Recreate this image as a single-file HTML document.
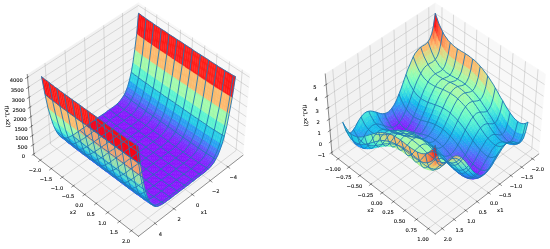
<!DOCTYPE html><html><head><meta charset="utf-8"><title>Six-hump camel function surfaces</title><style>html,body{margin:0;padding:0;background:#fff;width:550px;height:249px;overflow:hidden}svg{display:block}text{stroke:#000;stroke-width:0.32px}</style></head><body><svg width="550" height="249" viewBox="0 0 2200 996" font-family="'DejaVu Sans', 'Liberation Sans', sans-serif" stroke-linejoin="round"><g stroke-width="1.2"><path fill="#ffffff" stroke="#ffffff" d="M0 0l2200 0 0 996-2200 0zM68 4l947 0 0 947-947 0z"/></g><path fill="#f2f2f2" stroke="#f2f2f2" stroke-width="2.15" stroke-linejoin="miter" opacity="0.5" d="M554 334l418 287 27-323-445-287"/><path fill="#e6e6e6" stroke="#e6e6e6" stroke-width="2.15" stroke-linejoin="miter" opacity="0.5" d="M554 334l-418 287-27-323 445-287"/><path fill="#ececec" stroke="#ececec" stroke-width="2.15" stroke-linejoin="miter" opacity="0.5" d="M554 334l-418 287 418 324 418-324"/><path fill="none" stroke="#b0b0b0" stroke-width="1.72" d="M912 668l-418-293-4-323M841 722l-418-298-8-323M769 778l-418-304-13-324M695 835l-418-311-17-323M620 893l-418-317-22-324M581 28l-2 323-418 290M627 58l-4 323-418 294M674 89l-7 323-418 297M722 119l-10 323-418 301M770 150l-13 324-418 304M819 182l-16 323-418 309M868 214l-19 323-418 313M918 246l-22 323-418 317M969 279l-25 323-418 321M136 615l418-288 418 288M133 579l421-288 421 288M130 542l424-288 424 288M126 505l428-288 428 288M123 467l431-288 431 288M120 428l434-287 434 287M117 389l437-287 437 287M113 349l441-287 441 287M110 309l444-287 444 287"/><path fill="none" stroke="#000000" stroke-width="1.72" stroke-linecap="square" d="M972 621l-418 324M908 665l11 8"/><text x="933" y="717" font-size="20.64" text-anchor="middle">−4</text><path fill="none" stroke="#000000" stroke-width="1.72" stroke-linecap="square" d="M838 720l10 8"/><text x="863" y="771" font-size="20.64" text-anchor="middle">−2</text><path fill="none" stroke="#000000" stroke-width="1.72" stroke-linecap="square" d="M766 776l10 7"/><text x="791" y="828" font-size="20.64" text-anchor="middle">0</text><path fill="none" stroke="#000000" stroke-width="1.72" stroke-linecap="square" d="M692 833l11 7"/><text x="717" y="885" font-size="20.64" text-anchor="middle">2</text><path fill="none" stroke="#000000" stroke-width="1.72" stroke-linecap="square" d="M617 891l10 8"/><text x="642" y="943" font-size="20.64" text-anchor="middle">4</text><text x="816" y="854" font-size="20.64" text-anchor="middle">x1</text><path fill="none" stroke="#000000" stroke-width="1.72" stroke-linecap="square" d="M136 621l418 324M165 638l-11 8"/><text x="140" y="689" font-size="20.64" text-anchor="middle">−2.0</text><path fill="none" stroke="#000000" stroke-width="1.72" stroke-linecap="square" d="M208 672l-10 8"/><text x="184" y="723" font-size="20.64" text-anchor="middle">−1.5</text><path fill="none" stroke="#000000" stroke-width="1.72" stroke-linecap="square" d="M253 706l-11 8"/><text x="228" y="758" font-size="20.64" text-anchor="middle">−1.0</text><path fill="none" stroke="#000000" stroke-width="1.72" stroke-linecap="square" d="M297 741l-10 7"/><text x="272" y="792" font-size="20.64" text-anchor="middle">−0.5</text><path fill="none" stroke="#000000" stroke-width="1.72" stroke-linecap="square" d="M342 776l-10 7"/><text x="317" y="828" font-size="20.64" text-anchor="middle">0.0</text><path fill="none" stroke="#000000" stroke-width="1.72" stroke-linecap="square" d="M388 811l-10 8"/><text x="363" y="863" font-size="20.64" text-anchor="middle">0.5</text><path fill="none" stroke="#000000" stroke-width="1.72" stroke-linecap="square" d="M435 847l-11 8"/><text x="409" y="899" font-size="20.64" text-anchor="middle">1.0</text><path fill="none" stroke="#000000" stroke-width="1.72" stroke-linecap="square" d="M482 883l-11 8"/><text x="456" y="936" font-size="20.64" text-anchor="middle">1.5</text><path fill="none" stroke="#000000" stroke-width="1.72" stroke-linecap="square" d="M529 920l-10 8"/><text x="504" y="973" font-size="20.64" text-anchor="middle">2.0</text><text x="292" y="854" font-size="20.64" text-anchor="middle">x2</text><path fill="none" stroke="#000000" stroke-width="1.72" stroke-linecap="square" d="M136 621l-27-323M139 613l-10 7"/><text x="94" y="633" font-size="20.64" text-anchor="middle">0</text><path fill="none" stroke="#000000" stroke-width="1.72" stroke-linecap="square" d="M136 577l-11 7"/><text x="90" y="597" font-size="20.64" text-anchor="middle">500</text><path fill="none" stroke="#000000" stroke-width="1.72" stroke-linecap="square" d="M133 540l-11 7"/><text x="87" y="560" font-size="20.64" text-anchor="middle">1000</text><path fill="none" stroke="#000000" stroke-width="1.72" stroke-linecap="square" d="M130 502l-11 8"/><text x="84" y="523" font-size="20.64" text-anchor="middle">1500</text><path fill="none" stroke="#000000" stroke-width="1.72" stroke-linecap="square" d="M127 464l-11 8"/><text x="80" y="485" font-size="20.64" text-anchor="middle">2000</text><path fill="none" stroke="#000000" stroke-width="1.72" stroke-linecap="square" d="M124 426l-11 7"/><text x="76" y="446" font-size="20.64" text-anchor="middle">2500</text><path fill="none" stroke="#000000" stroke-width="1.72" stroke-linecap="square" d="M120 387l-11 7"/><text x="73" y="407" font-size="20.64" text-anchor="middle">3000</text><path fill="none" stroke="#000000" stroke-width="1.72" stroke-linecap="square" d="M117 347l-11 7"/><text x="69" y="367" font-size="20.64" text-anchor="middle">3500</text><path fill="none" stroke="#000000" stroke-width="1.72" stroke-linecap="square" d="M114 307l-12 7"/><text x="65" y="327" font-size="20.64" text-anchor="middle">4000</text><text x="23" y="467" font-size="20.64" text-anchor="middle" transform="rotate(-274.81 23 467)">f(x1, x2)</text><g stroke-width="1.2" fill-opacity="0.9" stroke-opacity="0.9"><path fill="#6629fe" stroke="#6629fe" d="M497 397l-8 10-7-6 7-10z"/><path fill="#5c38fd" stroke="#5c38fd" d="M504 385l-7 12-8-6 8-12z"/><path fill="#6e1cff" stroke="#6e1cff" d="M489 407l-7 8-7-6 7-8z"/><path fill="#7413ff" stroke="#7413ff" d="M482 415l-7 7-7-6 7-7z"/><path fill="#4a53fb" stroke="#4a53fb" d="M511 369l-7 16-7-6 7-15z"/><path fill="#6826fe" stroke="#6826fe" d="M504 402l-8 10-7-5 8-10z"/><path fill="#5c38fd" stroke="#5c38fd" d="M511 390l-7 12-7-5 7-12z"/><path fill="#7019ff" stroke="#7019ff" d="M496 412l-7 8-7-5 7-8z"/><path fill="#7610ff" stroke="#7610ff" d="M475 422l-7 6-7-6 7-6z"/><path fill="#7413ff" stroke="#7413ff" d="M489 420l-7 7-7-5 7-7z"/><path fill="#4c50fc" stroke="#4c50fc" d="M518 375l-7 15-7-5 7-16z"/><path fill="#6a22fe" stroke="#6a22fe" d="M511 408l-7 10-8-6 8-10z"/><path fill="#5e35fe" stroke="#5e35fe" d="M518 396l-7 12-7-6 7-12z"/><path fill="#7216ff" stroke="#7216ff" d="M504 418l-8 8-7-6 7-8z"/><path fill="#3176f8" stroke="#3176f8" d="M518 350l-7 19-7-5 7-19z"/><path fill="#780dff" stroke="#780dff" d="M468 428l-8 6-7-6 8-6zM482 427l-7 7-7-6 7-6z"/><path fill="#7610ff" stroke="#7610ff" d="M496 426l-7 7-7-6 7-7z"/><path fill="#4c50fc" stroke="#4c50fc" d="M525 381l-7 15-7-6 7-15z"/><path fill="#6a22fe" stroke="#6a22fe" d="M518 413l-7 10-7-5 7-10z"/><path fill="#5e35fe" stroke="#5e35fe" d="M525 401l-7 12-7-5 7-12z"/><path fill="#7216ff" stroke="#7216ff" d="M511 423l-7 8-8-5 8-8z"/><path fill="#3473f8" stroke="#3473f8" d="M525 356l-7 19-7-6 7-19z"/><path fill="#7a09ff" stroke="#7a09ff" d="M475 434l-8 5-7-5 8-6zM460 434l-7 5-7-6 7-5zM489 433l-7 6-7-5 7-7z"/><path fill="#7610ff" stroke="#7610ff" d="M504 431l-8 7-7-5 7-7z"/><path fill="#4e4dfc" stroke="#4e4dfc" d="M532 386l-7 15-7-5 7-15z"/><path fill="#6a22fe" stroke="#6a22fe" d="M525 419l-7 10-7-6 7-10z"/><path fill="#6032fe" stroke="#6032fe" d="M532 407l-7 12-7-6 7-12z"/><path fill="#7216ff" stroke="#7216ff" d="M518 429l-7 8-7-6 7-8z"/><path fill="#3473f8" stroke="#3473f8" d="M532 361l-7 20-7-6 7-19z"/><path fill="#7a09ff" stroke="#7a09ff" d="M482 439l-7 6-8-6 8-5zM467 439l-7 6-7-6 7-5zM496 438l-7 7-7-6 7-6zM453 439l-7 5-7-6 7-5z"/><path fill="#780dff" stroke="#780dff" d="M511 437l-8 7-7-6 8-7z"/><path fill="#11a0f1" stroke="#11a0f1" d="M525 326l-7 24-7-5 7-25z"/><path fill="#4e4dfc" stroke="#4e4dfc" d="M540 391l-8 16-7-6 7-15z"/><path fill="#6c1fff" stroke="#6c1fff" d="M532 424l-7 10-7-5 7-10z"/><path fill="#6032fe" stroke="#6032fe" d="M540 412l-8 12-7-5 7-12z"/><path fill="#7413ff" stroke="#7413ff" d="M525 434l-7 8-7-5 7-8z"/><path fill="#3670f8" stroke="#3670f8" d="M540 367l-8 19-7-5 7-20z"/><path fill="#7c06ff" stroke="#7c06ff" d="M489 445l-7 5-7-5 7-6zM475 445l-8 5-7-5 7-6z"/><path fill="#7a09ff" stroke="#7a09ff" d="M460 445l-7 5-7-6 7-5zM503 444l-7 6-7-5 7-7zM446 444l-8 5-7-6 8-5z"/><path fill="#780dff" stroke="#780dff" d="M518 442l-7 7-8-5 8-7z"/><path fill="#11a0f1" stroke="#11a0f1" d="M532 331l-7 25-7-6 7-24z"/><path fill="#4e4dfc" stroke="#4e4dfc" d="M547 397l-7 15-8-5 8-16z"/><path fill="#6c1fff" stroke="#6c1fff" d="M540 429l-8 10-7-5 7-10z"/><path fill="#6032fe" stroke="#6032fe" d="M547 417l-7 12-8-5 8-12z"/><path fill="#7413ff" stroke="#7413ff" d="M532 439l-7 9-7-6 7-8z"/><path fill="#3670f8" stroke="#3670f8" d="M547 372l-7 19-8-5 8-19z"/><path fill="#7c06ff" stroke="#7c06ff" d="M482 450l-8 6-7-6 8-5zM496 450l-7 6-7-6 7-5zM467 450l-7 5-7-5 7-5zM511 449l-8 6-7-5 7-6z"/><path fill="#7a09ff" stroke="#7a09ff" d="M453 450l-7 5-8-6 8-5zM438 449l-7 5-7-5 7-6z"/><path fill="#149df1" stroke="#149df1" d="M540 337l-8 24-7-5 7-25z"/><path fill="#780dff" stroke="#780dff" d="M525 448l-7 7-7-6 7-7z"/><path fill="#504afc" stroke="#504afc" d="M554 402l-7 15-7-5 7-15z"/><path fill="#6c1fff" stroke="#6c1fff" d="M547 435l-7 10-8-6 8-10z"/><path fill="#6032fe" stroke="#6032fe" d="M554 423l-7 12-7-6 7-12z"/><path fill="#7413ff" stroke="#7413ff" d="M540 445l-8 8-7-5 7-9z"/><path fill="#3670f8" stroke="#3670f8" d="M554 377l-7 20-7-6 7-19z"/><path fill="#7e03ff" stroke="#7e03ff" d="M489 456l-7 5-8-5 8-6z"/><path fill="#7c06ff" stroke="#7c06ff" d="M503 455l-7 6-7-5 7-6zM474 456l-7 5-7-6 7-5zM460 455l-7 5-7-5 7-5zM518 455l-7 6-8-6 8-6zM446 455l-8 5-7-6 7-5z"/><path fill="#7a09ff" stroke="#7a09ff" d="M431 454l-7 5-7-5 7-5z"/><path fill="#149df1" stroke="#149df1" d="M547 342l-7 25-8-6 8-24z"/><path fill="#7a09ff" stroke="#7a09ff" d="M532 453l-7 7-7-5 7-7z"/><path fill="#504afc" stroke="#504afc" d="M561 407l-7 16-7-6 7-15z"/><path fill="#6c1fff" stroke="#6c1fff" d="M554 440l-7 10-7-5 7-10z"/><path fill="#622ffe" stroke="#622ffe" d="M561 428l-7 12-7-5 7-12z"/><path fill="#7413ff" stroke="#7413ff" d="M547 450l-7 8-8-5 8-8z"/><path fill="#386df9" stroke="#386df9" d="M561 383l-7 19-7-5 7-20z"/><path fill="#7e03ff" stroke="#7e03ff" d="M496 461l-7 5-7-5 7-5zM482 461l-8 5-7-5 7-5zM511 461l-8 5-7-5 7-6z"/><path fill="#1dd1e2" stroke="#1dd1e2" d="M532 294l-7 32-7-6 7-31z"/><path fill="#7c06ff" stroke="#7c06ff" d="M467 461l-7 5-7-6 7-5zM525 460l-7 6-7-5 7-6zM453 460l-8 6-7-6 8-5zM438 460l-7 5-7-6 7-5z"/><path fill="#149df1" stroke="#149df1" d="M554 347l-7 25-7-5 7-25z"/><path fill="#7a09ff" stroke="#7a09ff" d="M424 459l-8 6-7-6 8-5zM540 458l-8 7-7-5 7-7z"/><path fill="#504afc" stroke="#504afc" d="M568 413l-7 15-7-5 7-16z"/><path fill="#6e1cff" stroke="#6e1cff" d="M561 445l-7 10-7-5 7-10z"/><path fill="#622ffe" stroke="#622ffe" d="M568 433l-7 12-7-5 7-12z"/><path fill="#7413ff" stroke="#7413ff" d="M554 455l-7 8-7-5 7-8z"/><path fill="#386df9" stroke="#386df9" d="M569 388l-8 19-7-5 7-19z"/><path fill="#1acfe3" stroke="#1acfe3" d="M539 300l-7 31-7-5 7-32z"/><path fill="#7e03ff" stroke="#7e03ff" d="M503 466l-7 6-7-6 7-5zM489 466l-8 6-7-6 8-5zM518 466l-8 6-7-6 8-5zM474 466l-7 5-7-5 7-5z"/><path fill="#7c06ff" stroke="#7c06ff" d="M460 466l-8 5-7-5 8-6zM532 465l-7 6-7-5 7-6zM445 466l-7 5-7-6 7-5z"/><path fill="#169bf2" stroke="#169bf2" d="M561 353l-7 24-7-5 7-25z"/><path fill="#7c06ff" stroke="#7c06ff" d="M431 465l-8 5-7-5 8-6z"/><path fill="#7a09ff" stroke="#7a09ff" d="M416 465l-7 5-7-6 7-5zM547 463l-8 7-7-5 8-7z"/><path fill="#504afc" stroke="#504afc" d="M576 418l-8 15-7-5 7-15z"/><path fill="#6e1cff" stroke="#6e1cff" d="M569 450l-8 10-7-5 7-10z"/><path fill="#622ffe" stroke="#622ffe" d="M576 438l-7 12-8-5 7-12z"/><path fill="#1acfe3" stroke="#1acfe3" d="M547 305l-7 32-8-6 7-31z"/><path fill="#7610ff" stroke="#7610ff" d="M561 460l-7 9-7-6 7-8z"/><path fill="#386df9" stroke="#386df9" d="M576 393l-8 20-7-6 8-19z"/><path fill="#7e03ff" stroke="#7e03ff" d="M510 472l-7 5-7-5 7-6zM496 472l-7 5-8-5 8-6zM525 471l-7 6-8-5 8-6zM481 472l-7 5-7-6 7-5zM467 471l-7 6-8-6 8-5z"/><path fill="#7c06ff" stroke="#7c06ff" d="M452 471l-7 5-7-5 7-5zM539 470l-7 7-7-6 7-6zM438 471l-7 5-8-6 8-5z"/><path fill="#169bf2" stroke="#169bf2" d="M569 358l-8 25-7-6 7-24z"/><path fill="#7c06ff" stroke="#7c06ff" d="M423 470l-7 5-7-5 7-5z"/><path fill="#7a09ff" stroke="#7a09ff" d="M409 470l-7 5-8-6 8-5zM554 469l-7 7-8-6 8-7z"/><path fill="#504afc" stroke="#504afc" d="M583 423l-7 15-8-5 8-15z"/><path fill="#6e1cff" stroke="#6e1cff" d="M576 456l-7 10-8-6 8-10z"/><path fill="#18cde4" stroke="#18cde4" d="M554 311l-7 31-7-5 7-32z"/><path fill="#622ffe" stroke="#622ffe" d="M583 443l-7 13-7-6 7-12z"/><path fill="#7610ff" stroke="#7610ff" d="M569 466l-8 8-7-5 7-9z"/><path fill="#386df9" stroke="#386df9" d="M583 398l-7 20-8-5 8-20z"/><path fill="#8000ff" stroke="#8000ff" d="M518 477l-8 5-7-5 7-5zM503 477l-7 5-7-5 7-5z"/><path fill="#7e03ff" stroke="#7e03ff" d="M489 477l-8 5-7-5 7-5zM532 477l-7 5-7-5 7-6zM474 477l-7 5-7-5 7-6zM460 477l-8 5-7-6 7-5zM547 476l-8 6-7-5 7-7zM445 476l-7 5-7-5 7-5z"/><path fill="#169bf2" stroke="#169bf2" d="M576 363l-7 25-8-5 8-25z"/><path fill="#7c06ff" stroke="#7c06ff" d="M431 476l-8 5-7-6 7-5zM416 475l-7 6-7-6 7-5z"/><path fill="#7a09ff" stroke="#7a09ff" d="M402 475l-8 5-7-6 7-5zM561 474l-7 7-7-5 7-7z"/><path fill="#504afc" stroke="#504afc" d="M590 428l-7 15-7-5 7-15z"/><path fill="#6e1cff" stroke="#6e1cff" d="M583 461l-7 10-7-5 7-10z"/><path fill="#18cde4" stroke="#18cde4" d="M561 316l-7 31-7-5 7-31z"/><path fill="#622ffe" stroke="#622ffe" d="M590 449l-7 12-7-5 7-13z"/><path fill="#386df9" stroke="#386df9" d="M590 404l-7 19-7-5 7-20z"/><path fill="#7610ff" stroke="#7610ff" d="M576 471l-7 8-8-5 8-8z"/><path fill="#8000ff" stroke="#8000ff" d="M510 482l-7 6-7-6 7-5zM525 482l-7 6-8-6 8-5zM496 482l-7 6-8-6 8-5z"/><path fill="#7e03ff" stroke="#7e03ff" d="M539 482l-7 6-7-6 7-5zM481 482l-7 5-7-5 7-5zM467 482l-8 5-7-5 8-5zM452 482l-7 5-7-6 7-5zM554 481l-7 6-8-5 8-6zM438 481l-8 6-7-6 8-5z"/><path fill="#1898f2" stroke="#1898f2" d="M583 369l-7 24-7-5 7-25z"/><path fill="#7c06ff" stroke="#7c06ff" d="M423 481l-7 5-7-5 7-6zM409 481l-8 5-7-6 8-5z"/><path fill="#7a09ff" stroke="#7a09ff" d="M394 480l-7 5-7-5 7-6zM569 479l-8 7-7-5 7-7z"/><path fill="#504afc" stroke="#504afc" d="M598 433l-8 16-7-6 7-15z"/><path fill="#6e1cff" stroke="#6e1cff" d="M590 466l-7 10-7-5 7-10z"/><path fill="#17cbe4" stroke="#17cbe4" d="M569 322l-8 31-7-6 7-31z"/><path fill="#622ffe" stroke="#622ffe" d="M598 454l-8 12-7-5 7-12z"/><path fill="#386df9" stroke="#386df9" d="M598 409l-8 19-7-5 7-19z"/><path fill="#7610ff" stroke="#7610ff" d="M583 476l-7 8-7-5 7-8z"/><path fill="#8000ff" stroke="#8000ff" d="M518 488l-8 5-7-5 7-6zM532 488l-7 5-7-5 7-6z"/><path fill="#56f7ca" stroke="#56f7ca" d="M539 255l-7 39-7-5 7-40z"/><path fill="#8000ff" stroke="#8000ff" d="M503 488l-7 5-7-5 7-6zM489 488l-8 5-7-6 7-5z"/><path fill="#7e03ff" stroke="#7e03ff" d="M547 487l-8 6-7-5 7-6zM474 487l-7 6-8-6 8-5zM459 487l-7 5-7-5 7-5zM445 487l-7 5-8-5 8-6zM561 486l-7 6-7-5 7-6zM430 487l-7 5-7-6 7-5z"/><path fill="#1898f2" stroke="#1898f2" d="M590 374l-7 24-7-5 7-24z"/><path fill="#7c06ff" stroke="#7c06ff" d="M416 486l-8 6-7-6 8-5zM401 486l-7 5-7-6 7-5z"/><path fill="#7a09ff" stroke="#7a09ff" d="M387 485l-8 6-7-6 8-5zM576 484l-7 7-8-5 8-7z"/><path fill="#5247fc" stroke="#5247fc" d="M605 438l-7 16-8-5 8-16z"/><path fill="#17cbe4" stroke="#17cbe4" d="M576 327l-7 31-8-5 8-31z"/><path fill="#6e1cff" stroke="#6e1cff" d="M598 471l-8 10-7-5 7-10z"/><path fill="#54f6cb" stroke="#54f6cb" d="M547 260l-8 40-7-6 7-39z"/><path fill="#622ffe" stroke="#622ffe" d="M605 459l-7 12-8-5 8-12z"/><path fill="#386df9" stroke="#386df9" d="M605 414l-7 19-8-5 8-19z"/><path fill="#8000ff" stroke="#8000ff" d="M525 493l-7 5-8-5 8-5z"/><path fill="#7610ff" stroke="#7610ff" d="M590 481l-7 8-7-5 7-8z"/><path fill="#8000ff" stroke="#8000ff" d="M510 493l-7 5-7-5 7-5zM539 493l-7 5-7-5 7-5zM496 493l-8 5-7-5 8-5zM481 493l-7 5-7-5 7-6zM554 492l-7 6-8-5 8-6z"/><path fill="#7e03ff" stroke="#7e03ff" d="M467 493l-8 5-7-6 7-5zM452 492l-7 6-7-6 7-5zM438 492l-8 5-7-5 7-5zM569 491l-8 7-7-6 7-6zM423 492l-7 5-8-5 8-6z"/><path fill="#1898f2" stroke="#1898f2" d="M598 379l-8 25-7-6 7-24z"/><path fill="#7c06ff" stroke="#7c06ff" d="M408 492l-7 5-7-6 7-5zM394 491l-8 5-7-5 8-6z"/><path fill="#7a09ff" stroke="#7a09ff" d="M583 489l-7 7-7-5 7-7zM379 491l-7 5-7-6 7-5z"/><path fill="#5247fc" stroke="#5247fc" d="M612 444l-7 15-7-5 7-16z"/><path fill="#17cbe4" stroke="#17cbe4" d="M583 332l-7 31-7-5 7-31z"/><path fill="#6e1cff" stroke="#6e1cff" d="M605 476l-7 10-8-5 8-10z"/><path fill="#54f6cb" stroke="#54f6cb" d="M554 266l-7 39-8-5 8-40z"/><path fill="#622ffe" stroke="#622ffe" d="M612 464l-7 12-7-5 7-12z"/><path fill="#396bf9" stroke="#396bf9" d="M612 419l-7 19-7-5 7-19z"/><path fill="#8000ff" stroke="#8000ff" d="M532 498l-7 6-7-6 7-5zM518 498l-8 5-7-5 7-5zM547 498l-8 6-7-6 7-5z"/><path fill="#7610ff" stroke="#7610ff" d="M598 486l-8 9-7-6 7-8z"/><path fill="#8000ff" stroke="#8000ff" d="M503 498l-7 5-8-5 8-5zM488 498l-7 5-7-5 7-5zM474 498l-8 5-7-5 8-5zM561 498l-7 5-7-5 7-6z"/><path fill="#7e03ff" stroke="#7e03ff" d="M459 498l-7 5-7-5 7-6zM445 498l-8 5-7-6 8-5zM430 497l-7 6-7-6 7-5zM576 496l-7 7-8-5 8-7zM416 497l-8 5-7-5 7-5z"/><path fill="#1898f2" stroke="#1898f2" d="M605 384l-7 25-8-5 8-25z"/><path fill="#7c06ff" stroke="#7c06ff" d="M401 497l-8 5-7-6 8-5zM386 496l-7 6-7-6 7-5z"/><path fill="#7a09ff" stroke="#7a09ff" d="M590 495l-7 7-7-6 7-7zM372 496l-8 5-7-6 8-5z"/><path fill="#5247fc" stroke="#5247fc" d="M620 449l-8 15-7-5 7-15z"/><path fill="#17cbe4" stroke="#17cbe4" d="M591 337l-8 32-7-6 7-31z"/><path fill="#52f5cb" stroke="#52f5cb" d="M561 271l-7 40-7-6 7-39z"/><path fill="#6e1cff" stroke="#6e1cff" d="M612 482l-7 10-7-6 7-10z"/><path fill="#622ffe" stroke="#622ffe" d="M620 469l-8 13-7-6 7-12z"/><path fill="#396bf9" stroke="#396bf9" d="M620 424l-8 20-7-6 7-19z"/><path fill="#8000ff" stroke="#8000ff" d="M539 504l-7 5-7-5 7-6zM525 504l-8 5-7-6 8-5zM510 503l-7 6-7-6 7-5zM554 503l-7 6-8-5 8-6z"/><path fill="#7610ff" stroke="#7610ff" d="M605 492l-7 8-8-5 8-9z"/><path fill="#8000ff" stroke="#8000ff" d="M496 503l-8 6-7-6 7-5zM481 503l-7 6-8-6 8-5zM466 503l-7 5-7-5 7-5zM569 503l-8 6-7-6 7-5zM452 503l-8 5-7-5 8-5z"/><path fill="#7e03ff" stroke="#7e03ff" d="M437 503l-7 5-7-5 7-6zM423 503l-8 5-7-6 8-5zM583 502l-7 6-7-5 7-7z"/><path fill="#1898f2" stroke="#1898f2" d="M612 389l-7 25-7-5 7-25z"/><path fill="#7e03ff" stroke="#7e03ff" d="M408 502l-7 6-8-6 8-5z"/><path fill="#7c06ff" stroke="#7c06ff" d="M393 502l-7 5-7-5 7-6zM379 502l-8 5-7-6 8-5z"/><path fill="#7a09ff" stroke="#7a09ff" d="M598 500l-7 7-8-5 7-7zM364 501l-7 5-7-6 7-5z"/><path fill="#5247fc" stroke="#5247fc" d="M627 454l-7 15-8-5 8-15z"/><path fill="#52f5cb" stroke="#52f5cb" d="M569 276l-8 40-7-5 7-40z"/><path fill="#17cbe4" stroke="#17cbe4" d="M598 342l-8 32-7-5 8-32z"/><path fill="#6e1cff" stroke="#6e1cff" d="M620 487l-8 10-7-5 7-10z"/><path fill="#622ffe" stroke="#622ffe" d="M627 474l-7 13-8-5 8-13z"/><path fill="#8000ff" stroke="#8000ff" d="M532 509l-7 5-8-5 8-5zM547 509l-8 5-7-5 7-5z"/><path fill="#396bf9" stroke="#396bf9" d="M627 429l-7 20-8-5 8-20z"/><path fill="#8000ff" stroke="#8000ff" d="M517 509l-7 5-7-5 7-6zM503 509l-7 5-8-5 8-6zM561 509l-7 5-7-5 7-6z"/><path fill="#7610ff" stroke="#7610ff" d="M612 497l-7 8-7-5 7-8z"/><path fill="#8000ff" stroke="#8000ff" d="M488 509l-7 5-7-5 7-6zM474 509l-8 5-7-6 7-5zM459 508l-7 6-8-6 8-5zM576 508l-7 6-8-5 8-6zM444 508l-7 6-7-6 7-5z"/><path fill="#7e03ff" stroke="#7e03ff" d="M430 508l-8 5-7-5 8-5zM415 508l-7 5-7-5 7-6z"/><path fill="#1898f2" stroke="#1898f2" d="M620 394l-8 25-7-5 7-25z"/><path fill="#7e03ff" stroke="#7e03ff" d="M591 507l-8 6-7-5 7-6zM401 508l-8 5-7-6 7-5z"/><path fill="#7c06ff" stroke="#7c06ff" d="M386 507l-7 5-8-5 8-5zM371 507l-7 5-7-6 7-5z"/><path fill="#7a09ff" stroke="#7a09ff" d="M605 505l-7 7-7-5 7-7zM357 506l-8 5-7-5 8-6z"/><path fill="#52f5cb" stroke="#52f5cb" d="M576 282l-7 40-8-6 8-40z"/><path fill="#5247fc" stroke="#5247fc" d="M634 459l-7 15-7-5 7-15z"/><path fill="#14cae5" stroke="#14cae5" d="M605 348l-7 31-8-5 8-32z"/><path fill="#6e1cff" stroke="#6e1cff" d="M627 492l-7 10-8-5 8-10z"/><path fill="#622ffe" stroke="#622ffe" d="M634 480l-7 12-7-5 7-13z"/><path fill="#8000ff" stroke="#8000ff" d="M539 514l-7 5-7-5 7-5zM554 514l-7 5-8-5 8-5z"/><path fill="#396bf9" stroke="#396bf9" d="M635 435l-8 19-7-5 7-20z"/><path fill="#8000ff" stroke="#8000ff" d="M525 514l-8 5-7-5 7-5zM510 514l-7 5-7-5 7-5zM496 514l-8 5-7-5 7-5zM569 514l-8 5-7-5 7-5zM481 514l-7 5-8-5 8-5z"/><path fill="#7610ff" stroke="#7610ff" d="M620 502l-7 8-8-5 7-8z"/><path fill="#8000ff" stroke="#8000ff" d="M466 514l-7 5-7-5 7-6zM452 514l-8 5-7-5 7-6zM437 514l-7 5-8-6 8-5zM583 513l-7 6-7-5 7-6z"/><path fill="#7e03ff" stroke="#7e03ff" d="M422 513l-7 6-7-6 7-5zM408 513l-8 5-7-5 8-5z"/><path fill="#1898f2" stroke="#1898f2" d="M627 400l-7 24-8-5 8-25z"/><path fill="#7e03ff" stroke="#7e03ff" d="M598 512l-7 6-8-5 8-6zM393 513l-7 5-7-6 7-5z"/><path fill="#7c06ff" stroke="#7c06ff" d="M379 512l-8 6-7-6 7-5zM364 512l-8 5-7-6 8-5z"/><path fill="#7a09ff" stroke="#7a09ff" d="M613 510l-8 7-7-5 7-7zM349 511l-7 6-7-6 7-5z"/><path fill="#50f4cc" stroke="#50f4cc" d="M583 287l-7 40-7-5 7-40z"/><path fill="#5247fc" stroke="#5247fc" d="M642 464l-8 16-7-6 7-15z"/><path fill="#14cae5" stroke="#14cae5" d="M613 353l-8 31-7-5 7-31z"/><path fill="#6e1cff" stroke="#6e1cff" d="M634 497l-7 10-7-5 7-10z"/><path fill="#622ffe" stroke="#622ffe" d="M642 485l-8 12-7-5 7-12z"/><path fill="#8000ff" stroke="#8000ff" d="M547 519l-8 6-7-6 7-5zM532 519l-7 6-8-6 8-5zM561 519l-7 6-7-6 7-5z"/><path fill="#396bf9" stroke="#396bf9" d="M642 440l-8 19-7-5 8-19z"/><path fill="#8000ff" stroke="#8000ff" d="M517 519l-7 5-7-5 7-5zM503 519l-8 5-7-5 8-5zM488 519l-7 5-7-5 7-5zM474 519l-8 5-7-5 7-5zM576 519l-7 5-8-5 8-5zM459 519l-8 5-7-5 8-5z"/><path fill="#7610ff" stroke="#7610ff" d="M627 507l-7 8-7-5 7-8z"/><path fill="#8000ff" stroke="#8000ff" d="M444 519l-7 5-7-5 7-5zM430 519l-8 5-7-5 7-6zM591 518l-8 6-7-5 7-6z"/><path fill="#7e03ff" stroke="#7e03ff" d="M415 519l-7 5-8-6 8-5zM400 518l-7 6-7-6 7-5z"/><path fill="#1898f2" stroke="#1898f2" d="M635 405l-8 24-7-5 7-24z"/><path fill="#7e03ff" stroke="#7e03ff" d="M605 517l-7 7-7-6 7-6zM386 518l-8 5-7-5 8-6z"/><path fill="#7c06ff" stroke="#7c06ff" d="M371 518l-7 5-8-6 8-5zM356 517l-7 5-7-5 7-6z"/><path fill="#50f4cc" stroke="#50f4cc" d="M591 292l-8 40-7-5 7-40z"/><path fill="#7a09ff" stroke="#7a09ff" d="M620 515l-7 8-8-6 8-7zM342 517l-8 5-7-6 8-5z"/><path fill="#a2f9a0" stroke="#a2f9a0" d="M547 204l-8 51-7-6 7-51z"/><path fill="#5247fc" stroke="#5247fc" d="M649 469l-7 16-8-5 8-16z"/><path fill="#14cae5" stroke="#14cae5" d="M620 358l-8 31-7-5 8-31z"/><path fill="#6e1cff" stroke="#6e1cff" d="M642 502l-7 10-8-5 7-10z"/><path fill="#622ffe" stroke="#622ffe" d="M649 490l-7 12-8-5 8-12z"/><path fill="#8000ff" stroke="#8000ff" d="M554 525l-7 5-8-5 8-6zM539 525l-7 5-7-5 7-6zM569 524l-8 6-7-5 7-6zM525 525l-8 5-7-6 7-5z"/><path fill="#396bf9" stroke="#396bf9" d="M649 445l-7 19-8-5 8-19z"/><path fill="#8000ff" stroke="#8000ff" d="M510 524l-7 6-8-6 8-5zM495 524l-7 6-7-6 7-5zM481 524l-8 6-7-6 8-5zM466 524l-7 6-8-6 8-5zM583 524l-7 6-7-6 7-5zM451 524l-7 6-7-6 7-5z"/><path fill="#7610ff" stroke="#7610ff" d="M635 512l-8 9-7-6 7-8z"/><path fill="#8000ff" stroke="#8000ff" d="M437 524l-8 6-7-6 8-5zM422 524l-7 5-7-5 7-5zM598 524l-7 5-8-5 8-6z"/><path fill="#7e03ff" stroke="#7e03ff" d="M408 524l-8 5-7-5 7-6zM393 524l-8 5-7-6 8-5z"/><path fill="#1898f2" stroke="#1898f2" d="M642 410l-7 25-8-6 8-24z"/><path fill="#7e03ff" stroke="#7e03ff" d="M613 523l-8 6-7-5 7-7zM378 523l-7 5-7-5 7-5z"/><path fill="#7c06ff" stroke="#7c06ff" d="M364 523l-8 5-7-6 7-5z"/><path fill="#a0faa1" stroke="#a0faa1" d="M554 209l-7 51-8-5 8-51z"/><path fill="#7c06ff" stroke="#7c06ff" d="M349 522l-8 6-7-6 8-5z"/><path fill="#50f4cc" stroke="#50f4cc" d="M598 297l-7 40-8-5 8-40z"/><path fill="#7a09ff" stroke="#7a09ff" d="M627 521l-7 7-7-5 7-8zM334 522l-7 5-7-6 7-5z"/><path fill="#14cae5" stroke="#14cae5" d="M627 363l-7 31-8-5 8-31z"/><path fill="#5247fc" stroke="#5247fc" d="M657 475l-8 15-7-5 7-16z"/><path fill="#6e1cff" stroke="#6e1cff" d="M649 508l-7 10-7-6 7-10z"/><path fill="#622ffe" stroke="#622ffe" d="M657 495l-8 13-7-6 7-12z"/><path fill="#8000ff" stroke="#8000ff" d="M561 530l-7 5-7-5 7-5zM547 530l-8 5-7-5 7-5zM488 530l-7 5-8-5 8-6zM503 530l-8 5-7-5 7-6zM532 530l-7 5-8-5 8-5zM517 530l-7 5-7-5 7-6zM473 530l-7 5-7-5 7-6zM576 530l-7 5-8-5 8-6z"/><path fill="#396bf9" stroke="#396bf9" d="M657 450l-8 19-7-5 7-19z"/><path fill="#8000ff" stroke="#8000ff" d="M459 530l-8 5-7-5 7-6zM444 530l-7 5-8-5 8-6zM591 529l-8 6-7-5 7-6z"/><path fill="#7610ff" stroke="#7610ff" d="M642 518l-7 8-8-5 8-9z"/><path fill="#8000ff" stroke="#8000ff" d="M429 530l-7 5-7-6 7-5zM415 529l-8 6-7-6 8-5zM605 529l-7 6-7-6 7-5z"/><path fill="#7e03ff" stroke="#7e03ff" d="M400 529l-7 5-8-5 8-5zM385 529l-7 5-7-6 7-5z"/><path fill="#1898f2" stroke="#1898f2" d="M649 415l-7 25-7-5 7-25z"/><path fill="#7e03ff" stroke="#7e03ff" d="M620 528l-7 6-8-5 8-6zM371 528l-8 6-7-6 8-5z"/><path fill="#a0faa1" stroke="#a0faa1" d="M561 215l-7 51-7-6 7-51z"/><path fill="#7c06ff" stroke="#7c06ff" d="M356 528l-8 5-7-5 8-6zM341 528l-7 5-7-6 7-5z"/><path fill="#50f4cc" stroke="#50f4cc" d="M606 303l-8 39-7-5 7-40z"/><path fill="#7a09ff" stroke="#7a09ff" d="M635 526l-8 7-7-5 7-7zM327 527l-8 5-7-5 8-6z"/><path fill="#14cae5" stroke="#14cae5" d="M635 368l-8 32-7-6 7-31z"/><path fill="#5247fc" stroke="#5247fc" d="M664 480l-7 15-8-5 8-15z"/><path fill="#6e1cff" stroke="#6e1cff" d="M657 513l-8 10-7-5 7-10z"/><path fill="#622ffe" stroke="#622ffe" d="M664 501l-7 12-8-5 8-13z"/><path fill="#8000ff" stroke="#8000ff" d="M481 535l-8 5-7-5 7-5zM495 535l-7 5-7-5 7-5zM510 535l-7 5-8-5 8-5zM466 535l-7 5-8-5 8-5zM569 535l-8 5-7-5 7-5zM525 535l-8 5-7-5 7-5zM554 535l-7 5-8-5 8-5zM539 535l-7 5-7-5 7-5zM583 535l-7 5-7-5 7-5z"/><path fill="#396bf9" stroke="#396bf9" d="M664 455l-7 20-8-6 8-19z"/><path fill="#8000ff" stroke="#8000ff" d="M451 535l-7 5-7-5 7-5zM437 535l-8 5-7-5 7-5zM598 535l-7 5-8-5 8-6z"/><path fill="#7610ff" stroke="#7610ff" d="M649 523l-7 8-7-5 7-8z"/><path fill="#8000ff" stroke="#8000ff" d="M422 535l-8 5-7-5 8-6zM407 535l-7 5-7-6 7-5zM613 534l-8 6-7-5 7-6z"/><path fill="#7e03ff" stroke="#7e03ff" d="M393 534l-8 6-7-6 7-5zM378 534l-8 5-7-5 8-6z"/><path fill="#1898f2" stroke="#1898f2" d="M657 420l-8 25-7-5 7-25z"/><path fill="#7e03ff" stroke="#7e03ff" d="M627 533l-7 6-7-5 7-6z"/><path fill="#9efaa2" stroke="#9efaa2" d="M569 220l-8 51-7-5 7-51z"/><path fill="#7e03ff" stroke="#7e03ff" d="M363 534l-7 5-8-6 8-5z"/><path fill="#7c06ff" stroke="#7c06ff" d="M348 533l-7 6-7-6 7-5z"/><path fill="#50f4cc" stroke="#50f4cc" d="M613 308l-8 40-7-6 8-39z"/><path fill="#7c06ff" stroke="#7c06ff" d="M334 533l-8 5-7-6 8-5z"/><path fill="#7a09ff" stroke="#7a09ff" d="M642 531l-7 7-8-5 8-7zM319 532l-8 6-7-6 8-5z"/><path fill="#14cae5" stroke="#14cae5" d="M642 373l-7 32-8-5 8-32z"/><path fill="#5247fc" stroke="#5247fc" d="M672 485l-8 16-7-6 7-15z"/><path fill="#6e1cff" stroke="#6e1cff" d="M664 518l-7 10-8-5 8-10z"/><path fill="#622ffe" stroke="#622ffe" d="M672 506l-8 12-7-5 7-12z"/><path fill="#8000ff" stroke="#8000ff" d="M488 540l-8 6-7-6 8-5zM473 540l-7 6-7-6 7-5zM503 540l-8 6-7-6 7-5zM517 540l-7 6-7-6 7-5zM459 540l-8 6-7-6 7-5zM532 540l-7 6-8-6 8-5zM561 540l-7 6-7-6 7-5zM576 540l-7 6-8-6 8-5zM547 540l-8 6-7-6 7-5z"/><path fill="#396bf9" stroke="#396bf9" d="M672 460l-8 20-7-5 7-20z"/><path fill="#8000ff" stroke="#8000ff" d="M591 540l-8 6-7-6 7-5zM444 540l-8 6-7-6 8-5zM429 540l-7 5-8-5 8-5zM605 540l-7 6-7-6 7-5z"/><path fill="#7610ff" stroke="#7610ff" d="M657 528l-7 8-8-5 7-8z"/><path fill="#8000ff" stroke="#8000ff" d="M414 540l-7 5-7-5 7-5zM620 539l-7 6-8-5 8-6zM400 540l-8 5-7-5 8-6z"/><path fill="#7e03ff" stroke="#7e03ff" d="M385 540l-7 5-8-6 8-5z"/><path fill="#9efaa2" stroke="#9efaa2" d="M576 226l-7 50-8-5 8-51z"/><path fill="#7e03ff" stroke="#7e03ff" d="M370 539l-7 6-7-6 7-5z"/><path fill="#1898f2" stroke="#1898f2" d="M664 425l-7 25-8-5 8-25z"/><path fill="#7e03ff" stroke="#7e03ff" d="M635 538l-7 7-8-6 7-6zM356 539l-8 5-7-5 7-6z"/><path fill="#7c06ff" stroke="#7c06ff" d="M341 539l-8 5-7-6 8-5z"/><path fill="#50f4cc" stroke="#50f4cc" d="M620 313l-7 40-8-5 8-40z"/><path fill="#7c06ff" stroke="#7c06ff" d="M326 538l-7 5-8-5 8-6z"/><path fill="#7a09ff" stroke="#7a09ff" d="M650 536l-8 8-7-6 7-7zM311 538l-7 5-7-6 7-5z"/><path fill="#14cae5" stroke="#14cae5" d="M650 378l-8 32-7-5 7-32z"/><path fill="#5247fc" stroke="#5247fc" d="M679 490l-7 16-8-5 8-16z"/><path fill="#6e1cff" stroke="#6e1cff" d="M672 523l-8 10-7-5 7-10z"/><path fill="#622ffe" stroke="#622ffe" d="M679 511l-7 12-8-5 8-12z"/><path fill="#8000ff" stroke="#8000ff" d="M480 546l-7 5-7-5 7-6zM495 546l-7 5-8-5 8-6zM466 546l-8 5-7-5 8-6zM510 546l-8 5-7-5 8-6zM525 546l-8 5-7-5 7-6zM451 546l-7 5-8-5 8-6zM539 546l-7 5-7-5 7-6zM554 546l-7 5-8-5 8-6zM569 546l-8 5-7-5 7-6zM583 546l-7 5-7-5 7-6z"/><path fill="#396bf9" stroke="#396bf9" d="M679 466l-7 19-8-5 8-20z"/><path fill="#8000ff" stroke="#8000ff" d="M598 546l-7 5-8-5 8-6zM436 546l-7 5-7-6 7-5zM613 545l-7 6-8-5 7-6zM422 545l-8 6-7-6 7-5z"/><path fill="#7610ff" stroke="#7610ff" d="M664 533l-7 9-7-6 7-8z"/><path fill="#8000ff" stroke="#8000ff" d="M407 545l-8 6-7-6 8-5zM628 545l-8 6-7-6 7-6zM392 545l-7 5-7-5 7-5z"/><path fill="#9efaa2" stroke="#9efaa2" d="M584 231l-8 51-7-6 7-50z"/><path fill="#7e03ff" stroke="#7e03ff" d="M378 545l-8 5-7-5 7-6zM363 545l-8 5-7-6 8-5z"/><path fill="#1898f2" stroke="#1898f2" d="M672 431l-8 24-7-5 7-25z"/><path fill="#7e03ff" stroke="#7e03ff" d="M642 544l-7 6-7-5 7-7zM348 544l-7 6-8-6 8-5z"/><path fill="#7c06ff" stroke="#7c06ff" d="M333 544l-7 5-7-6 7-5z"/><path fill="#50f4cc" stroke="#50f4cc" d="M628 318l-8 40-7-5 7-40z"/><path fill="#7c06ff" stroke="#7c06ff" d="M319 543l-8 6-7-6 7-5z"/><path fill="#7a09ff" stroke="#7a09ff" d="M657 542l-7 7-8-5 8-8z"/><path fill="#14cae5" stroke="#14cae5" d="M657 384l-8 31-7-5 8-32z"/><path fill="#5247fc" stroke="#5247fc" d="M687 496l-8 15-7-5 7-16z"/><path fill="#7a09ff" stroke="#7a09ff" d="M304 543l-8 4-7-5 8-5z"/><path fill="#6e1cff" stroke="#6e1cff" d="M679 529l-7 10-8-6 8-10z"/><path fill="#622ffe" stroke="#622ffe" d="M687 516l-8 13-7-6 7-12z"/><path fill="#8000ff" stroke="#8000ff" d="M488 551l-8 5-7-5 7-5zM473 551l-7 5-8-5 8-5zM502 551l-7 5-7-5 7-5zM458 551l-7 5-7-5 7-5zM517 551l-7 5-8-5 8-5zM532 551l-7 5-8-5 8-5zM444 551l-8 5-7-5 7-5zM547 551l-8 5-7-5 7-5zM561 551l-7 5-7-5 7-5z"/><path fill="#396bf9" stroke="#396bf9" d="M687 471l-8 19-7-5 7-19z"/><path fill="#8000ff" stroke="#8000ff" d="M591 551l-8 5-7-5 7-5zM576 551l-7 5-8-5 8-5zM606 551l-8 5-7-5 7-5zM429 551l-8 5-7-5 8-6zM620 551l-7 5-7-5 7-6z"/><path fill="#7610ff" stroke="#7610ff" d="M672 539l-8 8-7-5 7-9z"/><path fill="#8000ff" stroke="#8000ff" d="M414 551l-7 5-8-5 8-6zM399 551l-7 5-7-6 7-5z"/><path fill="#9cfba4" stroke="#9cfba4" d="M591 236l-8 51-7-5 8-51z"/><path fill="#8000ff" stroke="#8000ff" d="M635 550l-7 6-8-5 8-6zM385 550l-8 6-7-6 8-5z"/><path fill="#7e03ff" stroke="#7e03ff" d="M370 550l-8 6-7-6 8-5zM355 550l-7 5-7-5 7-6z"/><path fill="#1898f2" stroke="#1898f2" d="M679 436l-7 24-8-5 8-24z"/><path fill="#7e03ff" stroke="#7e03ff" d="M650 549l-8 6-7-5 7-6zM341 550l-8 5-7-6 7-5z"/><path fill="#7c06ff" stroke="#7c06ff" d="M326 549l-8 5-7-5 8-6z"/><path fill="#4ef3cd" stroke="#4ef3cd" d="M635 323l-8 40-7-5 8-40z"/><path fill="#7a09ff" stroke="#7a09ff" d="M311 549l-8 4-7-6 8-4zM664 547l-7 7-7-5 7-7z"/><path fill="#14cae5" stroke="#14cae5" d="M665 389l-8 31-8-5 8-31z"/><path fill="#5247fc" stroke="#5247fc" d="M694 501l-7 15-8-5 8-15z"/><path fill="#6e1cff" stroke="#6e1cff" d="M687 534l-8 10-7-5 7-10z"/><path fill="#780dff" stroke="#780dff" d="M296 547l-7 5-8-6 8-4z"/><path fill="#622ffe" stroke="#622ffe" d="M694 522l-7 12-8-5 8-13z"/><path fill="#8000ff" stroke="#8000ff" d="M480 556l-7 6-7-6 7-5zM495 556l-7 6-8-6 8-5zM466 556l-8 6-7-6 7-5zM510 556l-8 6-7-6 7-5zM525 556l-8 6-7-6 7-5zM451 556l-8 6-7-6 8-5zM539 556l-7 6-7-6 7-5z"/><path fill="#396bf9" stroke="#396bf9" d="M694 476l-7 20-8-6 8-19z"/><path fill="#8000ff" stroke="#8000ff" d="M554 556l-7 6-8-6 8-5zM436 556l-7 6-8-6 8-5zM598 556l-7 5-8-5 8-5zM569 556l-8 5-7-5 7-5zM583 556l-7 5-7-5 7-5zM613 556l-7 5-8-5 8-5zM421 556l-7 5-7-5 7-5z"/><path fill="#9cfba4" stroke="#9cfba4" d="M598 241l-7 51-8-5 8-51z"/><path fill="#8000ff" stroke="#8000ff" d="M628 556l-8 5-7-5 7-5z"/><path fill="#7610ff" stroke="#7610ff" d="M679 544l-7 8-8-5 8-8z"/><path fill="#8000ff" stroke="#8000ff" d="M407 556l-8 5-7-5 7-5zM392 556l-8 5-7-5 8-6zM642 555l-7 6-7-5 7-6zM377 556l-7 5-8-5 8-6z"/><path fill="#7e03ff" stroke="#7e03ff" d="M362 556l-7 5-7-6 7-5zM348 555l-8 6-7-6 8-5z"/><path fill="#1898f2" stroke="#1898f2" d="M687 441l-8 25-7-6 7-24z"/><path fill="#7e03ff" stroke="#7e03ff" d="M657 554l-7 7-8-6 8-6zM333 555l-8 5-7-6 8-5z"/><path fill="#4ef3cd" stroke="#4ef3cd" d="M643 328l-8 40-8-5 8-40z"/><path fill="#7c06ff" stroke="#7c06ff" d="M318 554l-7 5-8-6 8-4z"/><path fill="#7a09ff" stroke="#7a09ff" d="M672 552l-7 8-8-6 7-7z"/><path fill="#14cae5" stroke="#14cae5" d="M672 394l-8 31-7-5 8-31z"/><path fill="#5247fc" stroke="#5247fc" d="M702 506l-8 16-7-6 7-15z"/><path fill="#7a09ff" stroke="#7a09ff" d="M303 553l-7 5-7-6 7-5z"/><path fill="#6e1cff" stroke="#6e1cff" d="M694 539l-7 10-8-5 8-10z"/><path fill="#622ffe" stroke="#622ffe" d="M702 527l-8 12-7-5 7-12z"/><path fill="#8000ff" stroke="#8000ff" d="M488 562l-8 5-7-5 7-6zM502 562l-7 5-7-5 7-6zM473 562l-8 5-7-5 8-6zM517 562l-7 5-8-5 8-6zM458 562l-7 5-8-5 8-6zM532 562l-8 5-7-5 8-6zM443 562l-7 5-7-5 7-6zM547 562l-8 5-7-5 7-6z"/><path fill="#396bf9" stroke="#396bf9" d="M702 481l-8 20-7-5 7-20z"/><path fill="#8000ff" stroke="#8000ff" d="M561 561l-7 6-7-5 7-6z"/><path fill="#9cfba4" stroke="#9cfba4" d="M606 247l-8 50-7-5 7-51z"/><path fill="#8000ff" stroke="#8000ff" d="M606 561l-8 6-7-6 7-5zM591 561l-7 6-8-6 7-5zM576 561l-7 6-8-6 8-5zM429 562l-8 5-7-6 7-5zM620 561l-7 6-7-6 7-5zM414 561l-8 6-7-6 8-5z"/><path fill="#7610ff" stroke="#7610ff" d="M687 549l-8 9-7-6 7-8z"/><path fill="#8000ff" stroke="#8000ff" d="M635 561l-7 6-8-6 8-5zM399 561l-7 6-8-6 8-5zM384 561l-7 6-7-6 7-5z"/><path fill="#7610ff" stroke="#7610ff" d="M289 552l-8 3-7-6 7-3z"/><path fill="#8000ff" stroke="#8000ff" d="M370 561l-8 5-7-5 7-5zM650 561l-7 6-8-6 7-6z"/><path fill="#7e03ff" stroke="#7e03ff" d="M355 561l-8 5-7-5 8-6zM340 561l-8 5-7-6 8-5z"/><path fill="#1898f2" stroke="#1898f2" d="M694 446l-7 25-8-5 8-25z"/><path fill="#7e03ff" stroke="#7e03ff" d="M665 560l-8 6-7-5 7-7z"/><path fill="#7c06ff" stroke="#7c06ff" d="M325 560l-7 5-7-6 7-5z"/><path fill="#4ef3cd" stroke="#4ef3cd" d="M650 333l-8 40-7-5 8-40z"/><path fill="#7a09ff" stroke="#7a09ff" d="M679 558l-7 7-7-5 7-8z"/><path fill="#14cae5" stroke="#14cae5" d="M680 399l-8 32-8-6 8-31z"/><path fill="#7a09ff" stroke="#7a09ff" d="M311 559l-8 4-7-5 7-5z"/><path fill="#5247fc" stroke="#5247fc" d="M709 511l-7 16-8-5 8-16z"/><path fill="#6e1cff" stroke="#6e1cff" d="M702 545l-8 10-7-6 7-10z"/><path fill="#622ffe" stroke="#622ffe" d="M709 532l-7 13-8-6 8-12z"/><path fill="#8000ff" stroke="#8000ff" d="M495 567l-8 5-7-5 8-5zM480 567l-7 5-8-5 8-5zM510 567l-8 5-7-5 7-5zM465 567l-7 5-7-5 7-5z"/><path fill="#9cfba4" stroke="#9cfba4" d="M613 252l-7 51-8-6 8-50z"/><path fill="#8000ff" stroke="#8000ff" d="M524 567l-7 5-7-5 7-5zM451 567l-8 5-7-5 7-5zM539 567l-7 5-8-5 8-5z"/><path fill="#396bf9" stroke="#396bf9" d="M709 487l-7 19-8-5 8-20z"/><path fill="#8000ff" stroke="#8000ff" d="M436 567l-8 5-7-5 8-5zM554 567l-7 5-8-5 8-5z"/><path fill="#7610ff" stroke="#7610ff" d="M296 558l-8 3-7-6 8-3z"/><path fill="#8000ff" stroke="#8000ff" d="M569 567l-8 5-7-5 7-6zM613 567l-7 5-8-5 8-6zM598 567l-7 5-7-5 7-6zM584 567l-8 5-7-5 7-6zM628 567l-7 5-8-5 7-6zM421 567l-7 5-8-5 8-6zM406 567l-7 5-7-5 7-6z"/><path fill="#7610ff" stroke="#7610ff" d="M694 555l-7 8-8-5 8-9z"/><path fill="#8000ff" stroke="#8000ff" d="M643 567l-8 5-7-5 7-6zM392 567l-8 5-7-5 7-6zM377 567l-8 5-7-6 8-5zM657 566l-7 6-7-5 7-6zM362 566l-8 6-7-6 8-5z"/><path fill="#7e03ff" stroke="#7e03ff" d="M347 566l-7 5-8-5 8-5z"/><path fill="#ffae5e" stroke="#ffae5e" d="M554 140l-7 64-8-6 8-64z"/><path fill="#1898f2" stroke="#1898f2" d="M702 451l-8 25-7-5 7-25z"/><path fill="#7e03ff" stroke="#7e03ff" d="M672 565l-7 6-8-5 8-6zM332 566l-7 4-7-5 7-5z"/><path fill="#4ef3cd" stroke="#4ef3cd" d="M658 339l-8 39-8-5 8-40z"/><path fill="#7c06ff" stroke="#7c06ff" d="M318 565l-8 4-7-6 8-4zM687 563l-7 7-8-5 7-7z"/><path fill="#7019ff" stroke="#7019ff" d="M281 555l-8 2-7-5 8-3z"/><path fill="#14cae5" stroke="#14cae5" d="M687 404l-8 32-7-5 8-32z"/><path fill="#5247fc" stroke="#5247fc" d="M717 517l-8 15-7-5 7-16z"/><path fill="#6e1cff" stroke="#6e1cff" d="M709 550l-7 10-8-5 8-10z"/><path fill="#780dff" stroke="#780dff" d="M303 563l-8 4-7-6 8-3z"/><path fill="#622ffe" stroke="#622ffe" d="M717 538l-8 12-7-5 7-13z"/><path fill="#9cfba4" stroke="#9cfba4" d="M621 257l-8 51-7-5 7-51z"/><path fill="#8000ff" stroke="#8000ff" d="M487 572l-7 6-7-6 7-5zM502 572l-7 6-8-6 8-5zM473 572l-8 6-7-6 7-5zM517 572l-7 6-8-6 8-5zM458 572l-8 6-7-6 8-5zM532 572l-8 6-7-6 7-5z"/><path fill="#396bf9" stroke="#396bf9" d="M717 492l-8 19-7-5 7-19z"/><path fill="#8000ff" stroke="#8000ff" d="M443 572l-7 6-8-6 8-5zM547 572l-8 6-7-6 7-5zM561 572l-7 6-7-6 7-5zM428 572l-7 6-7-6 7-5zM621 572l-8 5-7-5 7-5zM576 572l-7 5-8-5 8-5zM606 572l-8 5-7-5 7-5zM635 572l-7 5-7-5 7-5zM591 572l-7 5-8-5 8-5zM414 572l-8 5-7-5 7-5zM399 572l-8 5-7-5 8-5z"/><path fill="#7610ff" stroke="#7610ff" d="M702 560l-7 8-8-5 7-8z"/><path fill="#8000ff" stroke="#8000ff" d="M650 572l-7 5-8-5 8-5zM384 572l-8 5-7-5 8-5zM369 572l-7 5-8-5 8-6z"/><path fill="#ffb05f" stroke="#ffb05f" d="M561 145l-7 64-7-5 7-64z"/><path fill="#8000ff" stroke="#8000ff" d="M665 571l-7 6-8-5 7-6zM354 572l-7 5-7-6 7-5z"/><path fill="#1898f2" stroke="#1898f2" d="M710 457l-8 24-8-5 8-25z"/><path fill="#7e03ff" stroke="#7e03ff" d="M680 570l-8 7-7-6 7-6zM340 571l-8 5-7-6 7-4z"/><path fill="#4ef3cd" stroke="#4ef3cd" d="M665 344l-8 40-7-6 8-39z"/><path fill="#7c06ff" stroke="#7c06ff" d="M325 570l-8 5-7-6 8-4z"/><path fill="#7216ff" stroke="#7216ff" d="M288 561l-8 2-7-6 8-2z"/><path fill="#7c06ff" stroke="#7c06ff" d="M695 568l-8 8-7-6 7-7z"/><path fill="#14cae5" stroke="#14cae5" d="M695 409l-8 32-8-5 8-32z"/><path fill="#5247fc" stroke="#5247fc" d="M724 522l-7 16-8-6 8-15z"/><path fill="#6e1cff" stroke="#6e1cff" d="M717 555l-8 10-7-5 7-10z"/><path fill="#780dff" stroke="#780dff" d="M310 569l-8 4-7-6 8-4z"/><path fill="#9cfba4" stroke="#9cfba4" d="M628 262l-8 51-7-5 8-51z"/><path fill="#622ffe" stroke="#622ffe" d="M724 543l-7 12-8-5 8-12z"/><path fill="#8000ff" stroke="#8000ff" d="M495 578l-8 5-7-5 7-6zM510 578l-8 5-7-5 7-6zM480 578l-7 5-8-5 8-6zM524 578l-7 5-7-5 7-6zM465 578l-7 5-8-5 8-6z"/><path fill="#ffb05f" stroke="#ffb05f" d="M569 151l-8 64-7-6 7-64z"/><path fill="#8000ff" stroke="#8000ff" d="M539 578l-7 5-8-5 8-6z"/><path fill="#396bf9" stroke="#396bf9" d="M724 497l-7 20-8-6 8-19z"/><path fill="#8000ff" stroke="#8000ff" d="M450 578l-7 5-7-5 7-6zM554 578l-7 5-8-5 8-6zM436 578l-8 5-7-5 7-6zM421 578l-8 5-7-6 8-5zM569 577l-8 6-7-5 7-6zM628 577l-7 6-8-6 8-5zM643 577l-8 6-7-6 7-5zM613 577l-7 6-8-6 8-5zM406 577l-8 6-7-6 8-5zM584 577l-8 6-7-6 7-5zM598 577l-7 6-7-6 7-5zM391 577l-7 6-8-6 8-5z"/><path fill="#7610ff" stroke="#7610ff" d="M709 565l-7 9-7-6 7-8z"/><path fill="#8000ff" stroke="#8000ff" d="M658 577l-8 6-7-6 7-5zM376 577l-7 6-7-6 7-5zM672 577l-7 6-7-6 7-6zM362 577l-8 5-7-5 7-5z"/><path fill="#7e03ff" stroke="#7e03ff" d="M347 577l-8 5-7-6 8-5z"/><path fill="#1898f2" stroke="#1898f2" d="M717 462l-8 25-7-6 8-24z"/><path fill="#7e03ff" stroke="#7e03ff" d="M687 576l-7 6-8-5 8-7z"/><path fill="#6826fe" stroke="#6826fe" d="M273 557l-8 1-7-6 8 0z"/><path fill="#4ef3cd" stroke="#4ef3cd" d="M673 349l-8 40-8-5 8-40z"/><path fill="#7216ff" stroke="#7216ff" d="M295 567l-8 2-7-6 8-2z"/><path fill="#7c06ff" stroke="#7c06ff" d="M332 576l-8 4-7-5 8-5zM702 574l-7 7-8-5 8-8z"/><path fill="#14cae5" stroke="#14cae5" d="M702 415l-8 31-7-5 8-32z"/><path fill="#5247fc" stroke="#5247fc" d="M732 527l-8 16-7-5 7-16z"/><path fill="#780dff" stroke="#780dff" d="M317 575l-8 3-7-5 8-4z"/><path fill="#6e1cff" stroke="#6e1cff" d="M724 561l-7 10-8-6 8-10z"/><path fill="#ffb360" stroke="#ffb360" d="M576 156l-7 64-8-5 8-64z"/><path fill="#9cfba4" stroke="#9cfba4" d="M636 267l-8 51-8-5 8-51z"/><path fill="#622ffe" stroke="#622ffe" d="M732 548l-8 13-7-6 7-12z"/><path fill="#8000ff" stroke="#8000ff" d="M502 583l-7 5-8-5 8-5zM517 583l-7 5-8-5 8-5zM487 583l-7 5-7-5 7-5zM532 583l-8 5-7-5 7-5zM473 583l-8 5-7-5 7-5z"/><path fill="#396bf9" stroke="#396bf9" d="M732 503l-8 19-7-5 7-20z"/><path fill="#8000ff" stroke="#8000ff" d="M458 583l-8 5-7-5 7-5zM547 583l-8 5-7-5 7-5zM443 583l-8 5-7-5 8-5zM428 583l-7 5-8-5 8-5zM561 583l-7 5-7-5 7-5zM413 583l-7 5-8-5 8-6zM635 583l-7 5-7-5 7-6zM576 583l-7 5-8-5 8-6zM398 583l-7 5-7-5 7-6zM650 583l-7 5-8-5 8-6zM621 583l-8 5-7-5 7-6zM591 583l-7 5-8-5 8-6zM606 583l-8 5-7-5 7-6z"/><path fill="#7610ff" stroke="#7610ff" d="M717 571l-7 8-8-5 7-9z"/><path fill="#8000ff" stroke="#8000ff" d="M384 583l-8 5-7-5 7-6zM665 583l-7 5-8-5 8-6zM369 583l-8 5-7-6 8-5zM680 582l-7 6-8-5 7-6z"/><path fill="#7e03ff" stroke="#7e03ff" d="M354 582l-8 5-7-5 8-5z"/><path fill="#1898f2" stroke="#1898f2" d="M725 467l-8 25-8-5 8-25z"/><path fill="#6a22fe" stroke="#6a22fe" d="M280 563l-8 1-7-6 8-1z"/><path fill="#7e03ff" stroke="#7e03ff" d="M695 581l-8 6-7-5 7-6z"/><path fill="#7413ff" stroke="#7413ff" d="M302 573l-8 2-7-6 8-2z"/><path fill="#7c06ff" stroke="#7c06ff" d="M339 582l-7 4-8-6 8-4z"/><path fill="#4ef3cd" stroke="#4ef3cd" d="M680 354l-8 40-7-5 8-40z"/><path fill="#7c06ff" stroke="#7c06ff" d="M710 579l-8 7-7-5 7-7z"/><path fill="#5247fc" stroke="#5247fc" d="M739 533l-7 15-8-5 8-16z"/><path fill="#14cae5" stroke="#14cae5" d="M710 420l-8 31-8-5 8-31z"/><path fill="#7a09ff" stroke="#7a09ff" d="M324 580l-7 4-8-6 8-3z"/><path fill="#6e1cff" stroke="#6e1cff" d="M732 566l-7 10-8-5 7-10z"/><path fill="#ffb360" stroke="#ffb360" d="M584 161l-8 65-7-6 7-64z"/><path fill="#9cfba4" stroke="#9cfba4" d="M643 272l-8 51-7-5 8-51z"/><path fill="#622ffe" stroke="#622ffe" d="M739 554l-7 12-8-5 8-13z"/><path fill="#8000ff" stroke="#8000ff" d="M510 588l-8 6-7-6 7-5z"/><path fill="#396bf9" stroke="#396bf9" d="M740 508l-8 19-8-5 8-19z"/><path fill="#8000ff" stroke="#8000ff" d="M524 588l-7 6-7-6 7-5zM495 588l-8 6-7-6 7-5zM480 588l-8 6-7-6 8-5zM539 588l-7 6-8-6 8-5zM465 588l-7 6-8-6 8-5zM554 588l-7 6-8-6 8-5zM450 588l-7 6-8-6 8-5zM435 588l-7 6-7-6 7-5zM421 588l-8 6-7-6 7-5zM406 588l-8 6-7-6 7-5zM569 588l-8 6-7-6 7-5zM643 588l-7 6-8-6 7-5zM658 588l-8 6-7-6 7-5zM584 588l-8 6-7-6 7-5zM628 588l-7 6-8-6 8-5zM391 588l-8 6-7-6 8-5zM598 588l-7 6-7-6 7-5zM613 588l-7 6-8-6 8-5z"/><path fill="#7610ff" stroke="#7610ff" d="M725 576l-8 9-7-6 7-8z"/><path fill="#8000ff" stroke="#8000ff" d="M673 588l-8 6-7-6 7-5zM376 588l-8 5-7-5 8-5zM687 587l-7 6-7-5 7-6zM361 588l-7 5-8-6 8-5z"/><path fill="#6a22fe" stroke="#6a22fe" d="M287 569l-8 1-7-6 8-1z"/><path fill="#1898f2" stroke="#1898f2" d="M732 472l-8 25-7-5 8-25z"/><path fill="#7413ff" stroke="#7413ff" d="M309 578l-7 2-8-5 8-2z"/><path fill="#7e03ff" stroke="#7e03ff" d="M702 586l-7 7-8-6 8-6zM346 587l-7 4-7-5 7-4z"/><path fill="#4ef3cd" stroke="#4ef3cd" d="M688 359l-8 40-8-5 8-40z"/><path fill="#5e35fe" stroke="#5e35fe" d="M265 558l-8-2-7-6 8 2z"/><path fill="#7c06ff" stroke="#7c06ff" d="M717 585l-7 7-8-6 8-7z"/><path fill="#5247fc" stroke="#5247fc" d="M747 538l-8 16-7-6 7-15z"/><path fill="#14cae5" stroke="#14cae5" d="M718 425l-8 32-8-6 8-31z"/><path fill="#7a09ff" stroke="#7a09ff" d="M332 586l-8 3-7-5 7-4z"/><path fill="#ffb360" stroke="#ffb360" d="M591 167l-7 64-8-5 8-65z"/><path fill="#6e1cff" stroke="#6e1cff" d="M740 571l-8 11-7-6 7-10z"/><path fill="#9bfba5" stroke="#9bfba5" d="M651 278l-8 50-8-5 8-51z"/><path fill="#622ffe" stroke="#622ffe" d="M747 559l-7 12-8-5 7-12z"/><path fill="#396bf9" stroke="#396bf9" d="M747 513l-8 20-7-6 8-19z"/><path fill="#8000ff" stroke="#8000ff" d="M517 594l-8 5-7-5 8-6zM532 594l-8 5-7-5 7-6zM502 594l-7 5-8-5 8-6zM487 594l-7 5-8-5 8-6zM547 594l-8 5-7-5 7-6zM472 594l-7 5-7-5 7-6zM428 594l-8 5-7-5 8-6zM413 594l-8 5-7-5 8-6zM443 594l-8 5-7-5 7-6zM458 594l-8 5-7-5 7-6zM561 594l-7 5-7-5 7-6zM650 594l-7 5-7-5 7-6zM576 594l-7 5-8-5 8-6zM398 594l-7 5-8-5 8-6zM665 594l-7 5-8-5 8-6zM636 594l-8 5-7-5 7-6zM591 594l-7 5-8-5 8-6zM621 594l-8 5-7-5 7-6zM606 594l-7 5-8-5 7-6z"/><path fill="#7610ff" stroke="#7610ff" d="M732 582l-7 8-8-5 8-9z"/><path fill="#8000ff" stroke="#8000ff" d="M680 593l-7 6-8-5 8-6zM383 594l-7 5-8-6 8-5z"/><path fill="#6c1fff" stroke="#6c1fff" d="M294 575l-8 0-7-5 8-1z"/><path fill="#8000ff" stroke="#8000ff" d="M695 593l-7 6-8-6 7-6zM368 593l-7 5-7-5 7-5z"/><path fill="#7413ff" stroke="#7413ff" d="M317 584l-8 2-7-6 7-2z"/><path fill="#1898f2" stroke="#1898f2" d="M740 478l-8 25-8-6 8-25z"/><path fill="#7e03ff" stroke="#7e03ff" d="M710 592l-7 6-8-5 7-7zM354 593l-8 4-7-6 7-4z"/><path fill="#4ef3cd" stroke="#4ef3cd" d="M696 364l-9 40-7-5 8-40z"/><path fill="#5e35fe" stroke="#5e35fe" d="M272 564l-8-2-7-6 8 2z"/><path fill="#7c06ff" stroke="#7c06ff" d="M725 590l-8 7-7-5 7-7z"/><path fill="#14cae5" stroke="#14cae5" d="M725 430l-8 32-7-5 8-32z"/><path fill="#5247fc" stroke="#5247fc" d="M755 543l-8 16-8-5 8-16z"/><path fill="#7a09ff" stroke="#7a09ff" d="M339 591l-8 4-7-6 8-3z"/><path fill="#feb562" stroke="#feb562" d="M599 172l-8 64-7-5 7-64z"/><path fill="#6e1cff" stroke="#6e1cff" d="M747 577l-7 10-8-5 8-11z"/><path fill="#9bfba5" stroke="#9bfba5" d="M658 283l-8 50-7-5 8-50z"/><path fill="#622ffe" stroke="#622ffe" d="M755 564l-8 13-7-6 7-12z"/><path fill="#396bf9" stroke="#396bf9" d="M755 519l-8 19-8-5 8-20z"/><path fill="#8000ff" stroke="#8000ff" d="M524 599l-7 5-8-5 8-5zM539 599l-7 6-8-6 8-5zM509 599l-7 5-7-5 7-5zM420 599l-7 6-8-6 8-5zM554 599l-7 5-8-5 8-5zM495 599l-8 5-7-5 7-5zM435 599l-7 5-8-5 8-5zM480 599l-8 5-7-5 7-5zM450 599l-8 5-7-5 8-5zM465 599l-8 5-7-5 8-5zM569 599l-8 5-7-5 7-5zM405 599l-7 5-7-5 7-5zM658 599l-7 5-8-5 7-5zM673 599l-7 5-8-5 7-5zM584 599l-8 5-7-5 7-5zM643 599l-7 5-8-5 8-5zM599 599l-8 5-7-5 7-5z"/><path fill="#6c1fff" stroke="#6c1fff" d="M302 580l-8 1-8-6 8 0z"/><path fill="#8000ff" stroke="#8000ff" d="M628 599l-7 5-8-5 8-5zM613 599l-7 5-7-5 7-5z"/><path fill="#7610ff" stroke="#7610ff" d="M740 587l-8 8-7-5 7-8z"/><path fill="#8000ff" stroke="#8000ff" d="M688 599l-8 5-7-5 7-6zM391 599l-8 5-7-5 7-5zM703 598l-8 6-7-5 7-6zM376 599l-8 5-7-6 7-5z"/><path fill="#7610ff" stroke="#7610ff" d="M324 589l-8 3-7-6 8-2z"/><path fill="#1898f2" stroke="#1898f2" d="M748 483l-8 25-8-5 8-25z"/><path fill="#7e03ff" stroke="#7e03ff" d="M717 597l-7 7-7-6 7-6zM361 598l-8 4-7-5 8-4z"/><path fill="#6032fe" stroke="#6032fe" d="M279 570l-8-2-7-6 8 2z"/><path fill="#4ef3cd" stroke="#4ef3cd" d="M703 369l-8 40-8-5 9-40z"/><path fill="#7c06ff" stroke="#7c06ff" d="M732 595l-7 8-8-6 8-7z"/><path fill="#14cae5" stroke="#14cae5" d="M733 436l-8 31-8-5 8-32z"/><path fill="#7a09ff" stroke="#7a09ff" d="M346 597l-8 3-7-5 8-4z"/><path fill="#5247fc" stroke="#5247fc" d="M762 549l-7 15-8-5 8-16z"/><path fill="#feb562" stroke="#feb562" d="M606 177l-8 64-7-5 8-64z"/><path fill="#6e1cff" stroke="#6e1cff" d="M755 582l-8 10-7-5 7-10z"/><path fill="#9bfba5" stroke="#9bfba5" d="M666 288l-8 51-8-6 8-50z"/><path fill="#622ffe" stroke="#622ffe" d="M762 570l-7 12-8-5 8-13z"/><path fill="#6c1fff" stroke="#6c1fff" d="M309 586l-8 1-7-6 8-1z"/><path fill="#396bf9" stroke="#396bf9" d="M762 524l-7 19-8-5 8-19z"/><path fill="#8000ff" stroke="#8000ff" d="M428 604l-8 6-7-5 7-6zM532 605l-8 5-7-6 7-5zM547 604l-8 6-7-5 7-6zM517 604l-8 6-7-6 7-5zM561 604l-7 6-7-6 7-5zM442 604l-7 6-7-6 7-5zM413 605l-8 5-7-6 7-5zM502 604l-8 6-7-6 8-5zM666 604l-8 6-7-6 7-5zM457 604l-7 6-8-6 8-5zM576 604l-7 6-8-6 8-5zM680 604l-7 6-7-6 7-5zM487 604l-7 6-8-6 8-5zM472 604l-7 6-8-6 8-5zM651 604l-8 6-7-6 7-5zM591 604l-7 6-8-6 8-5zM606 604l-7 6-8-6 8-5zM636 604l-8 6-7-6 7-5zM621 604l-7 6-8-6 7-5z"/><path fill="#7610ff" stroke="#7610ff" d="M747 592l-7 9-8-6 8-8z"/><path fill="#8000ff" stroke="#8000ff" d="M695 604l-7 6-8-6 8-5zM398 604l-8 6-7-6 8-5zM710 604l-7 6-8-6 8-6zM383 604l-8 5-7-5 8-5z"/><path fill="#7610ff" stroke="#7610ff" d="M331 595l-8 2-7-5 8-3z"/><path fill="#4c50fc" stroke="#4c50fc" d="M257 556l-9-4-7-6 9 4z"/><path fill="#1898f2" stroke="#1898f2" d="M755 488l-8 25-7-5 8-25z"/><path fill="#6032fe" stroke="#6032fe" d="M286 575l-8-1-7-6 8 2z"/><path fill="#7e03ff" stroke="#7e03ff" d="M725 603l-7 6-8-5 7-7zM368 604l-8 4-7-6 8-4z"/><path fill="#4ef3cd" stroke="#4ef3cd" d="M711 375l-9 40-7-6 8-40z"/><path fill="#7c06ff" stroke="#7c06ff" d="M740 601l-7 7-8-5 7-8z"/><path fill="#7a09ff" stroke="#7a09ff" d="M353 602l-8 4-7-6 8-3z"/><path fill="#14cae5" stroke="#14cae5" d="M740 441l-8 31-7-5 8-31z"/><path fill="#5247fc" stroke="#5247fc" d="M770 554l-8 16-7-6 7-15z"/><path fill="#feb562" stroke="#feb562" d="M614 182l-8 65-8-6 8-64z"/><path fill="#6e1cff" stroke="#6e1cff" d="M762 587l-7 11-8-6 8-10z"/><path fill="#9bfba5" stroke="#9bfba5" d="M674 293l-9 51-7-5 8-51z"/><path fill="#6e1cff" stroke="#6e1cff" d="M316 592l-8 0-7-5 8-1z"/><path fill="#622ffe" stroke="#622ffe" d="M770 575l-8 12-7-5 7-12z"/><path fill="#396bf9" stroke="#396bf9" d="M770 529l-8 20-7-6 7-19z"/><path fill="#8000ff" stroke="#8000ff" d="M435 610l-8 5-7-5 8-6zM554 610l-7 5-8-5 8-6zM539 610l-7 5-8-5 8-5zM569 610l-8 5-7-5 7-6zM420 610l-8 5-7-5 8-5zM524 610l-7 5-8-5 8-6zM673 610l-7 5-8-5 8-6zM450 610l-8 5-7-5 7-6zM688 610l-7 5-8-5 7-6zM584 610l-8 5-7-5 7-6zM509 610l-7 5-8-5 8-6zM465 610l-8 5-7-5 7-6zM658 610l-7 5-8-5 8-6zM494 610l-7 5-7-5 7-6zM480 610l-8 5-7-5 7-6zM599 610l-8 5-7-5 7-6zM643 610l-7 5-8-5 8-6zM614 610l-8 5-7-5 7-6zM628 610l-7 5-7-5 7-6zM703 610l-7 5-8-5 7-6zM405 610l-7 5-8-5 8-6z"/><path fill="#7610ff" stroke="#7610ff" d="M755 598l-7 8-8-5 7-9z"/><path fill="#4e4dfc" stroke="#4e4dfc" d="M264 562l-8-5-8-5 9 4z"/><path fill="#7610ff" stroke="#7610ff" d="M338 600l-8 3-7-6 8-2z"/><path fill="#8000ff" stroke="#8000ff" d="M718 609l-8 6-7-5 7-6zM390 610l-7 4-8-5 8-5z"/><path fill="#6032fe" stroke="#6032fe" d="M294 581l-8-2-8-5 8 1z"/><path fill="#1898f2" stroke="#1898f2" d="M763 494l-8 25-8-6 8-25z"/><path fill="#7e03ff" stroke="#7e03ff" d="M733 608l-8 6-7-5 7-6zM375 609l-7 4-8-5 8-4z"/><path fill="#4ef3cd" stroke="#4ef3cd" d="M718 380l-8 40-8-5 9-40z"/><path fill="#7c06ff" stroke="#7c06ff" d="M748 606l-8 7-7-5 7-7zM360 608l-7 3-8-5 8-4z"/><path fill="#feb562" stroke="#feb562" d="M621 188l-8 64-7-5 8-65z"/><path fill="#14cae5" stroke="#14cae5" d="M748 446l-8 32-8-6 8-31z"/><path fill="#5247fc" stroke="#5247fc" d="M778 560l-8 15-8-5 8-16z"/><path fill="#6e1cff" stroke="#6e1cff" d="M770 593l-7 10-8-5 7-11zM323 597l-8 1-7-6 8 0z"/><path fill="#9bfba5" stroke="#9bfba5" d="M681 298l-8 51-8-5 9-51z"/><path fill="#622ffe" stroke="#622ffe" d="M778 580l-8 13-8-6 8-12z"/><path fill="#396bf9" stroke="#396bf9" d="M778 535l-8 19-8-5 8-20z"/><path fill="#4e4dfc" stroke="#4e4dfc" d="M271 568l-8-5-7-6 8 5z"/><path fill="#8000ff" stroke="#8000ff" d="M561 615l-7 6-7-6 7-5zM681 615l-8 6-7-6 7-5zM442 615l-7 6-8-6 8-5zM576 615l-7 6-8-6 8-5zM547 615l-8 6-7-6 7-5zM696 615l-8 6-7-6 7-5zM427 615l-7 6-8-6 8-5zM591 615l-7 6-8-6 8-5zM532 615l-8 6-7-6 7-5zM457 615l-7 6-8-6 8-5zM666 615l-8 6-7-6 7-5zM606 615l-7 6-8-6 8-5zM517 615l-8 6-7-6 7-5zM651 615l-7 6-8-6 7-5zM472 615l-8 6-7-6 8-5zM621 615l-7 6-8-6 8-5zM502 615l-8 6-7-6 7-5zM636 615l-7 6-8-6 7-5zM487 615l-8 6-7-6 8-5zM710 615l-7 6-7-6 7-5zM412 615l-7 5-7-5 7-5z"/><path fill="#7610ff" stroke="#7610ff" d="M763 603l-8 8-7-5 7-8zM345 606l-7 2-8-5 8-3z"/><path fill="#8000ff" stroke="#8000ff" d="M725 614l-7 6-8-5 8-6zM398 615l-8 5-7-6 7-4z"/><path fill="#622ffe" stroke="#622ffe" d="M301 587l-8-2-7-6 8 2z"/><path fill="#1898f2" stroke="#1898f2" d="M771 499l-9 25-7-5 8-25z"/><path fill="#7e03ff" stroke="#7e03ff" d="M740 613l-7 7-8-6 8-6zM383 614l-8 5-7-6 7-4z"/><path fill="#4ef3cd" stroke="#4ef3cd" d="M726 385l-8 40-8-5 8-40z"/><path fill="#7c06ff" stroke="#7c06ff" d="M755 611l-7 8-8-6 8-7zM368 613l-8 4-7-6 7-3z"/><path fill="#feb562" stroke="#feb562" d="M629 193l-8 64-8-5 8-64z"/><path fill="#14cae5" stroke="#14cae5" d="M756 452l-8 31-8-5 8-32z"/><path fill="#5247fc" stroke="#5247fc" d="M785 565l-7 15-8-5 8-15z"/><path fill="#6e1cff" stroke="#6e1cff" d="M778 598l-8 10-7-5 7-10zM330 603l-8 1-7-6 8-1z"/><path fill="#9bfba5" stroke="#9bfba5" d="M689 303l-9 51-7-5 8-51z"/><path fill="#4e4dfc" stroke="#4e4dfc" d="M278 574l-8-5-7-6 8 5z"/><path fill="#622ffe" stroke="#622ffe" d="M785 586l-7 12-8-5 8-13z"/><path fill="#396bf9" stroke="#396bf9" d="M786 540l-8 20-8-6 8-19z"/><path fill="#8000ff" stroke="#8000ff" d="M688 621l-7 5-8-5 8-6zM569 621l-8 5-7-5 7-6zM584 621l-8 5-7-5 7-6zM554 621l-7 5-8-5 8-6zM703 621l-7 5-8-5 8-6zM599 621l-8 5-7-5 7-6zM450 621l-8 5-7-5 7-6zM673 621l-7 5-8-5 8-6zM435 621l-8 5-7-5 7-6zM539 621l-7 5-8-5 8-6zM614 621l-8 5-7-5 7-6zM658 621l-7 5-7-5 7-6zM464 621l-7 5-7-5 7-6zM629 621l-8 5-7-5 7-6zM644 621l-8 5-7-5 7-6zM524 621l-7 5-8-5 8-6zM479 621l-7 5-8-5 8-6zM509 621l-7 5-8-5 8-6zM494 621l-7 5-8-5 8-6zM420 621l-8 5-7-6 7-5zM718 620l-7 6-8-5 7-6z"/><path fill="#7610ff" stroke="#7610ff" d="M770 608l-7 9-8-6 8-8zM353 611l-8 3-7-6 7-2z"/><path fill="#622ffe" stroke="#622ffe" d="M308 592l-8-1-7-6 8 2z"/><path fill="#8000ff" stroke="#8000ff" d="M405 620l-8 5-7-5 8-5zM733 620l-7 6-8-6 7-6z"/><path fill="#1996f3" stroke="#1996f3" d="M778 504l-8 25-8-5 9-25z"/><path fill="#7e03ff" stroke="#7e03ff" d="M390 620l-8 4-7-5 8-5zM748 619l-7 6-8-5 7-7z"/><path fill="#4ef3cd" stroke="#4ef3cd" d="M734 390l-9 40-7-5 8-40z"/><path fill="#3473f8" stroke="#3473f8" d="M241 546l-8-9 7 6 8 9z"/><path fill="#fcb763" stroke="#fcb763" d="M637 198l-9 64-7-5 8-64z"/><path fill="#7c06ff" stroke="#7c06ff" d="M375 619l-8 3-7-5 8-4zM763 617l-7 7-8-5 7-8z"/><path fill="#14cae5" stroke="#14cae5" d="M763 457l-8 31-7-5 8-31z"/><path fill="#5247fc" stroke="#5247fc" d="M793 570l-8 16-7-6 7-15z"/><path fill="#6e1cff" stroke="#6e1cff" d="M786 604l-8 10-8-6 8-10zM338 608l-8 1-8-5 8-1z"/><path fill="#504afc" stroke="#504afc" d="M286 579l-9-4-7-6 8 5z"/><path fill="#9bfba5" stroke="#9bfba5" d="M696 308l-8 51-8-5 9-51z"/><path fill="#396bf9" stroke="#396bf9" d="M793 545l-8 20-7-5 8-20z"/><path fill="#622ffe" stroke="#622ffe" d="M793 591l-7 13-8-6 7-12z"/><path fill="#8000ff" stroke="#8000ff" d="M696 626l-7 6-8-6 7-5zM591 626l-7 6-8-6 8-5zM576 626l-7 6-8-6 8-5zM606 626l-7 6-8-6 8-5zM561 626l-7 6-7-6 7-5zM681 626l-7 6-8-6 7-5zM711 626l-8 6-7-6 7-5zM621 626l-7 6-8-6 8-5zM457 626l-8 6-7-6 8-5zM666 626l-7 6-8-6 7-5zM547 626l-8 6-7-6 7-5zM442 626l-8 6-7-6 8-5zM636 626l-7 6-8-6 8-5zM651 626l-7 6-8-6 8-5zM472 626l-8 6-7-6 7-5zM532 626l-8 6-7-6 7-5zM517 626l-8 6-7-6 7-5zM487 626l-8 6-7-6 7-5zM502 626l-8 5-7-5 7-5zM427 626l-8 5-7-5 8-5z"/><path fill="#622ffe" stroke="#622ffe" d="M315 598l-8-2-7-5 8 1z"/><path fill="#8000ff" stroke="#8000ff" d="M726 626l-8 6-7-6 7-6z"/><path fill="#7610ff" stroke="#7610ff" d="M360 617l-8 2-7-5 8-3zM778 614l-7 8-8-5 7-9z"/><path fill="#8000ff" stroke="#8000ff" d="M412 626l-8 5-7-6 8-5zM741 625l-8 6-7-5 7-6z"/><path fill="#1996f3" stroke="#1996f3" d="M786 510l-8 25-8-6 8-25z"/><path fill="#7e03ff" stroke="#7e03ff" d="M397 625l-7 5-8-6 8-4zM756 624l-8 7-7-6 7-6z"/><path fill="#ff0000" stroke="#ff0000" d="M562 58l-8 82-7-6 7-81z"/><path fill="#4ef3cd" stroke="#4ef3cd" d="M741 396l-8 40-8-6 9-40z"/><path fill="#3670f8" stroke="#3670f8" d="M248 552l-8-9 7 6 9 8z"/><path fill="#fcb763" stroke="#fcb763" d="M644 203l-8 64-8-5 9-64z"/><path fill="#7c06ff" stroke="#7c06ff" d="M382 624l-8 4-7-6 8-3z"/><path fill="#14cae5" stroke="#14cae5" d="M771 462l-8 32-8-6 8-31z"/><path fill="#7a09ff" stroke="#7a09ff" d="M771 622l-8 8-7-6 7-7z"/><path fill="#5247fc" stroke="#5247fc" d="M801 575l-8 16-8-5 8-16z"/><path fill="#504afc" stroke="#504afc" d="M293 585l-9-5-7-5 9 4z"/><path fill="#6e1cff" stroke="#6e1cff" d="M345 614l-8 1-7-6 8-1zM793 609l-7 10-8-5 8-10z"/><path fill="#9bfba5" stroke="#9bfba5" d="M704 313l-8 51-8-5 8-51z"/><path fill="#396bf9" stroke="#396bf9" d="M801 551l-8 19-8-5 8-20z"/><path fill="#8000ff" stroke="#8000ff" d="M599 632l-8 5-7-5 7-6zM584 632l-8 5-7-5 7-6zM614 632l-8 5-7-5 7-6zM703 632l-7 5-7-5 7-6zM569 632l-8 5-7-5 7-6zM629 632l-8 5-7-5 7-6zM689 632l-8 5-7-5 7-6z"/><path fill="#622ffe" stroke="#622ffe" d="M801 596l-8 13-7-5 7-13zM322 604l-8-2-7-6 8 2z"/><path fill="#8000ff" stroke="#8000ff" d="M644 632l-8 5-7-5 7-6zM674 632l-8 5-7-5 7-6zM659 632l-8 5-7-5 7-6zM554 632l-7 5-8-5 8-6zM718 632l-7 5-8-5 8-6zM464 632l-7 5-8-5 8-6zM449 632l-7 5-8-5 8-6zM539 632l-7 5-8-5 8-6zM479 632l-7 5-8-5 8-6zM524 632l-7 5-8-5 8-6zM494 631l-7 6-8-5 8-6zM509 632l-7 5-8-6 8-5z"/><path fill="#7610ff" stroke="#7610ff" d="M367 622l-8 3-7-6 8-2z"/><path fill="#8000ff" stroke="#8000ff" d="M434 632l-7 5-8-6 8-5zM733 631l-7 6-8-5 8-6z"/><path fill="#7610ff" stroke="#7610ff" d="M786 619l-8 9-7-6 7-8z"/><path fill="#8000ff" stroke="#8000ff" d="M419 631l-7 5-8-5 8-5zM748 631l-7 6-8-6 8-6z"/><path fill="#1996f3" stroke="#1996f3" d="M794 515l-8 25-8-5 8-25z"/><path fill="#ff0000" stroke="#ff0000" d="M569 64l-8 81-7-5 8-82z"/><path fill="#7e03ff" stroke="#7e03ff" d="M404 631l-7 4-7-5 7-5zM763 630l-7 6-8-5 8-7z"/><path fill="#3670f8" stroke="#3670f8" d="M256 557l-9-8 7 5 9 9z"/><path fill="#4ef3cd" stroke="#4ef3cd" d="M749 401l-9 40-7-5 8-40z"/><path fill="#fcb763" stroke="#fcb763" d="M652 208l-9 64-7-5 8-64z"/><path fill="#7c06ff" stroke="#7c06ff" d="M390 630l-8 3-8-5 8-4z"/><path fill="#14cae5" stroke="#14cae5" d="M779 468l-8 31-8-5 8-32z"/><path fill="#7a09ff" stroke="#7a09ff" d="M778 628l-7 7-8-5 8-8z"/><path fill="#5247fc" stroke="#5247fc" d="M809 581l-8 15-8-5 8-16z"/><path fill="#504afc" stroke="#504afc" d="M300 591l-8-5-8-6 9 5z"/><path fill="#6e1cff" stroke="#6e1cff" d="M352 619l-8 1-7-5 8-1zM801 614l-7 10-8-5 7-10z"/><path fill="#9bfba5" stroke="#9bfba5" d="M712 319l-9 50-7-5 8-51z"/><path fill="#622ffe" stroke="#622ffe" d="M330 609l-8-2-8-5 8 2z"/><path fill="#8000ff" stroke="#8000ff" d="M606 637l-7 6-8-6 8-5zM591 637l-7 6-8-6 8-5zM621 637l-7 6-8-6 8-5zM636 637l-7 6-8-6 8-5zM576 637l-7 6-8-6 8-5zM651 637l-7 6-8-6 8-5zM696 637l-7 6-8-6 8-5zM711 637l-7 6-8-6 7-5zM681 637l-7 6-8-6 8-5zM666 637l-7 6-8-6 8-5z"/><path fill="#396bf9" stroke="#396bf9" d="M809 556l-8 19-8-5 8-19z"/><path fill="#8000ff" stroke="#8000ff" d="M561 637l-7 6-7-6 7-5zM472 637l-8 5-7-5 7-5zM547 637l-8 5-7-5 7-5zM726 637l-7 5-8-5 7-5zM457 637l-8 5-7-5 7-5zM487 637l-8 5-7-5 7-5zM532 637l-8 5-7-5 7-5zM502 637l-8 5-7-5 7-6zM517 637l-8 5-7-5 7-5z"/><path fill="#622ffe" stroke="#622ffe" d="M809 602l-8 12-8-5 8-13z"/><path fill="#7610ff" stroke="#7610ff" d="M374 628l-7 2-8-5 8-3z"/><path fill="#8000ff" stroke="#8000ff" d="M442 637l-8 5-7-5 7-5zM741 637l-7 5-8-5 7-6zM427 637l-8 5-7-6 7-5z"/><path fill="#7610ff" stroke="#7610ff" d="M794 624l-8 9-8-5 8-9z"/><path fill="#8000ff" stroke="#8000ff" d="M756 636l-7 6-8-5 7-6z"/><path fill="#ff0302" stroke="#ff0302" d="M577 69l-8 82-8-6 8-81z"/><path fill="#1898f2" stroke="#1898f2" d="M801 520l-8 25-7-5 8-25z"/><path fill="#386df9" stroke="#386df9" d="M263 563l-9-9 7 6 9 9z"/><path fill="#7e03ff" stroke="#7e03ff" d="M412 636l-8 5-7-6 7-4zM771 635l-7 6-8-5 7-6z"/><path fill="#4ef3cd" stroke="#4ef3cd" d="M757 406l-9 40-8-5 9-40z"/><path fill="#fcb763" stroke="#fcb763" d="M659 213l-8 65-8-6 9-64z"/><path fill="#7c06ff" stroke="#7c06ff" d="M397 635l-8 4-7-6 8-3z"/><path fill="#14cae5" stroke="#14cae5" d="M787 473l-9 31-7-5 8-31z"/><path fill="#7a09ff" stroke="#7a09ff" d="M786 633l-7 7-8-5 7-7z"/><path fill="#5247fc" stroke="#5247fc" d="M816 586l-7 16-8-6 8-15zM307 596l-8-4-7-6 8 5z"/><path fill="#6e1cff" stroke="#6e1cff" d="M359 625l-7 1-8-6 8-1z"/><path fill="#9bfba5" stroke="#9bfba5" d="M719 324l-8 51-8-6 9-50z"/><path fill="#6e1cff" stroke="#6e1cff" d="M809 619l-8 11-7-6 7-10z"/><path fill="#622ffe" stroke="#622ffe" d="M337 615l-8-2-7-6 8 2z"/><path fill="#8000ff" stroke="#8000ff" d="M614 643l-8 5-7-5 7-6zM599 643l-8 5-7-5 7-6zM629 643l-8 5-7-5 7-6zM644 643l-8 5-7-5 7-6zM584 643l-8 5-7-5 7-6zM659 643l-8 5-7-5 7-6zM569 643l-8 5-7-5 7-6zM674 643l-8 5-7-5 7-6zM689 643l-8 5-7-5 7-6zM704 643l-8 5-7-5 7-6zM719 642l-8 6-7-5 7-6zM554 643l-7 5-8-6 8-5zM479 642l-7 6-8-6 8-5zM464 642l-7 6-8-6 8-5zM539 642l-7 6-8-6 8-5zM494 642l-7 6-8-6 8-5z"/><path fill="#396bf9" stroke="#396bf9" d="M817 561l-8 20-8-6 8-19z"/><path fill="#8000ff" stroke="#8000ff" d="M734 642l-8 6-7-6 7-5zM524 642l-7 6-8-6 8-5zM509 642l-7 6-8-6 8-5z"/><path fill="#7610ff" stroke="#7610ff" d="M382 633l-8 3-7-6 7-2z"/><path fill="#8000ff" stroke="#8000ff" d="M449 642l-7 6-8-6 8-5z"/><path fill="#ff0302" stroke="#ff0302" d="M584 75l-8 81-7-5 8-82z"/><path fill="#622ffe" stroke="#622ffe" d="M816 607l-7 12-8-5 8-12z"/><path fill="#8000ff" stroke="#8000ff" d="M749 642l-8 6-7-6 7-5zM434 642l-7 5-8-5 8-5z"/><path fill="#7610ff" stroke="#7610ff" d="M801 630l-7 8-8-5 8-9z"/><path fill="#8000ff" stroke="#8000ff" d="M764 641l-8 6-7-5 7-6z"/><path fill="#386df9" stroke="#386df9" d="M270 569l-9-9 8 6 8 9z"/><path fill="#1898f2" stroke="#1898f2" d="M809 526l-8 25-8-6 8-25z"/><path fill="#7e03ff" stroke="#7e03ff" d="M419 642l-7 4-8-5 8-5z"/><path fill="#4ef3cd" stroke="#4ef3cd" d="M764 411l-8 41-8-6 9-40z"/><path fill="#7e03ff" stroke="#7e03ff" d="M779 640l-8 7-7-6 7-6z"/><path fill="#fcb763" stroke="#fcb763" d="M667 218l-9 65-7-5 8-65z"/><path fill="#7c06ff" stroke="#7c06ff" d="M404 641l-8 3-7-5 8-4z"/><path fill="#14cae5" stroke="#14cae5" d="M794 478l-8 32-8-6 9-31z"/><path fill="#5247fc" stroke="#5247fc" d="M314 602l-8-5-7-5 8 4z"/><path fill="#7a09ff" stroke="#7a09ff" d="M794 638l-7 7-8-5 7-7z"/><path fill="#504afc" stroke="#504afc" d="M824 591l-8 16-7-5 7-16z"/><path fill="#149df1" stroke="#149df1" d="M233 537l-9-14 7 6 9 14z"/><path fill="#6e1cff" stroke="#6e1cff" d="M367 630l-8 1-7-5 7-1z"/><path fill="#9bfba5" stroke="#9bfba5" d="M727 329l-9 51-7-5 8-51z"/><path fill="#622ffe" stroke="#622ffe" d="M344 620l-8-2-7-5 8 2z"/><path fill="#6c1fff" stroke="#6c1fff" d="M817 625l-8 10-8-5 8-11z"/><path fill="#ff0302" stroke="#ff0302" d="M592 80l-8 81-8-5 8-81z"/><path fill="#8000ff" stroke="#8000ff" d="M621 648l-7 6-8-6 8-5zM606 648l-7 6-8-6 8-5zM636 648l-7 6-8-6 8-5zM591 648l-7 6-8-6 8-5zM651 648l-7 6-8-6 8-5zM666 648l-7 6-8-6 8-5zM576 648l-7 6-8-6 8-5zM681 648l-7 6-8-6 8-5zM696 648l-7 5-8-5 8-5zM561 648l-7 5-7-5 7-5zM711 648l-7 5-8-5 8-5zM487 648l-8 5-7-5 7-6zM547 648l-8 5-7-5 7-6zM726 648l-7 5-8-5 8-6zM472 648l-8 5-7-5 7-6zM502 648l-8 5-7-5 7-6zM532 648l-8 5-7-5 7-6zM517 648l-8 5-7-5 7-6z"/><path fill="#7610ff" stroke="#7610ff" d="M389 639l-8 2-7-5 8-3z"/><path fill="#8000ff" stroke="#8000ff" d="M741 648l-7 5-8-5 8-6zM457 648l-8 5-7-5 7-6z"/><path fill="#396bf9" stroke="#396bf9" d="M824 566l-8 20-7-5 8-20z"/><path fill="#8000ff" stroke="#8000ff" d="M756 647l-7 6-8-5 8-6z"/><path fill="#622ffe" stroke="#622ffe" d="M824 612l-7 13-8-6 7-12z"/><path fill="#8000ff" stroke="#8000ff" d="M442 648l-8 5-7-6 7-5z"/><path fill="#386df9" stroke="#386df9" d="M277 575l-8-9 7 6 8 8z"/><path fill="#7e03ff" stroke="#7e03ff" d="M771 647l-7 6-8-6 8-6z"/><path fill="#7413ff" stroke="#7413ff" d="M809 635l-7 8-8-5 7-8z"/><path fill="#1898f2" stroke="#1898f2" d="M817 531l-8 25-8-5 8-25z"/><path fill="#7e03ff" stroke="#7e03ff" d="M427 647l-8 5-7-6 7-4z"/><path fill="#4ef3cd" stroke="#4ef3cd" d="M772 417l-9 40-7-5 8-41z"/><path fill="#7c06ff" stroke="#7c06ff" d="M787 645l-8 7-8-5 8-7z"/><path fill="#fcb763" stroke="#fcb763" d="M675 223l-9 65-8-5 9-65z"/><path fill="#7c06ff" stroke="#7c06ff" d="M412 646l-8 4-8-6 8-3z"/><path fill="#14cae5" stroke="#14cae5" d="M802 483l-8 32-8-5 8-32z"/><path fill="#5247fc" stroke="#5247fc" d="M322 607l-9-4-7-6 8 5z"/><path fill="#149df1" stroke="#149df1" d="M240 543l-9-14 7 5 9 15z"/><path fill="#7a09ff" stroke="#7a09ff" d="M802 643l-8 8-7-6 7-7z"/><path fill="#504afc" stroke="#504afc" d="M832 596l-8 16-8-5 8-16z"/><path fill="#6e1cff" stroke="#6e1cff" d="M374 636l-8 0-7-5 8-1z"/><path fill="#9bfba5" stroke="#9bfba5" d="M735 334l-9 51-8-5 9-51z"/><path fill="#ff0603" stroke="#ff0603" d="M599 85l-8 82-7-6 8-81z"/><path fill="#622ffe" stroke="#622ffe" d="M352 626l-8-2-8-6 8 2z"/><path fill="#8000ff" stroke="#8000ff" d="M629 654l-7 5-8-5 7-6zM614 654l-7 5-8-5 7-6zM644 654l-7 5-8-5 7-6zM599 654l-7 5-8-5 7-6zM659 654l-7 5-8-5 7-6zM584 654l-7 5-8-5 7-6zM674 654l-7 5-8-5 7-6zM569 654l-7 5-8-6 7-5zM689 653l-7 6-8-5 7-6zM704 653l-7 6-8-6 7-5z"/><path fill="#6c1fff" stroke="#6c1fff" d="M824 630l-7 10-8-5 8-10z"/><path fill="#8000ff" stroke="#8000ff" d="M554 653l-8 6-7-6 8-5zM494 653l-8 6-7-6 8-5zM479 653l-8 6-7-6 8-5zM509 653l-8 6-7-6 8-5zM719 653l-7 6-8-6 7-5zM539 653l-8 6-7-6 8-5zM524 653l-8 6-7-6 8-5z"/><path fill="#7610ff" stroke="#7610ff" d="M396 644l-7 3-8-6 8-2z"/><path fill="#8000ff" stroke="#8000ff" d="M734 653l-7 6-8-6 7-5zM464 653l-8 6-7-6 8-5zM749 653l-7 6-8-6 7-5z"/><path fill="#386df9" stroke="#386df9" d="M832 572l-8 19-8-5 8-20zM284 580l-8-8 7 5 9 9z"/><path fill="#8000ff" stroke="#8000ff" d="M449 653l-8 5-7-5 8-5zM764 653l-7 5-8-5 7-6z"/><path fill="#6032fe" stroke="#6032fe" d="M832 617l-8 13-7-5 7-13z"/><path fill="#7e03ff" stroke="#7e03ff" d="M779 652l-7 6-8-5 7-6z"/><path fill="#7413ff" stroke="#7413ff" d="M817 640l-8 8-7-5 7-8z"/><path fill="#1898f2" stroke="#1898f2" d="M825 536l-8 25-8-5 8-25z"/><path fill="#7e03ff" stroke="#7e03ff" d="M434 653l-8 4-7-5 8-5z"/><path fill="#4ef3cd" stroke="#4ef3cd" d="M780 422l-9 40-8-5 9-40z"/><path fill="#7c06ff" stroke="#7c06ff" d="M794 651l-7 6-8-5 8-7z"/><path fill="#fcb763" stroke="#fcb763" d="M682 228l-8 65-8-5 9-65z"/><path fill="#7c06ff" stroke="#7c06ff" d="M419 652l-8 3-7-5 8-4z"/><path fill="#14cae5" stroke="#14cae5" d="M810 489l-9 31-7-5 8-32z"/><path fill="#169bf2" stroke="#169bf2" d="M247 549l-9-15 7 6 9 14z"/><path fill="#5247fc" stroke="#5247fc" d="M329 613l-8-5-8-5 9 4z"/><path fill="#780dff" stroke="#780dff" d="M809 648l-7 8-8-5 8-8z"/><path fill="#6e1cff" stroke="#6e1cff" d="M381 641l-8 1-7-6 8 0z"/><path fill="#504afc" stroke="#504afc" d="M840 602l-8 15-8-5 8-16z"/><path fill="#ff0603" stroke="#ff0603" d="M607 90l-8 82-8-5 8-82z"/><path fill="#9bfba5" stroke="#9bfba5" d="M743 339l-9 51-8-5 9-51z"/><path fill="#622ffe" stroke="#622ffe" d="M359 631l-8-2-7-5 8 2z"/><path fill="#8000ff" stroke="#8000ff" d="M637 659l-8 6-7-6 7-5zM622 659l-8 6-7-6 7-5zM652 659l-8 6-7-6 7-5zM607 659l-8 6-7-6 7-5zM667 659l-8 6-7-6 7-5zM592 659l-8 6-7-6 7-5zM682 659l-8 6-7-6 7-5zM577 659l-8 6-7-6 7-5zM562 659l-8 5-8-5 8-6zM697 659l-8 5-7-5 7-6zM501 659l-7 5-8-5 8-6zM546 659l-7 5-8-5 8-6zM516 659l-7 5-8-5 8-6zM486 659l-7 5-8-5 8-6zM531 659l-7 5-8-5 8-6zM712 659l-8 5-7-5 7-6z"/><path fill="#7610ff" stroke="#7610ff" d="M404 650l-8 2-7-5 7-3z"/><path fill="#8000ff" stroke="#8000ff" d="M727 659l-8 5-7-5 7-6zM471 659l-7 5-8-5 8-6z"/><path fill="#396bf9" stroke="#396bf9" d="M292 586l-9-9 7 6 9 9z"/><path fill="#8000ff" stroke="#8000ff" d="M742 659l-7 5-8-5 7-6z"/><path fill="#6c1fff" stroke="#6c1fff" d="M832 635l-7 10-8-5 7-10z"/><path fill="#8000ff" stroke="#8000ff" d="M757 658l-7 6-8-5 7-6zM456 659l-7 5-8-6 8-5z"/><path fill="#386df9" stroke="#386df9" d="M840 577l-8 19-8-5 8-19z"/><path fill="#8000ff" stroke="#8000ff" d="M772 658l-7 6-8-6 7-5z"/><path fill="#6032fe" stroke="#6032fe" d="M840 622l-8 13-8-5 8-13z"/><path fill="#7e03ff" stroke="#7e03ff" d="M441 658l-7 5-8-6 8-4zM787 657l-7 6-8-5 7-6z"/><path fill="#1898f2" stroke="#1898f2" d="M833 541l-9 25-7-5 8-25z"/><path fill="#7413ff" stroke="#7413ff" d="M825 645l-8 9-8-6 8-8z"/><path fill="#4ef3cd" stroke="#4ef3cd" d="M788 427l-9 41-8-6 9-40z"/><path fill="#fcb763" stroke="#fcb763" d="M690 234l-9 64-7-5 8-65z"/><path fill="#7c06ff" stroke="#7c06ff" d="M802 656l-7 6-8-5 7-6z"/><path fill="#169bf2" stroke="#169bf2" d="M254 554l-9-14 7 6 9 14z"/><path fill="#7c06ff" stroke="#7c06ff" d="M426 657l-7 4-8-6 8-3z"/><path fill="#14cae5" stroke="#14cae5" d="M818 494l-9 32-8-6 9-31z"/><path fill="#5247fc" stroke="#5247fc" d="M336 618l-8-4-7-6 8 5z"/><path fill="#6e1cff" stroke="#6e1cff" d="M389 647l-8 0-8-5 8-1z"/><path fill="#ff0603" stroke="#ff0603" d="M615 96l-9 81-7-5 8-82z"/><path fill="#780dff" stroke="#780dff" d="M817 654l-7 7-8-5 7-8z"/><path fill="#9bfba5" stroke="#9bfba5" d="M750 345l-9 51-7-6 9-51z"/><path fill="#4e4dfc" stroke="#4e4dfc" d="M848 607l-8 15-8-5 8-15z"/><path fill="#622ffe" stroke="#622ffe" d="M366 636l-8-1-7-6 8 2z"/><path fill="#8000ff" stroke="#8000ff" d="M629 665l-7 5-8-5 8-6zM644 665l-7 5-8-5 8-6zM614 665l-7 5-8-5 8-6zM659 665l-7 5-8-5 8-6zM599 665l-7 5-8-5 8-6zM674 665l-7 5-8-5 8-6zM584 665l-7 5-8-5 8-6zM689 664l-7 6-8-5 8-6zM569 665l-7 5-8-6 8-5zM554 664l-8 6-7-6 7-5zM509 664l-8 6-7-6 7-5z"/><path fill="#396bf9" stroke="#396bf9" d="M299 592l-9-9 8 5 8 9z"/><path fill="#8000ff" stroke="#8000ff" d="M524 664l-8 6-7-6 7-5zM539 664l-8 6-7-6 7-5zM494 664l-8 6-7-6 7-5zM704 664l-7 6-8-6 8-5z"/><path fill="#7610ff" stroke="#7610ff" d="M411 655l-8 3-7-6 8-2z"/><path fill="#8000ff" stroke="#8000ff" d="M719 664l-7 6-8-6 8-5zM479 664l-8 6-7-6 7-5zM735 664l-8 6-8-6 8-5zM750 664l-8 6-7-6 7-5zM464 664l-8 5-7-5 7-5zM765 664l-8 5-7-5 7-6z"/><path fill="#6a22fe" stroke="#6a22fe" d="M840 640l-8 10-7-5 7-10z"/><path fill="#386df9" stroke="#386df9" d="M848 582l-8 20-8-6 8-19z"/><path fill="#7e03ff" stroke="#7e03ff" d="M780 663l-8 6-7-5 7-6zM449 664l-8 4-7-5 7-5z"/><path fill="#6032fe" stroke="#6032fe" d="M848 627l-8 13-8-5 8-13z"/><path fill="#4ef3cd" stroke="#4ef3cd" d="M796 433l-9 40-8-5 9-41z"/><path fill="#1898f2" stroke="#1898f2" d="M840 547l-8 25-8-6 9-25z"/><path fill="#7e03ff" stroke="#7e03ff" d="M795 662l-8 6-7-5 7-6z"/><path fill="#7216ff" stroke="#7216ff" d="M832 650l-7 9-8-5 8-9z"/><path fill="#169bf2" stroke="#169bf2" d="M261 560l-9-14 8 6 9 14z"/><path fill="#fcb763" stroke="#fcb763" d="M698 239l-9 64-8-5 9-64z"/><path fill="#7c06ff" stroke="#7c06ff" d="M810 661l-7 7-8-6 7-6zM434 663l-8 3-7-5 7-4z"/><path fill="#14cae5" stroke="#14cae5" d="M826 499l-9 32-8-5 9-32z"/><path fill="#5247fc" stroke="#5247fc" d="M344 624l-9-5-7-5 8 4z"/><path fill="#ff0905" stroke="#ff0905" d="M622 101l-8 81-8-5 9-81z"/><path fill="#6e1cff" stroke="#6e1cff" d="M396 652l-8 1-7-6 8 0z"/><path fill="#9bfba5" stroke="#9bfba5" d="M758 350l-9 51-8-5 9-51z"/><path fill="#780dff" stroke="#780dff" d="M825 659l-7 7-8-5 7-7z"/><path fill="#622ffe" stroke="#622ffe" d="M373 642l-8-2-7-5 8 1z"/><path fill="#4e4dfc" stroke="#4e4dfc" d="M855 612l-7 15-8-5 8-15z"/><path fill="#8000ff" stroke="#8000ff" d="M637 670l-8 6-7-6 7-5zM622 670l-8 6-7-6 7-5zM652 670l-8 6-7-6 7-5zM607 670l-8 6-7-6 7-5zM667 670l-7 6-8-6 7-5zM592 670l-8 6-7-6 7-5z"/><path fill="#396bf9" stroke="#396bf9" d="M306 597l-8-9 7 6 8 9z"/><path fill="#8000ff" stroke="#8000ff" d="M682 670l-7 6-8-6 7-5zM577 670l-8 6-7-6 7-5zM562 670l-8 6-8-6 8-6zM516 670l-7 5-8-5 8-6zM531 670l-7 5-8-5 8-6zM546 670l-7 5-8-5 8-6zM697 670l-7 5-8-5 7-6zM501 670l-7 5-8-5 8-6z"/><path fill="#7610ff" stroke="#7610ff" d="M419 661l-8 2-8-5 8-3z"/><path fill="#8000ff" stroke="#8000ff" d="M712 670l-7 5-8-5 7-6zM486 670l-7 5-8-5 8-6zM727 670l-7 5-8-5 7-6zM742 670l-7 5-8-5 8-6zM757 669l-7 6-8-5 8-6zM471 670l-7 5-8-6 8-5z"/><path fill="#7e03ff" stroke="#7e03ff" d="M772 669l-7 6-8-6 8-5z"/><path fill="#386df9" stroke="#386df9" d="M856 587l-8 20-8-5 8-20z"/><path fill="#6a22fe" stroke="#6a22fe" d="M848 645l-8 10-8-5 8-10z"/><path fill="#7e03ff" stroke="#7e03ff" d="M787 668l-7 6-8-5 8-6zM456 669l-8 5-7-6 8-4z"/><path fill="#4ef3cd" stroke="#4ef3cd" d="M803 438l-9 40-7-5 9-40z"/><path fill="#1898f2" stroke="#1898f2" d="M848 552l-8 25-8-5 8-25zM269 566l-9-14 7 5 9 15z"/><path fill="#7c06ff" stroke="#7c06ff" d="M803 668l-8 6-8-6 8-6z"/><path fill="#5e35fe" stroke="#5e35fe" d="M855 632l-7 13-8-5 8-13z"/><path fill="#fcb763" stroke="#fcb763" d="M705 244l-9 64-7-5 9-64z"/><path fill="#7216ff" stroke="#7216ff" d="M840 655l-7 9-8-5 7-9z"/><path fill="#7a09ff" stroke="#7a09ff" d="M441 668l-8 4-7-6 8-3z"/><path fill="#5247fc" stroke="#5247fc" d="M351 629l-8-4-8-6 9 5z"/><path fill="#14cae5" stroke="#14cae5" d="M833 505l-8 31-8-5 9-32z"/><path fill="#7a09ff" stroke="#7a09ff" d="M818 666l-8 7-7-5 7-7z"/><path fill="#ff0905" stroke="#ff0905" d="M630 106l-9 82-7-6 8-81z"/><path fill="#6e1cff" stroke="#6e1cff" d="M403 658l-7 0-8-5 8-1z"/><path fill="#9bfba5" stroke="#9bfba5" d="M766 355l-9 51-8-5 9-51z"/><path fill="#622ffe" stroke="#622ffe" d="M381 647l-8-1-8-6 8 2z"/><path fill="#8000ff" stroke="#8000ff" d="M644 676l-7 5-8-5 8-6zM629 676l-7 5-8-5 8-6z"/><path fill="#396bf9" stroke="#396bf9" d="M313 603l-8-9 7 5 9 9z"/><path fill="#8000ff" stroke="#8000ff" d="M660 676l-8 5-8-5 8-6zM614 676l-7 5-8-5 8-6zM599 676l-7 5-8-5 8-6zM675 676l-8 5-7-5 7-6zM584 676l-7 5-8-5 8-6z"/><path fill="#7610ff" stroke="#7610ff" d="M833 664l-7 7-8-5 7-7z"/><path fill="#8000ff" stroke="#8000ff" d="M569 676l-7 5-8-5 8-6zM690 675l-8 6-7-5 7-6zM524 675l-8 6-7-6 7-5zM554 676l-8 5-7-6 7-5zM539 675l-8 6-7-6 7-5zM509 675l-8 6-7-6 7-5zM705 675l-8 6-7-6 7-5z"/><path fill="#7610ff" stroke="#7610ff" d="M426 666l-8 3-7-6 8-2z"/><path fill="#8000ff" stroke="#8000ff" d="M494 675l-8 6-7-6 7-5zM720 675l-8 6-7-6 7-5z"/><path fill="#4e4dfc" stroke="#4e4dfc" d="M863 617l-8 15-7-5 7-15z"/><path fill="#8000ff" stroke="#8000ff" d="M735 675l-7 6-8-6 7-5z"/><path fill="#1acfe3" stroke="#1acfe3" d="M224 523l-10-21 7 6 10 21z"/><path fill="#8000ff" stroke="#8000ff" d="M479 675l-8 5-7-5 7-5zM750 675l-7 5-8-5 7-5z"/><path fill="#7e03ff" stroke="#7e03ff" d="M765 675l-7 5-8-5 7-6zM780 674l-7 6-8-5 7-6zM464 675l-8 4-8-5 8-5z"/><path fill="#4ef3cd" stroke="#4ef3cd" d="M811 443l-9 40-8-5 9-40z"/><path fill="#1898f2" stroke="#1898f2" d="M276 572l-9-15 7 6 9 14z"/><path fill="#7e03ff" stroke="#7e03ff" d="M795 674l-7 5-8-5 7-6z"/><path fill="#3670f8" stroke="#3670f8" d="M864 592l-9 20-7-5 8-20z"/><path fill="#6826fe" stroke="#6826fe" d="M856 650l-8 10-8-5 8-10z"/><path fill="#169bf2" stroke="#169bf2" d="M856 557l-8 25-8-5 8-25z"/><path fill="#fcb763" stroke="#fcb763" d="M713 249l-9 64-8-5 9-64z"/><path fill="#7c06ff" stroke="#7c06ff" d="M810 673l-7 6-8-5 8-6z"/><path fill="#5e35fe" stroke="#5e35fe" d="M863 637l-7 13-8-5 7-13z"/><path fill="#7a09ff" stroke="#7a09ff" d="M448 674l-7 3-8-5 8-4z"/><path fill="#7019ff" stroke="#7019ff" d="M848 660l-7 9-8-5 7-9z"/><path fill="#5247fc" stroke="#5247fc" d="M358 635l-8-5-7-5 8 4z"/><path fill="#14cae5" stroke="#14cae5" d="M841 510l-8 31-8-5 8-31z"/><path fill="#ff0905" stroke="#ff0905" d="M638 111l-9 82-8-5 9-82z"/><path fill="#7a09ff" stroke="#7a09ff" d="M826 671l-8 7-8-5 8-7z"/><path fill="#6e1cff" stroke="#6e1cff" d="M411 663l-8 1-7-6 7 0z"/><path fill="#9bfba5" stroke="#9bfba5" d="M774 361l-10 50-7-5 9-51z"/><path fill="#622ffe" stroke="#622ffe" d="M388 653l-8-2-7-5 8 1z"/><path fill="#396bf9" stroke="#396bf9" d="M321 608l-9-9 8 6 8 9z"/><path fill="#8000ff" stroke="#8000ff" d="M637 681l-7 6-8-6 7-5zM652 681l-7 6-8-6 7-5zM622 681l-8 6-7-6 7-5zM667 681l-7 6-8-6 8-5zM607 681l-8 6-7-6 7-5zM592 681l-8 6-7-6 7-5zM682 681l-7 6-8-6 8-5zM577 681l-8 6-7-6 7-5z"/><path fill="#18cde4" stroke="#18cde4" d="M231 529l-10-21 7 6 10 20z"/><path fill="#8000ff" stroke="#8000ff" d="M562 681l-8 6-8-6 8-5zM531 681l-7 6-8-6 8-6zM546 681l-7 6-8-6 8-6zM516 681l-7 6-8-6 8-6zM697 681l-7 5-8-5 8-6z"/><path fill="#7610ff" stroke="#7610ff" d="M433 672l-7 2-8-5 8-3z"/><path fill="#8000ff" stroke="#8000ff" d="M501 681l-7 5-8-5 8-6zM712 681l-7 5-8-5 8-6zM728 681l-8 5-8-5 8-6z"/><path fill="#7610ff" stroke="#7610ff" d="M841 669l-8 7-7-5 7-7z"/><path fill="#8000ff" stroke="#8000ff" d="M486 681l-8 5-7-6 8-5zM743 680l-8 6-7-5 7-6z"/><path fill="#4c50fc" stroke="#4c50fc" d="M871 622l-8 15-8-5 8-15z"/><path fill="#7e03ff" stroke="#7e03ff" d="M758 680l-8 6-7-6 7-5zM773 680l-7 5-8-5 7-5z"/><path fill="#1898f2" stroke="#1898f2" d="M283 577l-9-14 8 6 8 14z"/><path fill="#7e03ff" stroke="#7e03ff" d="M471 680l-8 5-7-6 8-4zM788 679l-7 6-8-5 7-6z"/><path fill="#4ef3cd" stroke="#4ef3cd" d="M819 449l-9 40-8-6 9-40z"/><path fill="#7c06ff" stroke="#7c06ff" d="M803 679l-7 6-8-6 7-5z"/><path fill="#3670f8" stroke="#3670f8" d="M871 597l-8 20-8-5 9-20z"/><path fill="#fcb763" stroke="#fcb763" d="M721 254l-9 65-8-6 9-64z"/><path fill="#169bf2" stroke="#169bf2" d="M864 562l-8 25-8-5 8-25z"/><path fill="#7a09ff" stroke="#7a09ff" d="M818 678l-7 6-8-5 7-6zM456 679l-8 4-7-6 7-3z"/><path fill="#5247fc" stroke="#5247fc" d="M365 640l-8-4-7-6 8 5z"/><path fill="#14cae5" stroke="#14cae5" d="M849 515l-9 32-7-6 8-31z"/><path fill="#ff0905" stroke="#ff0905" d="M645 116l-8 82-8-5 9-82z"/><path fill="#6e1cff" stroke="#6e1cff" d="M418 669l-8 0-7-5 8-1z"/><path fill="#9bfba5" stroke="#9bfba5" d="M782 366l-10 51-8-6 10-50z"/><path fill="#780dff" stroke="#780dff" d="M833 676l-7 7-8-5 8-7z"/><path fill="#17cbe4" stroke="#17cbe4" d="M238 534l-10-20 8 5 9 21z"/><path fill="#622ffe" stroke="#622ffe" d="M396 658l-8-1-8-6 8 2z"/><path fill="#396bf9" stroke="#396bf9" d="M328 614l-8-9 7 6 8 8z"/><path fill="#8000ff" stroke="#8000ff" d="M645 687l-8 5-7-5 7-6zM630 687l-8 5-8-5 8-6zM660 687l-8 5-7-5 7-6zM614 687l-7 5-8-5 8-6zM599 687l-7 5-8-5 8-6zM675 687l-8 5-7-5 7-6zM584 687l-7 5-8-5 8-6zM569 687l-7 5-8-5 8-6zM554 687l-8 5-7-5 7-6zM539 687l-8 5-7-5 7-6zM524 687l-8 5-7-5 7-6zM690 686l-7 6-8-5 7-6zM509 687l-8 5-7-6 7-5z"/><path fill="#7610ff" stroke="#7610ff" d="M441 677l-8 3-7-6 7-2z"/><path fill="#8000ff" stroke="#8000ff" d="M705 686l-7 6-8-6 7-5zM720 686l-7 6-8-6 7-5zM494 686l-8 5-8-5 8-5zM735 686l-7 5-8-5 8-5z"/><path fill="#7e03ff" stroke="#7e03ff" d="M750 686l-7 5-8-5 8-6zM766 685l-8 6-8-5 8-6z"/><path fill="#1898f2" stroke="#1898f2" d="M290 583l-8-14 7 5 9 14z"/><path fill="#7e03ff" stroke="#7e03ff" d="M478 686l-7 4-8-5 8-5zM781 685l-8 6-7-6 7-5z"/><path fill="#4ef3cd" stroke="#4ef3cd" d="M827 454l-9 40-8-5 9-40z"/><path fill="#7c06ff" stroke="#7c06ff" d="M796 685l-8 5-7-5 7-6z"/><path fill="#fcb763" stroke="#fcb763" d="M729 259l-10 65-7-5 9-65z"/><path fill="#7c06ff" stroke="#7c06ff" d="M811 684l-7 6-8-5 7-6z"/><path fill="#3473f8" stroke="#3473f8" d="M879 602l-8 20-8-5 8-20z"/><path fill="#169bf2" stroke="#169bf2" d="M872 567l-8 25-8-5 8-25z"/><path fill="#7a09ff" stroke="#7a09ff" d="M463 685l-7 3-8-5 8-4z"/><path fill="#5247fc" stroke="#5247fc" d="M373 646l-8-5-8-5 8 4z"/><path fill="#ff0905" stroke="#ff0905" d="M653 121l-9 82-7-5 8-82z"/><path fill="#7a09ff" stroke="#7a09ff" d="M826 683l-7 6-8-5 7-6z"/><path fill="#14cae5" stroke="#14cae5" d="M857 520l-9 32-8-5 9-32z"/><path fill="#9bfba5" stroke="#9bfba5" d="M789 371l-9 51-8-5 10-51z"/><path fill="#6e1cff" stroke="#6e1cff" d="M426 674l-8 1-8-6 8 0z"/><path fill="#17cbe4" stroke="#17cbe4" d="M245 540l-9-21 7 6 9 21z"/><path fill="#622ffe" stroke="#622ffe" d="M403 664l-8-2-7-5 8 1z"/><path fill="#396bf9" stroke="#396bf9" d="M335 619l-8-8 7 5 9 9z"/><path fill="#8000ff" stroke="#8000ff" d="M637 692l-7 6-8-6 8-5zM652 692l-7 6-8-6 8-5zM622 692l-7 6-8-6 7-5zM607 692l-8 6-7-6 7-5zM667 692l-7 6-8-6 8-5zM592 692l-8 6-7-6 7-5zM562 692l-8 6-8-6 8-5zM546 692l-7 6-8-6 8-5zM577 692l-8 6-7-6 7-5zM531 692l-7 6-8-6 8-5zM683 692l-8 6-8-6 8-5zM698 692l-8 6-7-6 7-6zM516 692l-7 5-8-5 8-5z"/><path fill="#7610ff" stroke="#7610ff" d="M448 683l-8 2-7-5 8-3z"/><path fill="#8000ff" stroke="#8000ff" d="M713 692l-8 5-7-5 7-6zM501 692l-8 5-7-6 8-5zM728 691l-7 6-8-5 7-6z"/><path fill="#7e03ff" stroke="#7e03ff" d="M743 691l-7 6-8-6 7-5z"/><path fill="#1898f2" stroke="#1898f2" d="M298 588l-9-14 7 6 9 14z"/><path fill="#7e03ff" stroke="#7e03ff" d="M758 691l-7 5-8-5 7-5zM486 691l-8 5-7-6 7-4zM773 691l-7 5-8-5 8-6z"/><path fill="#4ef3cd" stroke="#4ef3cd" d="M835 459l-9 40-8-5 9-40z"/><path fill="#7c06ff" stroke="#7c06ff" d="M788 690l-7 6-8-5 8-6z"/><path fill="#fcb763" stroke="#fcb763" d="M737 264l-10 65-8-5 10-65z"/><path fill="#7c06ff" stroke="#7c06ff" d="M804 690l-8 5-8-5 8-5z"/><path fill="#7a09ff" stroke="#7a09ff" d="M471 690l-8 4-7-6 7-3zM819 689l-8 6-7-5 7-6z"/><path fill="#5247fc" stroke="#5247fc" d="M380 651l-8-4-7-6 8 5z"/><path fill="#149df1" stroke="#149df1" d="M880 572l-9 25-7-5 8-25z"/><path fill="#ff0905" stroke="#ff0905" d="M661 126l-9 82-8-5 9-82z"/><path fill="#17cbe4" stroke="#17cbe4" d="M865 525l-9 32-8-5 9-32zM252 546l-9-21 7 6 10 21z"/><path fill="#9bfba5" stroke="#9bfba5" d="M797 376l-9 51-8-5 9-51z"/><path fill="#6e1cff" stroke="#6e1cff" d="M433 680l-8 1-7-6 8-1z"/><path fill="#396bf9" stroke="#396bf9" d="M343 625l-9-9 8 6 8 8z"/><path fill="#622ffe" stroke="#622ffe" d="M410 669l-8-1-7-6 8 2z"/><path fill="#8000ff" stroke="#8000ff" d="M645 698l-8 5-7-5 7-6zM630 698l-8 5-7-5 7-6zM615 698l-8 5-8-5 8-6zM660 698l-8 5-7-5 7-6zM554 698l-8 5-7-5 7-6zM599 698l-7 5-8-5 8-6zM569 698l-7 5-8-5 8-6zM584 698l-7 5-8-5 8-6zM539 698l-8 5-7-5 7-6zM675 698l-7 5-8-5 7-6zM690 698l-7 5-8-5 8-6zM524 698l-8 5-7-6 7-5z"/><path fill="#7610ff" stroke="#7610ff" d="M456 688l-8 3-8-6 8-2z"/><path fill="#8000ff" stroke="#8000ff" d="M705 697l-7 6-8-5 8-6zM721 697l-8 6-8-6 8-5zM509 697l-8 6-8-6 8-5z"/><path fill="#7e03ff" stroke="#7e03ff" d="M736 697l-8 5-7-5 7-6z"/><path fill="#1898f2" stroke="#1898f2" d="M305 594l-9-14 7 5 9 14z"/><path fill="#7e03ff" stroke="#7e03ff" d="M751 696l-8 6-7-5 7-6zM493 697l-7 4-8-5 8-5zM766 696l-7 6-8-6 7-5z"/><path fill="#4ef3cd" stroke="#4ef3cd" d="M843 464l-10 41-7-6 9-40z"/><path fill="#7c06ff" stroke="#7c06ff" d="M781 696l-7 5-8-5 7-5z"/><path fill="#fcb763" stroke="#fcb763" d="M744 270l-9 64-8-5 10-65z"/><path fill="#7c06ff" stroke="#7c06ff" d="M796 695l-7 6-8-5 7-6z"/><path fill="#7a09ff" stroke="#7a09ff" d="M478 696l-7 4-8-6 8-4zM811 695l-7 5-8-5 8-5z"/><path fill="#5247fc" stroke="#5247fc" d="M388 657l-9-5-7-5 8 4z"/><path fill="#ff0905" stroke="#ff0905" d="M668 131l-9 82-7-5 9-82z"/><path fill="#14cae5" stroke="#14cae5" d="M260 552l-10-21 8 6 9 20z"/><path fill="#149df1" stroke="#149df1" d="M888 577l-9 25-8-5 9-25z"/><path fill="#9bfba5" stroke="#9bfba5" d="M805 382l-9 51-8-6 9-51z"/><path fill="#6e1cff" stroke="#6e1cff" d="M440 685l-7 1-8-5 8-1z"/><path fill="#17cbe4" stroke="#17cbe4" d="M873 530l-9 32-8-5 9-32z"/><path fill="#396bf9" stroke="#396bf9" d="M350 630l-8-8 7 5 8 9z"/><path fill="#622ffe" stroke="#622ffe" d="M418 675l-8-1-8-6 8 1z"/><path fill="#8000ff" stroke="#8000ff" d="M562 703l-8 6-8-6 8-5zM577 703l-8 6-7-6 7-5zM637 703l-7 6-8-6 8-5zM622 703l-7 6-8-6 8-5zM592 703l-8 6-7-6 7-5zM607 703l-7 6-8-6 7-5zM652 703l-7 6-8-6 8-5zM546 703l-7 6-8-6 8-5zM668 703l-8 6-8-6 8-5zM683 703l-8 6-7-6 7-5zM531 703l-7 6-8-6 8-5z"/><path fill="#7610ff" stroke="#7610ff" d="M463 694l-8 2-7-5 8-3z"/><path fill="#8000ff" stroke="#8000ff" d="M698 703l-7 6-8-6 7-5zM713 703l-7 5-8-5 7-6zM516 703l-8 5-7-5 8-6z"/><path fill="#7e03ff" stroke="#7e03ff" d="M728 702l-7 6-8-5 8-6z"/><path fill="#1898f2" stroke="#1898f2" d="M312 599l-9-14 8 6 9 14z"/><path fill="#7e03ff" stroke="#7e03ff" d="M743 702l-7 6-8-6 8-5zM501 703l-8 4-7-6 7-4zM759 702l-8 5-8-5 8-6z"/><path fill="#4ef3cd" stroke="#4ef3cd" d="M851 470l-10 40-8-5 10-41z"/><path fill="#7c06ff" stroke="#7c06ff" d="M774 701l-8 6-7-5 7-6z"/><path fill="#fcb763" stroke="#fcb763" d="M752 275l-9 64-8-5 9-64z"/><path fill="#7c06ff" stroke="#7c06ff" d="M789 701l-7 5-8-5 7-5z"/><path fill="#7a09ff" stroke="#7a09ff" d="M486 701l-8 4-7-5 7-4zM804 700l-7 6-8-5 7-6z"/><path fill="#5247fc" stroke="#5247fc" d="M395 662l-8-4-8-6 9 5z"/><path fill="#ff0905" stroke="#ff0905" d="M676 137l-9 81-8-5 9-82z"/><path fill="#14cae5" stroke="#14cae5" d="M267 557l-9-20 7 5 9 21z"/><path fill="#9bfba5" stroke="#9bfba5" d="M813 387l-10 51-7-5 9-51z"/><path fill="#6e1cff" stroke="#6e1cff" d="M448 691l-8 1-7-6 7-1z"/><path fill="#17cbe4" stroke="#17cbe4" d="M881 535l-9 32-8-5 9-32z"/><path fill="#396bf9" stroke="#396bf9" d="M357 636l-8-9 7 6 9 8z"/><path fill="#622ffe" stroke="#622ffe" d="M425 681l-8-2-7-5 8 1z"/><path fill="#8000ff" stroke="#8000ff" d="M569 709l-7 6-8-6 8-6zM584 709l-7 6-8-6 8-6zM554 709l-8 6-7-6 7-6zM600 709l-8 6-8-6 8-6zM615 709l-8 6-7-6 7-6zM630 709l-8 5-7-5 7-6zM645 709l-7 5-8-5 7-6zM660 709l-7 5-8-5 7-6zM539 709l-8 5-7-5 7-6zM675 709l-7 5-8-5 8-6z"/><path fill="#7610ff" stroke="#7610ff" d="M471 700l-8 2-8-6 8-2z"/><path fill="#8000ff" stroke="#8000ff" d="M691 709l-8 5-8-5 8-6zM706 708l-8 6-7-5 7-6zM524 709l-8 5-8-6 8-5z"/><path fill="#7e03ff" stroke="#7e03ff" d="M721 708l-8 6-7-6 7-5z"/><path fill="#1996f3" stroke="#1996f3" d="M320 605l-9-14 7 6 9 14z"/><path fill="#7e03ff" stroke="#7e03ff" d="M736 708l-7 5-8-5 7-6zM508 708l-7 5-8-6 8-4zM751 707l-7 6-8-5 7-6z"/><path fill="#7c06ff" stroke="#7c06ff" d="M766 707l-7 5-8-5 8-5z"/><path fill="#4ef3cd" stroke="#4ef3cd" d="M859 475l-10 40-8-5 10-40z"/><path fill="#fcb763" stroke="#fcb763" d="M760 280l-10 65-7-6 9-64z"/><path fill="#7c06ff" stroke="#7c06ff" d="M782 706l-8 6-8-5 8-6z"/><path fill="#7a09ff" stroke="#7a09ff" d="M493 707l-7 4-8-6 8-4zM797 706l-8 5-7-5 7-5z"/><path fill="#5247fc" stroke="#5247fc" d="M402 668l-8-5-7-5 8 4z"/><path fill="#ff0905" stroke="#ff0905" d="M684 142l-9 81-8-5 9-81z"/><path fill="#14cae5" stroke="#14cae5" d="M274 563l-9-21 7 6 10 21z"/><path fill="#9bfba5" stroke="#9bfba5" d="M821 392l-10 51-8-5 10-51z"/><path fill="#6e1cff" stroke="#6e1cff" d="M455 696l-7 1-8-5 8-1z"/><path fill="#54f6cb" stroke="#54f6cb" d="M214 502l-10-30 7 6 10 30z"/><path fill="#396bf9" stroke="#396bf9" d="M365 641l-9-8 8 5 8 9z"/><path fill="#622ffe" stroke="#622ffe" d="M433 686l-8-1-8-6 8 2z"/><path fill="#18cde4" stroke="#18cde4" d="M889 540l-9 32-8-5 9-32z"/><path fill="#8000ff" stroke="#8000ff" d="M577 715l-8 5-7-5 7-6zM592 715l-8 5-7-5 7-6zM562 715l-8 5-8-5 8-6zM607 715l-7 5-8-5 8-6zM622 714l-7 6-8-5 8-6zM638 714l-8 6-8-6 8-5zM653 714l-8 6-7-6 7-5zM546 715l-7 5-8-6 8-5zM668 714l-8 6-7-6 7-5z"/><path fill="#7610ff" stroke="#7610ff" d="M478 705l-8 3-7-6 8-2z"/><path fill="#8000ff" stroke="#8000ff" d="M683 714l-7 6-8-6 7-5zM698 714l-7 6-8-6 8-5zM531 714l-7 5-8-5 8-5z"/><path fill="#7e03ff" stroke="#7e03ff" d="M713 714l-7 5-8-5 8-6z"/><path fill="#1996f3" stroke="#1996f3" d="M327 611l-9-14 8 5 8 14z"/><path fill="#7e03ff" stroke="#7e03ff" d="M729 713l-8 6-8-5 8-6zM516 714l-8 4-7-5 7-5zM744 713l-8 6-7-6 7-5z"/><path fill="#7c06ff" stroke="#7c06ff" d="M759 712l-7 6-8-5 7-6z"/><path fill="#fcb763" stroke="#fcb763" d="M768 285l-10 65-8-5 10-65z"/><path fill="#50f4cc" stroke="#50f4cc" d="M866 480l-9 40-8-5 10-40z"/><path fill="#7c06ff" stroke="#7c06ff" d="M774 712l-7 6-8-6 7-5z"/><path fill="#7a09ff" stroke="#7a09ff" d="M501 713l-8 3-7-5 7-4zM789 711l-7 6-8-5 8-6z"/><path fill="#14cae5" stroke="#14cae5" d="M282 569l-10-21 8 6 9 20z"/><path fill="#ff0905" stroke="#ff0905" d="M692 147l-10 81-7-5 9-81z"/><path fill="#5247fc" stroke="#5247fc" d="M410 674l-8-5-8-6 8 5z"/><path fill="#52f5cb" stroke="#52f5cb" d="M221 508l-10-30 7 6 10 30z"/><path fill="#9bfba5" stroke="#9bfba5" d="M829 398l-10 51-8-6 10-51z"/><path fill="#6e1cff" stroke="#6e1cff" d="M463 702l-8 1-7-6 7-1z"/><path fill="#396bf9" stroke="#396bf9" d="M372 647l-8-9 7 6 8 8z"/><path fill="#622ffe" stroke="#622ffe" d="M440 692l-8-2-7-5 8 1z"/><path fill="#8000ff" stroke="#8000ff" d="M584 720l-7 6-8-6 8-5zM569 720l-7 6-8-6 8-5zM600 720l-8 6-8-6 8-5zM615 720l-8 6-7-6 7-5zM630 720l-8 6-7-6 7-6zM554 720l-8 6-7-6 7-5zM645 720l-7 6-8-6 8-6z"/><path fill="#7610ff" stroke="#7610ff" d="M486 711l-8 2-8-5 8-3z"/><path fill="#8000ff" stroke="#8000ff" d="M660 720l-7 5-8-5 8-6zM676 720l-8 5-8-5 8-6z"/><path fill="#1acfe3" stroke="#1acfe3" d="M897 545l-9 32-8-5 9-32z"/><path fill="#8000ff" stroke="#8000ff" d="M691 720l-8 5-7-5 7-6zM539 720l-8 5-7-6 7-5z"/><path fill="#7e03ff" stroke="#7e03ff" d="M706 719l-7 6-8-5 7-6z"/><path fill="#1996f3" stroke="#1996f3" d="M334 616l-8-14 7 6 9 14z"/><path fill="#7e03ff" stroke="#7e03ff" d="M721 719l-7 6-8-6 7-5zM524 719l-8 5-8-6 8-4zM736 719l-7 5-8-5 8-6z"/><path fill="#7c06ff" stroke="#7c06ff" d="M752 718l-8 6-8-5 8-6z"/><path fill="#fcb763" stroke="#fcb763" d="M776 291l-10 64-8-5 10-65z"/><path fill="#7c06ff" stroke="#7c06ff" d="M767 718l-7 5-8-5 7-6z"/><path fill="#50f4cc" stroke="#50f4cc" d="M874 485l-9 40-8-5 9-40z"/><path fill="#7a09ff" stroke="#7a09ff" d="M508 718l-7 4-8-6 8-3z"/><path fill="#14cae5" stroke="#14cae5" d="M289 574l-9-20 7 5 9 21z"/><path fill="#7a09ff" stroke="#7a09ff" d="M782 717l-7 6-8-5 7-6z"/><path fill="#ff0905" stroke="#ff0905" d="M700 152l-10 82-8-6 10-81z"/><path fill="#5247fc" stroke="#5247fc" d="M417 679l-8-4-7-6 8 5z"/><path fill="#52f5cb" stroke="#52f5cb" d="M228 514l-10-30 8 6 10 29z"/><path fill="#9bfba5" stroke="#9bfba5" d="M837 403l-10 51-8-5 10-51z"/><path fill="#6e1cff" stroke="#6e1cff" d="M470 708l-7 1-8-6 8-1z"/><path fill="#622ffe" stroke="#622ffe" d="M448 697l-8-1-8-6 8 2z"/><path fill="#396bf9" stroke="#396bf9" d="M379 652l-8-8 8 5 8 9z"/><path fill="#8000ff" stroke="#8000ff" d="M592 726l-8 5-7-5 7-6zM577 726l-8 5-7-5 7-6zM607 726l-7 5-8-5 8-6zM622 726l-7 5-8-5 8-6zM562 726l-8 5-8-5 8-6z"/><path fill="#7610ff" stroke="#7610ff" d="M493 716l-8 3-7-6 8-2z"/><path fill="#8000ff" stroke="#8000ff" d="M638 726l-8 5-8-5 8-6zM653 725l-8 6-7-5 7-6zM668 725l-7 6-8-6 7-5zM546 726l-7 5-8-6 8-5zM683 725l-7 6-8-6 8-5z"/><path fill="#7e03ff" stroke="#7e03ff" d="M699 725l-8 6-8-6 8-5z"/><path fill="#1898f2" stroke="#1898f2" d="M342 622l-9-14 7 5 9 14z"/><path fill="#7e03ff" stroke="#7e03ff" d="M714 725l-8 5-7-5 7-6zM531 725l-7 5-8-6 8-5zM729 724l-7 6-8-5 7-6z"/><path fill="#7c06ff" stroke="#7c06ff" d="M744 724l-7 5-8-5 7-5z"/><path fill="#fcb763" stroke="#fcb763" d="M784 296l-10 65-8-6 10-64z"/><path fill="#7c06ff" stroke="#7c06ff" d="M760 723l-8 6-8-5 8-6z"/><path fill="#14cae5" stroke="#14cae5" d="M296 580l-9-21 7 6 9 20z"/><path fill="#7a09ff" stroke="#7a09ff" d="M516 724l-8 4-7-6 7-4z"/><path fill="#50f4cc" stroke="#50f4cc" d="M882 490l-9 40-8-5 9-40zM236 519l-10-29 7 6 10 29z"/><path fill="#7a09ff" stroke="#7a09ff" d="M775 723l-8 5-7-5 7-5z"/><path fill="#ff0905" stroke="#ff0905" d="M707 157l-9 82-8-5 10-82z"/><path fill="#5247fc" stroke="#5247fc" d="M425 685l-8-5-8-5 8 4z"/><path fill="#9bfba5" stroke="#9bfba5" d="M845 408l-10 51-8-5 10-51z"/><path fill="#6e1cff" stroke="#6e1cff" d="M478 713l-8 1-7-5 7-1z"/><path fill="#622ffe" stroke="#622ffe" d="M455 703l-8-2-7-5 8 1z"/><path fill="#396bf9" stroke="#396bf9" d="M387 658l-8-9 7 6 8 8z"/><path fill="#8000ff" stroke="#8000ff" d="M584 731l-7 6-8-6 8-5zM600 731l-8 6-8-6 8-5zM615 731l-8 6-7-6 7-5zM569 731l-7 6-8-6 8-5z"/><path fill="#7610ff" stroke="#7610ff" d="M501 722l-8 3-8-6 8-3z"/><path fill="#8000ff" stroke="#8000ff" d="M630 731l-7 6-8-6 7-5zM645 731l-7 6-8-6 8-5zM661 731l-8 6-8-6 8-6zM554 731l-8 5-7-5 7-5zM676 731l-8 5-7-5 7-6z"/><path fill="#7e03ff" stroke="#7e03ff" d="M691 731l-7 5-8-5 7-6z"/><path fill="#1898f2" stroke="#1898f2" d="M349 627l-9-14 8 6 8 14z"/><path fill="#7e03ff" stroke="#7e03ff" d="M706 730l-7 6-8-5 8-6zM539 731l-8 4-7-5 7-5zM722 730l-8 6-8-6 8-5z"/><path fill="#7c06ff" stroke="#7c06ff" d="M737 729l-8 6-7-5 7-6z"/><path fill="#fcb763" stroke="#fcb763" d="M792 301l-10 65-8-5 10-65z"/><path fill="#7c06ff" stroke="#7c06ff" d="M752 729l-7 6-8-6 7-5z"/><path fill="#50f4cc" stroke="#50f4cc" d="M243 525l-10-29 7 6 10 29z"/><path fill="#14cae5" stroke="#14cae5" d="M303 585l-9-20 8 5 9 21z"/><path fill="#7a09ff" stroke="#7a09ff" d="M524 730l-8 3-8-5 8-4zM767 728l-7 6-8-5 8-6z"/><path fill="#ff0905" stroke="#ff0905" d="M715 162l-10 82-7-5 9-82z"/><path fill="#5247fc" stroke="#5247fc" d="M432 690l-8-4-7-6 8 5z"/><path fill="#52f5cb" stroke="#52f5cb" d="M890 495l-9 40-8-5 9-40z"/><path fill="#6e1cff" stroke="#6e1cff" d="M485 719l-7 1-8-6 8-1z"/><path fill="#9bfba5" stroke="#9bfba5" d="M853 413l-10 51-8-5 10-51z"/><path fill="#622ffe" stroke="#622ffe" d="M463 709l-8-2-8-6 8 2z"/><path fill="#396bf9" stroke="#396bf9" d="M394 663l-8-8 8 5 8 9z"/><path fill="#8000ff" stroke="#8000ff" d="M592 737l-7 6-8-6 7-6zM607 737l-7 6-8-6 8-6z"/><path fill="#7610ff" stroke="#7610ff" d="M508 728l-7 2-8-5 8-3z"/><path fill="#8000ff" stroke="#8000ff" d="M577 737l-8 5-7-5 7-6zM623 737l-8 6-8-6 8-6zM638 737l-8 5-7-5 7-6zM653 737l-7 5-8-5 7-6zM562 737l-8 5-8-6 8-5z"/><path fill="#7e03ff" stroke="#7e03ff" d="M668 736l-7 6-8-5 8-6zM684 736l-8 6-8-6 8-5z"/><path fill="#1898f2" stroke="#1898f2" d="M356 633l-8-14 7 5 9 14z"/><path fill="#7e03ff" stroke="#7e03ff" d="M699 736l-8 6-7-6 7-5zM546 736l-7 5-8-6 8-4zM714 736l-7 5-8-5 7-6z"/><path fill="#7c06ff" stroke="#7c06ff" d="M729 735l-7 6-8-5 8-6z"/><path fill="#fcb763" stroke="#fcb763" d="M799 306l-10 65-7-5 10-65z"/><path fill="#50f4cc" stroke="#50f4cc" d="M250 531l-10-29 8 5 10 30z"/><path fill="#7c06ff" stroke="#7c06ff" d="M745 735l-8 5-8-5 8-6z"/><path fill="#14cae5" stroke="#14cae5" d="M311 591l-9-21 7 6 9 21z"/><path fill="#7a09ff" stroke="#7a09ff" d="M531 735l-8 4-7-6 8-3zM760 734l-7 6-8-5 7-6z"/><path fill="#ff0905" stroke="#ff0905" d="M723 167l-10 82-8-5 10-82z"/><path fill="#5247fc" stroke="#5247fc" d="M440 696l-8-5-8-5 8 4z"/><path fill="#52f5cb" stroke="#52f5cb" d="M899 500l-10 40-8-5 9-40z"/><path fill="#6e1cff" stroke="#6e1cff" d="M493 725l-8 1-7-6 7-1z"/><path fill="#9bfba5" stroke="#9bfba5" d="M861 419l-10 51-8-6 10-51z"/><path fill="#622ffe" stroke="#622ffe" d="M470 714l-8-1-7-6 8 2z"/><path fill="#396bf9" stroke="#396bf9" d="M402 669l-8-9 7 6 8 9z"/><path fill="#8000ff" stroke="#8000ff" d="M600 743l-8 5-7-5 7-6z"/><path fill="#7610ff" stroke="#7610ff" d="M516 733l-8 3-7-6 7-2z"/><path fill="#8000ff" stroke="#8000ff" d="M615 743l-8 5-7-5 7-6zM585 743l-8 5-8-6 8-5zM630 742l-7 6-8-5 8-6zM646 742l-8 6-8-6 8-5zM569 742l-7 6-8-6 8-5z"/><path fill="#7e03ff" stroke="#7e03ff" d="M661 742l-8 6-7-6 7-5zM676 742l-7 5-8-5 7-6z"/><path fill="#1898f2" stroke="#1898f2" d="M364 638l-9-14 8 6 8 14z"/><path fill="#7e03ff" stroke="#7e03ff" d="M691 742l-7 5-8-5 8-6zM554 742l-8 5-7-6 7-5zM707 741l-8 6-8-5 8-6z"/><path fill="#fcb763" stroke="#fcb763" d="M807 312l-10 64-8-5 10-65z"/><path fill="#7c06ff" stroke="#7c06ff" d="M722 741l-7 5-8-5 7-5z"/><path fill="#4ef3cd" stroke="#4ef3cd" d="M258 537l-10-30 7 6 10 29z"/><path fill="#7c06ff" stroke="#7c06ff" d="M737 740l-7 6-8-5 7-6z"/><path fill="#14cae5" stroke="#14cae5" d="M318 597l-9-21 7 5 10 21z"/><path fill="#7a09ff" stroke="#7a09ff" d="M539 741l-8 4-8-6 8-4zM753 740l-8 5-8-5 8-5z"/><path fill="#ff0905" stroke="#ff0905" d="M731 172l-10 82-8-5 10-82z"/><path fill="#5247fc" stroke="#5247fc" d="M447 701l-8-4-7-6 8 5z"/><path fill="#6e1cff" stroke="#6e1cff" d="M501 730l-8 1-8-5 8-1z"/><path fill="#54f6cb" stroke="#54f6cb" d="M907 505l-10 40-8-5 10-40z"/><path fill="#9cfba4" stroke="#9cfba4" d="M869 424l-10 51-8-5 10-51z"/><path fill="#622ffe" stroke="#622ffe" d="M478 720l-8-2-8-5 8 1z"/><path fill="#396bf9" stroke="#396bf9" d="M409 675l-8-9 7 6 9 8z"/><path fill="#7610ff" stroke="#7610ff" d="M523 739l-7 3-8-6 8-3z"/><path fill="#8000ff" stroke="#8000ff" d="M607 748l-7 6-8-6 8-5zM592 748l-7 6-8-6 8-5zM623 748l-8 6-8-6 8-5zM638 748l-8 6-7-6 7-6z"/><path fill="#7e03ff" stroke="#7e03ff" d="M577 748l-8 5-7-5 7-6zM653 748l-7 5-8-5 8-6z"/><path fill="#1898f2" stroke="#1898f2" d="M371 644l-8-14 7 5 9 14z"/><path fill="#7e03ff" stroke="#7e03ff" d="M669 747l-8 6-8-5 8-6zM684 747l-8 6-7-6 7-5zM562 748l-8 4-8-5 8-5zM699 747l-7 5-8-5 7-5z"/><path fill="#fcb763" stroke="#fcb763" d="M815 317l-10 65-8-6 10-64z"/><path fill="#4ef3cd" stroke="#4ef3cd" d="M265 542l-10-29 7 6 10 29z"/><path fill="#7c06ff" stroke="#7c06ff" d="M715 746l-8 6-8-5 8-6zM730 746l-8 6-7-6 7-5z"/><path fill="#14cae5" stroke="#14cae5" d="M326 602l-10-21 8 6 9 21z"/><path fill="#7a09ff" stroke="#7a09ff" d="M745 745l-7 6-8-5 7-6zM546 747l-7 3-8-5 8-4z"/><path fill="#ff0905" stroke="#ff0905" d="M739 178l-10 81-8-5 10-82z"/><path fill="#5247fc" stroke="#5247fc" d="M455 707l-8-4-8-6 8 4z"/><path fill="#6e1cff" stroke="#6e1cff" d="M508 736l-8 1-7-6 8-1z"/><path fill="#9cfba4" stroke="#9cfba4" d="M877 429l-11 51-7-5 10-51z"/><path fill="#622ffe" stroke="#622ffe" d="M485 726l-8-2-7-6 8 2z"/><path fill="#396bf9" stroke="#396bf9" d="M417 680l-9-8 8 5 8 9z"/><path fill="#7610ff" stroke="#7610ff" d="M531 745l-8 2-7-5 7-3z"/><path fill="#8000ff" stroke="#8000ff" d="M615 754l-7 5-8-5 7-6zM600 754l-8 5-7-5 7-6zM630 754l-7 5-8-5 8-6z"/><path fill="#7e03ff" stroke="#7e03ff" d="M585 754l-8 5-8-6 8-5zM646 753l-8 6-8-5 8-6z"/><path fill="#1898f2" stroke="#1898f2" d="M379 649l-9-14 8 6 8 14z"/><path fill="#7e03ff" stroke="#7e03ff" d="M661 753l-7 6-8-6 7-5zM676 753l-7 5-8-5 8-6zM569 753l-7 5-8-6 8-4zM692 752l-8 6-8-5 8-6z"/><path fill="#4ef3cd" stroke="#4ef3cd" d="M272 548l-10-29 8 5 10 30z"/><path fill="#fcb763" stroke="#fcb763" d="M823 322l-10 65-8-5 10-65z"/><path fill="#7c06ff" stroke="#7c06ff" d="M707 752l-7 6-8-6 7-5zM722 752l-7 5-8-5 8-6z"/><path fill="#14cae5" stroke="#14cae5" d="M333 608l-9-21 7 5 9 21z"/><path fill="#ff0905" stroke="#ff0905" d="M747 183l-10 81-8-5 10-81z"/><path fill="#7a09ff" stroke="#7a09ff" d="M738 751l-8 6-8-5 8-6zM554 752l-8 4-7-6 7-3z"/><path fill="#5247fc" stroke="#5247fc" d="M462 713l-8-5-7-5 8 4z"/><path fill="#6e1cff" stroke="#6e1cff" d="M516 742l-8 1-8-6 8-1z"/><path fill="#622ffe" stroke="#622ffe" d="M493 731l-8-1-8-6 8 2z"/><path fill="#9cfba4" stroke="#9cfba4" d="M885 434l-11 51-8-5 11-51z"/><path fill="#396bf9" stroke="#396bf9" d="M424 686l-8-9 8 6 8 8z"/><path fill="#7610ff" stroke="#7610ff" d="M539 750l-8 3-8-6 8-2z"/><path fill="#8000ff" stroke="#8000ff" d="M608 759l-8 6-8-6 8-5zM623 759l-8 6-7-6 7-5z"/><path fill="#7e03ff" stroke="#7e03ff" d="M638 759l-7 6-8-6 7-5zM592 759l-7 5-8-5 8-5zM654 759l-8 5-8-5 8-6z"/><path fill="#1898f2" stroke="#1898f2" d="M386 655l-8-14 7 5 9 14z"/><path fill="#7e03ff" stroke="#7e03ff" d="M669 758l-8 6-7-5 7-6zM577 759l-8 4-7-5 7-5z"/><path fill="#4ef3cd" stroke="#4ef3cd" d="M280 554l-10-30 7 6 10 29z"/><path fill="#7e03ff" stroke="#7e03ff" d="M684 758l-7 6-8-6 7-5z"/><path fill="#a0faa1" stroke="#a0faa1" d="M204 472l-12-40 8 6 11 40z"/><path fill="#fcb763" stroke="#fcb763" d="M831 328l-10 64-8-5 10-65z"/><path fill="#7c06ff" stroke="#7c06ff" d="M700 758l-8 5-8-5 8-6zM715 757l-8 6-7-5 7-6z"/><path fill="#14cae5" stroke="#14cae5" d="M340 613l-9-21 8 6 9 21z"/><path fill="#ff0905" stroke="#ff0905" d="M755 188l-11 82-7-6 10-81z"/><path fill="#7a09ff" stroke="#7a09ff" d="M730 757l-7 5-8-5 7-5zM562 758l-8 4-8-6 8-4z"/><path fill="#5247fc" stroke="#5247fc" d="M470 718l-8-4-8-6 8 5z"/><path fill="#6e1cff" stroke="#6e1cff" d="M523 747l-7 1-8-5 8-1z"/><path fill="#622ffe" stroke="#622ffe" d="M500 737l-7-1-8-6 8 1z"/><path fill="#396bf9" stroke="#396bf9" d="M432 691l-8-8 7 5 8 9z"/><path fill="#9cfba4" stroke="#9cfba4" d="M893 439l-11 51-8-5 11-51z"/><path fill="#7610ff" stroke="#7610ff" d="M546 756l-7 3-8-6 8-3z"/><path fill="#7e03ff" stroke="#7e03ff" d="M615 765l-7 5-8-5 8-6zM631 765l-8 5-8-5 8-6zM600 765l-8 5-7-6 7-5zM646 764l-8 6-7-5 7-6z"/><path fill="#1898f2" stroke="#1898f2" d="M394 660l-9-14 8 6 8 14z"/><path fill="#9efaa2" stroke="#9efaa2" d="M211 478l-11-40 7 6 11 40z"/><path fill="#7e03ff" stroke="#7e03ff" d="M661 764l-7 6-8-6 8-5z"/><path fill="#4ef3cd" stroke="#4ef3cd" d="M287 559l-10-29 7 5 10 30z"/><path fill="#7c06ff" stroke="#7c06ff" d="M677 764l-8 5-8-5 8-6zM585 764l-8 5-8-6 8-4z"/><path fill="#fcb763" stroke="#fcb763" d="M839 333l-10 65-8-6 10-64z"/><path fill="#7c06ff" stroke="#7c06ff" d="M692 763l-8 6-7-5 7-6zM707 763l-7 6-8-6 8-5z"/><path fill="#14cae5" stroke="#14cae5" d="M348 619l-9-21 7 6 9 20z"/><path fill="#ff0905" stroke="#ff0905" d="M763 193l-11 82-8-5 11-82z"/><path fill="#7a09ff" stroke="#7a09ff" d="M723 762l-8 6-8-5 8-6zM569 763l-7 4-8-5 8-4z"/><path fill="#5247fc" stroke="#5247fc" d="M477 724l-8-4-7-6 8 4z"/><path fill="#6e1cff" stroke="#6e1cff" d="M531 753l-8 1-7-6 7-1z"/><path fill="#622ffe" stroke="#622ffe" d="M508 743l-8-2-7-5 7 1z"/><path fill="#396bf9" stroke="#396bf9" d="M439 697l-8-9 8 6 8 9z"/><path fill="#7610ff" stroke="#7610ff" d="M554 762l-8 2-7-5 7-3z"/><path fill="#9efaa2" stroke="#9efaa2" d="M901 444l-11 51-8-5 11-51zM218 484l-11-40 8 6 11 40z"/><path fill="#7e03ff" stroke="#7e03ff" d="M623 770l-8 6-7-6 7-5z"/><path fill="#1898f2" stroke="#1898f2" d="M401 666l-8-14 7 6 8 14z"/><path fill="#7e03ff" stroke="#7e03ff" d="M638 770l-7 6-8-6 8-5zM608 770l-8 6-8-6 8-5zM654 770l-8 6-8-6 8-6z"/><path fill="#4ef3cd" stroke="#4ef3cd" d="M294 565l-10-30 8 6 10 29z"/><path fill="#7c06ff" stroke="#7c06ff" d="M669 769l-7 6-8-5 7-6zM592 770l-7 5-8-6 8-5z"/><path fill="#fcb763" stroke="#fcb763" d="M847 338l-10 65-8-5 10-65z"/><path fill="#7c06ff" stroke="#7c06ff" d="M684 769l-7 6-8-6 8-5zM700 769l-8 5-8-5 8-6z"/><path fill="#14cae5" stroke="#14cae5" d="M355 624l-9-20 8 5 9 21z"/><path fill="#ff0905" stroke="#ff0905" d="M770 198l-10 82-8-5 11-82z"/><path fill="#7a09ff" stroke="#7a09ff" d="M715 768l-7 6-8-5 7-6zM577 769l-8 4-7-6 7-4z"/><path fill="#5247fc" stroke="#5247fc" d="M485 730l-8-5-8-5 8 4z"/><path fill="#6e1cff" stroke="#6e1cff" d="M539 759l-8 1-8-6 8-1z"/><path fill="#622ffe" stroke="#622ffe" d="M516 748l-8-1-8-6 8 2z"/><path fill="#396bf9" stroke="#396bf9" d="M447 703l-8-9 7 6 8 8z"/><path fill="#9cfba4" stroke="#9cfba4" d="M226 490l-11-40 7 6 11 40z"/><path fill="#7610ff" stroke="#7610ff" d="M562 767l-8 3-8-6 8-2z"/><path fill="#9efaa2" stroke="#9efaa2" d="M909 449l-10 51-9-5 11-51z"/><path fill="#1898f2" stroke="#1898f2" d="M408 672l-8-14 8 5 8 14z"/><path fill="#7e03ff" stroke="#7e03ff" d="M631 776l-8 5-8-5 8-6zM646 776l-7 5-8-5 7-6zM615 776l-7 5-8-5 8-6z"/><path fill="#4ef3cd" stroke="#4ef3cd" d="M302 570l-10-29 7 6 10 29z"/><path fill="#7c06ff" stroke="#7c06ff" d="M662 775l-8 6-8-5 8-6z"/><path fill="#fcb763" stroke="#fcb763" d="M855 343l-10 65-8-5 10-65z"/><path fill="#7c06ff" stroke="#7c06ff" d="M600 776l-8 4-7-5 7-5zM677 775l-8 6-7-6 7-6zM692 774l-7 6-8-5 7-6z"/><path fill="#ff0905" stroke="#ff0905" d="M778 204l-10 81-8-5 10-82z"/><path fill="#14cae5" stroke="#14cae5" d="M363 630l-9-21 7 6 9 20z"/><path fill="#7a09ff" stroke="#7a09ff" d="M708 774l-8 5-8-5 8-5z"/><path fill="#5247fc" stroke="#5247fc" d="M493 736l-8-5-8-6 8 5z"/><path fill="#7a09ff" stroke="#7a09ff" d="M585 775l-8 4-8-6 8-4z"/><path fill="#6e1cff" stroke="#6e1cff" d="M546 764l-7 1-8-5 8-1z"/><path fill="#622ffe" stroke="#622ffe" d="M523 754l-8-1-7-6 8 1z"/><path fill="#9cfba4" stroke="#9cfba4" d="M233 496l-11-40 7 5 11 41z"/><path fill="#396bf9" stroke="#396bf9" d="M454 708l-8-8 8 5 8 9z"/><path fill="#7413ff" stroke="#7413ff" d="M569 773l-7 3-8-6 8-3z"/><path fill="#1898f2" stroke="#1898f2" d="M416 677l-8-14 7 6 9 14z"/><path fill="#4ef3cd" stroke="#4ef3cd" d="M309 576l-10-29 8 5 9 29z"/><path fill="#7e03ff" stroke="#7e03ff" d="M639 781l-8 6-8-6 8-5z"/><path fill="#a0faa1" stroke="#a0faa1" d="M917 454l-10 51-8-5 10-51z"/><path fill="#7c06ff" stroke="#7c06ff" d="M623 781l-7 6-8-6 7-5zM654 781l-8 6-7-6 7-5z"/><path fill="#fcb763" stroke="#fcb763" d="M863 349l-10 64-8-5 10-65z"/><path fill="#7c06ff" stroke="#7c06ff" d="M669 781l-7 5-8-5 8-6zM608 781l-8 5-8-6 8-4zM685 780l-8 6-8-5 8-6z"/><path fill="#ff0d06" stroke="#ff0d06" d="M786 209l-10 82-8-6 10-81z"/><path fill="#14cae5" stroke="#14cae5" d="M370 635l-9-20 8 5 9 21z"/><path fill="#7a09ff" stroke="#7a09ff" d="M700 779l-7 6-8-5 7-6z"/><path fill="#5247fc" stroke="#5247fc" d="M500 741l-8-4-7-6 8 5z"/><path fill="#7a09ff" stroke="#7a09ff" d="M592 780l-7 4-8-5 8-4z"/><path fill="#6e1cff" stroke="#6e1cff" d="M554 770l-8 1-7-6 7-1z"/><path fill="#9cfba4" stroke="#9cfba4" d="M240 502l-11-41 8 6 11 40z"/><path fill="#622ffe" stroke="#622ffe" d="M531 760l-8-2-8-5 8 1z"/><path fill="#396bf9" stroke="#396bf9" d="M462 714l-8-9 7 6 8 9z"/><path fill="#7413ff" stroke="#7413ff" d="M577 779l-8 2-7-5 7-3z"/><path fill="#1898f2" stroke="#1898f2" d="M424 683l-9-14 8 6 8 13z"/><path fill="#4ef3cd" stroke="#4ef3cd" d="M316 581l-9-29 7 6 10 29z"/><path fill="#7c06ff" stroke="#7c06ff" d="M646 787l-7 5-8-5 8-6zM631 787l-8 5-7-5 7-6z"/><path fill="#fcb763" stroke="#fcb763" d="M872 354l-11 65-8-6 10-64z"/><path fill="#7c06ff" stroke="#7c06ff" d="M662 786l-8 6-8-5 8-6zM616 787l-8 4-8-5 8-5z"/><path fill="#ff0d06" stroke="#ff0d06" d="M794 214l-10 82-8-5 10-82z"/><path fill="#7a09ff" stroke="#7a09ff" d="M677 786l-7 6-8-6 7-5z"/><path fill="#14cae5" stroke="#14cae5" d="M378 641l-9-21 7 6 9 20z"/><path fill="#7a09ff" stroke="#7a09ff" d="M693 785l-8 6-8-5 8-6z"/><path fill="#5247fc" stroke="#5247fc" d="M508 747l-8-4-8-6 8 4z"/><path fill="#780dff" stroke="#780dff" d="M600 786l-7 4-8-6 7-4z"/><path fill="#9cfba4" stroke="#9cfba4" d="M248 507l-11-40 7 6 11 40z"/><path fill="#6e1cff" stroke="#6e1cff" d="M562 776l-8 1-8-6 8-1z"/><path fill="#396bf9" stroke="#396bf9" d="M469 720l-8-9 8 6 8 8z"/><path fill="#622ffe" stroke="#622ffe" d="M539 765l-8-1-8-6 8 2z"/><path fill="#7413ff" stroke="#7413ff" d="M585 784l-8 3-8-6 8-2z"/><path fill="#1898f2" stroke="#1898f2" d="M431 688l-8-13 7 5 9 14z"/><path fill="#4ef3cd" stroke="#4ef3cd" d="M324 587l-10-29 8 5 9 29z"/><path fill="#fcb763" stroke="#fcb763" d="M880 359l-11 65-8-5 11-65z"/><path fill="#7c06ff" stroke="#7c06ff" d="M639 792l-8 5-8-5 8-5zM654 792l-7 6-8-6 7-5z"/><path fill="#ff0d06" stroke="#ff0d06" d="M802 219l-10 82-8-5 10-82z"/><path fill="#7a09ff" stroke="#7a09ff" d="M670 792l-8 5-8-5 8-6zM623 792l-7 5-8-6 8-4z"/><path fill="#14cae5" stroke="#14cae5" d="M385 646l-9-20 8 5 9 21z"/><path fill="#7a09ff" stroke="#7a09ff" d="M685 791l-7 6-8-5 7-6z"/><path fill="#5247fc" stroke="#5247fc" d="M515 753l-7-5-8-5 8 4z"/><path fill="#780dff" stroke="#780dff" d="M608 791l-8 4-7-5 7-4z"/><path fill="#9bfba5" stroke="#9bfba5" d="M255 513l-11-40 8 5 10 41z"/><path fill="#6c1fff" stroke="#6c1fff" d="M569 781l-7 1-8-5 8-1z"/><path fill="#396bf9" stroke="#396bf9" d="M477 725l-8-8 8 6 8 8z"/><path fill="#622ffe" stroke="#622ffe" d="M546 771l-7-1-8-6 8 1z"/><path fill="#7413ff" stroke="#7413ff" d="M593 790l-8 2-8-5 8-3z"/><path fill="#1898f2" stroke="#1898f2" d="M439 694l-9-14 8 6 8 14z"/><path fill="#4ef3cd" stroke="#4ef3cd" d="M331 592l-9-29 7 6 10 29z"/><path fill="#ff0d06" stroke="#ff0d06" d="M811 225l-12 81-7-5 10-82z"/><path fill="#fcb763" stroke="#fcb763" d="M888 364l-11 65-8-5 11-65z"/><path fill="#7a09ff" stroke="#7a09ff" d="M647 798l-8 5-8-6 8-5zM662 797l-8 6-7-5 7-6z"/><path fill="#14cae5" stroke="#14cae5" d="M393 652l-9-21 7 6 9 21z"/><path fill="#7a09ff" stroke="#7a09ff" d="M631 797l-7 5-8-5 7-5zM678 797l-8 5-8-5 8-5z"/><path fill="#504afc" stroke="#504afc" d="M523 758l-8-4-7-6 7 5z"/><path fill="#9bfba5" stroke="#9bfba5" d="M262 519l-10-41 7 6 11 40z"/><path fill="#780dff" stroke="#780dff" d="M616 797l-8 4-8-6 8-4z"/><path fill="#6c1fff" stroke="#6c1fff" d="M577 787l-8 1-7-6 7-1z"/><path fill="#396bf9" stroke="#396bf9" d="M485 731l-8-8 7 5 8 9z"/><path fill="#622ffe" stroke="#622ffe" d="M554 777l-8-2-7-5 7 1z"/><path fill="#1898f2" stroke="#1898f2" d="M446 700l-8-14 8 6 8 13z"/><path fill="#7413ff" stroke="#7413ff" d="M600 795l-7 3-8-6 8-2z"/><path fill="#4ef3cd" stroke="#4ef3cd" d="M339 598l-10-29 8 5 9 30z"/><path fill="#ff0d06" stroke="#ff0d06" d="M819 230l-12 82-8-6 12-81z"/><path fill="#feb562" stroke="#feb562" d="M896 369l-11 65-8-5 11-65z"/><path fill="#14cae5" stroke="#14cae5" d="M400 658l-9-21 8 6 9 20z"/><path fill="#7a09ff" stroke="#7a09ff" d="M654 803l-7 5-8-5 8-5z"/><path fill="#504afc" stroke="#504afc" d="M531 764l-8-4-8-6 8 4z"/><path fill="#7a09ff" stroke="#7a09ff" d="M670 802l-8 6-8-5 8-6zM639 803l-8 5-7-6 7-5z"/><path fill="#9bfba5" stroke="#9bfba5" d="M270 524l-11-40 7 6 11 40z"/><path fill="#7610ff" stroke="#7610ff" d="M624 802l-8 4-8-5 8-4z"/><path fill="#6c1fff" stroke="#6c1fff" d="M585 792l-8 1-8-5 8-1z"/><path fill="#396bf9" stroke="#396bf9" d="M492 737l-8-9 8 6 8 9z"/><path fill="#622ffe" stroke="#622ffe" d="M562 782l-8-1-8-6 8 2z"/><path fill="#1898f2" stroke="#1898f2" d="M454 705l-8-13 7 5 8 14z"/><path fill="#4ef3cd" stroke="#4ef3cd" d="M346 604l-9-30 7 6 10 29z"/><path fill="#7216ff" stroke="#7216ff" d="M608 801l-8 2-7-5 7-3z"/><path fill="#ff0d06" stroke="#ff0d06" d="M827 235l-12 82-8-5 12-82z"/><path fill="#14cae5" stroke="#14cae5" d="M408 663l-9-20 7 5 9 21z"/><path fill="#feb562" stroke="#feb562" d="M904 374l-11 65-8-5 11-65z"/><path fill="#504afc" stroke="#504afc" d="M539 770l-8-5-8-5 8 4z"/><path fill="#780dff" stroke="#780dff" d="M662 808l-7 5-8-5 7-5z"/><path fill="#9bfba5" stroke="#9bfba5" d="M277 530l-11-40 8 5 10 40z"/><path fill="#780dff" stroke="#780dff" d="M647 808l-8 5-8-5 8-5z"/><path fill="#7610ff" stroke="#7610ff" d="M631 808l-7 3-8-5 8-4z"/><path fill="#396bf9" stroke="#396bf9" d="M500 743l-8-9 8 6 8 8z"/><path fill="#6c1fff" stroke="#6c1fff" d="M593 798l-8 1-8-6 8-1z"/><path fill="#6032fe" stroke="#6032fe" d="M569 788l-7-1-8-6 8 1z"/><path fill="#1898f2" stroke="#1898f2" d="M461 711l-8-14 8 6 8 14z"/><path fill="#4ef3cd" stroke="#4ef3cd" d="M354 609l-10-29 8 5 9 30z"/><path fill="#7216ff" stroke="#7216ff" d="M616 806l-8 3-8-6 8-2z"/><path fill="#ff0d06" stroke="#ff0d06" d="M835 240l-12 82-8-5 12-82z"/><path fill="#14cae5" stroke="#14cae5" d="M415 669l-9-21 8 6 9 21z"/><path fill="#feb562" stroke="#feb562" d="M912 379l-11 65-8-5 11-65z"/><path fill="#504afc" stroke="#504afc" d="M546 775l-8-4-7-6 8 5z"/><path fill="#9bfba5" stroke="#9bfba5" d="M284 535l-10-40 7 6 11 40z"/><path fill="#ffb360" stroke="#ffb360" d="M192 432l-12-54 8 6 12 54z"/><path fill="#7610ff" stroke="#7610ff" d="M655 813l-8 5-8-5 8-5z"/><path fill="#386df9" stroke="#386df9" d="M508 748l-8-8 7 5 8 9z"/><path fill="#6a22fe" stroke="#6a22fe" d="M600 803l-7 1-8-5 8-1z"/><path fill="#7413ff" stroke="#7413ff" d="M639 813l-7 4-8-6 7-3z"/><path fill="#6032fe" stroke="#6032fe" d="M577 793l-7-1-8-5 7 1z"/><path fill="#1898f2" stroke="#1898f2" d="M469 717l-8-14 8 6 8 14z"/><path fill="#4ef3cd" stroke="#4ef3cd" d="M361 615l-9-30 7 6 10 29z"/><path fill="#ff0d06" stroke="#ff0d06" d="M843 246l-12 82-8-6 12-82z"/><path fill="#7216ff" stroke="#7216ff" d="M624 811l-8 3-8-5 8-3z"/><path fill="#14cae5" stroke="#14cae5" d="M423 675l-9-21 8 6 8 20z"/><path fill="#504afc" stroke="#504afc" d="M554 781l-8-4-8-6 8 4z"/><path fill="#9bfba5" stroke="#9bfba5" d="M292 541l-11-40 8 5 10 41z"/><path fill="#ffb360" stroke="#ffb360" d="M920 384l-11 65-8-5 11-65zM200 438l-12-54 7 6 12 54z"/><path fill="#386df9" stroke="#386df9" d="M515 754l-8-9 8 6 8 9z"/><path fill="#6a22fe" stroke="#6a22fe" d="M608 809l-7 1-8-6 7-1z"/><path fill="#6032fe" stroke="#6032fe" d="M585 799l-8-1-7-6 7 1z"/><path fill="#7413ff" stroke="#7413ff" d="M647 818l-8 4-7-5 7-4z"/><path fill="#1898f2" stroke="#1898f2" d="M477 723l-8-14 7 6 8 13z"/><path fill="#4ef3cd" stroke="#4ef3cd" d="M369 620l-10-29 8 6 9 29z"/><path fill="#ff0d06" stroke="#ff0d06" d="M851 251l-12 82-8-5 12-82z"/><path fill="#14cae5" stroke="#14cae5" d="M430 680l-8-20 7 5 9 21z"/><path fill="#7019ff" stroke="#7019ff" d="M632 817l-8 3-8-6 8-3z"/><path fill="#feb562" stroke="#feb562" d="M207 444l-12-54 7 6 13 54z"/><path fill="#9bfba5" stroke="#9bfba5" d="M299 547l-10-41 7 6 11 40z"/><path fill="#504afc" stroke="#504afc" d="M562 787l-8-5-8-5 8 4z"/><path fill="#ffb360" stroke="#ffb360" d="M929 389l-12 65-8-5 11-65z"/><path fill="#386df9" stroke="#386df9" d="M523 760l-8-9 8 6 8 8z"/><path fill="#1898f2" stroke="#1898f2" d="M484 728l-8-13 8 5 8 14z"/><path fill="#6032fe" stroke="#6032fe" d="M593 804l-8-1-8-5 8 1z"/><path fill="#6a22fe" stroke="#6a22fe" d="M616 814l-8 1-7-5 7-1z"/><path fill="#4ef3cd" stroke="#4ef3cd" d="M376 626l-9-29 8 5 9 29z"/><path fill="#ff0d06" stroke="#ff0d06" d="M859 256l-12 82-8-5 12-82z"/><path fill="#14cae5" stroke="#14cae5" d="M438 686l-9-21 8 6 9 21z"/><path fill="#feb562" stroke="#feb562" d="M215 450l-13-54 8 6 12 54z"/><path fill="#6e1cff" stroke="#6e1cff" d="M639 822l-7 3-8-5 8-3z"/><path fill="#9bfba5" stroke="#9bfba5" d="M307 552l-11-40 8 6 10 40z"/><path fill="#504afc" stroke="#504afc" d="M570 792l-8-4-8-6 8 5z"/><path fill="#386df9" stroke="#386df9" d="M531 765l-8-8 8 6 7 8z"/><path fill="#1898f2" stroke="#1898f2" d="M492 734l-8-14 8 6 8 14z"/><path fill="#4ef3cd" stroke="#4ef3cd" d="M384 631l-9-29 7 6 9 29z"/><path fill="#5e35fe" stroke="#5e35fe" d="M601 810l-8-1-8-6 8 1z"/><path fill="#6826fe" stroke="#6826fe" d="M624 820l-8 1-8-6 8-1z"/><path fill="#ff0d06" stroke="#ff0d06" d="M867 261l-12 82-8-5 12-82z"/><path fill="#feb562" stroke="#feb562" d="M222 456l-12-54 7 5 12 54z"/><path fill="#14cae5" stroke="#14cae5" d="M446 692l-9-21 8 6 8 20z"/><path fill="#9bfba5" stroke="#9bfba5" d="M314 558l-10-40 8 5 10 40z"/><path fill="#4e4dfc" stroke="#4e4dfc" d="M577 798l-7-5-8-5 8 4z"/><path fill="#386df9" stroke="#386df9" d="M538 771l-7-8 7 5 8 9z"/><path fill="#1898f2" stroke="#1898f2" d="M500 740l-8-14 7 6 8 13z"/><path fill="#4ef3cd" stroke="#4ef3cd" d="M391 637l-9-29 8 6 9 29z"/><path fill="#5e35fe" stroke="#5e35fe" d="M608 815l-7-1-8-5 8 1z"/><path fill="#6629fe" stroke="#6629fe" d="M632 825l-8 1-8-5 8-1z"/><path fill="#fcb763" stroke="#fcb763" d="M229 461l-12-54 8 6 12 54z"/><path fill="#ff0905" stroke="#ff0905" d="M875 267l-12 82-8-6 12-82z"/><path fill="#14cae5" stroke="#14cae5" d="M453 697l-8-20 7 6 9 20z"/><path fill="#9bfba5" stroke="#9bfba5" d="M322 563l-10-40 7 6 10 40z"/><path fill="#4e4dfc" stroke="#4e4dfc" d="M585 803l-8-4-7-6 7 5z"/><path fill="#386df9" stroke="#386df9" d="M546 777l-8-9 8 6 8 8z"/><path fill="#1898f2" stroke="#1898f2" d="M507 745l-8-13 8 6 8 13z"/><path fill="#4ef3cd" stroke="#4ef3cd" d="M399 643l-9-29 7 5 9 29z"/><path fill="#fcb763" stroke="#fcb763" d="M237 467l-12-54 7 6 12 54z"/><path fill="#5c38fd" stroke="#5c38fd" d="M616 821l-7-2-8-5 7 1z"/><path fill="#ff0905" stroke="#ff0905" d="M884 272l-12 82-9-5 12-82z"/><path fill="#14cae5" stroke="#14cae5" d="M461 703l-9-20 8 5 9 21z"/><path fill="#9bfba5" stroke="#9bfba5" d="M329 569l-10-40 8 5 10 40z"/><path fill="#4e4dfc" stroke="#4e4dfc" d="M593 809l-8-5-8-5 8 4z"/><path fill="#386df9" stroke="#386df9" d="M554 782l-8-8 8 5 8 9z"/><path fill="#1898f2" stroke="#1898f2" d="M515 751l-8-13 8 5 8 14z"/><path fill="#4ef3cd" stroke="#4ef3cd" d="M406 648l-9-29 8 6 9 29z"/><path fill="#fcb763" stroke="#fcb763" d="M244 473l-12-54 8 6 12 53z"/><path fill="#ff0905" stroke="#ff0905" d="M892 277l-12 82-8-5 12-82z"/><path fill="#14cae5" stroke="#14cae5" d="M469 709l-9-21 8 6 8 21z"/><path fill="#5c38fd" stroke="#5c38fd" d="M624 826l-7-1-8-6 7 2z"/><path fill="#9bfba5" stroke="#9bfba5" d="M337 574l-10-40 7 6 10 40z"/><path fill="#4c50fc" stroke="#4c50fc" d="M601 814l-8-4-8-6 8 5z"/><path fill="#3670f8" stroke="#3670f8" d="M562 788l-8-9 8 6 8 8z"/><path fill="#1898f2" stroke="#1898f2" d="M523 757l-8-14 8 6 8 14z"/><path fill="#4ef3cd" stroke="#4ef3cd" d="M414 654l-9-29 8 6 9 29z"/><path fill="#fcb763" stroke="#fcb763" d="M252 478l-12-53 7 5 12 54z"/><path fill="#14cae5" stroke="#14cae5" d="M476 715l-8-21 8 6 8 20z"/><path fill="#ff0905" stroke="#ff0905" d="M900 282l-12 82-8-5 12-82z"/><path fill="#9bfba5" stroke="#9bfba5" d="M344 580l-10-40 8 5 10 40z"/><path fill="#4c50fc" stroke="#4c50fc" d="M609 819l-8-4-8-5 8 4z"/><path fill="#3670f8" stroke="#3670f8" d="M570 793l-8-8 8 6 7 8z"/><path fill="#4ef3cd" stroke="#4ef3cd" d="M422 660l-9-29 8 5 8 29z"/><path fill="#1898f2" stroke="#1898f2" d="M531 763l-8-14 7 6 8 13z"/><path fill="#fcb763" stroke="#fcb763" d="M259 484l-12-54 8 6 11 54z"/><path fill="#14cae5" stroke="#14cae5" d="M484 720l-8-20 7 6 9 20z"/><path fill="#ff0905" stroke="#ff0905" d="M908 287l-12 82-8-5 12-82z"/><path fill="#9bfba5" stroke="#9bfba5" d="M352 585l-10-40 8 6 9 40z"/><path fill="#4a53fb" stroke="#4a53fb" d="M617 825l-8-5-8-5 8 4z"/><path fill="#4ef3cd" stroke="#4ef3cd" d="M429 665l-8-29 7 6 9 29z"/><path fill="#fcb763" stroke="#fcb763" d="M266 490l-11-54 7 5 12 54z"/><path fill="#3670f8" stroke="#3670f8" d="M577 799l-7-8 8 5 7 8z"/><path fill="#169bf2" stroke="#169bf2" d="M538 768l-8-13 8 5 8 14z"/><path fill="#14cae5" stroke="#14cae5" d="M492 726l-9-20 8 5 8 21z"/><path fill="#ff0603" stroke="#ff0603" d="M917 292l-13 82-8-5 12-82z"/><path fill="#9bfba5" stroke="#9bfba5" d="M359 591l-9-40 7 6 10 40z"/><path fill="#4ef3cd" stroke="#4ef3cd" d="M437 671l-9-29 8 6 9 29z"/><path fill="#fcb763" stroke="#fcb763" d="M274 495l-12-54 8 6 11 54z"/><path fill="#169bf2" stroke="#169bf2" d="M546 774l-8-14 8 6 8 13z"/><path fill="#3473f8" stroke="#3473f8" d="M585 804l-7-8 7 5 8 9z"/><path fill="#14cae5" stroke="#14cae5" d="M499 732l-8-21 8 6 8 21z"/><path fill="#9bfba5" stroke="#9bfba5" d="M367 597l-10-40 8 5 10 40z"/><path fill="#ff0603" stroke="#ff0603" d="M925 297l-13 82-8-5 13-82z"/><path fill="#4ef3cd" stroke="#4ef3cd" d="M445 677l-9-29 8 6 8 29z"/><path fill="#fcb763" stroke="#fcb763" d="M281 501l-11-54 8 6 11 53z"/><path fill="#169bf2" stroke="#169bf2" d="M554 779l-8-13 8 5 8 14z"/><path fill="#3473f8" stroke="#3473f8" d="M593 810l-8-9 8 6 8 8z"/><path fill="#14cae5" stroke="#14cae5" d="M507 738l-8-21 8 6 8 20z"/><path fill="#9bfba5" stroke="#9bfba5" d="M375 602l-10-40 8 6 9 40z"/><path fill="#ff0302" stroke="#ff0302" d="M933 302l-13 82-8-5 13-82z"/><path fill="#fcb763" stroke="#fcb763" d="M289 506l-11-53 7 5 11 54z"/><path fill="#4ef3cd" stroke="#4ef3cd" d="M452 683l-8-29 7 5 9 29z"/><path fill="#149df1" stroke="#149df1" d="M562 785l-8-14 8 6 8 14z"/><path fill="#3176f8" stroke="#3176f8" d="M601 815l-8-8 8 5 8 8z"/><path fill="#17cbe4" stroke="#17cbe4" d="M515 743l-8-20 8 6 8 20z"/><path fill="#9bfba5" stroke="#9bfba5" d="M382 608l-9-40 7 6 10 40z"/><path fill="#ff0302" stroke="#ff0302" d="M942 306l-13 83-9-5 13-82zM180 378l-14-72 8 7 14 71z"/><path fill="#fcb763" stroke="#fcb763" d="M296 512l-11-54 8 6 11 54z"/><path fill="#4ef3cd" stroke="#4ef3cd" d="M460 688l-9-29 8 6 9 29z"/><path fill="#149df1" stroke="#149df1" d="M570 791l-8-14 8 5 8 14z"/><path fill="#17cbe4" stroke="#17cbe4" d="M523 749l-8-20 7 5 8 21z"/><path fill="#9bfba5" stroke="#9bfba5" d="M390 614l-10-40 8 5 9 40z"/><path fill="#ff0302" stroke="#ff0302" d="M188 384l-14-71 7 6 14 71z"/><path fill="#fcb763" stroke="#fcb763" d="M304 518l-11-54 8 5 11 54z"/><path fill="#4ef3cd" stroke="#4ef3cd" d="M468 694l-9-29 8 6 9 29z"/><path fill="#149df1" stroke="#149df1" d="M578 796l-8-14 8 6 7 13z"/><path fill="#17cbe4" stroke="#17cbe4" d="M530 755l-8-21 8 6 8 20z"/><path fill="#9bfba5" stroke="#9bfba5" d="M397 619l-9-40 8 6 9 40z"/><path fill="#ff0603" stroke="#ff0603" d="M195 390l-14-71 8 5 13 72z"/><path fill="#fcb763" stroke="#fcb763" d="M312 523l-11-54 7 6 11 54z"/><path fill="#4ef3cd" stroke="#4ef3cd" d="M476 700l-9-29 8 6 8 29z"/><path fill="#ff0603" stroke="#ff0603" d="M202 396l-13-72 7 6 14 72z"/><path fill="#17cbe4" stroke="#17cbe4" d="M538 760l-8-20 8 6 8 20z"/><path fill="#11a0f1" stroke="#11a0f1" d="M585 801l-7-13 8 5 7 14z"/><path fill="#9bfba5" stroke="#9bfba5" d="M405 625l-9-40 7 6 10 40z"/><path fill="#fcb763" stroke="#fcb763" d="M319 529l-11-54 8 6 11 53z"/><path fill="#50f4cc" stroke="#50f4cc" d="M483 706l-8-29 8 5 8 29z"/><path fill="#ff0905" stroke="#ff0905" d="M210 402l-14-72 8 6 13 71z"/><path fill="#9bfba5" stroke="#9bfba5" d="M413 631l-10-40 8 5 10 40z"/><path fill="#17cbe4" stroke="#17cbe4" d="M546 766l-8-20 8 5 8 20z"/><path fill="#11a0f1" stroke="#11a0f1" d="M593 807l-7-14 8 6 7 13z"/><path fill="#fcb763" stroke="#fcb763" d="M327 534l-11-53 8 5 10 54z"/><path fill="#50f4cc" stroke="#50f4cc" d="M491 711l-8-29 8 6 8 29z"/><path fill="#ff0905" stroke="#ff0905" d="M217 407l-13-71 8 6 13 71z"/><path fill="#9bfba5" stroke="#9bfba5" d="M421 636l-10-40 8 6 9 40z"/><path fill="#18cde4" stroke="#18cde4" d="M554 771l-8-20 8 6 8 20z"/><path fill="#fcb763" stroke="#fcb763" d="M334 540l-10-54 7 6 11 53z"/><path fill="#50f4cc" stroke="#50f4cc" d="M499 717l-8-29 7 6 9 29z"/><path fill="#ff0905" stroke="#ff0905" d="M225 413l-13-71 7 6 13 71z"/><path fill="#9bfba5" stroke="#9bfba5" d="M428 642l-9-40 8 6 9 40z"/><path fill="#18cde4" stroke="#18cde4" d="M562 777l-8-20 8 5 8 20z"/><path fill="#fcb763" stroke="#fcb763" d="M342 545l-11-53 8 5 11 54z"/><path fill="#50f4cc" stroke="#50f4cc" d="M507 723l-9-29 8 6 9 29z"/><path fill="#ff0905" stroke="#ff0905" d="M232 419l-13-71 8 5 13 72z"/><path fill="#9bfba5" stroke="#9bfba5" d="M436 648l-9-40 8 6 9 40z"/><path fill="#1acfe3" stroke="#1acfe3" d="M570 782l-8-20 8 6 8 20z"/><path fill="#fcb763" stroke="#fcb763" d="M350 551l-11-54 8 6 10 54z"/><path fill="#50f4cc" stroke="#50f4cc" d="M515 729l-9-29 8 5 8 29z"/><path fill="#ff0905" stroke="#ff0905" d="M240 425l-13-72 8 6 12 71z"/><path fill="#9bfba5" stroke="#9bfba5" d="M444 654l-9-40 7 6 9 39z"/><path fill="#1acfe3" stroke="#1acfe3" d="M578 788l-8-20 8 5 8 20z"/><path fill="#fcb763" stroke="#fcb763" d="M357 557l-10-54 7 6 11 53z"/><path fill="#50f4cc" stroke="#50f4cc" d="M522 734l-8-29 8 6 8 29z"/><path fill="#ff0d06" stroke="#ff0d06" d="M247 430l-12-71 7 6 13 71z"/><path fill="#9bfba5" stroke="#9bfba5" d="M451 659l-9-39 8 5 9 40z"/><path fill="#1dd1e2" stroke="#1dd1e2" d="M586 793l-8-20 8 5 8 21z"/><path fill="#fcb763" stroke="#fcb763" d="M365 562l-11-53 8 5 11 54z"/><path fill="#ff0d06" stroke="#ff0d06" d="M255 436l-13-71 8 5 12 71z"/><path fill="#50f4cc" stroke="#50f4cc" d="M530 740l-8-29 8 6 8 29z"/><path fill="#9bfba5" stroke="#9bfba5" d="M459 665l-9-40 8 6 9 40z"/><path fill="#fcb763" stroke="#fcb763" d="M373 568l-11-54 8 6 10 54z"/><path fill="#ff0d06" stroke="#ff0d06" d="M262 441l-12-71 7 6 13 71z"/><path fill="#52f5cb" stroke="#52f5cb" d="M538 746l-8-29 8 5 8 29z"/><path fill="#9cfba4" stroke="#9cfba4" d="M467 671l-9-40 8 6 9 40z"/><path fill="#fcb763" stroke="#fcb763" d="M380 574l-10-54 8 6 10 53z"/><path fill="#ff0d06" stroke="#ff0d06" d="M270 447l-13-71 8 5 13 72z"/><path fill="#52f5cb" stroke="#52f5cb" d="M546 751l-8-29 8 6 8 29z"/><path fill="#9cfba4" stroke="#9cfba4" d="M475 677l-9-40 8 6 9 39z"/><path fill="#fcb763" stroke="#fcb763" d="M388 579l-10-53 8 5 10 54z"/><path fill="#ff0d06" stroke="#ff0d06" d="M278 453l-13-72 8 6 12 71z"/><path fill="#52f5cb" stroke="#52f5cb" d="M554 757l-8-29 8 5 8 29z"/><path fill="#9cfba4" stroke="#9cfba4" d="M483 682l-9-39 8 5 9 40z"/><path fill="#fcb763" stroke="#fcb763" d="M396 585l-10-54 7 6 10 54z"/><path fill="#ff0d06" stroke="#ff0d06" d="M285 458l-12-71 8 6 12 71z"/><path fill="#54f6cb" stroke="#54f6cb" d="M562 762l-8-29 8 6 8 29z"/><path fill="#9cfba4" stroke="#9cfba4" d="M491 688l-9-40 8 6 8 40z"/><path fill="#fcb763" stroke="#fcb763" d="M403 591l-10-54 8 6 10 53z"/><path fill="#ff0d06" stroke="#ff0d06" d="M293 464l-12-71 7 5 13 71z"/><path fill="#9cfba4" stroke="#9cfba4" d="M498 694l-8-40 8 6 8 40z"/><path fill="#54f6cb" stroke="#54f6cb" d="M570 768l-8-29 8 5 8 29z"/><path fill="#fcb763" stroke="#fcb763" d="M411 596l-10-53 8 6 10 53z"/><path fill="#ff0d06" stroke="#ff0d06" d="M301 469l-13-71 8 6 12 71z"/><path fill="#9cfba4" stroke="#9cfba4" d="M506 700l-8-40 8 6 8 39z"/><path fill="#56f7ca" stroke="#56f7ca" d="M578 773l-8-29 8 6 8 28z"/><path fill="#fcb763" stroke="#fcb763" d="M419 602l-10-53 8 5 10 54z"/><path fill="#ff0d06" stroke="#ff0d06" d="M308 475l-12-71 8 5 12 72z"/><path fill="#9cfba4" stroke="#9cfba4" d="M514 705l-8-39 8 5 8 40z"/><path fill="#fcb763" stroke="#fcb763" d="M427 608l-10-54 8 6 10 54z"/><path fill="#ff0d06" stroke="#ff0d06" d="M316 481l-12-72 8 6 12 71z"/><path fill="#9cfba4" stroke="#9cfba4" d="M522 711l-8-40 8 6 8 40z"/><path fill="#fcb763" stroke="#fcb763" d="M435 614l-10-54 8 6 9 54z"/><path fill="#ff0d06" stroke="#ff0d06" d="M324 486l-12-71 8 6 11 71z"/><path fill="#9efaa2" stroke="#9efaa2" d="M530 717l-8-40 8 6 8 39z"/><path fill="#fcb763" stroke="#fcb763" d="M442 620l-9-54 8 6 9 53z"/><path fill="#ff0905" stroke="#ff0905" d="M331 492l-11-71 7 5 12 71z"/><path fill="#9efaa2" stroke="#9efaa2" d="M538 722l-8-39 8 5 8 40z"/><path fill="#fcb763" stroke="#fcb763" d="M450 625l-9-53 8 6 9 53z"/><path fill="#ff0905" stroke="#ff0905" d="M339 497l-12-71 8 6 12 71z"/><path fill="#9efaa2" stroke="#9efaa2" d="M546 728l-8-40 8 6 8 39z"/><path fill="#fcb763" stroke="#fcb763" d="M458 631l-9-53 8 5 9 54z"/><path fill="#ff0905" stroke="#ff0905" d="M347 503l-12-71 8 6 11 71z"/><path fill="#a0faa1" stroke="#a0faa1" d="M554 733l-8-39 8 5 8 40z"/><path fill="#fcb763" stroke="#fcb763" d="M466 637l-9-54 8 6 9 54z"/><path fill="#ff0905" stroke="#ff0905" d="M354 509l-11-71 8 5 11 71z"/><path fill="#a0faa1" stroke="#a0faa1" d="M562 739l-8-40 8 5 8 40z"/><path fill="#fcb763" stroke="#fcb763" d="M474 643l-9-54 8 6 9 53z"/><path fill="#ff0905" stroke="#ff0905" d="M362 514l-11-71 8 6 11 71z"/><path fill="#feb562" stroke="#feb562" d="M482 648l-9-53 8 6 9 53z"/><path fill="#a2f9a0" stroke="#a2f9a0" d="M570 744l-8-40 8 6 8 40z"/><path fill="#ff0905" stroke="#ff0905" d="M370 520l-11-71 8 6 11 71z"/><path fill="#feb562" stroke="#feb562" d="M490 654l-9-53 8 5 9 54z"/><path fill="#ff0905" stroke="#ff0905" d="M378 526l-11-71 8 5 11 71z"/><path fill="#feb562" stroke="#feb562" d="M498 660l-9-54 8 6 9 54z"/><path fill="#ff0905" stroke="#ff0905" d="M386 531l-11-71 8 6 10 71zM393 537l-10-71 8 6 10 71z"/><path fill="#feb562" stroke="#feb562" d="M506 666l-9-54 8 6 9 53z"/><path fill="#ff0905" stroke="#ff0905" d="M401 543l-10-71 8 6 10 71z"/><path fill="#feb562" stroke="#feb562" d="M514 671l-9-53 8 5 9 54z"/><path fill="#ff0905" stroke="#ff0905" d="M409 549l-10-71 8 5 10 71z"/><path fill="#ffb360" stroke="#ffb360" d="M522 677l-9-54 8 6 9 54z"/><path fill="#ff0905" stroke="#ff0905" d="M417 554l-10-71 8 6 10 71z"/><path fill="#ffb360" stroke="#ffb360" d="M530 683l-9-54 8 6 9 53z"/><path fill="#ff0905" stroke="#ff0905" d="M425 560l-10-71 8 6 10 71z"/><path fill="#ffb360" stroke="#ffb360" d="M538 688l-9-53 9 5 8 54z"/><path fill="#ff0905" stroke="#ff0905" d="M433 566l-10-71 8 6 10 71z"/><path fill="#ffb05f" stroke="#ffb05f" d="M546 694l-8-54 8 6 8 53z"/><path fill="#ff0905" stroke="#ff0905" d="M441 572l-10-71 8 6 10 71z"/><path fill="#ffb05f" stroke="#ffb05f" d="M554 699l-8-53 8 5 8 53z"/><path fill="#ff0905" stroke="#ff0905" d="M449 578l-10-71 8 5 10 71z"/><path fill="#ffae5e" stroke="#ffae5e" d="M562 704l-8-53 8 5 8 54z"/><path fill="#ff0905" stroke="#ff0905" d="M457 583l-10-71 8 6 10 71zM465 589l-10-71 8 6 10 71zM473 595l-10-71 8 6 10 71zM481 601l-10-71 9 6 9 70zM489 606l-9-70 8 5 9 71z"/><path fill="#ff0603" stroke="#ff0603" d="M497 612l-9-71 8 6 9 71zM505 618l-9-71 8 6 9 70zM513 623l-9-70 8 5 9 71z"/><path fill="#ff0302" stroke="#ff0302" d="M521 629l-9-71 9 6 8 71zM529 635l-8-71 8 5 9 71zM538 640l-9-71 8 6 9 71z"/><path fill="#ff0000" stroke="#ff0000" d="M546 646l-9-71 9 5 8 71zM554 651l-8-71 8 6 8 70z"/></g><path fill="none" stroke="#1f77b4" stroke-width="3.55" d="M554 53l-7 81-8 64-7 51-7 40-7 31-7 25-7 19-7 15-8 12-7 10-7 8-7 7-7 6-8 6-7 5-7 5-8 5-7 6-7 5-8 5-7 5-8 5-7 5-7 6-8 5-7 5-8 5-7 5-8 6-7 5-8 5-7 5-8 6-8 5-7 5-8 5-8 4-7 3-8 3-8 0-8-2-9-4-8-9-9-14-10-21-10-30-12-40-12-54-14-72M584 75l-8 81-7 64-8 51-7 40-7 31-7 25-8 19-7 15-7 12-7 10-7 8-8 7-7 7-7 5-8 6-7 5-7 5-8 5-7 5-7 5-8 6-7 5-7 5-8 5-7 6-8 5-7 5-8 5-7 5-8 6-7 5-8 5-7 6-8 5-8 5-7 5-8 4-8 4-8 2-8 0-8-1-8-5-9-9-9-14-9-21-10-29-11-40-12-54-14-72M615 96l-9 81-8 64-7 51-8 40-7 31-7 25-8 19-7 16-7 12-7 10-8 8-7 7-7 6-8 6-7 5-7 5-7 6-8 5-7 5-8 5-7 5-7 6-8 5-7 5-8 6-7 5-8 5-7 5-8 6-7 5-8 5-7 6-8 5-7 5-8 5-8 5-7 4-8 4-8 2-8 1-8-2-8-4-9-9-8-14-10-21-10-29-10-41-12-53-13-72M645 116l-8 82-9 64-8 51-7 40-8 31-7 25-8 19-7 15-7 13-7 10-8 8-7 7-7 6-8 6-7 5-7 6-8 5-7 5-7 5-8 5-7 6-7 5-8 5-7 6-8 5-7 5-8 6-7 5-8 5-7 6-8 5-7 5-8 6-7 5-8 5-8 5-7 4-8 4-8 2-8 1-8-2-8-4-8-9-9-14-9-21-10-29-11-40-11-54-13-71M676 137l-9 81-9 65-8 50-8 40-7 32-8 24-7 20-8 15-7 12-7 10-8 9-7 7-7 6-7 6-8 5-7 6-7 5-8 5-7 5-7 6-8 5-7 5-8 6-7 5-8 5-7 6-7 5-8 5-7 6-8 5-8 5-7 6-8 5-7 6-8 5-8 5-7 4-8 4-8 2-8 1-8-2-8-4-8-9-9-14-9-21-9-29-10-40-11-54-13-71M707 157l-9 82-9 64-9 51-8 40-8 31-7 25-8 19-7 16-8 12-7 10-7 8-7 8-8 6-7 6-7 5-8 6-7 5-7 5-8 5-7 6-7 5-8 6-7 5-8 5-7 6-8 5-7 5-8 6-7 5-8 6-7 5-8 6-7 5-8 5-7 6-8 5-8 4-7 4-8 2-8 1-8-2-8-4-8-9-9-14-9-20-9-30-10-40-11-53-11-71M739 178l-10 81-10 65-8 51-9 40-8 31-7 25-8 19-7 16-8 12-7 10-7 8-8 8-7 6-7 6-8 5-7 6-7 5-8 5-7 6-7 5-8 6-7 5-8 5-7 6-7 5-8 6-7 5-8 6-7 5-8 5-7 6-8 5-8 6-7 5-8 6-7 5-8 4-8 4-8 2-7 1-8-1-8-5-9-8-8-14-9-21-9-29-9-40-11-54-11-71M770 198l-10 82-10 65-9 51-8 40-8 31-8 25-8 19-7 16-8 12-7 10-8 9-7 7-7 6-7 6-8 6-7 5-7 6-8 5-7 5-7 6-8 5-7 6-8 5-7 6-8 5-7 6-8 5-7 5-8 6-7 5-8 6-7 5-8 6-7 6-8 5-8 5-7 4-8 4-8 3-7 1-8-2-8-4-8-9-9-14-8-20-9-29-10-40-10-54-10-71M802 219l-10 82-10 65-10 51-9 40-8 31-8 25-8 20-7 15-8 13-7 10-7 8-8 7-7 7-7 6-8 5-7 6-7 5-8 6-7 5-7 6-8 5-7 6-8 5-7 6-7 5-8 6-7 5-8 6-7 5-8 6-7 5-8 6-8 5-7 6-8 5-7 5-8 5-8 4-7 2-8 1-8-1-8-5-8-8-8-14-9-20-8-29-9-40-10-54-10-71M835 240l-12 82-10 65-10 51-9 40-8 32-8 25-8 19-8 16-7 12-8 10-7 9-7 7-8 6-7 6-7 6-8 6-7 5-7 6-8 5-7 6-7 5-8 6-7 5-8 6-7 5-7 6-8 5-7 6-8 5-7 6-8 6-8 5-7 6-8 5-7 6-8 5-8 5-7 3-8 3-8 1-8-1-7-5-8-8-8-14-9-20-8-29-9-40-9-54-10-71M867 261l-12 82-10 65-10 51-9 40-9 32-8 25-8 19-8 16-7 13-8 10-7 8-8 8-7 6-7 6-8 6-7 5-7 6-8 5-7 6-7 5-8 6-7 5-7 6-8 6-7 5-8 6-7 5-8 6-7 6-8 5-7 6-8 6-8 5-7 6-8 5-7 5-8 5-8 4-7 3-8 1-8-2-8-4-7-8-8-14-8-20-9-29-8-40-9-54-9-70M900 282l-12 82-11 65-11 51-9 40-9 32-8 25-8 19-8 16-7 13-8 10-7 8-8 8-7 6-7 6-8 6-7 6-7 5-8 6-7 5-7 6-8 5-7 6-8 6-7 5-7 6-8 6-7 5-8 6-7 5-8 6-7 6-8 5-8 6-7 6-8 5-7 6-8 4-8 4-7 3-8 1-8-1-7-5-8-8-8-14-8-20-8-29-8-39-9-54-9-71M933 302l-13 82-11 65-10 51-10 40-9 32-9 25-8 20-8 15-7 13-8 10-7 9-7 7-8 7-7 6-7 6-8 5-7 6-7 5-8 6-7 6-7 5-8 6-7 6-8 5-7 6-8 6-7 5-8 6-7 6-8 5-7 6-8 6-7 6-8 5-8 6-7 5-8 5-7 4-8 3-8 1-7-2-8-4-8-8-7-14-8-20-8-29-8-40-8-53-8-71M942 306l-13 83-12 65-10 51-10 40-9 32-9 25-8 20-8 15-7 13-8 10-7 9-8 7-7 7-7 6-8 6-7 5-7 6-8 5-7 6-7 6-8 5-7 6-7 6-8 5-7 6-8 6-7 5-8 6-7 6-8 5-7 6-8 6-7 6-8 5-8 6-7 5-8 5-8 4-7 3-8 1-7-1-8-5-8-8-7-13-8-21-8-28-8-40-8-54-8-70M554 53l8 5 7 6 8 5 7 6 8 5 7 5 8 5 8 6 7 5 8 5 8 5 7 5 8 5 8 5 7 5 8 6 8 5 8 5 8 5 7 5 8 5 8 5 8 5 8 6 8 5 8 5 8 5 7 5 8 6 8 5 8 5 8 5 9 6 8 5 8 5 8 5 8 6 8 5 8 5 8 5 8 6 9 5 8 5 8 5 8 5 9 5 8 5 8 5 9 4M525 289l7 5 7 6 8 5 7 6 7 5 8 6 7 5 7 5 8 5 7 5 7 6 8 5 7 5 7 5 8 5 7 5 8 5 7 6 8 5 7 5 8 5 7 5 8 5 7 6 8 5 8 5 7 5 8 6 7 5 8 5 8 6 7 5 8 5 8 6 8 5 7 5 8 5 8 6 8 5 8 5 7 6 8 5 8 5 8 5 8 5 8 5 8 5 8 5 8 5M497 379l7 6 7 5 7 6 7 5 7 6 8 5 7 5 7 6 7 5 7 5 8 5 7 5 7 6 8 5 7 5 7 5 8 5 7 5 7 6 8 5 7 5 8 5 7 6 8 5 7 5 8 5 7 6 8 5 7 5 8 6 7 5 8 5 7 6 8 5 8 5 7 6 8 5 8 5 7 6 8 5 8 5 8 6 7 5 8 5 8 5 8 5 8 5 7 5 8 5M468 416l7 6 7 5 7 6 7 5 7 6 8 5 7 6 7 5 7 5 7 5 8 6 7 5 7 5 8 5 7 5 7 6 8 5 7 5 7 5 8 6 7 5 7 5 8 5 7 6 8 5 7 5 8 6 7 5 8 5 7 6 8 5 7 5 8 6 7 5 8 6 8 5 7 5 8 6 8 5 7 6 8 5 8 5 8 5 7 6 8 5 8 5 8 5 8 5 7 5M439 438l7 6 7 6 7 5 7 6 7 5 7 6 8 5 7 5 7 6 7 5 8 5 7 6 7 5 7 5 8 5 7 6 7 5 8 5 7 5 7 6 8 5 7 5 8 5 7 6 8 5 7 5 7 6 8 5 7 6 8 5 8 5 7 6 8 5 7 6 8 5 7 6 8 5 8 5 7 6 8 5 8 6 8 5 7 5 8 6 8 5 8 5 7 5 8 5 8 5M409 459l7 6 7 5 8 6 7 5 7 6 7 5 7 6 7 5 8 6 7 5 7 5 7 5 8 6 7 5 7 5 8 6 7 5 7 5 8 6 7 5 7 5 8 5 7 6 8 5 7 6 8 5 7 5 8 6 7 5 8 6 7 5 8 6 7 5 8 6 7 5 8 6 8 5 7 5 8 6 8 5 7 6 8 5 8 5 8 6 7 5 8 5 8 5 8 6 8 5M380 480l7 5 7 6 7 6 7 5 7 6 7 5 8 6 7 5 7 6 7 5 8 5 7 6 7 5 7 5 8 6 7 5 7 5 8 6 7 5 7 5 8 6 7 5 8 5 7 6 7 5 8 6 7 5 8 6 7 5 8 6 7 5 8 6 8 5 7 6 8 5 7 6 8 5 8 6 7 5 8 6 8 5 8 6 7 5 8 5 8 6 8 5 7 5 8 5 8 5M350 500l7 6 7 6 7 6 7 5 7 6 8 5 7 6 7 5 7 6 7 5 8 6 7 5 7 5 7 6 8 5 7 5 7 6 8 5 7 5 7 6 8 5 7 6 8 5 7 6 8 5 7 5 8 6 7 5 8 6 7 6 8 5 7 6 8 5 7 6 8 5 8 6 7 5 8 6 8 5 7 6 8 5 8 6 7 5 8 6 8 5 8 5 8 6 7 5 8 5M320 521l7 6 7 6 7 6 7 5 7 6 7 6 8 5 7 6 7 5 7 5 7 6 8 5 7 6 7 5 8 5 7 6 7 5 8 6 7 5 7 6 8 5 7 5 8 6 7 5 7 6 8 5 7 6 8 5 7 6 8 6 7 5 8 6 8 5 7 6 8 6 7 5 8 6 8 5 7 6 8 6 8 5 7 6 8 5 8 5 8 6 8 5 7 6 8 5 8 5M289 542l7 5 7 6 8 6 7 6 7 5 7 6 7 6 7 5 8 6 7 5 7 6 7 5 8 5 7 6 7 5 7 6 8 5 7 6 8 5 7 6 7 5 8 6 7 5 8 6 7 5 7 6 8 5 7 6 8 6 7 5 8 6 8 5 7 6 8 6 7 5 8 6 8 6 7 5 8 6 8 5 7 6 8 6 8 5 8 6 7 5 8 5 8 6 8 5 8 5M258 552l7 6 7 6 7 6 7 5 8 6 7 6 7 5 7 6 7 6 8 5 7 6 7 5 8 6 7 5 7 5 7 6 8 5 7 6 8 5 7 6 7 5 8 6 7 6 8 5 7 6 8 5 7 6 8 6 7 5 8 6 7 6 8 5 7 6 8 6 8 5 7 6 8 6 8 5 7 6 8 6 8 5 7 6 8 5 8 6 8 5 8 6 7 5 8 6 8 5M224 523l7 6 7 5 7 6 7 6 8 6 7 5 7 6 8 6 7 5 7 6 7 5 8 6 7 6 8 5 7 6 7 5 8 6 7 5 8 6 7 5 8 6 7 5 8 6 7 6 8 5 7 6 8 6 7 5 8 6 8 6 7 5 8 6 8 6 7 6 8 5 8 6 7 6 8 6 8 5 8 6 7 6 8 5 8 6 8 5 8 6 8 5 8 6 8 5 8 6M180 378l8 6 7 6 7 6 8 6 7 5 8 6 7 6 8 6 7 5 8 6 7 5 8 6 8 6 7 5 8 6 8 5 7 6 8 6 8 5 7 6 8 5 8 6 7 6 8 5 8 6 8 6 8 5 7 6 8 6 8 6 8 5 8 6 8 6 8 6 8 6 8 5 8 6 8 6 8 6 8 5 8 6 8 6 8 5 8 6 8 6 9 5 8 6 8 5 8 5M166 306l8 7 7 6 8 5 7 6 8 6 8 6 7 6 8 5 8 6 7 6 8 5 7 6 8 5 8 6 8 6 7 5 8 6 8 5 8 6 8 6 7 5 8 6 8 6 8 5 8 6 8 6 8 5 8 6 8 6 8 6 8 5 8 6 8 6 8 6 8 6 8 5 8 6 8 6 8 6 9 6 8 5 8 6 8 6 8 5 9 6 8 5 8 6 9 5 8 6"/><g stroke-width="1.2"><path fill="#ffffff" stroke="#ffffff" d="M1260 5l937 0 0 937-937 0z"/></g><path fill="#f2f2f2" stroke="#f2f2f2" stroke-width="2.15" stroke-linejoin="miter" opacity="0.5" d="M1741 331l414 285 27-320-441-284"/><path fill="#e6e6e6" stroke="#e6e6e6" stroke-width="2.15" stroke-linejoin="miter" opacity="0.5" d="M1741 331l-413 285-27-320 440-284"/><path fill="#ececec" stroke="#ececec" stroke-width="2.15" stroke-linejoin="miter" opacity="0.5" d="M1741 331l-413 285 413 320 414-320"/><path fill="none" stroke="#b0b0b0" stroke-width="1.72" d="M2130 635l-413-286-2-320M2087 669l-414-291-4-319M2043 702l-413-294-7-319M1999 737l-414-298-9-320M1954 771l-413-301-13-320M1909 806l-414-305-15-320M1863 842l-414-309-18-320M1816 878l-413-313-22-320M1769 914l-413-317-25-320M1768 29l-2 320-413 286M1814 59l-4 319-414 291M1860 89l-7 319-413 294M1907 119l-9 320-414 298M1955 150l-13 320-413 301M2003 181l-15 320-414 305M2052 213l-18 320-414 309M2102 245l-22 320-414 313M2152 277l-25 320-413 317M1327 609l414-285 414 285M1324 566l417-285 418 285M1320 522l421-285 422 285M1316 477l425-285 426 285M1313 432l428-285 429 285M1309 385l432-284 433 284M1305 338l436-284 437 284"/><path fill="none" stroke="#000000" stroke-width="1.72" stroke-linecap="square" d="M2155 616l-414 320M2126 633l11 7"/><text x="2151" y="684" font-size="20.64" text-anchor="middle">−2.0</text><path fill="none" stroke="#000000" stroke-width="1.72" stroke-linecap="square" d="M2083 666l11 8"/><text x="2108" y="717" font-size="20.64" text-anchor="middle">−1.5</text><path fill="none" stroke="#000000" stroke-width="1.72" stroke-linecap="square" d="M2040 700l10 7"/><text x="2064" y="751" font-size="20.64" text-anchor="middle">−1.0</text><path fill="none" stroke="#000000" stroke-width="1.72" stroke-linecap="square" d="M1996 734l10 8"/><text x="2020" y="786" font-size="20.64" text-anchor="middle">−0.5</text><path fill="none" stroke="#000000" stroke-width="1.72" stroke-linecap="square" d="M1951 769l10 7"/><text x="1976" y="821" font-size="20.64" text-anchor="middle">0.0</text><path fill="none" stroke="#000000" stroke-width="1.72" stroke-linecap="square" d="M1905 804l11 8"/><text x="1931" y="856" font-size="20.64" text-anchor="middle">0.5</text><path fill="none" stroke="#000000" stroke-width="1.72" stroke-linecap="square" d="M1859 839l11 8"/><text x="1885" y="892" font-size="20.64" text-anchor="middle">1.0</text><path fill="none" stroke="#000000" stroke-width="1.72" stroke-linecap="square" d="M1813 875l10 8"/><text x="1838" y="928" font-size="20.64" text-anchor="middle">1.5</text><path fill="none" stroke="#000000" stroke-width="1.72" stroke-linecap="square" d="M1766 912l10 8"/><text x="1791" y="964" font-size="20.64" text-anchor="middle">2.0</text><text x="2001" y="847" font-size="20.64" text-anchor="middle">x1</text><path fill="none" stroke="#000000" stroke-width="1.72" stroke-linecap="square" d="M1328 616l413 320M1356 633l-10 7"/><text x="1332" y="684" font-size="20.64" text-anchor="middle">−1.00</text><path fill="none" stroke="#000000" stroke-width="1.72" stroke-linecap="square" d="M1400 666l-11 8"/><text x="1375" y="717" font-size="20.64" text-anchor="middle">−0.75</text><path fill="none" stroke="#000000" stroke-width="1.72" stroke-linecap="square" d="M1443 700l-10 7"/><text x="1418" y="751" font-size="20.64" text-anchor="middle">−0.50</text><path fill="none" stroke="#000000" stroke-width="1.72" stroke-linecap="square" d="M1487 734l-10 8"/><text x="1462" y="786" font-size="20.64" text-anchor="middle">−0.25</text><path fill="none" stroke="#000000" stroke-width="1.72" stroke-linecap="square" d="M1532 769l-10 7"/><text x="1507" y="821" font-size="20.64" text-anchor="middle">0.00</text><path fill="none" stroke="#000000" stroke-width="1.72" stroke-linecap="square" d="M1577 804l-10 8"/><text x="1552" y="856" font-size="20.64" text-anchor="middle">0.25</text><path fill="none" stroke="#000000" stroke-width="1.72" stroke-linecap="square" d="M1623 839l-10 8"/><text x="1598" y="892" font-size="20.64" text-anchor="middle">0.50</text><path fill="none" stroke="#000000" stroke-width="1.72" stroke-linecap="square" d="M1670 875l-11 8"/><text x="1645" y="928" font-size="20.64" text-anchor="middle">0.75</text><path fill="none" stroke="#000000" stroke-width="1.72" stroke-linecap="square" d="M1717 912l-10 8"/><text x="1692" y="964" font-size="20.64" text-anchor="middle">1.00</text><text x="1482" y="847" font-size="20.64" text-anchor="middle">x2</text><path fill="none" stroke="#000000" stroke-width="1.72" stroke-linecap="square" d="M1328 616l-27-320M1331 607l-11 7"/><text x="1286" y="627" font-size="20.64" text-anchor="middle">−1</text><path fill="none" stroke="#000000" stroke-width="1.72" stroke-linecap="square" d="M1327 563l-10 8"/><text x="1282" y="584" font-size="20.64" text-anchor="middle">0</text><path fill="none" stroke="#000000" stroke-width="1.72" stroke-linecap="square" d="M1324 519l-11 8"/><text x="1277" y="540" font-size="20.64" text-anchor="middle">1</text><path fill="none" stroke="#000000" stroke-width="1.72" stroke-linecap="square" d="M1320 475l-11 7"/><text x="1273" y="495" font-size="20.64" text-anchor="middle">2</text><path fill="none" stroke="#000000" stroke-width="1.72" stroke-linecap="square" d="M1316 429l-11 7"/><text x="1269" y="450" font-size="20.64" text-anchor="middle">3</text><path fill="none" stroke="#000000" stroke-width="1.72" stroke-linecap="square" d="M1312 383l-11 7"/><text x="1265" y="403" font-size="20.64" text-anchor="middle">4</text><path fill="none" stroke="#000000" stroke-width="1.72" stroke-linecap="square" d="M1308 336l-11 7"/><text x="1260" y="356" font-size="20.64" text-anchor="middle">5</text><text x="1215" y="463" font-size="20.64" text-anchor="middle" transform="rotate(-274.81 1215 463)">f(x1, x2)</text><g stroke-width="1.2" fill-opacity="0.9" stroke-opacity="0.9"><path fill="#642cfe" stroke="#642cfe" d="M1604 480l-7 10-7-11 7-10z"/><path fill="#6e1cff" stroke="#6e1cff" d="M1611 489l-7 10-7-9 7-10z"/><path fill="#6c1fff" stroke="#6c1fff" d="M1597 490l-7 8-8-11 8-8z"/><path fill="#7610ff" stroke="#7610ff" d="M1604 499l-7 8-7-9 7-8z"/><path fill="#583efd" stroke="#583efd" d="M1611 467l-7 13-7-11 7-13z"/><path fill="#622ffe" stroke="#622ffe" d="M1618 476l-7 13-7-9 7-13z"/><path fill="#5641fd" stroke="#5641fd" d="M1597 469l-7 10-8-13 8-10z"/><path fill="#7413ff" stroke="#7413ff" d="M1618 496l-7 11-7-8 7-10z"/><path fill="#5e35fe" stroke="#5e35fe" d="M1590 479l-8 8-7-12 7-9z"/><path fill="#6826fe" stroke="#6826fe" d="M1626 484l-8 12-7-7 7-13z"/><path fill="#4a53fb" stroke="#4a53fb" d="M1604 456l-7 13-7-13 7-13z"/><path fill="#7c06ff" stroke="#7c06ff" d="M1611 507l-7 7-7-7 7-8z"/><path fill="#7019ff" stroke="#7019ff" d="M1590 498l-8 6-7-11 7-6z"/><path fill="#504afc" stroke="#504afc" d="M1626 462l-8 14-7-9 7-14z"/><path fill="#780dff" stroke="#780dff" d="M1597 507l-8 6-7-9 8-6z"/><path fill="#4659fb" stroke="#4659fb" d="M1618 453l-7 14-7-11 7-15z"/><path fill="#7610ff" stroke="#7610ff" d="M1626 503l-8 10-7-6 7-11z"/><path fill="#622ffe" stroke="#622ffe" d="M1582 487l-7 6-7-12 7-6z"/><path fill="#445cfb" stroke="#445cfb" d="M1590 456l-8 10-7-15 7-11z"/><path fill="#583efd" stroke="#583efd" d="M1633 470l-7 14-8-8 8-14z"/><path fill="#4e4dfc" stroke="#4e4dfc" d="M1582 466l-7 9-7-16 7-8z"/><path fill="#6c1fff" stroke="#6c1fff" d="M1633 491l-7 12-8-7 8-12z"/><path fill="#386df9" stroke="#386df9" d="M1611 441l-7 15-7-13 7-15z"/><path fill="#7e03ff" stroke="#7e03ff" d="M1604 514l-7 6-8-7 8-6zM1618 513l-7 7-7-6 7-7z"/><path fill="#386df9" stroke="#386df9" d="M1597 443l-7 13-8-16 7-13z"/><path fill="#5247fc" stroke="#5247fc" d="M1575 475l-7 6-8-15 8-7z"/><path fill="#5c38fd" stroke="#5c38fd" d="M1640 476l-7 15-7-7 7-14z"/><path fill="#6e1cff" stroke="#6e1cff" d="M1582 504l-7 4-8-11 8-4z"/><path fill="#3e65fa" stroke="#3e65fa" d="M1633 446l-7 16-8-9 7-17z"/><path fill="#3176f8" stroke="#3176f8" d="M1625 436l-7 17-7-12 7-16z"/><path fill="#780dff" stroke="#780dff" d="M1589 513l-7 3-7-8 7-4zM1633 508l-8 9-7-4 8-10z"/><path fill="#8000ff" stroke="#8000ff" d="M1611 520l-7 6-7-6 7-6z"/><path fill="#622ffe" stroke="#622ffe" d="M1575 493l-8 4-7-12 8-4z"/><path fill="#2686f5" stroke="#2686f5" d="M1604 428l-7 15-8-16 7-15z"/><path fill="#6c1fff" stroke="#6c1fff" d="M1640 496l-7 12-7-5 7-12z"/><path fill="#445cfb" stroke="#445cfb" d="M1640 454l-7 16-7-8 7-16z"/><path fill="#7e03ff" stroke="#7e03ff" d="M1625 517l-7 8-7-5 7-7z"/><path fill="#2489f5" stroke="#2489f5" d="M1618 425l-7 16-7-13 7-17z"/><path fill="#2e7bf7" stroke="#2e7bf7" d="M1582 440l-7 11-8-18 8-11z"/><path fill="#7c06ff" stroke="#7c06ff" d="M1597 520l-8 3-7-7 7-3z"/><path fill="#386df9" stroke="#386df9" d="M1575 451l-7 8-8-17 7-9z"/><path fill="#5c38fd" stroke="#5c38fd" d="M1647 482l-7 14-7-5 7-15z"/><path fill="#218cf4" stroke="#218cf4" d="M1589 427l-7 13-7-18 7-13z"/><path fill="#4856fb" stroke="#4856fb" d="M1647 461l-7 15-7-6 7-16z"/><path fill="#5247fc" stroke="#5247fc" d="M1568 481l-8 4-7-15 7-4z"/><path fill="#3c68f9" stroke="#3c68f9" d="M1568 459l-8 7-7-18 7-6z"/><path fill="#8000ff" stroke="#8000ff" d="M1618 525l-7 5-7-4 7-6z"/><path fill="#7610ff" stroke="#7610ff" d="M1640 512l-7 9-8-4 8-9z"/><path fill="#2686f5" stroke="#2686f5" d="M1640 428l-7 18-8-10 8-17z"/><path fill="#8000ff" stroke="#8000ff" d="M1604 526l-8 3-7-6 8-3z"/><path fill="#11a0f1" stroke="#11a0f1" d="M1611 411l-7 17-8-16 7-17z"/><path fill="#6c1fff" stroke="#6c1fff" d="M1647 500l-7 12-7-4 7-12z"/><path fill="#1c93f3" stroke="#1c93f3" d="M1633 419l-8 17-7-11 7-18z"/><path fill="#6a22fe" stroke="#6a22fe" d="M1575 508l-8 1-7-10 7-2z"/><path fill="#2e7bf7" stroke="#2e7bf7" d="M1647 436l-7 18-7-8 7-18z"/><path fill="#10a2f0" stroke="#10a2f0" d="M1596 412l-7 15-7-18 7-15z"/><path fill="#7c06ff" stroke="#7c06ff" d="M1633 521l-8 8-7-4 7-8z"/><path fill="#7216ff" stroke="#7216ff" d="M1582 516l-8 2-7-9 8-1z"/><path fill="#5e35fe" stroke="#5e35fe" d="M1567 497l-7 2-7-13 7-1z"/><path fill="#4a53fb" stroke="#4a53fb" d="M1654 466l-7 16-7-6 7-15z"/><path fill="#0ea5ef" stroke="#0ea5ef" d="M1625 407l-7 18-7-14 7-18z"/><path fill="#5c38fd" stroke="#5c38fd" d="M1654 486l-7 14-7-4 7-14z"/><path fill="#780dff" stroke="#780dff" d="M1589 523l-7 2-8-7 8-2z"/><path fill="#3c68f9" stroke="#3c68f9" d="M1560 466l-7 4-8-18 8-4z"/><path fill="#3176f8" stroke="#3176f8" d="M1654 443l-7 18-7-7 7-18z"/><path fill="#8000ff" stroke="#8000ff" d="M1611 530l-8 3-7-4 8-3zM1625 529l-7 5-7-4 7-5z"/><path fill="#4e4dfc" stroke="#4e4dfc" d="M1560 485l-7 1-8-14 8-2z"/><path fill="#7413ff" stroke="#7413ff" d="M1647 515l-7 10-7-4 7-9z"/><path fill="#6826fe" stroke="#6826fe" d="M1654 503l-7 12-7-3 7-12z"/><path fill="#07bbea" stroke="#07bbea" d="M1603 395l-7 17-7-18 7-18zM1618 393l-7 18-8-16 8-18z"/><path fill="#4a53fb" stroke="#4a53fb" d="M1661 470l-7 16-7-4 7-16z"/><path fill="#0ea5ef" stroke="#0ea5ef" d="M1647 410l-7 18-7-9 7-19z"/><path fill="#7a09ff" stroke="#7a09ff" d="M1596 529l-7 1-7-5 7-2zM1640 525l-8 7-7-3 8-8z"/><path fill="#01b3ec" stroke="#01b3ec" d="M1640 400l-7 19-8-12 7-19z"/><path fill="#3473f8" stroke="#3473f8" d="M1661 449l-7 17-7-5 7-18z"/><path fill="#149df1" stroke="#149df1" d="M1654 418l-7 18-7-8 7-18z"/><path fill="#5a3bfd" stroke="#5a3bfd" d="M1661 490l-7 13-7-3 7-14z"/><path fill="#622ffe" stroke="#622ffe" d="M1567 509l-7 0-8-10 8 0z"/><path fill="#0dc2e8" stroke="#0dc2e8" d="M1632 388l-7 19-7-14 7-19z"/><path fill="#6a22fe" stroke="#6a22fe" d="M1574 518l-7 0-7-9 7 0z"/><path fill="#386df9" stroke="#386df9" d="M1553 470l-8 2-7-18 7-2z"/><path fill="#5641fd" stroke="#5641fd" d="M1560 499l-8 0-7-12 8-1z"/><path fill="#7c06ff" stroke="#7c06ff" d="M1618 534l-8 3-7-4 8-3z"/><path fill="#1996f3" stroke="#1996f3" d="M1661 425l-7 18-7-7 7-18z"/><path fill="#7c06ff" stroke="#7c06ff" d="M1632 532l-7 5-7-3 7-5z"/><path fill="#7a09ff" stroke="#7a09ff" d="M1603 533l-7 2-7-5 7-1z"/><path fill="#3473f8" stroke="#3473f8" d="M1669 453l-8 17-7-4 7-17z"/><path fill="#4856fb" stroke="#4856fb" d="M1669 474l-8 16-7-4 7-16z"/><path fill="#6e1cff" stroke="#6e1cff" d="M1582 525l-8-1-7-6 7 0zM1654 518l-7 9-7-2 7-10z"/><path fill="#642cfe" stroke="#642cfe" d="M1661 506l-7 12-7-3 7-12z"/><path fill="#1fd3e1" stroke="#1fd3e1" d="M1611 377l-8 18-7-19 7-18z"/><path fill="#4659fb" stroke="#4659fb" d="M1553 486l-8 1-8-15 8 0z"/><path fill="#20d5e1" stroke="#20d5e1" d="M1625 374l-7 19-7-16 7-19z"/><path fill="#1c93f3" stroke="#1c93f3" d="M1669 431l-8 18-7-6 7-18z"/><path fill="#7413ff" stroke="#7413ff" d="M1647 527l-8 7-7-2 8-7z"/><path fill="#0fc4e7" stroke="#0fc4e7" d="M1654 391l-7 19-7-10 7-20z"/><path fill="#5641fd" stroke="#5641fd" d="M1669 492l-8 14-7-3 7-13z"/><path fill="#18cde4" stroke="#18cde4" d="M1647 380l-7 20-8-12 7-20z"/><path fill="#07bbea" stroke="#07bbea" d="M1661 399l-7 19-7-8 7-19z"/><path fill="#7019ff" stroke="#7019ff" d="M1589 530l-8 0-7-6 8 1z"/><path fill="#7a09ff" stroke="#7a09ff" d="M1625 537l-7 3-8-3 8-3z"/><path fill="#28dbde" stroke="#28dbde" d="M1639 368l-7 20-7-14 7-20z"/><path fill="#3176f8" stroke="#3176f8" d="M1676 457l-7 17-8-4 8-17z"/><path fill="#7610ff" stroke="#7610ff" d="M1610 537l-7 1-7-3 7-2z"/><path fill="#00b5eb" stroke="#00b5eb" d="M1669 406l-8 19-7-7 7-19z"/><path fill="#7610ff" stroke="#7610ff" d="M1639 534l-7 5-7-2 7-5z"/><path fill="#3079f7" stroke="#3079f7" d="M1545 472l-8 0-7-17 8-1z"/><path fill="#445cfb" stroke="#445cfb" d="M1676 477l-7 15-8-2 8-16z"/><path fill="#1c93f3" stroke="#1c93f3" d="M1676 435l-7 18-8-4 8-18z"/><path fill="#5641fd" stroke="#5641fd" d="M1560 509l-8-1-7-10 7 1z"/><path fill="#6826fe" stroke="#6826fe" d="M1661 520l-7 9-7-2 7-9z"/><path fill="#5e35fe" stroke="#5e35fe" d="M1669 508l-8 12-7-2 7-12z"/><path fill="#4a53fb" stroke="#4a53fb" d="M1552 499l-7-1-8-12 8 1z"/><path fill="#5e35fe" stroke="#5e35fe" d="M1567 518l-8-2-7-8 8 1z"/><path fill="#38e7d7" stroke="#38e7d7" d="M1618 358l-7 19-8-19 7-20z"/><path fill="#7019ff" stroke="#7019ff" d="M1596 535l-8-1-7-4 8 0z"/><path fill="#01b3ec" stroke="#01b3ec" d="M1676 412l-7 19-8-6 8-19z"/><path fill="#6e1cff" stroke="#6e1cff" d="M1654 529l-7 7-8-2 8-7z"/><path fill="#504afc" stroke="#504afc" d="M1676 495l-7 13-8-2 8-14z"/><path fill="#3ae8d6" stroke="#3ae8d6" d="M1632 354l-7 20-7-16 7-20z"/><path fill="#622ffe" stroke="#622ffe" d="M1574 524l-8-1-7-7 8 2z"/><path fill="#28dbde" stroke="#28dbde" d="M1661 371l-7 20-7-11 7-19z"/><path fill="#396bf9" stroke="#396bf9" d="M1545 487l-8-1-7-15 7 1z"/><path fill="#34e4d9" stroke="#34e4d9" d="M1654 361l-7 19-8-12 8-19z"/><path fill="#20d5e1" stroke="#20d5e1" d="M1668 380l-7 19-7-8 7-20z"/><path fill="#7413ff" stroke="#7413ff" d="M1632 539l-7 3-7-2 7-3z"/><path fill="#2e7bf7" stroke="#2e7bf7" d="M1683 460l-7 17-7-3 7-17z"/><path fill="#1996f3" stroke="#1996f3" d="M1683 439l-7 18-7-4 7-18z"/><path fill="#7216ff" stroke="#7216ff" d="M1618 540l-8 1-7-3 7-1z"/><path fill="#a4f89f" stroke="#a4f89f" d="M1763 249l-7 12-7-11 7-11z"/><path fill="#9bfba5" stroke="#9bfba5" d="M1771 258l-8 12-7-9 7-12z"/><path fill="#b0f397" stroke="#b0f397" d="M1756 239l-7 11-8-12 8-12z"/><path fill="#3e65fa" stroke="#3e65fa" d="M1683 480l-7 15-7-3 7-15z"/><path fill="#7019ff" stroke="#7019ff" d="M1647 536l-8 5-7-2 7-5z"/><path fill="#9cfba4" stroke="#9cfba4" d="M1756 261l-7 6-8-10 8-7z"/><path fill="#1acfe3" stroke="#1acfe3" d="M1676 387l-7 19-8-7 7-19z"/><path fill="#42edd3" stroke="#42edd3" d="M1647 349l-8 19-7-14 7-19z"/><path fill="#01b3ec" stroke="#01b3ec" d="M1683 417l-7 18-7-4 7-19z"/><path fill="#94fda8" stroke="#94fda8" d="M1763 270l-7 6-7-9 7-6z"/><path fill="#a8f79c" stroke="#a8f79c" d="M1749 250l-8 7-7-12 7-7z"/><path fill="#642cfe" stroke="#642cfe" d="M1581 530l-8-2-7-5 8 1z"/><path fill="#94fda8" stroke="#94fda8" d="M1778 266l-7 11-8-7 8-12z"/><path fill="#6e1cff" stroke="#6e1cff" d="M1603 538l-8-1-7-3 8 1z"/><path fill="#583efd" stroke="#583efd" d="M1676 510l-8 12-7-2 8-12z"/><path fill="#622ffe" stroke="#622ffe" d="M1668 522l-7 9-7-2 7-9z"/><path fill="#2686f5" stroke="#2686f5" d="M1537 472l-7-1-8-17 8 1z"/><path fill="#beec8e" stroke="#beec8e" d="M1749 226l-8 12-7-14 7-12z"/><path fill="#8efeac" stroke="#8efeac" d="M1771 277l-8 7-7-8 7-6z"/><path fill="#b6f193" stroke="#b6f193" d="M1741 238l-7 7-7-14 7-7z"/><path fill="#52f5cb" stroke="#52f5cb" d="M1625 338l-7 20-8-20 7-20z"/><path fill="#18cde4" stroke="#18cde4" d="M1683 393l-7 19-7-6 7-19z"/><path fill="#b9ef92" stroke="#b9ef92" d="M1771 230l-8 19-7-10 7-20z"/><path fill="#4a53fb" stroke="#4a53fb" d="M1683 497l-7 13-7-2 7-13z"/><path fill="#6826fe" stroke="#6826fe" d="M1661 531l-7 7-7-2 7-7z"/><path fill="#90feab" stroke="#90feab" d="M1785 273l-7 11-7-7 7-11z"/><path fill="#aef498" stroke="#aef498" d="M1778 239l-7 19-8-9 8-19z"/><path fill="#9bfba5" stroke="#9bfba5" d="M1749 267l-8 5-7-10 7-5z"/><path fill="#4856fb" stroke="#4856fb" d="M1552 508l-8-3-7-10 8 3z"/><path fill="#c4e88a" stroke="#c4e88a" d="M1763 219l-7 20-7-13 7-19z"/><path fill="#169bf2" stroke="#169bf2" d="M1690 443l-7 17-7-3 7-18z"/><path fill="#42edd3" stroke="#42edd3" d="M1668 353l-7 18-7-10 7-19z"/><path fill="#a6f89d" stroke="#a6f89d" d="M1741 257l-7 5-7-12 7-5z"/><path fill="#56f7ca" stroke="#56f7ca" d="M1639 335l-7 19-7-16 7-20z"/><path fill="#92fda9" stroke="#92fda9" d="M1756 276l-7 4-8-8 8-5z"/><path fill="#2981f6" stroke="#2981f6" d="M1690 463l-7 17-7-3 7-17z"/><path fill="#3e65fa" stroke="#3e65fa" d="M1545 498l-8-3-8-12 8 3z"/><path fill="#8bfeae" stroke="#8bfeae" d="M1778 284l-7 6-8-6 8-7z"/><path fill="#3ae8d6" stroke="#3ae8d6" d="M1676 361l-8 19-7-9 7-18z"/><path fill="#a8f79c" stroke="#a8f79c" d="M1785 247l-7 19-7-8 7-19z"/><path fill="#4ef3cd" stroke="#4ef3cd" d="M1661 342l-7 19-7-12 7-19z"/><path fill="#504afc" stroke="#504afc" d="M1559 516l-8-2-7-9 8 3z"/><path fill="#00b5eb" stroke="#00b5eb" d="M1690 421l-7 18-7-4 7-18z"/><path fill="#642cfe" stroke="#642cfe" d="M1588 534l-8-2-7-4 8 2z"/><path fill="#6e1cff" stroke="#6e1cff" d="M1639 541l-7 2-7-1 7-3z"/><path fill="#6c1fff" stroke="#6c1fff" d="M1625 542l-8 1-7-2 8-1z"/><path fill="#d2de81" stroke="#d2de81" d="M1741 212l-7 12-7-16 7-12z"/><path fill="#8cfead" stroke="#8cfead" d="M1763 284l-7 4-7-8 7-4z"/><path fill="#b4f295" stroke="#b4f295" d="M1734 245l-7 5-7-14 7-5z"/><path fill="#c8e688" stroke="#c8e688" d="M1734 224l-7 7-7-16 7-7z"/><path fill="#d2de81" stroke="#d2de81" d="M1756 207l-7 19-8-14 8-20z"/><path fill="#396bf9" stroke="#396bf9" d="M1690 482l-7 15-7-2 7-15z"/><path fill="#8efeac" stroke="#8efeac" d="M1793 279l-8 11-7-6 7-11z"/><path fill="#34e4d9" stroke="#34e4d9" d="M1683 369l-7 18-8-7 8-19z"/><path fill="#18cde4" stroke="#18cde4" d="M1690 398l-7 19-7-5 7-19z"/><path fill="#6a22fe" stroke="#6a22fe" d="M1654 538l-8 4-7-1 8-5z"/><path fill="#2e7bf7" stroke="#2e7bf7" d="M1537 486l-8-3-7-14 8 2z"/><path fill="#a2f9a0" stroke="#a2f9a0" d="M1793 254l-8 19-7-7 7-19z"/><path fill="#6826fe" stroke="#6826fe" d="M1610 541l-8-1-7-3 8 1z"/><path fill="#5efac6" stroke="#5efac6" d="M1654 330l-7 19-8-14 7-20z"/><path fill="#5444fd" stroke="#5444fd" d="M1566 523l-8-3-7-6 8 2z"/><path fill="#88ffaf" stroke="#88ffaf" d="M1785 290l-7 6-7-6 7-6z"/><path fill="#5247fc" stroke="#5247fc" d="M1683 512l-7 11-8-1 8-12z"/><path fill="#5c38fd" stroke="#5c38fd" d="M1676 523l-8 9-7-1 7-9z"/><path fill="#9cfba4" stroke="#9cfba4" d="M1741 272l-7 3-7-10 7-3z"/><path fill="#88ffaf" stroke="#88ffaf" d="M1771 290l-8 4-7-6 7-4z"/><path fill="#a8f79c" stroke="#a8f79c" d="M1734 262l-7 3-7-12 7-3z"/><path fill="#94fda8" stroke="#94fda8" d="M1749 280l-8 4-7-9 7-3z"/><path fill="#32e3da" stroke="#32e3da" d="M1690 375l-7 18-7-6 7-18z"/><path fill="#c6e789" stroke="#c6e789" d="M1727 231l-7 5-8-16 8-5z"/><path fill="#445cfb" stroke="#445cfb" d="M1690 499l-7 13-7-2 7-13z"/><path fill="#11a0f1" stroke="#11a0f1" d="M1698 445l-8 18-7-3 7-17z"/><path fill="#a0faa1" stroke="#a0faa1" d="M1800 260l-7 19-8-6 8-19z"/><path fill="#e6cd73" stroke="#e6cd73" d="M1749 192l-8 20-7-16 7-20z"/><path fill="#6efebe" stroke="#6efebe" d="M1632 318l-7 20-8-20 7-20z"/><path fill="#8cfead" stroke="#8cfead" d="M1800 284l-7 11-8-5 8-11z"/><path fill="#02b7eb" stroke="#02b7eb" d="M1698 424l-8 19-7-4 7-18z"/><path fill="#5df9c7" stroke="#5df9c7" d="M1676 335l-8 18-7-11 7-18z"/><path fill="#6032fe" stroke="#6032fe" d="M1668 532l-7 7-7-1 7-7zM1595 537l-7-2-8-3 8 2z"/><path fill="#2489f5" stroke="#2489f5" d="M1698 465l-8 17-7-2 7-17z"/><path fill="#b6f193" stroke="#b6f193" d="M1727 250l-7 3-8-13 8-4z"/><path fill="#5641fd" stroke="#5641fd" d="M1573 528l-7-3-8-5 8 3z"/><path fill="#52f5cb" stroke="#52f5cb" d="M1683 344l-7 17-8-8 8-18z"/><path fill="#90feab" stroke="#90feab" d="M1756 288l-7 3-8-7 8-4z"/><path fill="#68fcc1" stroke="#68fcc1" d="M1668 324l-7 18-7-12 7-18z"/><path fill="#1996f3" stroke="#1996f3" d="M1530 471l-8-2-8-17 8 2z"/><path fill="#e8cb72" stroke="#e8cb72" d="M1734 196l-7 12-7-19 7-12z"/><path fill="#72febb" stroke="#72febb" d="M1646 315l-7 20-7-17 7-20z"/><path fill="#18cde4" stroke="#18cde4" d="M1698 402l-8 19-7-4 7-19z"/><path fill="#86ffb0" stroke="#86ffb0" d="M1793 295l-8 6-7-5 7-6z"/><path fill="#e0d377" stroke="#e0d377" d="M1727 208l-7 7-8-18 8-8z"/><path fill="#88ffaf" stroke="#88ffaf" d="M1778 296l-7 4-8-6 8-4z"/><path fill="#6629fe" stroke="#6629fe" d="M1632 543l-8 1-7-1 8-1zM1646 542l-7 3-7-2 7-2z"/><path fill="#4ef3cd" stroke="#4ef3cd" d="M1690 351l-7 18-7-8 7-17z"/><path fill="#3473f8" stroke="#3473f8" d="M1697 484l-7 15-7-2 7-15z"/><path fill="#30e1da" stroke="#30e1da" d="M1697 380l-7 18-7-5 7-18z"/><path fill="#9efaa2" stroke="#9efaa2" d="M1807 266l-7 18-7-5 7-19zM1734 275l-7 4-8-10 8-4z"/><path fill="#78ffb8" stroke="#78ffb8" d="M1661 312l-7 18-8-15 8-18z"/><path fill="#622ffe" stroke="#622ffe" d="M1617 543l-8-1-7-2 8 1z"/><path fill="#8cfead" stroke="#8cfead" d="M1763 294l-7 3-7-6 7-3z"/><path fill="#abf69b" stroke="#abf69b" d="M1727 265l-8 4-7-11 8-5z"/><path fill="#622ffe" stroke="#622ffe" d="M1661 539l-8 5-7-2 8-4z"/><path fill="#c8e688" stroke="#c8e688" d="M1720 236l-8 4-7-16 7-4z"/><path fill="#396bf9" stroke="#396bf9" d="M1544 505l-8-2-7-10 8 2z"/><path fill="#8cfead" stroke="#8cfead" d="M1807 289l-7 11-7-5 7-11z"/><path fill="#dcd67a" stroke="#dcd67a" d="M1778 199l-7 31-8-11 8-31z"/><path fill="#99fca6" stroke="#99fca6" d="M1741 284l-7 3-7-8 7-4z"/><path fill="#d2de81" stroke="#d2de81" d="M1785 208l-7 31-7-9 7-31z"/><path fill="#2e7bf7" stroke="#2e7bf7" d="M1537 495l-8-2-8-12 8 2z"/><path fill="#ded579" stroke="#ded579" d="M1720 215l-8 5-7-18 7-5z"/><path fill="#4c50fc" stroke="#4c50fc" d="M1690 514l-7 11-7-2 7-11z"/><path fill="#4af2cf" stroke="#4af2cf" d="M1697 358l-7 17-7-6 7-18z"/><path fill="#e8cb72" stroke="#e8cb72" d="M1771 188l-8 31-7-12 7-31z"/><path fill="#425ffa" stroke="#425ffa" d="M1551 514l-8-3-7-8 8 2z"/><path fill="#5444fd" stroke="#5444fd" d="M1580 532l-7-3-7-4 7 3zM1683 525l-8 9-7-2 8-9z"/><path fill="#72febb" stroke="#72febb" d="M1683 319l-7 16-8-11 8-16z"/><path fill="#b9ef92" stroke="#b9ef92" d="M1720 253l-8 5-7-14 7-4z"/><path fill="#feb562" stroke="#feb562" d="M1741 176l-7 20-7-19 7-21z"/><path fill="#86ffb0" stroke="#86ffb0" d="M1800 300l-7 6-8-5 8-6z"/><path fill="#cce385" stroke="#cce385" d="M1793 217l-8 30-7-8 7-31z"/><path fill="#86ffb0" stroke="#86ffb0" d="M1785 301l-7 4-7-5 7-4z"/><path fill="#6afdc0" stroke="#6afdc0" d="M1690 328l-7 16-7-9 7-16z"/><path fill="#07bbea" stroke="#07bbea" d="M1705 427l-7 18-8-2 8-19z"/><path fill="#0ea5ef" stroke="#0ea5ef" d="M1705 448l-7 17-8-2 8-18z"/><path fill="#92fda9" stroke="#92fda9" d="M1749 291l-8 4-7-8 7-3z"/><path fill="#7effb5" stroke="#7effb5" d="M1676 308l-8 16-7-12 7-17z"/><path fill="#1dd1e2" stroke="#1dd1e2" d="M1705 406l-7 18-8-3 8-19z"/><path fill="#3e65fa" stroke="#3e65fa" d="M1697 501l-7 13-7-2 7-13z"/><path fill="#5c38fd" stroke="#5c38fd" d="M1602 540l-7-2-7-3 7 2z"/><path fill="#208ef4" stroke="#208ef4" d="M1529 483l-8-2-7-15 8 3z"/><path fill="#1e91f3" stroke="#1e91f3" d="M1705 467l-8 17-7-2 8-17z"/><path fill="#8bfeae" stroke="#8bfeae" d="M1771 300l-8 3-7-6 7-3zM1639 298l-7 20-8-20 7-20z"/><path fill="#5a3bfd" stroke="#5a3bfd" d="M1675 534l-7 6-7-1 7-7z"/><path fill="#64fbc3" stroke="#64fbc3" d="M1697 335l-7 16-7-7 7-16z"/><path fill="#9efaa2" stroke="#9efaa2" d="M1815 271l-8 18-7-5 7-18z"/><path fill="#32e3da" stroke="#32e3da" d="M1705 384l-7 18-8-4 7-18z"/><path fill="#f9bb66" stroke="#f9bb66" d="M1763 176l-7 31-7-15 7-31z"/><path fill="#445cfb" stroke="#445cfb" d="M1558 520l-7-3-8-6 8 3z"/><path fill="#8cfead" stroke="#8cfead" d="M1654 297l-8 18-7-17 7-18z"/><path fill="#c8e688" stroke="#c8e688" d="M1800 224l-7 30-8-7 8-30z"/><path fill="#a0faa1" stroke="#a0faa1" d="M1727 279l-8 5-7-9 7-6z"/><path fill="#abf69b" stroke="#abf69b" d="M1719 269l-7 6-7-12 7-5z"/><path fill="#8efeac" stroke="#8efeac" d="M1815 293l-8 11-7-4 7-11z"/><path fill="#ffae5e" stroke="#ffae5e" d="M1727 177l-7 12-8-22 7-12z"/><path fill="#cbe486" stroke="#cbe486" d="M1712 240l-7 4-8-16 8-4z"/><path fill="#48f1d0" stroke="#48f1d0" d="M1705 363l-8 17-7-5 7-17z"/><path fill="#99fca6" stroke="#99fca6" d="M1734 287l-7 6-8-9 8-5z"/><path fill="#fcb763" stroke="#fcb763" d="M1720 189l-8 8-7-22 7-8z"/><path fill="#8efeac" stroke="#8efeac" d="M1668 295l-7 17-7-15 7-17zM1756 297l-7 4-8-6 8-4z"/><path fill="#ded579" stroke="#ded579" d="M1712 220l-7 4-8-18 8-4z"/><path fill="#86ffb0" stroke="#86ffb0" d="M1690 304l-7 15-7-11 7-15z"/><path fill="#5e35fe" stroke="#5e35fe" d="M1639 545l-8 0-7-1 8-1z"/><path fill="#2c7ef7" stroke="#2c7ef7" d="M1705 486l-8 15-7-2 7-15z"/><path fill="#5e35fe" stroke="#5e35fe" d="M1653 544l-7 2-7-1 7-3z"/><path fill="#b9ef92" stroke="#b9ef92" d="M1712 258l-7 5-8-13 8-6z"/><path fill="#7dffb6" stroke="#7dffb6" d="M1697 313l-7 15-7-9 7-15z"/><path fill="#88ffaf" stroke="#88ffaf" d="M1793 306l-7 3-8-4 7-4z"/><path fill="#60fac5" stroke="#60fac5" d="M1705 342l-8 16-7-7 7-16z"/><path fill="#88ffaf" stroke="#88ffaf" d="M1807 304l-7 6-7-4 7-6z"/><path fill="#92fda9" stroke="#92fda9" d="M1683 293l-7 15-8-13 7-15z"/><path fill="#5c38fd" stroke="#5c38fd" d="M1617 543l-8-1 8 1 7 1z"/><path fill="#c4e88a" stroke="#c4e88a" d="M1808 230l-8 30-7-6 7-30z"/><path fill="#5247fc" stroke="#5247fc" d="M1580 532l-7-3 7 3 8 3z"/><path fill="#9cfba4" stroke="#9cfba4" d="M1719 284l-7 8-7-10 7-7z"/><path fill="#a6f89d" stroke="#a6f89d" d="M1712 275l-7 7-8-11 8-8z"/><path fill="#94fda8" stroke="#94fda8" d="M1741 295l-7 5-7-7 7-6z"/><path fill="#76ffb9" stroke="#76ffb9" d="M1705 321l-8 14-7-7 7-15z"/><path fill="#0ca7ef" stroke="#0ca7ef" d="M1522 469l-8-3-8-17 8 3z"/><path fill="#8bfeae" stroke="#8bfeae" d="M1778 305l-7 2-8-4 8-3z"/><path fill="#5a3bfd" stroke="#5a3bfd" d="M1668 540l-7 5-8-1 8-5z"/><path fill="#4659fb" stroke="#4659fb" d="M1566 525l-8-3-7-5 7 3z"/><path fill="#ffa558" stroke="#ffa558" d="M1756 161l-7 31-8-16 8-32z"/><path fill="#94fda8" stroke="#94fda8" d="M1697 292l-7 12-7-11 7-12z"/><path fill="#8cfead" stroke="#8cfead" d="M1705 301l-8 12-7-9 7-12z"/><path fill="#a0faa1" stroke="#a0faa1" d="M1822 275l-7 18-8-4 8-18z"/><path fill="#0ac0e8" stroke="#0ac0e8" d="M1712 430l-7 18-7-3 7-18z"/><path fill="#96fca7" stroke="#96fca7" d="M1727 293l-8 7-7-8 7-8z"/><path fill="#f9bb66" stroke="#f9bb66" d="M1712 197l-7 5-8-22 8-5z"/><path fill="#445cfb" stroke="#445cfb" d="M1697 516l-7 11-7-2 7-11z"/><path fill="#1fd3e1" stroke="#1fd3e1" d="M1712 409l-7 18-7-3 7-18z"/><path fill="#a0faa1" stroke="#a0faa1" d="M1705 282l-8 10-7-11 7-10z"/><path fill="#96fca7" stroke="#96fca7" d="M1712 292l-7 9-8-9 8-10z"/><path fill="#08acee" stroke="#08acee" d="M1712 450l-7 17-7-2 7-17z"/><path fill="#b4f295" stroke="#b4f295" d="M1705 263l-8 8-7-13 7-8z"/><path fill="#4e4dfc" stroke="#4e4dfc" d="M1690 527l-7 8-8-1 8-9z"/><path fill="#34e4d9" stroke="#34e4d9" d="M1712 388l-7 18-7-4 7-18z"/><path fill="#8efeac" stroke="#8efeac" d="M1763 303l-7 3-7-5 7-4z"/><path fill="#cbe486" stroke="#cbe486" d="M1705 244l-8 6-7-16 7-6z"/><path fill="#a2f9a0" stroke="#a2f9a0" d="M1690 281l-7 12-8-13 8-12zM1675 280l-7 15-7-15 7-15z"/><path fill="#84ffb2" stroke="#84ffb2" d="M1712 309l-7 12-8-8 8-12z"/><path fill="#4af2cf" stroke="#4af2cf" d="M1712 367l-7 17-8-4 8-17z"/><path fill="#ff934d" stroke="#ff934d" d="M1734 156l-7 21-8-22 8-21z"/><path fill="#5641fd" stroke="#5641fd" d="M1602 540l-7-2 7 1 7 3z"/><path fill="#8efeac" stroke="#8efeac" d="M1822 298l-7 10-8-4 8-11z"/><path fill="#a2f9a0" stroke="#a2f9a0" d="M1661 280l-7 17-8-17 7-17z"/><path fill="#386df9" stroke="#386df9" d="M1705 503l-8 13-7-2 7-13z"/><path fill="#90feab" stroke="#90feab" d="M1719 300l-7 9-7-8 7-9z"/><path fill="#aef498" stroke="#aef498" d="M1697 271l-7 10-7-13 7-10z"/><path fill="#5efac6" stroke="#5efac6" d="M1712 347l-7 16-8-5 8-16z"/><path fill="#72febb" stroke="#72febb" d="M1712 328l-7 14-8-7 8-14z"/><path fill="#1898f2" stroke="#1898f2" d="M1712 470l-7 16-8-2 8-17z"/><path fill="#e0d377" stroke="#e0d377" d="M1705 224l-8 4-7-18 7-4z"/><path fill="#90feab" stroke="#90feab" d="M1749 301l-8 5-7-6 7-5z"/><path fill="#a4f89f" stroke="#a4f89f" d="M1646 280l-7 18-8-20 8-18z"/><path fill="#c2ea8c" stroke="#c2ea8c" d="M1815 236l-8 30-7-6 8-30z"/><path fill="#92fda9" stroke="#92fda9" d="M1734 300l-7 7-8-7 8-7z"/><path fill="#5247fc" stroke="#5247fc" d="M1683 535l-8 7-7-2 7-6z"/><path fill="#2981f6" stroke="#2981f6" d="M1536 503l-8-3-7-10 8 3z"/><path fill="#88ffaf" stroke="#88ffaf" d="M1800 310l-7 3-7-4 7-3z"/><path fill="#8bfeae" stroke="#8bfeae" d="M1815 308l-7 6-8-4 7-6z"/><path fill="#208ef4" stroke="#208ef4" d="M1529 493l-8-3-7-12 7 3z"/><path fill="#c6e789" stroke="#c6e789" d="M1697 250l-7 8-7-16 7-8z"/><path fill="#80ffb4" stroke="#80ffb4" d="M1719 316l-7 12-7-7 7-12z"/><path fill="#b2f396" stroke="#b2f396" d="M1683 268l-8 12-7-15 7-12z"/><path fill="#8bfeae" stroke="#8bfeae" d="M1786 309l-8 3-7-5 7-2zM1727 307l-8 9-7-7 7-9z"/><path fill="#3176f8" stroke="#3176f8" d="M1543 511l-7-3-8-8 8 3z"/><path fill="#445cfb" stroke="#445cfb" d="M1573 529l-8-3-7-4 8 3z"/><path fill="#2686f5" stroke="#2686f5" d="M1712 488l-7 15-8-2 8-15z"/><path fill="#a0faa1" stroke="#a0faa1" d="M1830 280l-8 18-7-5 7-18z"/><path fill="#fbb965" stroke="#fbb965" d="M1705 202l-8 4-7-22 7-4z"/><path fill="#beec8e" stroke="#beec8e" d="M1690 258l-7 10-8-15 8-11z"/><path fill="#5641fd" stroke="#5641fd" d="M1646 546l-8 0-7-1 8 0z"/><path fill="#8efeac" stroke="#8efeac" d="M1771 307l-7 3-8-4 7-3z"/><path fill="#5641fd" stroke="#5641fd" d="M1661 545l-8 2-7-1 7-2z"/><path fill="#70febc" stroke="#70febc" d="M1719 333l-7 14-7-5 7-14z"/><path fill="#4c50fc" stroke="#4c50fc" d="M1588 535l-8-3 7 2 8 4z"/><path fill="#10a2f0" stroke="#10a2f0" d="M1521 481l-7-3-8-14 8 2z"/><path fill="#8efeac" stroke="#8efeac" d="M1741 306l-7 6-7-5 7-7z"/><path fill="#ff8646" stroke="#ff8646" d="M1749 144l-8 32-7-20 7-32z"/><path fill="#90feab" stroke="#90feab" d="M1756 306l-7 5-8-5 8-5z"/><path fill="#b9ef92" stroke="#b9ef92" d="M1668 265l-7 15-8-17 8-15z"/><path fill="#ded579" stroke="#ded579" d="M1697 228l-7 6-7-18 7-6z"/><path fill="#5efac6" stroke="#5efac6" d="M1719 352l-7 15-7-4 7-16z"/><path fill="#5444fd" stroke="#5444fd" d="M1624 544l-7-1 7 1 7 1z"/><path fill="#90feab" stroke="#90feab" d="M1830 302l-8 10-7-4 7-10z"/><path fill="#c2ea8c" stroke="#c2ea8c" d="M1822 241l-7 30-8-5 8-30z"/><path fill="#24d8df" stroke="#24d8df" d="M1719 412l-7 18-7-3 7-18z"/><path fill="#38e7d7" stroke="#38e7d7" d="M1719 391l-7 18-7-3 7-18z"/><path fill="#4df3ce" stroke="#4df3ce" d="M1719 371l-7 17-7-4 7-17z"/><path fill="#10c6e6" stroke="#10c6e6" d="M1719 432l-7 18-7-2 7-18z"/><path fill="#3473f8" stroke="#3473f8" d="M1551 517l-8-3-7-6 7 3z"/><path fill="#5247fc" stroke="#5247fc" d="M1675 542l-7 4-7-1 7-5z"/><path fill="#01b3ec" stroke="#01b3ec" d="M1719 452l-7 18-7-3 7-17z"/><path fill="#7effb5" stroke="#7effb5" d="M1727 322l-8 11-7-5 7-12z"/><path fill="#3e65fa" stroke="#3e65fa" d="M1705 518l-8 10-7-1 7-11z"/><path fill="#88ffaf" stroke="#88ffaf" d="M1734 312l-7 10-8-6 8-9z"/><path fill="#4659fb" stroke="#4659fb" d="M1697 528l-7 9-7-2 7-8z"/><path fill="#8bfeae" stroke="#8bfeae" d="M1808 314l-8 3-7-4 7-3z"/><path fill="#bced8f" stroke="#bced8f" d="M1653 263l-7 17-7-20 7-17z"/><path fill="#8bfeae" stroke="#8bfeae" d="M1822 312l-7 6-7-4 7-6z"/><path fill="#3079f7" stroke="#3079f7" d="M1712 505l-7 13-8-2 8-13z"/><path fill="#dcd67a" stroke="#dcd67a" d="M1690 234l-7 8-8-18 8-8z"/><path fill="#c8e688" stroke="#c8e688" d="M1675 253l-7 12-7-17 7-13z"/><path fill="#11a0f1" stroke="#11a0f1" d="M1719 472l-7 16-7-2 7-16z"/><path fill="#4e4dfc" stroke="#4e4dfc" d="M1609 542l-7-3 7 1 8 3z"/><path fill="#8cfead" stroke="#8cfead" d="M1793 313l-7 2-8-3 8-3z"/><path fill="#fbb965" stroke="#fbb965" d="M1697 206l-7 4-7-21 7-5z"/><path fill="#a2f9a0" stroke="#a2f9a0" d="M1837 284l-7 18-8-4 8-18z"/><path fill="#8efeac" stroke="#8efeac" d="M1749 311l-8 6-7-5 7-6z"/><path fill="#d4dd80" stroke="#d4dd80" d="M1683 242l-8 11-7-18 7-11z"/><path fill="#70febc" stroke="#70febc" d="M1727 338l-8 14-7-5 7-14z"/><path fill="#04b9ea" stroke="#04b9ea" d="M1514 466l-8-2-8-17 8 2z"/><path fill="#8efeac" stroke="#8efeac" d="M1778 312l-7 3-7-5 7-3z"/><path fill="#4a53fb" stroke="#4a53fb" d="M1690 537l-7 6-8-1 8-7z"/><path fill="#4062fa" stroke="#4062fa" d="M1580 532l-8-3-7-3 8 3z"/><path fill="#90feab" stroke="#90feab" d="M1764 310l-8 5-7-4 7-5z"/><path fill="#c2ea8c" stroke="#c2ea8c" d="M1830 245l-8 30-7-4 7-30z"/><path fill="#3670f8" stroke="#3670f8" d="M1558 522l-8-3-7-5 8 3z"/><path fill="#60fac5" stroke="#60fac5" d="M1727 356l-8 15-7-4 7-15z"/><path fill="#92fda9" stroke="#92fda9" d="M1837 306l-7 10-8-4 8-10z"/><path fill="#88ffaf" stroke="#88ffaf" d="M1741 317l-7 10-7-5 7-10z"/><path fill="#208ef4" stroke="#208ef4" d="M1719 490l-7 15-7-2 7-15z"/><path fill="#7effb5" stroke="#7effb5" d="M1734 327l-7 11-8-5 8-11z"/><path fill="#4ef3cd" stroke="#4ef3cd" d="M1727 374l-8 17-7-3 7-17z"/><path fill="#4659fb" stroke="#4659fb" d="M1595 538l-8-4 7 2 8 3z"/><path fill="#3dead5" stroke="#3dead5" d="M1727 394l-8 18-7-3 7-18z"/><path fill="#d0e082" stroke="#d0e082" d="M1661 248l-8 15-7-20 7-16z"/><path fill="#28dbde" stroke="#28dbde" d="M1727 414l-8 18-7-2 7-18z"/><path fill="#4e4dfc" stroke="#4e4dfc" d="M1653 547l-7 0-8-1 8 0zM1668 546l-8 2-7-1 8-2z"/><path fill="#17cbe4" stroke="#17cbe4" d="M1727 434l-8 18-7-2 7-18z"/><path fill="#8cfead" stroke="#8cfead" d="M1815 318l-7 3-8-4 8-3z"/><path fill="#fbb965" stroke="#fbb965" d="M1690 210l-7 6-8-21 8-6z"/><path fill="#8cfead" stroke="#8cfead" d="M1830 316l-7 6-8-4 7-6z"/><path fill="#1c93f3" stroke="#1c93f3" d="M1528 500l-8-3-7-9 8 2z"/><path fill="#ff5f30" stroke="#ff5f30" d="M1741 124l-7 32-7-22 7-32z"/><path fill="#10a2f0" stroke="#10a2f0" d="M1521 490l-8-2-7-12 8 2z"/><path fill="#04b9ea" stroke="#04b9ea" d="M1727 455l-8 17-7-2 7-18z"/><path fill="#8efeac" stroke="#8efeac" d="M1756 315l-7 7-8-5 8-6zM1800 317l-7 2-7-4 7-2z"/><path fill="#4c50fc" stroke="#4c50fc" d="M1631 545l-7-1 7 1 7 1z"/><path fill="#a2f9a0" stroke="#a2f9a0" d="M1845 288l-8 18-7-4 7-18z"/><path fill="#386df9" stroke="#386df9" d="M1712 520l-7 11-8-3 8-10z"/><path fill="#ff934d" stroke="#ff934d" d="M1786 152l-8 47-7-11 7-47z"/><path fill="#4a53fb" stroke="#4a53fb" d="M1683 543l-8 5-7-2 7-4z"/><path fill="#ffa055" stroke="#ffa055" d="M1793 162l-8 46-7-9 8-47z"/><path fill="#72febb" stroke="#72febb" d="M1734 342l-7 14-8-4 8-14z"/><path fill="#4062fa" stroke="#4062fa" d="M1705 531l-8 8-7-2 7-9z"/><path fill="#218cf4" stroke="#218cf4" d="M1536 508l-8-3-8-8 8 3z"/><path fill="#90feab" stroke="#90feab" d="M1786 315l-8 3-7-3 7-3zM1771 315l-7 4-8-4 8-5z"/><path fill="#c2ea8c" stroke="#c2ea8c" d="M1837 250l-7 30-8-5 8-30z"/><path fill="#2981f6" stroke="#2981f6" d="M1719 507l-7 13-7-2 7-13z"/><path fill="#ff8444" stroke="#ff8444" d="M1778 141l-7 47-8-12 8-48z"/><path fill="#0ca7ef" stroke="#0ca7ef" d="M1727 474l-8 16-7-2 7-16z"/><path fill="#e2d176" stroke="#e2d176" d="M1668 235l-7 13-8-21 7-13z"/><path fill="#ffa95b" stroke="#ffa95b" d="M1801 170l-8 47-8-9 8-46z"/><path fill="#f6be68" stroke="#f6be68" d="M1683 216l-8 8-7-20 7-9z"/><path fill="#3473f8" stroke="#3473f8" d="M1565 526l-8-4-7-3 8 3z"/><path fill="#01b3ec" stroke="#01b3ec" d="M1514 478l-8-2-8-14 8 2z"/><path fill="#8bfeae" stroke="#8bfeae" d="M1749 322l-8 9-7-4 7-10z"/><path fill="#94fda8" stroke="#94fda8" d="M1845 311l-8 10-7-5 7-10z"/><path fill="#80ffb4" stroke="#80ffb4" d="M1741 331l-7 11-7-4 7-11z"/><path fill="#eec66d" stroke="#eec66d" d="M1675 224l-7 11-8-21 8-10z"/><path fill="#4659fb" stroke="#4659fb" d="M1617 543l-8-3 7 1 8 3z"/><path fill="#62fbc4" stroke="#62fbc4" d="M1734 359l-7 15-8-3 8-15z"/><path fill="#3c68f9" stroke="#3c68f9" d="M1580 532l-8-3 7 2 8 3z"/><path fill="#445cfb" stroke="#445cfb" d="M1697 539l-7 6-7-2 7-6z"/><path fill="#ffae5e" stroke="#ffae5e" d="M1808 177l-8 47-7-7 8-47z"/><path fill="#2686f5" stroke="#2686f5" d="M1543 514l-8-3-7-6 8 3z"/><path fill="#52f5cb" stroke="#52f5cb" d="M1734 377l-7 17-8-3 8-17z"/><path fill="#ff6d38" stroke="#ff6d38" d="M1771 128l-8 48-7-15 8-48z"/><path fill="#1996f3" stroke="#1996f3" d="M1727 493l-8 14-7-2 7-15z"/><path fill="#8efeac" stroke="#8efeac" d="M1837 321l-7 5-7-4 7-6zM1823 322l-8 3-7-4 7-3z"/><path fill="#40ecd4" stroke="#40ecd4" d="M1734 397l-7 17-8-2 8-18z"/><path fill="#a4f89f" stroke="#a4f89f" d="M1852 293l-7 18-8-5 8-18z"/><path fill="#90feab" stroke="#90feab" d="M1764 319l-8 7-7-4 7-7z"/><path fill="#2fe0db" stroke="#2fe0db" d="M1734 417l-7 17-8-2 8-18z"/><path fill="#90feab" stroke="#90feab" d="M1808 321l-7 2-8-4 7-2z"/><path fill="#1acfe3" stroke="#1acfe3" d="M1734 437l-7 18-8-3 8-18z"/><path fill="#74feba" stroke="#74feba" d="M1741 346l-7 13-7-3 7-14z"/><path fill="#3e65fa" stroke="#3e65fa" d="M1602 539l-8-3 7 1 8 3z"/><path fill="#c4e88a" stroke="#c4e88a" d="M1845 255l-8 29-7-4 7-30z"/><path fill="#12c8e6" stroke="#12c8e6" d="M1506 464l-8-2-8-17 8 2z"/><path fill="#94fda8" stroke="#94fda8" d="M1793 319l-7 3-8-4 8-3zM1778 318l-7 5-7-4 7-4z"/><path fill="#ffb360" stroke="#ffb360" d="M1815 184l-7 46-8-6 8-47z"/><path fill="#4659fb" stroke="#4659fb" d="M1675 548l-7 1-8-1 8-2z"/><path fill="#08bee9" stroke="#08bee9" d="M1734 457l-7 17-8-2 8-17z"/><path fill="#4659fb" stroke="#4659fb" d="M1660 548l-7 0-7-1 7 0z"/><path fill="#94fda8" stroke="#94fda8" d="M1852 316l-7 9-8-4 8-10z"/><path fill="#3176f8" stroke="#3176f8" d="M1719 522l-7 11-7-2 7-11z"/><path fill="#8cfead" stroke="#8cfead" d="M1756 326l-7 8-8-3 8-9z"/><path fill="#82ffb3" stroke="#82ffb3" d="M1749 334l-8 12-7-4 7-11z"/><path fill="#396bf9" stroke="#396bf9" d="M1712 533l-7 8-8-2 8-8z"/><path fill="#445cfb" stroke="#445cfb" d="M1690 545l-8 4-7-1 8-5z"/><path fill="#3079f7" stroke="#3079f7" d="M1565 526l-8-4 7 3 8 4z"/><path fill="#2686f5" stroke="#2686f5" d="M1550 519l-8-3-7-5 8 3zM1727 510l-8 12-7-2 7-13z"/><path fill="#445cfb" stroke="#445cfb" d="M1638 546l-7-1 7 1 8 1z"/><path fill="#08acee" stroke="#08acee" d="M1734 477l-7 16-8-3 8-16z"/><path fill="#ff5029" stroke="#ff5029" d="M1764 113l-8 48-7-17 7-48z"/><path fill="#66fcc2" stroke="#66fcc2" d="M1741 362l-7 15-7-3 7-15z"/><path fill="#90feab" stroke="#90feab" d="M1845 325l-8 6-7-5 7-5zM1830 326l-7 3-8-4 8-3z"/><path fill="#a4f89f" stroke="#a4f89f" d="M1860 298l-8 18-7-5 7-18z"/><path fill="#0ea5ef" stroke="#0ea5ef" d="M1520 497l-8-1-7-9 8 1z"/><path fill="#04b0ed" stroke="#04b0ed" d="M1513 488l-8-1-7-12 8 1z"/><path fill="#feb562" stroke="#feb562" d="M1823 190l-8 46-7-6 7-46z"/><path fill="#3473f8" stroke="#3473f8" d="M1587 534l-8-3 7 1 8 4z"/><path fill="#56f7ca" stroke="#56f7ca" d="M1741 380l-7 17-7-3 7-17z"/><path fill="#3e65fa" stroke="#3e65fa" d="M1705 541l-8 7-7-3 7-6z"/><path fill="#92fda9" stroke="#92fda9" d="M1771 323l-7 6-8-3 8-7z"/><path fill="#3e65fa" stroke="#3e65fa" d="M1624 544l-8-3 7 1 8 3z"/><path fill="#169bf2" stroke="#169bf2" d="M1734 495l-7 15-8-3 8-14z"/><path fill="#c4e88a" stroke="#c4e88a" d="M1852 259l-7 29-8-4 8-29z"/><path fill="#94fda8" stroke="#94fda8" d="M1815 325l-7 2-7-4 7-2z"/><path fill="#149df1" stroke="#149df1" d="M1528 505l-8-1-8-8 8 1z"/><path fill="#46efd1" stroke="#46efd1" d="M1741 399l-7 18-7-3 7-17z"/><path fill="#94fda8" stroke="#94fda8" d="M1860 321l-8 9-7-5 7-9z"/><path fill="#78ffb8" stroke="#78ffb8" d="M1749 349l-8 13-7-3 7-13z"/><path fill="#96fca7" stroke="#96fca7" d="M1801 323l-8 3-7-4 7-3z"/><path fill="#32e3da" stroke="#32e3da" d="M1741 419l-7 18-7-3 7-17z"/><path fill="#96fca7" stroke="#96fca7" d="M1786 322l-8 4-7-3 7-5z"/><path fill="#0dc2e8" stroke="#0dc2e8" d="M1506 476l-8-1-8-14 8 1z"/><path fill="#20d5e1" stroke="#20d5e1" d="M1741 439l-7 18-7-2 7-18z"/><path fill="#8efeac" stroke="#8efeac" d="M1764 329l-8 9-7-4 7-8z"/><path fill="#84ffb2" stroke="#84ffb2" d="M1756 338l-7 11-8-3 8-12z"/><path fill="#2489f5" stroke="#2489f5" d="M1557 522l-8-2-7-4 8 3z"/><path fill="#0fc4e7" stroke="#0fc4e7" d="M1741 460l-7 17-7-3 7-17z"/><path fill="#2c7ef7" stroke="#2c7ef7" d="M1727 525l-8 11-7-3 7-11z"/><path fill="#90feab" stroke="#90feab" d="M1852 330l-7 5-8-4 8-6z"/><path fill="#a4f89f" stroke="#a4f89f" d="M1867 303l-7 18-8-5 8-18z"/><path fill="#3670f8" stroke="#3670f8" d="M1609 540l-8-3 7 1 8 3z"/><path fill="#feb562" stroke="#feb562" d="M1830 195l-8 46-7-5 8-46z"/><path fill="#4062fa" stroke="#4062fa" d="M1682 549l-7 2-7-2 7-1z"/><path fill="#1898f2" stroke="#1898f2" d="M1535 511l-8-1-7-6 8 1z"/><path fill="#3473f8" stroke="#3473f8" d="M1719 536l-7 8-7-3 7-8z"/><path fill="#208ef4" stroke="#208ef4" d="M1734 513l-7 12-8-3 8-12z"/><path fill="#92fda9" stroke="#92fda9" d="M1837 331l-7 2-7-4 7-3z"/><path fill="#ff2c16" stroke="#ff2c16" d="M1756 96l-7 48-8-20 8-48z"/><path fill="#3e65fa" stroke="#3e65fa" d="M1668 549l-8 0-7-1 7 0z"/><path fill="#01b3ec" stroke="#01b3ec" d="M1741 480l-7 15-7-2 7-16z"/><path fill="#2981f6" stroke="#2981f6" d="M1572 529l-8-4 7 2 8 4z"/><path fill="#6afdc0" stroke="#6afdc0" d="M1749 365l-8 15-7-3 7-15z"/><path fill="#3e65fa" stroke="#3e65fa" d="M1697 548l-7 3-8-2 8-4z"/><path fill="#c6e789" stroke="#c6e789" d="M1860 264l-8 29-7-5 7-29z"/><path fill="#94fda8" stroke="#94fda8" d="M1867 326l-7 10-8-6 8-9z"/><path fill="#96fca7" stroke="#96fca7" d="M1823 329l-8 2-7-4 7-2zM1778 326l-7 6-7-3 7-6z"/><path fill="#1fd3e1" stroke="#1fd3e1" d="M1498 462l-8-1-8-17 8 1z"/><path fill="#396bf9" stroke="#396bf9" d="M1653 548l-8-1-7-1 8 1z"/><path fill="#5df9c7" stroke="#5df9c7" d="M1749 383l-8 16-7-2 7-17z"/><path fill="#11a0f1" stroke="#11a0f1" d="M1741 499l-7 14-7-3 7-15z"/><path fill="#386df9" stroke="#386df9" d="M1712 544l-8 6-7-2 8-7z"/><path fill="#99fca6" stroke="#99fca6" d="M1808 327l-7 2-8-3 8-3zM1793 326l-7 4-8-4 8-4z"/><path fill="#7dffb6" stroke="#7dffb6" d="M1756 352l-7 13-8-3 8-13z"/><path fill="#4af2cf" stroke="#4af2cf" d="M1749 402l-8 17-7-2 7-18z"/><path fill="#2c7ef7" stroke="#2c7ef7" d="M1594 536l-8-4 7 1 8 4z"/><path fill="#a4f89f" stroke="#a4f89f" d="M1875 309l-8 17-7-5 7-18z"/><path fill="#90feab" stroke="#90feab" d="M1860 336l-8 5-7-6 7-5z"/><path fill="#feb562" stroke="#feb562" d="M1838 200l-8 45-8-4 8-46z"/><path fill="#38e7d7" stroke="#38e7d7" d="M1749 422l-8 17-7-2 7-18z"/><path fill="#92fda9" stroke="#92fda9" d="M1771 332l-7 9-8-3 8-9z"/><path fill="#1898f2" stroke="#1898f2" d="M1542 516l-8-2-7-4 8 1z"/><path fill="#3473f8" stroke="#3473f8" d="M1631 545l-8-3 7 1 8 3z"/><path fill="#24d8df" stroke="#24d8df" d="M1749 442l-8 18-7-3 7-18z"/><path fill="#01b3ec" stroke="#01b3ec" d="M1512 496l-7 0-8-9 8 0z"/><path fill="#08bee9" stroke="#08bee9" d="M1505 487l-8 0-7-12 8 0z"/><path fill="#88ffaf" stroke="#88ffaf" d="M1764 341l-8 11-7-3 7-11z"/><path fill="#92fda9" stroke="#92fda9" d="M1845 335l-7 3-8-5 7-2zM1875 332l-8 10-7-6 7-10z"/><path fill="#208ef4" stroke="#208ef4" d="M1564 525l-8-3-7-2 8 2z"/><path fill="#12c8e6" stroke="#12c8e6" d="M1749 463l-8 17-7-3 7-17z"/><path fill="#2884f6" stroke="#2884f6" d="M1734 529l-7 10-8-3 8-11z"/><path fill="#c6e789" stroke="#c6e789" d="M1867 269l-7 29-8-5 8-29z"/><path fill="#1e91f3" stroke="#1e91f3" d="M1741 517l-7 12-7-4 7-12z"/><path fill="#08acee" stroke="#08acee" d="M1520 504l-8 0-7-8 7 0z"/><path fill="#3079f7" stroke="#3079f7" d="M1727 539l-8 8-7-3 7-8z"/><path fill="#02b7eb" stroke="#02b7eb" d="M1749 483l-8 16-7-4 7-15z"/><path fill="#17cbe4" stroke="#17cbe4" d="M1498 475l-8 0-8-14 8 0z"/><path fill="#6efebe" stroke="#6efebe" d="M1756 368l-7 15-8-3 8-15z"/><path fill="#99fca6" stroke="#99fca6" d="M1830 333l-7 2-8-4 8-2z"/><path fill="#386df9" stroke="#386df9" d="M1690 551l-8 2-7-2 7-2z"/><path fill="#a2f9a0" stroke="#a2f9a0" d="M1882 315l-7 17-8-6 8-17z"/><path fill="#99fca6" stroke="#99fca6" d="M1786 330l-8 6-7-4 7-6z"/><path fill="#386df9" stroke="#386df9" d="M1704 550l-7 4-7-3 7-3z"/><path fill="#90feab" stroke="#90feab" d="M1867 342l-7 4-8-5 8-5z"/><path fill="#2489f5" stroke="#2489f5" d="M1579 531l-8-4 7 1 8 4z"/><path fill="#2e7bf7" stroke="#2e7bf7" d="M1616 541l-8-3 7 0 8 4z"/><path fill="#3670f8" stroke="#3670f8" d="M1675 551l-8 0-7-2 8 0z"/><path fill="#218cf4" stroke="#218cf4" d="M2015 531l-7 7-7-11 7-7z"/><path fill="#1898f2" stroke="#1898f2" d="M2023 517l-8 14-7-11 7-14z"/><path fill="#90feab" stroke="#90feab" d="M1882 339l-7 9-8-6 8-10z"/><path fill="#218cf4" stroke="#218cf4" d="M2030 527l-7 14-8-10 8-14z"/><path fill="#9bfba5" stroke="#9bfba5" d="M1815 331l-7 2-7-4 7-2z"/><path fill="#2c7ef7" stroke="#2c7ef7" d="M2023 541l-8 6-7-9 7-7z"/><path fill="#0ea5ef" stroke="#0ea5ef" d="M1749 502l-8 15-7-4 7-14z"/><path fill="#1898f2" stroke="#1898f2" d="M2008 520l-7 7-8-11 7-7z"/><path fill="#ff0000" stroke="#ff0000" d="M1749 76l-8 48-7-22 7-49z"/><path fill="#feb562" stroke="#feb562" d="M1845 205l-8 45-7-5 8-45z"/><path fill="#60fac5" stroke="#60fac5" d="M1756 386l-7 16-8-3 8-16z"/><path fill="#0ea5ef" stroke="#0ea5ef" d="M2015 506l-7 14-8-11 8-14z"/><path fill="#9cfba4" stroke="#9cfba4" d="M1801 329l-8 4-7-3 7-4z"/><path fill="#3473f8" stroke="#3473f8" d="M1719 547l-7 6-8-3 8-6z"/><path fill="#92fda9" stroke="#92fda9" d="M1852 341l-7 2-7-5 7-3z"/><path fill="#0ca7ef" stroke="#0ca7ef" d="M2000 509l-7 7-7-12 7-7z"/><path fill="#2981f6" stroke="#2981f6" d="M2038 536l-8 13-7-8 7-14z"/><path fill="#0ca7ef" stroke="#0ca7ef" d="M1527 510l-8 0-7-6 8 0z"/><path fill="#80ffb4" stroke="#80ffb4" d="M1764 355l-8 13-7-3 7-13z"/><path fill="#3473f8" stroke="#3473f8" d="M2030 549l-7 7-8-9 8-6z"/><path fill="#169bf2" stroke="#169bf2" d="M1549 520l-8-2-7-4 8 2z"/><path fill="#01b3ec" stroke="#01b3ec" d="M2008 495l-8 14-7-12 8-14z"/><path fill="#4ef3cd" stroke="#4ef3cd" d="M1756 405l-7 17-8-3 8-17z"/><path fill="#3176f8" stroke="#3176f8" d="M1660 549l-8-1-7-1 8 1z"/><path fill="#c6e789" stroke="#c6e789" d="M1875 274l-8 29-7-5 7-29z"/><path fill="#94fda8" stroke="#94fda8" d="M1778 336l-7 8-7-3 7-9z"/><path fill="#3dead5" stroke="#3dead5" d="M1756 425l-7 17-8-3 8-17z"/><path fill="#00b5eb" stroke="#00b5eb" d="M1993 497l-7 7-8-12 8-7z"/><path fill="#28dbde" stroke="#28dbde" d="M1490 461l-8 0-7-16 7-1z"/><path fill="#a0faa1" stroke="#a0faa1" d="M1890 322l-8 17-7-7 7-17z"/><path fill="#8cfead" stroke="#8cfead" d="M1771 344l-7 11-8-3 8-11z"/><path fill="#2adddd" stroke="#2adddd" d="M1756 446l-7 17-8-3 8-18z"/><path fill="#0dc2e8" stroke="#0dc2e8" d="M2001 483l-8 14-7-12 7-15z"/><path fill="#2686f5" stroke="#2686f5" d="M1741 533l-7 10-7-4 7-10z"/><path fill="#3079f7" stroke="#3079f7" d="M2045 543l-7 14-8-8 8-13z"/><path fill="#17cbe4" stroke="#17cbe4" d="M1756 466l-7 17-8-3 8-17z"/><path fill="#8efeac" stroke="#8efeac" d="M1875 348l-8 5-7-7 7-4zM1890 346l-8 9-7-7 7-9z"/><path fill="#386df9" stroke="#386df9" d="M2038 557l-8 6-7-7 7-7z"/><path fill="#2489f5" stroke="#2489f5" d="M1601 537l-8-4 7 1 8 4z"/><path fill="#99fca6" stroke="#99fca6" d="M1838 338l-8 1-7-4 7-2z"/><path fill="#1996f3" stroke="#1996f3" d="M1749 521l-8 12-7-4 7-12z"/><path fill="#0fc4e7" stroke="#0fc4e7" d="M1986 485l-8 7-7-12 7-7z"/><path fill="#1996f3" stroke="#1996f3" d="M1564 525l-8-3 7 2 8 3z"/><path fill="#2c7ef7" stroke="#2c7ef7" d="M1734 543l-7 8-8-4 8-8z"/><path fill="#04b9ea" stroke="#04b9ea" d="M1756 487l-7 15-8-3 8-16z"/><path fill="#0fc4e7" stroke="#0fc4e7" d="M1497 487l-8 2-7-11 8-3z"/><path fill="#18cde4" stroke="#18cde4" d="M1993 470l-7 15-8-12 8-15z"/><path fill="#07bbea" stroke="#07bbea" d="M1505 496l-8 2-8-9 8-2z"/><path fill="#2c7ef7" stroke="#2c7ef7" d="M1638 546l-8-3 8 0 7 4z"/><path fill="#74feba" stroke="#74feba" d="M1764 371l-8 15-7-3 7-15z"/><path fill="#feb562" stroke="#feb562" d="M1853 209l-8 46-8-5 8-45z"/><path fill="#208ef4" stroke="#208ef4" d="M2008 538l-7 2-7-11 7-2z"/><path fill="#9cfba4" stroke="#9cfba4" d="M1793 333l-7 6-8-3 8-6z"/><path fill="#1acfe3" stroke="#1acfe3" d="M1978 473l-7 7-7-12 7-7z"/><path fill="#92fda9" stroke="#92fda9" d="M1860 346l-7 3-8-6 7-2z"/><path fill="#169bf2" stroke="#169bf2" d="M2001 527l-7 2-8-11 7-2z"/><path fill="#9cfba4" stroke="#9cfba4" d="M1897 329l-7 17-8-7 8-17z"/><path fill="#2981f6" stroke="#2981f6" d="M2015 547l-7 2-7-9 7-2z"/><path fill="#9cfba4" stroke="#9cfba4" d="M1823 335l-7 2-8-4 7-2z"/><path fill="#0ca7ef" stroke="#0ca7ef" d="M1534 514l-8 0-7-4 8 0z"/><path fill="#c4e88a" stroke="#c4e88a" d="M1883 280l-8 29-8-6 8-29z"/><path fill="#8bfeae" stroke="#8bfeae" d="M1897 354l-7 9-8-8 8-9z"/><path fill="#27dade" stroke="#27dade" d="M1986 458l-8 15-7-12 8-16z"/><path fill="#0ca7ef" stroke="#0ca7ef" d="M1756 507l-7 14-8-4 8-15z"/><path fill="#3176f8" stroke="#3176f8" d="M1712 553l-8 4-7-3 7-4z"/><path fill="#1dd1e2" stroke="#1dd1e2" d="M1490 475l-8 3-8-14 8-3z"/><path fill="#09a9ee" stroke="#09a9ee" d="M1993 516l-7 2-7-11 7-3z"/><path fill="#3176f8" stroke="#3176f8" d="M1697 554l-7 1-8-2 8-2zM2053 550l-8 13-7-6 7-14z"/><path fill="#00b5eb" stroke="#00b5eb" d="M1512 504l-8 2-7-8 8-2z"/><path fill="#8bfeae" stroke="#8bfeae" d="M1882 355l-7 5-8-7 8-5z"/><path fill="#9efaa2" stroke="#9efaa2" d="M1808 333l-7 4-8-4 8-4z"/><path fill="#3c68f9" stroke="#3c68f9" d="M2045 563l-7 6-8-6 8-6z"/><path fill="#28dbde" stroke="#28dbde" d="M1971 461l-7 7-8-12 8-8z"/><path fill="#3079f7" stroke="#3079f7" d="M2023 556l-7 2-8-9 7-2z"/><path fill="#64fbc3" stroke="#64fbc3" d="M1764 389l-8 16-7-3 7-16z"/><path fill="#02b7eb" stroke="#02b7eb" d="M1986 504l-7 3-8-12 7-3z"/><path fill="#3079f7" stroke="#3079f7" d="M1727 551l-8 6-7-4 7-6zM1682 553l-7 0-8-2 8 0z"/><path fill="#34e4d9" stroke="#34e4d9" d="M1979 445l-8 16-7-13 7-15z"/><path fill="#84ffb2" stroke="#84ffb2" d="M1771 358l-7 13-8-3 8-13z"/><path fill="#1c93f3" stroke="#1c93f3" d="M1586 532l-8-4 7 1 8 4z"/><path fill="#10a2f0" stroke="#10a2f0" d="M1556 522l-8-2-7-2 8 2z"/><path fill="#99fca6" stroke="#99fca6" d="M1905 337l-8 17-7-8 7-17z"/><path fill="#84ffb2" stroke="#84ffb2" d="M1905 362l-8 9-7-8 7-9z"/><path fill="#99fca6" stroke="#99fca6" d="M1786 339l-7 8-8-3 7-8z"/><path fill="#04b9ea" stroke="#04b9ea" d="M2031 492l-8 25-8-11 9-25z"/><path fill="#06aeed" stroke="#06aeed" d="M2038 502l-8 25-7-10 8-25z"/><path fill="#52f5cb" stroke="#52f5cb" d="M1764 408l-8 17-7-3 7-17z"/><path fill="#37e6d8" stroke="#37e6d8" d="M1964 448l-8 8-7-12 7-8z"/><path fill="#2489f5" stroke="#2489f5" d="M1623 542l-8-4 8 1 7 4z"/><path fill="#99fca6" stroke="#99fca6" d="M1845 343l-7 1-8-5 8-1z"/><path fill="#2489f5" stroke="#2489f5" d="M1749 537l-8 10-7-4 7-10z"/><path fill="#0fc4e7" stroke="#0fc4e7" d="M1978 492l-7 3-7-12 7-3z"/><path fill="#40ecd4" stroke="#40ecd4" d="M1764 428l-8 18-7-4 7-17z"/><path fill="#0fc4e7" stroke="#0fc4e7" d="M2024 481l-9 25-7-11 8-26z"/><path fill="#2ddedc" stroke="#2ddedc" d="M1764 449l-8 17-7-3 7-17z"/><path fill="#90feab" stroke="#90feab" d="M1779 347l-8 11-7-3 7-11z"/><path fill="#0ea5ef" stroke="#0ea5ef" d="M2046 511l-8 25-8-9 8-25z"/><path fill="#1acfe3" stroke="#1acfe3" d="M1764 470l-8 17-7-4 7-17z"/><path fill="#3670f8" stroke="#3670f8" d="M2030 563l-6 2-8-7 7-2z"/><path fill="#1898f2" stroke="#1898f2" d="M1756 525l-7 12-8-4 8-12z"/><path fill="#86ffb0" stroke="#86ffb0" d="M1890 363l-8 4-7-7 7-5z"/><path fill="#42edd3" stroke="#42edd3" d="M1971 433l-7 15-8-12 8-15z"/><path fill="#90feab" stroke="#90feab" d="M1867 353l-7 2-7-6 7-3z"/><path fill="#42edd3" stroke="#42edd3" d="M1956 436l-7 8-7-12 7-8z"/><path fill="#04b0ed" stroke="#04b0ed" d="M1519 510l-8 1-7-5 8-2z"/><path fill="#c4e88a" stroke="#c4e88a" d="M1890 287l-8 28-7-6 8-29z"/><path fill="#7effb5" stroke="#7effb5" d="M1912 371l-7 9-8-9 8-9z"/><path fill="#1acfe3" stroke="#1acfe3" d="M2016 469l-8 26-7-12 8-26z"/><path fill="#07bbea" stroke="#07bbea" d="M1764 491l-8 16-7-5 7-15z"/><path fill="#2981f6" stroke="#2981f6" d="M1741 547l-7 8-7-4 7-8zM1660 549l-8-1 8 1 7 2z"/><path fill="#1dd1e2" stroke="#1dd1e2" d="M1971 480l-7 3-7-12 7-3z"/><path fill="#92fda9" stroke="#92fda9" d="M1912 346l-7 16-8-8 8-17z"/><path fill="#ffb360" stroke="#ffb360" d="M1861 214l-9 45-7-4 8-46z"/><path fill="#30e1da" stroke="#30e1da" d="M1482 461l-8 3-7-17 8-2z"/><path fill="#4ef3cd" stroke="#4ef3cd" d="M1949 424l-7 8-8-11 8-8z"/><path fill="#12c8e6" stroke="#12c8e6" d="M1489 489l-7 4-8-11 8-4z"/><path fill="#4ef3cd" stroke="#4ef3cd" d="M1964 421l-8 15-7-12 8-15z"/><path fill="#3176f8" stroke="#3176f8" d="M2061 554l-8 14-8-5 8-13z"/><path fill="#76ffb9" stroke="#76ffb9" d="M1919 381l-7 8-7-9 7-9z"/><path fill="#0ac0e8" stroke="#0ac0e8" d="M1497 498l-8 4-7-9 7-4z"/><path fill="#149df1" stroke="#149df1" d="M2054 519l-9 24-7-7 8-25z"/><path fill="#9efaa2" stroke="#9efaa2" d="M1830 339l-7 2-7-4 7-2zM1801 337l-8 6-7-4 7-6z"/><path fill="#5af8c8" stroke="#5af8c8" d="M1942 413l-8 8-7-11 7-8z"/><path fill="#3c68f9" stroke="#3c68f9" d="M2053 568l-7 6-8-5 7-6z"/><path fill="#28dbde" stroke="#28dbde" d="M2009 457l-8 26-8-13 9-25z"/><path fill="#78ffb8" stroke="#78ffb8" d="M1771 374l-7 15-8-3 8-15z"/><path fill="#28dbde" stroke="#28dbde" d="M1964 468l-7 3-8-12 7-3z"/><path fill="#6efebe" stroke="#6efebe" d="M1927 391l-7 8-8-10 7-8z"/><path fill="#09a9ee" stroke="#09a9ee" d="M1764 511l-8 14-7-4 7-14z"/><path fill="#82ffb3" stroke="#82ffb3" d="M1897 371l-7 4-8-8 8-4z"/><path fill="#8cfead" stroke="#8cfead" d="M1920 355l-8 16-7-9 7-16z"/><path fill="#64fbc3" stroke="#64fbc3" d="M1934 402l-7 8-7-11 7-8z"/><path fill="#09a9ee" stroke="#09a9ee" d="M1541 518l-8-1-7-3 8 0z"/><path fill="#5af8c8" stroke="#5af8c8" d="M1957 409l-8 15-7-11 7-16z"/><path fill="#11a0f1" stroke="#11a0f1" d="M1571 527l-8-3 7 1 8 3z"/><path fill="#a0faa1" stroke="#a0faa1" d="M1816 337l-8 4-7-4 7-4z"/><path fill="#20d5e1" stroke="#20d5e1" d="M1482 478l-8 4-7-14 7-4z"/><path fill="#1c93f3" stroke="#1c93f3" d="M1608 538l-8-4 8 0 7 4z"/><path fill="#84ffb2" stroke="#84ffb2" d="M1927 365l-8 16-7-10 8-16z"/><path fill="#386df9" stroke="#386df9" d="M2038 569l-7 2-7-6 6-2z"/><path fill="#2e7bf7" stroke="#2e7bf7" d="M1719 557l-7 3-8-3 8-4z"/><path fill="#66fcc2" stroke="#66fcc2" d="M1949 397l-7 16-8-11 8-16z"/><path fill="#8efeac" stroke="#8efeac" d="M1875 360l-7 1-8-6 7-2z"/><path fill="#34e4d9" stroke="#34e4d9" d="M1956 456l-7 3-7-12 7-3z"/><path fill="#04b9ea" stroke="#04b9ea" d="M1504 506l-8 4-7-8 8-4z"/><path fill="#99fca6" stroke="#99fca6" d="M1853 349l-7 1-8-6 7-1z"/><path fill="#37e6d8" stroke="#37e6d8" d="M2002 445l-9 25-7-12 8-26z"/><path fill="#c0eb8d" stroke="#c0eb8d" d="M1898 294l-8 28-8-7 8-28z"/><path fill="#7affb7" stroke="#7affb7" d="M1935 375l-8 16-8-10 8-16z"/><path fill="#72febb" stroke="#72febb" d="M1942 386l-8 16-7-11 8-16z"/><path fill="#2e7bf7" stroke="#2e7bf7" d="M1734 555l-7 6-8-4 8-6z"/><path fill="#7dffb6" stroke="#7dffb6" d="M1905 380l-8 4-7-9 7-4z"/><path fill="#2e7bf7" stroke="#2e7bf7" d="M1704 557l-7 1-7-3 7-1zM1437 556l-7 10-8-10 8-10z"/><path fill="#2489f5" stroke="#2489f5" d="M1645 547l-7-4 7 1 7 4z"/><path fill="#218cf4" stroke="#218cf4" d="M1445 544l-8 12-7-10 7-12z"/><path fill="#68fcc1" stroke="#68fcc1" d="M1771 392l-7 16-8-3 8-16z"/><path fill="#218cf4" stroke="#218cf4" d="M1756 543l-7 9-8-5 8-10z"/><path fill="#1898f2" stroke="#1898f2" d="M2001 540l-7-1-7-10 7 0z"/><path fill="#0ea5ef" stroke="#0ea5ef" d="M1994 529l-7 0-8-11 7 0z"/><path fill="#1898f2" stroke="#1898f2" d="M2061 525l-8 25-8-7 9-24z"/><path fill="#42edd3" stroke="#42edd3" d="M1949 444l-7 3-7-11 7-4z"/><path fill="#218cf4" stroke="#218cf4" d="M1430 546l-8 10-7-13 7-10z"/><path fill="#88ffaf" stroke="#88ffaf" d="M1779 361l-8 13-7-3 7-13z"/><path fill="#1898f2" stroke="#1898f2" d="M1764 531l-8 12-7-6 7-12z"/><path fill="#9cfba4" stroke="#9cfba4" d="M1793 343l-7 8-7-4 7-8z"/><path fill="#208ef4" stroke="#208ef4" d="M2008 549l-6 0-8-10 7 1z"/><path fill="#3473f8" stroke="#3473f8" d="M1444 565l-7 9-7-8 7-10z"/><path fill="#01b3ec" stroke="#01b3ec" d="M1986 518l-7 0-7-11 7 0z"/><path fill="#169bf2" stroke="#169bf2" d="M1437 534l-7 12-8-13 8-12z"/><path fill="#01b3ec" stroke="#01b3ec" d="M1526 514l-8 2-7-5 8-1z"/><path fill="#74feba" stroke="#74feba" d="M1912 389l-7 4-8-9 8-4z"/><path fill="#2981f6" stroke="#2981f6" d="M1452 553l-8 12-7-9 8-12z"/><path fill="#56f7ca" stroke="#56f7ca" d="M1771 411l-7 17-8-3 8-17z"/><path fill="#1dd1e2" stroke="#1dd1e2" d="M1771 475l-7 16-8-4 8-17z"/><path fill="#30e1da" stroke="#30e1da" d="M1771 453l-7 17-8-4 8-17z"/><path fill="#4ef3cd" stroke="#4ef3cd" d="M1942 432l-7 4-8-12 7-3z"/><path fill="#44eed2" stroke="#44eed2" d="M1994 432l-8 26-7-13 8-26zM1771 432l-7 17-8-3 8-18z"/><path fill="#12c8e6" stroke="#12c8e6" d="M1482 493l-8 7-7-11 7-7z"/><path fill="#ffb360" stroke="#ffb360" d="M1868 219l-8 45-8-5 9-45z"/><path fill="#08bee9" stroke="#08bee9" d="M1771 496l-7 15-8-4 8-16z"/><path fill="#2981f6" stroke="#2981f6" d="M1690 555l-8 0-7-2 7 0z"/><path fill="#169bf2" stroke="#169bf2" d="M1452 532l-7 12-8-10 7-13z"/><path fill="#2981f6" stroke="#2981f6" d="M1749 552l-8 8-7-5 7-8z"/><path fill="#94fda8" stroke="#94fda8" d="M1786 351l-7 10-8-3 8-11z"/><path fill="#6dfdbf" stroke="#6dfdbf" d="M1920 399l-8 4-7-10 7-4z"/><path fill="#58f8c9" stroke="#58f8c9" d="M1934 421l-7 3-7-11 7-3z"/><path fill="#08bee9" stroke="#08bee9" d="M1489 502l-8 7-7-9 8-7zM1979 507l-7 0-8-12 7 0z"/><path fill="#62fbc4" stroke="#62fbc4" d="M1927 410l-7 3-8-10 8-4z"/><path fill="#09a9ee" stroke="#09a9ee" d="M1563 524l-8-2-7-2 8 2z"/><path fill="#8bfeae" stroke="#8bfeae" d="M1882 367l-7 2-7-8 7-1z"/><path fill="#2884f6" stroke="#2884f6" d="M2016 558l-7-1-7-8 6 0z"/><path fill="#bced8f" stroke="#bced8f" d="M1905 301l-8 28-7-7 8-28z"/><path fill="#a0faa1" stroke="#a0faa1" d="M1838 344l-7 2-8-5 7-2z"/><path fill="#1e91f3" stroke="#1e91f3" d="M1459 540l-7 13-7-9 7-12z"/><path fill="#3079f7" stroke="#3079f7" d="M1430 566l-8 5-7-10 7-5z"/><path fill="#09a9ee" stroke="#09a9ee" d="M1444 521l-7 13-7-13 7-13z"/><path fill="#08acee" stroke="#08acee" d="M1771 517l-7 14-8-6 8-14z"/><path fill="#32e3da" stroke="#32e3da" d="M1474 464l-7 4-8-16 8-5z"/><path fill="#02b7eb" stroke="#02b7eb" d="M1511 511l-7 4-8-5 8-4z"/><path fill="#11a0f1" stroke="#11a0f1" d="M1593 533l-8-4 8 0 7 5z"/><path fill="#17cbe4" stroke="#17cbe4" d="M1971 495l-7 0-7-12 7 0z"/><path fill="#20d5e1" stroke="#20d5e1" d="M1474 482l-7 7-8-14 8-7z"/><path fill="#52f5cb" stroke="#52f5cb" d="M1987 419l-8 26-8-12 9-26z"/><path fill="#3079f7" stroke="#3079f7" d="M2069 557l-8 14-8-3 8-14z"/><path fill="#08acee" stroke="#08acee" d="M1459 520l-7 12-8-11 8-12z"/><path fill="#99fca6" stroke="#99fca6" d="M1860 355l-7 1-7-6 7-1z"/><path fill="#2686f5" stroke="#2686f5" d="M1422 556l-7 5-8-13 8-5z"/><path fill="#a2f9a0" stroke="#a2f9a0" d="M1808 341l-7 5-8-3 8-6z"/><path fill="#1996f3" stroke="#1996f3" d="M1630 543l-7-4 7 0 8 4z"/><path fill="#10a2f0" stroke="#10a2f0" d="M1422 533l-7 10-8-15 7-10z"/><path fill="#2e7bf7" stroke="#2e7bf7" d="M1459 559l-7 12-8-6 8-12z"/><path fill="#386df9" stroke="#386df9" d="M1452 571l-8 9-7-6 7-9zM2046 574l-7 1-8-4 7-2z"/><path fill="#0fc4e7" stroke="#0fc4e7" d="M1474 500l-7 9-8-11 8-9z"/><path fill="#04b9ea" stroke="#04b9ea" d="M1496 510l-7 6-8-7 8-7z"/><path fill="#386df9" stroke="#386df9" d="M1437 574l-8 5-7-8 8-5zM2061 571l-7 6-8-3 7-6z"/><path fill="#a2f9a0" stroke="#a2f9a0" d="M1823 341l-7 4-8-4 8-4z"/><path fill="#10a2f0" stroke="#10a2f0" d="M1466 528l-7 12-7-8 7-12z"/><path fill="#06aeed" stroke="#06aeed" d="M1430 521l-8 12-8-15 8-12z"/><path fill="#7dffb6" stroke="#7dffb6" d="M1779 377l-8 15-7-3 7-15z"/><path fill="#04b9ea" stroke="#04b9ea" d="M1481 509l-7 9-7-9 7-9zM1467 509l-8 11-7-11 7-11z"/><path fill="#22d6e0" stroke="#22d6e0" d="M1964 483l-7 0-7-12 7 0z"/><path fill="#2489f5" stroke="#2489f5" d="M1667 551l-7-2 7 1 8 3z"/><path fill="#86ffb0" stroke="#86ffb0" d="M1890 375l-7 2-8-8 7-2z"/><path fill="#2c7ef7" stroke="#2c7ef7" d="M2024 565l-7-1-8-7 7 1z"/><path fill="#07bbea" stroke="#07bbea" d="M1452 509l-8 12-7-13 7-12z"/><path fill="#1898f2" stroke="#1898f2" d="M2069 530l-8 24-8-4 8-25z"/><path fill="#218cf4" stroke="#218cf4" d="M1764 548l-8 10-7-6 7-9z"/><path fill="#b9ef92" stroke="#b9ef92" d="M1913 309l-8 28-8-8 8-28z"/><path fill="#5efac6" stroke="#5efac6" d="M1980 407l-9 26-7-12 8-27z"/><path fill="#04b0ed" stroke="#04b0ed" d="M1548 520l-8 0-7-3 8 1zM1474 518l-8 10-7-8 8-11z"/><path fill="#2c7ef7" stroke="#2c7ef7" d="M1741 560l-7 6-7-5 7-6zM1727 561l-8 3-7-4 7-3z"/><path fill="#1898f2" stroke="#1898f2" d="M1771 536l-7 12-8-5 8-12z"/><path fill="#218cf4" stroke="#218cf4" d="M1466 547l-7 12-7-6 7-13z"/><path fill="#1acfe3" stroke="#1acfe3" d="M1467 489l-8 9-7-14 7-9z"/><path fill="#2fe0db" stroke="#2fe0db" d="M1957 471l-7 0-8-11 7-1z"/><path fill="#12c8e6" stroke="#12c8e6" d="M1459 498l-7 11-8-13 8-12z"/><path fill="#08bee9" stroke="#08bee9" d="M1437 508l-7 13-8-15 7-14z"/><path fill="#ffb360" stroke="#ffb360" d="M1876 224l-9 45-7-5 8-45z"/><path fill="#6dfdbf" stroke="#6dfdbf" d="M1779 395l-8 16-7-3 7-16z"/><path fill="#1dd1e2" stroke="#1dd1e2" d="M1779 480l-8 16-7-5 7-16z"/><path fill="#08bee9" stroke="#08bee9" d="M1779 502l-8 15-7-6 7-15z"/><path fill="#2884f6" stroke="#2884f6" d="M1712 560l-8 1-7-3 7-1zM1756 558l-7 8-8-6 8-8z"/><path fill="#6dfdbf" stroke="#6dfdbf" d="M1972 394l-8 27-7-12 8-27z"/><path fill="#80ffb4" stroke="#80ffb4" d="M1897 384l-7 1-7-8 7-2z"/><path fill="#149df1" stroke="#149df1" d="M1415 543l-8 5-8-15 8-5z"/><path fill="#00b5eb" stroke="#00b5eb" d="M1489 516l-8 9-7-7 7-9z"/><path fill="#9efaa2" stroke="#9efaa2" d="M1801 346l-7 8-8-3 7-8z"/><path fill="#149df1" stroke="#149df1" d="M1474 535l-8 12-7-7 7-12z"/><path fill="#32e3da" stroke="#32e3da" d="M1779 458l-8 17-7-5 7-17z"/><path fill="#b2f396" stroke="#b2f396" d="M1920 318l-8 28-7-9 8-28z"/><path fill="#8bfeae" stroke="#8bfeae" d="M1786 365l-7 12-8-3 8-13z"/><path fill="#3dead5" stroke="#3dead5" d="M1949 459l-7 1-7-12 7-1z"/><path fill="#09a9ee" stroke="#09a9ee" d="M1578 528l-8-3 8 1 7 3z"/><path fill="#00b5eb" stroke="#00b5eb" d="M1533 517l-7 2-8-3 8-2z"/><path fill="#94fda8" stroke="#94fda8" d="M1868 361l-7 1-8-6 7-1z"/><path fill="#32e3da" stroke="#32e3da" d="M1467 468l-8 7-8-16 8-7z"/><path fill="#3c68f9" stroke="#3c68f9" d="M1444 580l-8 5-7-6 8-5z"/><path fill="#9efaa2" stroke="#9efaa2" d="M1846 350l-8 2-7-6 7-2z"/><path fill="#5af8c8" stroke="#5af8c8" d="M1779 415l-8 17-7-4 7-17z"/><path fill="#46efd1" stroke="#46efd1" d="M1779 436l-8 17-7-4 7-17z"/><path fill="#09a9ee" stroke="#09a9ee" d="M1779 523l-8 13-7-5 7-14z"/><path fill="#08acee" stroke="#08acee" d="M1481 525l-7 10-8-7 8-10z"/><path fill="#02b7eb" stroke="#02b7eb" d="M1504 515l-8 6-7-5 7-6z"/><path fill="#78ffb8" stroke="#78ffb8" d="M1965 382l-8 27-8-12 8-27z"/><path fill="#96fca7" stroke="#96fca7" d="M1794 354l-8 11-7-4 7-10z"/><path fill="#78ffb8" stroke="#78ffb8" d="M1905 393l-7 1-8-9 7-1z"/><path fill="#02b7eb" stroke="#02b7eb" d="M1518 516l-7 3-7-4 7-4z"/><path fill="#11a0f1" stroke="#11a0f1" d="M1615 538l-7-4 7 0 8 5z"/><path fill="#48f1d0" stroke="#48f1d0" d="M1942 447l-7 1-7-12 7 0z"/><path fill="#acf59a" stroke="#acf59a" d="M1928 327l-8 28-8-9 8-28z"/><path fill="#3079f7" stroke="#3079f7" d="M1466 564l-7 12-7-5 7-12zM2031 571l-7-1-7-6 7 1z"/><path fill="#17cbe4" stroke="#17cbe4" d="M1444 496l-7 12-8-16 7-12z"/><path fill="#1c93f3" stroke="#1c93f3" d="M1652 548l-7-4 7 1 8 4z"/><path fill="#386df9" stroke="#386df9" d="M1459 576l-8 9-7-5 8-9z"/><path fill="#84ffb2" stroke="#84ffb2" d="M1957 370l-8 27-7-11 8-28z"/><path fill="#52f5cb" stroke="#52f5cb" d="M1935 436l-7 0-8-11 7-1z"/><path fill="#70febc" stroke="#70febc" d="M1912 403l-7 1-7-10 7-1z"/><path fill="#2489f5" stroke="#2489f5" d="M1697 558l-8-1-7-2 8 0zM1771 555l-7 9-8-6 8-10z"/><path fill="#a2f9a0" stroke="#a2f9a0" d="M1935 337l-8 28-7-10 8-28z"/><path fill="#5efac6" stroke="#5efac6" d="M1927 424l-7 1-7-11 7-1z"/><path fill="#68fcc1" stroke="#68fcc1" d="M1920 413l-7 1-8-10 7-1z"/><path fill="#2ddedc" stroke="#2ddedc" d="M1459 475l-7 9-8-16 7-9z"/><path fill="#1996f3" stroke="#1996f3" d="M1779 543l-8 12-7-7 7-12z"/><path fill="#a4f89f" stroke="#a4f89f" d="M1816 345l-8 5-7-4 7-5z"/><path fill="#90feab" stroke="#90feab" d="M1950 358l-8 28-7-11 8-28z"/><path fill="#a4f89f" stroke="#a4f89f" d="M1831 346l-8 4-7-5 7-4z"/><path fill="#9bfba5" stroke="#9bfba5" d="M1943 347l-8 28-8-10 8-28z"/><path fill="#22d6e0" stroke="#22d6e0" d="M1452 484l-8 12-8-16 8-12z"/><path fill="#218cf4" stroke="#218cf4" d="M1474 552l-8 12-7-5 7-12z"/><path fill="#2c7ef7" stroke="#2c7ef7" d="M1749 566l-8 5-7-5 7-6z"/><path fill="#92fda9" stroke="#92fda9" d="M1875 369l-7 1-7-8 7-1z"/><path fill="#3473f8" stroke="#3473f8" d="M2054 577l-7 1-8-3 7-1z"/><path fill="#01b3ec" stroke="#01b3ec" d="M1563 524l-8-2 8 1 7 2zM1987 529l-7-1-8-11 7 1z"/><path fill="#0ca7ef" stroke="#0ca7ef" d="M1994 539l-7-1-7-10 7 1z"/><path fill="#7effb5" stroke="#7effb5" d="M1786 381l-7 14-8-3 8-15z"/><path fill="#01b3ec" stroke="#01b3ec" d="M1496 521l-8 9-7-5 8-9z"/><path fill="#ffb360" stroke="#ffb360" d="M1883 230l-8 44-8-5 9-45z"/><path fill="#08bee9" stroke="#08bee9" d="M1786 508l-7 15-8-6 8-15z"/><path fill="#2981f6" stroke="#2981f6" d="M1764 564l-8 8-7-6 7-8zM1734 566l-7 3-8-5 8-3z"/><path fill="#08bee9" stroke="#08bee9" d="M1979 518l-7-1-7-11 7 1z"/><path fill="#169bf2" stroke="#169bf2" d="M2077 533l-8 24-8-3 8-24zM1481 540l-7 12-8-5 8-12z"/><path fill="#1dd1e2" stroke="#1dd1e2" d="M1786 486l-7 16-8-6 8-16z"/><path fill="#169bf2" stroke="#169bf2" d="M2002 549l-7-2-8-9 7 1z"/><path fill="#0ca7ef" stroke="#0ca7ef" d="M1786 529l-7 14-8-7 8-13z"/><path fill="#2884f6" stroke="#2884f6" d="M2077 558l-8 13-8 0 8-14zM1422 571l-8-3-8-10 9 3z"/><path fill="#9efaa2" stroke="#9efaa2" d="M1853 356l-7 2-8-6 8-2z"/><path fill="#09a9ee" stroke="#09a9ee" d="M1488 530l-7 10-7-5 7-10z"/><path fill="#14cae5" stroke="#14cae5" d="M1972 507l-7-1-7-11 6 0z"/><path fill="#3c68f9" stroke="#3c68f9" d="M1451 585l-8 4-7-4 8-5z"/><path fill="#32e3da" stroke="#32e3da" d="M1786 463l-7 17-8-5 8-17z"/><path fill="#1e91f3" stroke="#1e91f3" d="M1415 561l-9-3-7-12 8 2z"/><path fill="#3079f7" stroke="#3079f7" d="M2069 571l-7 6-8 0 7-6z"/><path fill="#08acee" stroke="#08acee" d="M1600 534l-7-5 7 1 8 4z"/><path fill="#6efebe" stroke="#6efebe" d="M1786 399l-7 16-8-4 8-16z"/><path fill="#1c93f3" stroke="#1c93f3" d="M1675 553l-8-3 7 2 8 3z"/><path fill="#a0faa1" stroke="#a0faa1" d="M1808 350l-7 8-7-4 7-8z"/><path fill="#48f1d0" stroke="#48f1d0" d="M1786 441l-7 17-8-5 8-17z"/><path fill="#11a0f1" stroke="#11a0f1" d="M1638 543l-8-4 7 1 8 4z"/><path fill="#1c93f3" stroke="#1c93f3" d="M2009 557l-7-1-7-9 7 2z"/><path fill="#2686f5" stroke="#2686f5" d="M1779 561l-8 10-7-7 7-9zM1719 564l-7 1-8-4 8-1z"/><path fill="#3079f7" stroke="#3079f7" d="M1429 579l-8-3-7-8 8 3z"/><path fill="#20d5e1" stroke="#20d5e1" d="M1964 495l-6 0-8-12 7 0z"/><path fill="#1c93f3" stroke="#1c93f3" d="M1786 550l-7 11-8-6 8-12z"/><path fill="#8efeac" stroke="#8efeac" d="M1883 377l-7 1-8-8 7-1z"/><path fill="#02b7eb" stroke="#02b7eb" d="M1555 522l-7-1-8-1 8 0z"/><path fill="#5df9c7" stroke="#5df9c7" d="M1786 420l-7 16-8-4 8-17z"/><path fill="#02b7eb" stroke="#02b7eb" d="M1511 519l-8 6-7-4 8-6z"/><path fill="#8efeac" stroke="#8efeac" d="M1794 369l-8 12-7-4 7-12z"/><path fill="#2e7bf7" stroke="#2e7bf7" d="M2039 575l-7-1-8-4 7 1z"/><path fill="#9bfba5" stroke="#9bfba5" d="M1801 358l-7 11-8-4 8-11z"/><path fill="#2ddedc" stroke="#2ddedc" d="M1957 483l-7 0-7-12 7 0z"/><path fill="#2c7ef7" stroke="#2c7ef7" d="M1473 568l-7 11-7-3 7-12z"/><path fill="#04b9ea" stroke="#04b9ea" d="M1540 520l-7 1-7-2 7-2z"/><path fill="#a4f89f" stroke="#a4f89f" d="M1838 352l-7 3-8-5 8-4z"/><path fill="#07bbea" stroke="#07bbea" d="M1526 519l-8 3-7-3 7-3z"/><path fill="#3670f8" stroke="#3670f8" d="M1466 579l-8 9-7-3 8-9z"/><path fill="#2fe0db" stroke="#2fe0db" d="M2048 462l-10 40-7-10 9-41z"/><path fill="#07bbea" stroke="#07bbea" d="M1794 515l-8 14-7-6 7-15z"/><path fill="#38e7d7" stroke="#38e7d7" d="M2040 451l-9 41-7-11 9-41z"/><path fill="#0ea5ef" stroke="#0ea5ef" d="M1794 537l-8 13-7-7 7-14z"/><path fill="#2c7ef7" stroke="#2c7ef7" d="M1771 571l-7 7-8-6 8-8zM1756 572l-7 5-8-6 8-5z"/><path fill="#a4f89f" stroke="#a4f89f" d="M1823 350l-7 5-8-5 8-5z"/><path fill="#0ea5ef" stroke="#0ea5ef" d="M1407 548l-8-2-8-15 8 2z"/><path fill="#88ffaf" stroke="#88ffaf" d="M1890 385l-7 1-7-8 7-1z"/><path fill="#feb562" stroke="#feb562" d="M1891 236l-8 44-8-6 8-44z"/><path fill="#38e7d7" stroke="#38e7d7" d="M1950 471l-7 0-8-12 7 1z"/><path fill="#9cfba4" stroke="#9cfba4" d="M1861 362l-8 2-7-6 7-2z"/><path fill="#24d8df" stroke="#24d8df" d="M2055 471l-9 40-8-9 10-40z"/><path fill="#208ef4" stroke="#208ef4" d="M1481 556l-8 12-7-4 8-12zM2017 564l-7-1-8-7 7 1z"/><path fill="#42edd3" stroke="#42edd3" d="M2033 440l-9 41-8-12 9-41z"/><path fill="#1dd1e2" stroke="#1dd1e2" d="M1794 492l-8 16-7-6 7-16z"/><path fill="#208ef4" stroke="#208ef4" d="M1794 557l-8 12-7-8 7-11zM1704 561l-7 0-8-4 8 1z"/><path fill="#2884f6" stroke="#2884f6" d="M1786 569l-7 9-8-7 8-10z"/><path fill="#01b3ec" stroke="#01b3ec" d="M1503 525l-8 9-7-4 8-9z"/><path fill="#2884f6" stroke="#2884f6" d="M1741 571l-7 3-7-5 7-3z"/><path fill="#3176f8" stroke="#3176f8" d="M1436 585l-8-3-7-6 8 3z"/><path fill="#00b5eb" stroke="#00b5eb" d="M1585 529l-7-3 7 0 8 3z"/><path fill="#44eed2" stroke="#44eed2" d="M1942 460l-7-1-7-11 7 0z"/><path fill="#80ffb4" stroke="#80ffb4" d="M1794 385l-8 14-7-4 7-14zM1898 394l-7 1-8-9 7-1z"/><path fill="#32e3da" stroke="#32e3da" d="M1794 469l-8 17-7-6 7-17z"/><path fill="#149df1" stroke="#149df1" d="M1488 544l-7 12-7-4 7-12z"/><path fill="#50f4cc" stroke="#50f4cc" d="M2025 428l-9 41-7-12 9-41z"/><path fill="#149df1" stroke="#149df1" d="M1660 549l-8-4 7 2 8 3z"/><path fill="#1fd3e1" stroke="#1fd3e1" d="M2063 479l-9 40-8-8 9-40z"/><path fill="#08acee" stroke="#08acee" d="M1495 534l-7 10-7-4 7-10z"/><path fill="#50f4cc" stroke="#50f4cc" d="M1935 448l-7 0-8-12 8 0z"/><path fill="#08acee" stroke="#08acee" d="M1623 539l-8-5 7 1 8 4z"/><path fill="#78ffb8" stroke="#78ffb8" d="M1905 404l-7 1-7-10 7-1z"/><path fill="#11a0f1" stroke="#11a0f1" d="M1801 544l-7 13-8-7 8-13z"/><path fill="#48f1d0" stroke="#48f1d0" d="M1794 446l-8 17-7-5 7-17z"/><path fill="#5df9c7" stroke="#5df9c7" d="M1928 436l-8 0-7-11 7 0z"/><path fill="#02b7eb" stroke="#02b7eb" d="M1801 522l-7 15-8-8 8-14z"/><path fill="#2e7bf7" stroke="#2e7bf7" d="M1779 578l-8 7-7-7 7-7z"/><path fill="#70febc" stroke="#70febc" d="M1794 404l-8 16-7-5 7-16z"/><path fill="#386df9" stroke="#386df9" d="M1458 588l-8 4-7-3 8-4z"/><path fill="#70febc" stroke="#70febc" d="M1913 414l-7 1-8-10 7-1z"/><path fill="#a2f9a0" stroke="#a2f9a0" d="M1816 355l-7 8-8-5 7-8z"/><path fill="#66fcc2" stroke="#66fcc2" d="M1920 425l-7 0-7-10 7-1z"/><path fill="#5df9c7" stroke="#5df9c7" d="M2018 416l-9 41-7-12 9-42zM1794 424l-8 17-7-5 7-16z"/><path fill="#2489f5" stroke="#2489f5" d="M1801 565l-7 12-8-8 8-12z"/><path fill="#99fca6" stroke="#99fca6" d="M1868 370l-7 1-8-7 8-2z"/><path fill="#2489f5" stroke="#2489f5" d="M1727 569l-8 1-7-5 7-1z"/><path fill="#a2f9a0" stroke="#a2f9a0" d="M1846 358l-8 3-7-6 7-3z"/><path fill="#2e7bf7" stroke="#2e7bf7" d="M1764 578l-8 5-7-6 7-5zM1794 577l-8 9-7-8 7-9zM2062 577l-7 1-8 0 7-1z"/><path fill="#fcb763" stroke="#fcb763" d="M1899 242l-9 45-7-7 8-44z"/><path fill="#10a2f0" stroke="#10a2f0" d="M2085 534l-8 24-8-1 8-24z"/><path fill="#90feab" stroke="#90feab" d="M1801 373l-7 12-8-4 8-12z"/><path fill="#1acfe3" stroke="#1acfe3" d="M1801 499l-7 16-8-7 8-16z"/><path fill="#218cf4" stroke="#218cf4" d="M2024 570l-6-2-8-5 7 1z"/><path fill="#07bbea" stroke="#07bbea" d="M1570 525l-7-2 7 0 8 3zM1518 522l-8 6-7-3 8-6z"/><path fill="#9bfba5" stroke="#9bfba5" d="M1809 363l-8 10-7-4 7-11z"/><path fill="#a6f89d" stroke="#a6f89d" d="M1831 355l-7 5-8-5 7-5z"/><path fill="#2981f6" stroke="#2981f6" d="M2047 578l-7-1-8-3 7 1z"/><path fill="#169bf2" stroke="#169bf2" d="M1809 552l-8 13-7-8 7-13z"/><path fill="#1acfe3" stroke="#1acfe3" d="M2071 486l-10 39-7-6 9-40z"/><path fill="#169bf2" stroke="#169bf2" d="M1682 555l-8-3 8 3 7 2z"/><path fill="#6afdc0" stroke="#6afdc0" d="M2011 403l-9 42-8-13 9-41z"/><path fill="#2981f6" stroke="#2981f6" d="M1809 574l-8 11-7-8 7-12zM1749 577l-8 3-7-6 7-3z"/><path fill="#30e1da" stroke="#30e1da" d="M1801 475l-7 17-8-6 8-17z"/><path fill="#01b3ec" stroke="#01b3ec" d="M1809 530l-8 14-7-7 7-15z"/><path fill="#08bee9" stroke="#08bee9" d="M1980 528l-7 0-8-11 7 0z"/><path fill="#3176f8" stroke="#3176f8" d="M1786 586l-7 7-8-8 8-7z"/><path fill="#00b5eb" stroke="#00b5eb" d="M1987 538l-7 0-7-10 7 0z"/><path fill="#3176f8" stroke="#3176f8" d="M1801 585l-7 9-8-8 8-9zM1443 589l-8-3-7-4 8 3z"/><path fill="#14cae5" stroke="#14cae5" d="M1972 517l-7 0-7-11 7 0z"/><path fill="#2884f6" stroke="#2884f6" d="M1480 570l-7 11-7-2 7-11z"/><path fill="#94fda8" stroke="#94fda8" d="M1876 378l-8 1-7-8 7-1z"/><path fill="#0ac0e8" stroke="#0ac0e8" d="M1555 522l-7-1 7 1 8 1z"/><path fill="#1e91f3" stroke="#1e91f3" d="M2085 556l-8 14-8 1 8-13z"/><path fill="#09a9ee" stroke="#09a9ee" d="M1645 544l-8-4 7 1 8 4z"/><path fill="#0ac0e8" stroke="#0ac0e8" d="M1533 521l-8 3-7-2 8-3z"/><path fill="#3079f7" stroke="#3079f7" d="M1473 581l-8 9-7-2 8-9z"/><path fill="#00b5eb" stroke="#00b5eb" d="M1608 534l-8-4 7 0 8 4z"/><path fill="#09a9ee" stroke="#09a9ee" d="M1995 547l-7 0-8-9 7 0z"/><path fill="#1fd3e1" stroke="#1fd3e1" d="M1965 506l-7 0-7-12 7 1z"/><path fill="#82ffb3" stroke="#82ffb3" d="M1801 390l-7 14-8-5 8-14z"/><path fill="#1c93f3" stroke="#1c93f3" d="M1816 561l-7 13-8-9 8-13z"/><path fill="#fbb965" stroke="#fbb965" d="M1906 249l-8 45-8-7 9-45z"/><path fill="#3079f7" stroke="#3079f7" d="M1771 585l-7 5-8-7 8-5z"/><path fill="#48f1d0" stroke="#48f1d0" d="M1801 452l-7 17-8-6 8-17z"/><path fill="#78ffb8" stroke="#78ffb8" d="M2003 391l-9 41-7-13 9-41z"/><path fill="#0dc2e8" stroke="#0dc2e8" d="M1548 521l-8 1-7-1 7-1z"/><path fill="#17cbe4" stroke="#17cbe4" d="M1809 506l-8 16-7-7 7-16z"/><path fill="#1c93f3" stroke="#1c93f3" d="M1488 558l-8 12-7-2 8-12z"/><path fill="#3079f7" stroke="#3079f7" d="M1816 583l-7 11-8-9 8-11z"/><path fill="#1c93f3" stroke="#1c93f3" d="M1712 565l-8-1-7-3 7 0z"/><path fill="#2686f5" stroke="#2686f5" d="M2077 570l-7 5-8 2 7-6z"/><path fill="#a2f9a0" stroke="#a2f9a0" d="M1853 364l-7 3-8-6 8-3z"/><path fill="#02b7eb" stroke="#02b7eb" d="M1510 528l-7 9-8-3 8-9z"/><path fill="#2adddd" stroke="#2adddd" d="M1958 495l-7-1-8-11 7 0z"/><path fill="#386df9" stroke="#386df9" d="M1809 594l-8 9-7-9 7-9z"/><path fill="#06aeed" stroke="#06aeed" d="M1816 538l-7 14-8-8 8-14z"/><path fill="#5efac6" stroke="#5efac6" d="M1801 430l-7 16-8-5 8-17z"/><path fill="#386df9" stroke="#386df9" d="M1794 594l-8 7-7-8 7-7z"/><path fill="#72febb" stroke="#72febb" d="M1801 409l-7 15-8-4 8-16z"/><path fill="#a2f9a0" stroke="#a2f9a0" d="M1824 360l-8 8-7-5 7-8z"/><path fill="#10a2f0" stroke="#10a2f0" d="M1495 547l-7 11-7-2 7-12zM2002 556l-7-1-7-8 7 0z"/><path fill="#90feab" stroke="#90feab" d="M1883 386l-7 1-8-8 8-1z"/><path fill="#2489f5" stroke="#2489f5" d="M1824 570l-8 13-7-9 7-13z"/><path fill="#3670f8" stroke="#3670f8" d="M1824 592l-8 11-7-9 7-11z"/><path fill="#04b0ed" stroke="#04b0ed" d="M1503 537l-8 10-7-3 7-10z"/><path fill="#37e6d8" stroke="#37e6d8" d="M1950 483l-7 0-7-12 7 0z"/><path fill="#218cf4" stroke="#218cf4" d="M1734 574l-7 1-8-5 8-1z"/><path fill="#2fe0db" stroke="#2fe0db" d="M1809 482l-8 17-7-7 7-17z"/><path fill="#86ffb0" stroke="#86ffb0" d="M1996 378l-9 41-7-12 9-42z"/><path fill="#a4f89f" stroke="#a4f89f" d="M1838 361l-7 5-7-6 7-5z"/><path fill="#218cf4" stroke="#218cf4" d="M2032 574l-6-1-8-5 6 2z"/><path fill="#4062fa" stroke="#4062fa" d="M1816 603l-7 9-8-9 8-9z"/><path fill="#92fda9" stroke="#92fda9" d="M1809 378l-8 12-7-5 7-12z"/><path fill="#1acfe3" stroke="#1acfe3" d="M2078 491l-9 39-8-5 10-39z"/><path fill="#2981f6" stroke="#2981f6" d="M1756 583l-7 3-8-6 8-3z"/><path fill="#3e65fa" stroke="#3e65fa" d="M1831 602l-7 11-8-10 8-11z"/><path fill="#2981f6" stroke="#2981f6" d="M1831 580l-7 12-8-9 8-13z"/><path fill="#9cfba4" stroke="#9cfba4" d="M1816 368l-7 10-8-5 8-10z"/><path fill="#0ca7ef" stroke="#0ca7ef" d="M1824 547l-8 14-7-9 7-14zM1667 550l-8-3 8 2 7 3z"/><path fill="#42edd3" stroke="#42edd3" d="M1943 471l-7 0-8-12 7 0z"/><path fill="#12c8e6" stroke="#12c8e6" d="M1816 514l-7 16-8-8 8-16z"/><path fill="#f6be68" stroke="#f6be68" d="M1914 257l-9 44-7-7 8-45z"/><path fill="#3473f8" stroke="#3473f8" d="M1779 593l-8 5-7-8 7-5z"/><path fill="#88ffaf" stroke="#88ffaf" d="M1891 395l-8 1-7-9 7-1z"/><path fill="#3e65fa" stroke="#3e65fa" d="M1801 603l-7 7-8-9 8-7z"/><path fill="#3473f8" stroke="#3473f8" d="M1465 590l-8 4-7-2 8-4z"/><path fill="#4659fb" stroke="#4659fb" d="M1824 613l-8 8-7-9 7-9z"/><path fill="#08bee9" stroke="#08bee9" d="M1593 529l-8-3 7 0 8 4z"/><path fill="#4659fb" stroke="#4659fb" d="M1839 612l-8 10-7-9 7-11z"/><path fill="#3176f8" stroke="#3176f8" d="M1839 589l-8 13-7-10 7-12z"/><path fill="#4ef3cd" stroke="#4ef3cd" d="M1935 459l-7 0-7-11 7 0z"/><path fill="#9efaa2" stroke="#9efaa2" d="M1861 371l-7 3-8-7 7-3z"/><path fill="#94fda8" stroke="#94fda8" d="M1989 365l-9 42-8-13 9-42z"/><path fill="#46efd1" stroke="#46efd1" d="M1809 459l-8 16-7-6 7-17z"/><path fill="#149df1" stroke="#149df1" d="M2010 563l-7-1-8-7 7 1zM1831 556l-7 14-8-9 8-14z"/><path fill="#82ffb3" stroke="#82ffb3" d="M1898 405l-7 0-8-9 8-1z"/><path fill="#00b5eb" stroke="#00b5eb" d="M1630 539l-8-4 7 0 8 5z"/><path fill="#4e4dfc" stroke="#4e4dfc" d="M1846 621l-7 11-8-10 8-10z"/><path fill="#396bf9" stroke="#396bf9" d="M1846 599l-7 13-8-10 8-13z"/><path fill="#4e4dfc" stroke="#4e4dfc" d="M1831 622l-7 9-8-10 8-8z"/><path fill="#5af8c8" stroke="#5af8c8" d="M1928 448l-7 0-8-11 7-1z"/><path fill="#445cfb" stroke="#445cfb" d="M1809 612l-8 7-7-9 7-7z"/><path fill="#0dc2e8" stroke="#0dc2e8" d="M1525 524l-8 6-7-2 8-6z"/><path fill="#82ffb3" stroke="#82ffb3" d="M1809 395l-8 14-7-5 7-14z"/><path fill="#78ffb8" stroke="#78ffb8" d="M1906 415l-8 0-7-10 7 0z"/><path fill="#0dc2e8" stroke="#0dc2e8" d="M1824 523l-8 15-7-8 7-16z"/><path fill="#11a0f1" stroke="#11a0f1" d="M1697 561l-8-3-7-3 7 2z"/><path fill="#66fcc2" stroke="#66fcc2" d="M1920 436l-7 1-7-11 7-1z"/><path fill="#445cfb" stroke="#445cfb" d="M1853 609l-7 12-7-9 7-13z"/><path fill="#2adddd" stroke="#2adddd" d="M1816 490l-7 16-8-7 8-17z"/><path fill="#3079f7" stroke="#3079f7" d="M1450 592l-8-3-7-3 8 3z"/><path fill="#f0c46c" stroke="#f0c46c" d="M1921 265l-8 44-8-8 9-44z"/><path fill="#70febc" stroke="#70febc" d="M1913 425l-7 1-8-11 8 0z"/><path fill="#5641fd" stroke="#5641fd" d="M1853 631l-7 10-7-9 7-11z"/><path fill="#1c93f3" stroke="#1c93f3" d="M1839 566l-8 14-7-10 7-14z"/><path fill="#5641fd" stroke="#5641fd" d="M1839 632l-8 8-7-9 7-9z"/><path fill="#5df9c7" stroke="#5df9c7" d="M1809 436l-8 16-7-6 7-16z"/><path fill="#386df9" stroke="#386df9" d="M1786 601l-7 5-8-8 8-5z"/><path fill="#a2f9a0" stroke="#a2f9a0" d="M1981 352l-9 42-7-12 9-43z"/><path fill="#4c50fc" stroke="#4c50fc" d="M1861 619l-8 12-7-10 7-12z"/><path fill="#a2f9a0" stroke="#a2f9a0" d="M1831 366l-7 7-8-5 8-8z"/><path fill="#72febb" stroke="#72febb" d="M1809 415l-8 15-7-6 7-15z"/><path fill="#4a53fb" stroke="#4a53fb" d="M1816 621l-7 7-8-9 8-7z"/><path fill="#2489f5" stroke="#2489f5" d="M1846 576l-7 13-8-9 8-14z"/><path fill="#5e35fe" stroke="#5e35fe" d="M1861 641l-7 10-8-10 7-10z"/><path fill="#a4f89f" stroke="#a4f89f" d="M1846 367l-7 5-8-6 7-5z"/><path fill="#2c7ef7" stroke="#2c7ef7" d="M1764 590l-8 3-7-7 7-3z"/><path fill="#1996f3" stroke="#1996f3" d="M1719 570l-7-1-8-5 8 1z"/><path fill="#10a2f0" stroke="#10a2f0" d="M1406 558l-9-13 8 10 9 13z"/><path fill="#218cf4" stroke="#218cf4" d="M2047 578l-7-1 8 0 7 1z"/><path fill="#5e35fe" stroke="#5e35fe" d="M1846 641l-7 9-8-10 8-8z"/><path fill="#10c6e6" stroke="#10c6e6" d="M1578 526l-8-3 7 0 8 3z"/><path fill="#218cf4" stroke="#218cf4" d="M1741 580l-7 0-7-5 7-1z"/><path fill="#5444fd" stroke="#5444fd" d="M1868 629l-7 12-8-10 8-12z"/><path fill="#07bbea" stroke="#07bbea" d="M1831 532l-7 15-8-9 8-15z"/><path fill="#9bfba5" stroke="#9bfba5" d="M1868 379l-7 2-7-7 7-3z"/><path fill="#2c7ef7" stroke="#2c7ef7" d="M1854 586l-8 13-7-10 7-13z"/><path fill="#04b0ed" stroke="#04b0ed" d="M2093 533l-8 23-8 2 8-24zM1406 558l-9-13-7-12 9 13z"/><path fill="#ebca70" stroke="#ebca70" d="M1929 274l-9 44-7-9 8-44z"/><path fill="#218cf4" stroke="#218cf4" d="M2062 577l-7 1 8-2 7-1z"/><path fill="#92fda9" stroke="#92fda9" d="M1816 383l-7 12-8-5 8-12z"/><path fill="#b0f397" stroke="#b0f397" d="M1974 339l-9 43-8-12 9-43z"/><path fill="#208ef4" stroke="#208ef4" d="M1487 572l-7 11-7-2 7-11z"/><path fill="#5247fc" stroke="#5247fc" d="M1824 631l-8 6-7-9 7-7z"/><path fill="#3473f8" stroke="#3473f8" d="M1861 596l-8 13-7-10 8-13z"/><path fill="#6629fe" stroke="#6629fe" d="M1868 650l-7 10-7-9 7-10zM1854 651l-8 8-7-9 7-9z"/><path fill="#42edd3" stroke="#42edd3" d="M1816 466l-7 16-8-7 8-16z"/><path fill="#9cfba4" stroke="#9cfba4" d="M1824 373l-8 10-7-5 7-10z"/><path fill="#12c8e6" stroke="#12c8e6" d="M1540 522l-8 4-7-2 8-3z"/><path fill="#3e65fa" stroke="#3e65fa" d="M1794 610l-8 4-7-8 7-5z"/><path fill="#5c38fd" stroke="#5c38fd" d="M1876 638l-8 12-7-9 7-12z"/><path fill="#27dade" stroke="#27dade" d="M1824 498l-8 16-7-8 7-16z"/><path fill="#2981f6" stroke="#2981f6" d="M1480 583l-8 8-7-1 8-9z"/><path fill="#3e65fa" stroke="#3e65fa" d="M1869 606l-8 13-8-10 8-13z"/><path fill="#169bf2" stroke="#169bf2" d="M1414 568l-9-13 7 7 9 14zM2018 568l-7-1-8-5 7 1z"/><path fill="#01b3ec" stroke="#01b3ec" d="M1839 541l-8 15-7-9 7-15zM1652 545l-8-4 8 1 7 5z"/><path fill="#08bee9" stroke="#08bee9" d="M1517 530l-7 8-7-1 7-9z"/><path fill="#12c8e6" stroke="#12c8e6" d="M1973 528l-7 0-8-10 7-1z"/><path fill="#169bf2" stroke="#169bf2" d="M1495 560l-8 12-7-2 8-12z"/><path fill="#e2d176" stroke="#e2d176" d="M1936 284l-8 43-8-9 9-44z"/><path fill="#1dd1e2" stroke="#1dd1e2" d="M2086 494l-9 39-8-3 9-39zM1965 517l-7 1-7-11 7-1z"/><path fill="#bced8f" stroke="#bced8f" d="M1966 327l-9 43-7-12 9-42z"/><path fill="#5a3bfd" stroke="#5a3bfd" d="M1831 640l-7 6-8-9 8-6z"/><path fill="#12c8e6" stroke="#12c8e6" d="M1563 523l-8-1 7 0 8 1z"/><path fill="#0ac0e8" stroke="#0ac0e8" d="M1980 538l-7 0-7-10 7 0z"/><path fill="#4659fb" stroke="#4659fb" d="M1876 616l-8 13-7-10 8-13z"/><path fill="#6e1cff" stroke="#6e1cff" d="M1861 660l-7 8-8-9 8-8z"/><path fill="#14cae5" stroke="#14cae5" d="M1555 522l-8 1-7-1 8-1z"/><path fill="#6c1fff" stroke="#6c1fff" d="M1876 659l-7 10-8-9 7-10z"/><path fill="#28dbde" stroke="#28dbde" d="M1958 506l-7 1-8-11 8-2z"/><path fill="#09a9ee" stroke="#09a9ee" d="M1846 551l-7 15-8-10 8-15z"/><path fill="#1e91f3" stroke="#1e91f3" d="M2040 577l-6-2-8-2 6 1z"/><path fill="#0ac0e8" stroke="#0ac0e8" d="M1615 534l-8-4 7 0 8 5z"/><path fill="#c6e789" stroke="#c6e789" d="M1959 316l-9 42-7-11 8-43z"/><path fill="#dbd87b" stroke="#dbd87b" d="M1944 294l-9 43-7-10 8-43z"/><path fill="#622ffe" stroke="#622ffe" d="M1883 647l-7 12-8-9 8-12z"/><path fill="#96fca7" stroke="#96fca7" d="M1876 387l-7 3-8-9 7-2z"/><path fill="#09a9ee" stroke="#09a9ee" d="M1502 548l-7 12-7-2 7-11z"/><path fill="#d2de81" stroke="#d2de81" d="M1951 304l-8 43-8-10 9-43z"/><path fill="#5af8c8" stroke="#5af8c8" d="M1816 443l-7 16-8-7 8-16z"/><path fill="#3079f7" stroke="#3079f7" d="M1771 598l-7 2-8-7 8-3z"/><path fill="#02b7eb" stroke="#02b7eb" d="M1510 538l-8 10-7-1 8-10zM1988 547l-7 0-8-9 7 0z"/><path fill="#445cfb" stroke="#445cfb" d="M1801 619l-7 4-8-9 8-4z"/><path fill="#4e4dfc" stroke="#4e4dfc" d="M1884 625l-8 13-8-9 8-13z"/><path fill="#622ffe" stroke="#622ffe" d="M1839 650l-8 6-7-10 7-6z"/><path fill="#82ffb3" stroke="#82ffb3" d="M1816 401l-7 14-8-6 8-14z"/><path fill="#0dc2e8" stroke="#0dc2e8" d="M1399 546l-9-13-8-15 9 13z"/><path fill="#11a0f1" stroke="#11a0f1" d="M1854 561l-8 15-7-10 7-15z"/><path fill="#34e4d9" stroke="#34e4d9" d="M1951 494l-8 2-7-12 7-1z"/><path fill="#20d5e1" stroke="#20d5e1" d="M1831 507l-7 16-8-9 8-16z"/><path fill="#a0faa1" stroke="#a0faa1" d="M1854 374l-8 5-7-7 7-5z"/><path fill="#a2f9a0" stroke="#a2f9a0" d="M1839 372l-8 7-7-6 7-7z"/><path fill="#70febc" stroke="#70febc" d="M1816 421l-7 15-8-6 8-15z"/><path fill="#1996f3" stroke="#1996f3" d="M1861 571l-7 15-8-10 8-15z"/><path fill="#3febd5" stroke="#3febd5" d="M1824 474l-8 16-7-8 7-16z"/><path fill="#7413ff" stroke="#7413ff" d="M1869 669l-8 7-7-8 7-8z"/><path fill="#06aeed" stroke="#06aeed" d="M1674 552l-7-3 7 2 8 4z"/><path fill="#2489f5" stroke="#2489f5" d="M1869 581l-8 15-7-10 7-15z"/><path fill="#40ecd4" stroke="#40ecd4" d="M1943 483l-7 1-7-11 7-2z"/><path fill="#6a22fe" stroke="#6a22fe" d="M1846 659l-7 6-8-9 8-6z"/><path fill="#5641fd" stroke="#5641fd" d="M1891 634l-8 13-7-9 8-13z"/><path fill="#2489f5" stroke="#2489f5" d="M1749 586l-8 1-7-7 7 0z"/><path fill="#4a53fb" stroke="#4a53fb" d="M1809 628l-8 4-7-9 7-4z"/><path fill="#7216ff" stroke="#7216ff" d="M1884 667l-8 10-7-8 7-10z"/><path fill="#90feab" stroke="#90feab" d="M1883 396l-7 2-7-8 7-3z"/><path fill="#6826fe" stroke="#6826fe" d="M1891 655l-7 12-8-8 7-12z"/><path fill="#2e7bf7" stroke="#2e7bf7" d="M1876 591l-7 15-8-10 8-15z"/><path fill="#04b0ed" stroke="#04b0ed" d="M1995 555l-6 0-8-8 7 0z"/><path fill="#18cde4" stroke="#18cde4" d="M1839 516l-8 16-7-9 7-16z"/><path fill="#1898f2" stroke="#1898f2" d="M1421 576l-9-14 7 6 9 14z"/><path fill="#3670f8" stroke="#3670f8" d="M1884 601l-8 15-7-10 7-15z"/><path fill="#4df3ce" stroke="#4df3ce" d="M1936 471l-7 2-8-12 7-2z"/><path fill="#0ea5ef" stroke="#0ea5ef" d="M1704 564l-7-2-8-4 8 3z"/><path fill="#90feab" stroke="#90feab" d="M1824 389l-8 12-7-6 7-12z"/><path fill="#1898f2" stroke="#1898f2" d="M1727 575l-8-1-7-5 7 1z"/><path fill="#2c7ef7" stroke="#2c7ef7" d="M1472 591l-8 4-7-1 8-4z"/><path fill="#0ea5ef" stroke="#0ea5ef" d="M2094 552l-8 13-9 5 8-14z"/><path fill="#9cfba4" stroke="#9cfba4" d="M1831 379l-7 10-8-6 8-10z"/><path fill="#3473f8" stroke="#3473f8" d="M1779 606l-8 2-7-8 7-2z"/><path fill="#7019ff" stroke="#7019ff" d="M1854 668l-8 6-7-9 7-6z"/><path fill="#5247fc" stroke="#5247fc" d="M1816 637l-7 4-8-9 8-4z"/><path fill="#88ffaf" stroke="#88ffaf" d="M1891 405l-7 3-8-10 7-2z"/><path fill="#3e65fa" stroke="#3e65fa" d="M1891 611l-7 14-8-9 8-15z"/><path fill="#56f7ca" stroke="#56f7ca" d="M1928 459l-7 2-7-11 7-2z"/><path fill="#12c8e6" stroke="#12c8e6" d="M1846 525l-7 16-8-9 8-16z"/><path fill="#5c38fd" stroke="#5c38fd" d="M1899 643l-8 12-8-8 8-13z"/><path fill="#58f8c9" stroke="#58f8c9" d="M1824 450l-8 16-7-7 7-16z"/><path fill="#7a09ff" stroke="#7a09ff" d="M1876 677l-7 7-8-8 8-7z"/><path fill="#2981f6" stroke="#2981f6" d="M1450 592l-8-3 7 2 8 3z"/><path fill="#3ae8d6" stroke="#3ae8d6" d="M1831 482l-7 16-8-8 8-16z"/><path fill="#9efaa2" stroke="#9efaa2" d="M1861 381l-7 5-8-7 8-5z"/><path fill="#62fbc4" stroke="#62fbc4" d="M1921 448l-7 2-8-11 7-2z"/><path fill="#12c8e6" stroke="#12c8e6" d="M1600 530l-8-4 7 0 8 4z"/><path fill="#149df1" stroke="#149df1" d="M2086 565l-7 6-9 4 7-5z"/><path fill="#80ffb4" stroke="#80ffb4" d="M1898 415l-7 3-7-10 7-3z"/><path fill="#12c8e6" stroke="#12c8e6" d="M1532 526l-8 5-7-1 8-6z"/><path fill="#0ac0e8" stroke="#0ac0e8" d="M1854 535l-8 16-7-10 7-16z"/><path fill="#149df1" stroke="#149df1" d="M2026 573l-7-2-8-4 7 1z"/><path fill="#0ac0e8" stroke="#0ac0e8" d="M1637 540l-8-5 7 1 8 5z"/><path fill="#6dfdbf" stroke="#6dfdbf" d="M1913 437l-7 2-7-11 7-2z"/><path fill="#4659fb" stroke="#4659fb" d="M1899 620l-8 14-7-9 7-14z"/><path fill="#5a3bfd" stroke="#5a3bfd" d="M1824 646l-8 4-7-9 7-4z"/><path fill="#76ffb9" stroke="#76ffb9" d="M1906 426l-7 2-8-10 7-3z"/><path fill="#6e1cff" stroke="#6e1cff" d="M1899 663l-8 11-7-7 7-12z"/><path fill="#82ffb3" stroke="#82ffb3" d="M1824 407l-8 14-7-6 7-14z"/><path fill="#7610ff" stroke="#7610ff" d="M1891 674l-7 10-8-7 8-10z"/><path fill="#a0faa1" stroke="#a0faa1" d="M1846 379l-7 7-8-7 8-7z"/><path fill="#6efebe" stroke="#6efebe" d="M1824 428l-8 15-7-7 7-15z"/><path fill="#00b5eb" stroke="#00b5eb" d="M1861 546l-7 15-8-10 8-16z"/><path fill="#7610ff" stroke="#7610ff" d="M1861 676l-7 6-8-8 8-6z"/><path fill="#08acee" stroke="#08acee" d="M2003 562l-7 0-7-7 6 0zM1869 556l-8 15-7-10 7-15z"/><path fill="#396bf9" stroke="#396bf9" d="M1786 614l-7 2-8-8 8-2z"/><path fill="#11a0f1" stroke="#11a0f1" d="M1876 566l-7 15-8-10 8-15z"/><path fill="#2686f5" stroke="#2686f5" d="M1756 593l-7 0-8-6 8-1z"/><path fill="#6032fe" stroke="#6032fe" d="M1831 656l-7 4-8-10 8-4z"/><path fill="#34e4d9" stroke="#34e4d9" d="M1839 491l-8 16-7-9 7-16z"/><path fill="#1c93f3" stroke="#1c93f3" d="M1884 577l-8 14-7-10 7-15z"/><path fill="#6032fe" stroke="#6032fe" d="M1906 650l-7 13-8-8 8-12z"/><path fill="#4c50fc" stroke="#4c50fc" d="M1906 629l-7 14-8-9 8-14z"/><path fill="#2489f5" stroke="#2489f5" d="M1891 587l-7 14-8-10 8-14z"/><path fill="#99fca6" stroke="#99fca6" d="M1869 390l-8 4-7-8 7-5z"/><path fill="#54f6cb" stroke="#54f6cb" d="M1831 458l-7 16-8-8 8-16z"/><path fill="#7c06ff" stroke="#7c06ff" d="M1884 684l-8 7-7-7 7-7z"/><path fill="#90feab" stroke="#90feab" d="M1831 395l-7 12-8-6 8-12z"/><path fill="#9bfba5" stroke="#9bfba5" d="M1839 386l-8 9-7-6 7-10z"/><path fill="#2c7ef7" stroke="#2c7ef7" d="M1899 597l-8 14-7-10 7-14z"/><path fill="#6826fe" stroke="#6826fe" d="M1839 665l-8 4-7-9 7-4z"/><path fill="#18cde4" stroke="#18cde4" d="M1966 528l-7 3-8-10 7-3z"/><path fill="#22d6e0" stroke="#22d6e0" d="M1958 518l-7 3-7-11 7-3z"/><path fill="#1acfe3" stroke="#1acfe3" d="M1585 526l-8-3 7 0 8 3z"/><path fill="#2ddedc" stroke="#2ddedc" d="M1846 500l-7 16-8-9 8-16z"/><path fill="#22d6e0" stroke="#22d6e0" d="M2095 495l-10 39-8-1 9-39z"/><path fill="#4062fa" stroke="#4062fa" d="M1794 623l-8 2-7-9 7-2z"/><path fill="#1898f2" stroke="#1898f2" d="M1494 572l-7 11-7 0 7-11z"/><path fill="#07bbea" stroke="#07bbea" d="M1659 547l-7-5 7 2 8 5z"/><path fill="#7c06ff" stroke="#7c06ff" d="M1869 684l-8 6-7-8 7-6z"/><path fill="#1898f2" stroke="#1898f2" d="M1428 582l-9-14 7 4 9 14z"/><path fill="#1acfe3" stroke="#1acfe3" d="M1547 523l-8 3-7 0 8-4z"/><path fill="#10c6e6" stroke="#10c6e6" d="M1973 538l-7 3-7-10 7-3zM1524 531l-7 8-7-1 7-8z"/><path fill="#2fe0db" stroke="#2fe0db" d="M1951 507l-7 3-8-11 7-3z"/><path fill="#1898f2" stroke="#1898f2" d="M1734 580l-8-1-7-5 8 1z"/><path fill="#3473f8" stroke="#3473f8" d="M1906 606l-7 14-8-9 8-14z"/><path fill="#169bf2" stroke="#169bf2" d="M2055 578l-7-1 9-2 6 1z"/><path fill="#9cfba4" stroke="#9cfba4" d="M1854 386l-8 7-7-7 7-7z"/><path fill="#208ef4" stroke="#208ef4" d="M1487 583l-8 9-7-1 8-8z"/><path fill="#0ca7ef" stroke="#0ca7ef" d="M1502 560l-8 12-7 0 8-12z"/><path fill="#6afdc0" stroke="#6afdc0" d="M1831 435l-7 15-8-7 8-15z"/><path fill="#7019ff" stroke="#7019ff" d="M1906 669l-7 12-8-7 8-11z"/><path fill="#27dade" stroke="#27dade" d="M1854 510l-8 15-7-9 7-16z"/><path fill="#7effb5" stroke="#7effb5" d="M1831 414l-7 14-8-7 8-14z"/><path fill="#3ae8d6" stroke="#3ae8d6" d="M1943 496l-7 3-7-12 7-3z"/><path fill="#7a09ff" stroke="#7a09ff" d="M1899 681l-8 9-7-6 7-10z"/><path fill="#92fda9" stroke="#92fda9" d="M1876 398l-7 5-8-9 8-4z"/><path fill="#5247fc" stroke="#5247fc" d="M1914 637l-8 13-7-7 7-14z"/><path fill="#6e1cff" stroke="#6e1cff" d="M1846 674l-7 3-8-8 8-4z"/><path fill="#08bee9" stroke="#08bee9" d="M1981 547l-7 3-8-9 7-3z"/><path fill="#4ef3cd" stroke="#4ef3cd" d="M1839 466l-8 16-7-8 7-16z"/><path fill="#169bf2" stroke="#169bf2" d="M2040 577l-6-2 8 0 6 2z"/><path fill="#01b3ec" stroke="#01b3ec" d="M1682 555l-8-4 7 3 8 4z"/><path fill="#0ca7ef" stroke="#0ca7ef" d="M1712 569l-8-3-7-4 7 2z"/><path fill="#2884f6" stroke="#2884f6" d="M1764 600l-8 1-7-8 7 0z"/><path fill="#4659fb" stroke="#4659fb" d="M1801 632l-7 2-8-9 8-2z"/><path fill="#1dd1e2" stroke="#1dd1e2" d="M1570 523l-8-1 7 0 8 1zM1861 520l-7 15-8-10 8-15z"/><path fill="#00b5eb" stroke="#00b5eb" d="M1509 549l-7 11-7 0 7-12z"/><path fill="#0ac0e8" stroke="#0ac0e8" d="M1517 539l-8 10-7-1 8-10z"/><path fill="#44eed2" stroke="#44eed2" d="M1936 484l-7 3-8-11 8-3z"/><path fill="#1fd3e1" stroke="#1fd3e1" d="M1562 522l-8 1-7 0 8-1z"/><path fill="#09a9ee" stroke="#09a9ee" d="M2011 567l-7 1-8-6 7 0z"/><path fill="#642cfe" stroke="#642cfe" d="M1914 657l-8 12-7-6 7-13z"/><path fill="#14cae5" stroke="#14cae5" d="M1869 530l-8 16-7-11 7-15zM1622 535l-8-5 7 1 8 4z"/><path fill="#3c68f9" stroke="#3c68f9" d="M1914 615l-8 14-7-9 7-14z"/><path fill="#0ac0e8" stroke="#0ac0e8" d="M1876 541l-7 15-8-10 8-16z"/><path fill="#00b5eb" stroke="#00b5eb" d="M1884 551l-8 15-7-10 7-15z"/><path fill="#8cfead" stroke="#8cfead" d="M1884 408l-8 4-7-9 7-5z"/><path fill="#08acee" stroke="#08acee" d="M1891 562l-7 15-8-11 8-15z"/><path fill="#50f4cc" stroke="#50f4cc" d="M1929 473l-8 3-7-11 7-4z"/><path fill="#96fca7" stroke="#96fca7" d="M1846 393l-7 10-8-8 8-9z"/><path fill="#8cfead" stroke="#8cfead" d="M1839 403l-8 11-7-7 7-12z"/><path fill="#11a0f1" stroke="#11a0f1" d="M1899 572l-8 15-7-10 7-15z"/><path fill="#0dc2e8" stroke="#0dc2e8" d="M2102 528l-8 24-9 4 8-23z"/><path fill="#8000ff" stroke="#8000ff" d="M1891 690l-7 7-8-6 8-7zM1876 691l-7 6-8-7 8-6z"/><path fill="#4e4dfc" stroke="#4e4dfc" d="M1809 641l-8 2-7-9 7-2z"/><path fill="#48f1d0" stroke="#48f1d0" d="M1846 475l-7 16-8-9 8-16z"/><path fill="#7413ff" stroke="#7413ff" d="M1854 682l-8 4-7-9 7-3z"/><path fill="#5df9c7" stroke="#5df9c7" d="M1921 461l-7 4-8-12 8-3z"/><path fill="#02b7eb" stroke="#02b7eb" d="M1989 555l-8 3-7-8 7-3z"/><path fill="#99fca6" stroke="#99fca6" d="M1861 394l-7 7-8-8 8-7z"/><path fill="#1c93f3" stroke="#1c93f3" d="M1906 582l-7 15-8-10 8-15z"/><path fill="#66fcc2" stroke="#66fcc2" d="M1839 443l-8 15-7-8 7-15z"/><path fill="#84ffb2" stroke="#84ffb2" d="M1891 418l-7 4-8-10 8-4z"/><path fill="#10a2f0" stroke="#10a2f0" d="M2070 575l-7 1 9-4 7-1z"/><path fill="#66fcc2" stroke="#66fcc2" d="M1914 450l-8 3-7-11 7-3z"/><path fill="#7affb7" stroke="#7affb7" d="M1899 428l-8 4-7-10 7-4zM1839 422l-8 13-7-7 7-14z"/><path fill="#10a2f0" stroke="#10a2f0" d="M2026 573l-7-2 8 2 7 2z"/><path fill="#72febb" stroke="#72febb" d="M1906 439l-7 3-8-10 8-4z"/><path fill="#2489f5" stroke="#2489f5" d="M1914 591l-8 15-7-9 7-15z"/><path fill="#4062fa" stroke="#4062fa" d="M1921 622l-7 15-8-8 8-14z"/><path fill="#5444fd" stroke="#5444fd" d="M1921 643l-7 14-8-7 8-13z"/><path fill="#2c7ef7" stroke="#2c7ef7" d="M1771 608l-7 0-8-7 8-1z"/><path fill="#5444fd" stroke="#5444fd" d="M1816 650l-7 2-8-9 8-2z"/><path fill="#40ecd4" stroke="#40ecd4" d="M1854 485l-8 15-7-9 7-16z"/><path fill="#218cf4" stroke="#218cf4" d="M1479 592l-8 3-7 0 8-4z"/><path fill="#1898f2" stroke="#1898f2" d="M1741 587l-7-2-8-6 8 1z"/><path fill="#218cf4" stroke="#218cf4" d="M1457 594l-8-3 7 1 8 3z"/><path fill="#7019ff" stroke="#7019ff" d="M1914 675l-8 11-7-5 7-12z"/><path fill="#38e7d7" stroke="#38e7d7" d="M1861 495l-7 15-8-10 8-15z"/><path fill="#92fda9" stroke="#92fda9" d="M1869 403l-8 6-7-8 7-7z"/><path fill="#60fac5" stroke="#60fac5" d="M1846 452l-7 14-8-8 8-15z"/><path fill="#92fda9" stroke="#92fda9" d="M1854 401l-8 9-7-7 7-10z"/><path fill="#2981f6" stroke="#2981f6" d="M1921 600l-7 15-8-9 8-15z"/><path fill="#7a09ff" stroke="#7a09ff" d="M1906 686l-7 9-8-5 8-9z"/><path fill="#88ffaf" stroke="#88ffaf" d="M1846 410l-7 12-8-8 8-11z"/><path fill="#7a09ff" stroke="#7a09ff" d="M1861 690l-7 3-8-7 8-4z"/><path fill="#5c38fd" stroke="#5c38fd" d="M1824 660l-8 1-7-9 7-2z"/><path fill="#27dade" stroke="#27dade" d="M1951 521l-7 5-8-11 8-5z"/><path fill="#12c8e6" stroke="#12c8e6" d="M1644 541l-8-5 8 1 8 5z"/><path fill="#1dd1e2" stroke="#1dd1e2" d="M1959 531l-8 5-7-10 7-5zM1539 526l-8 6-7-1 8-5z"/><path fill="#30e1da" stroke="#30e1da" d="M1869 505l-8 15-7-10 7-15zM1944 510l-8 5-7-11 7-5z"/><path fill="#27dade" stroke="#27dade" d="M1876 515l-7 15-8-10 8-15z"/><path fill="#01b3ec" stroke="#01b3ec" d="M1996 562l-7 2-8-6 8-3z"/><path fill="#1dd1e2" stroke="#1dd1e2" d="M1884 526l-8 15-7-11 7-15z"/><path fill="#12c8e6" stroke="#12c8e6" d="M1891 537l-7 14-8-10 8-15z"/><path fill="#642cfe" stroke="#642cfe" d="M1921 662l-7 13-8-6 8-12z"/><path fill="#1dd1e2" stroke="#1dd1e2" d="M1607 530l-8-4 7 0 8 4z"/><path fill="#08bee9" stroke="#08bee9" d="M1899 547l-8 15-7-11 7-14z"/><path fill="#12c8e6" stroke="#12c8e6" d="M1966 541l-7 5-8-10 8-5z"/><path fill="#00b5eb" stroke="#00b5eb" d="M1906 558l-7 14-8-10 8-15z"/><path fill="#76ffb9" stroke="#76ffb9" d="M1846 430l-7 13-8-8 8-13z"/><path fill="#149df1" stroke="#149df1" d="M1435 586l-9-14 7 3 9 14z"/><path fill="#3ae8d6" stroke="#3ae8d6" d="M1936 499l-7 5-8-11 8-6z"/><path fill="#3176f8" stroke="#3176f8" d="M1779 616l-8 0-7-8 7 0z"/><path fill="#09a9ee" stroke="#09a9ee" d="M1914 568l-8 14-7-10 7-14z"/><path fill="#8000ff" stroke="#8000ff" d="M1884 697l-7 6-8-6 7-6z"/><path fill="#8cfead" stroke="#8cfead" d="M1876 412l-7 7-8-10 8-6z"/><path fill="#09a9ee" stroke="#09a9ee" d="M1719 574l-8-3-7-5 8 3z"/><path fill="#5af8c8" stroke="#5af8c8" d="M1854 461l-8 14-7-9 7-14z"/><path fill="#622ffe" stroke="#622ffe" d="M1831 669l-7 1-8-9 8-1z"/><path fill="#46efd1" stroke="#46efd1" d="M1929 487l-8 6-7-11 7-6z"/><path fill="#08acee" stroke="#08acee" d="M2019 571l-7 0-8-3 7-1z"/><path fill="#445cfb" stroke="#445cfb" d="M1929 629l-8 14-7-6 7-15z"/><path fill="#11a0f1" stroke="#11a0f1" d="M1921 578l-7 13-8-9 8-14z"/><path fill="#0dc2e8" stroke="#0dc2e8" d="M1974 550l-7 5-8-9 7-5z"/><path fill="#3079f7" stroke="#3079f7" d="M1929 608l-8 14-7-7 7-15z"/><path fill="#8000ff" stroke="#8000ff" d="M1899 695l-7 7-8-5 7-7z"/><path fill="#8cfead" stroke="#8cfead" d="M1861 409l-7 10-8-9 8-9z"/><path fill="#0dc2e8" stroke="#0dc2e8" d="M1667 549l-8-5 7 2 8 5z"/><path fill="#52f5cb" stroke="#52f5cb" d="M1921 476l-7 6-7-11 7-6z"/><path fill="#84ffb2" stroke="#84ffb2" d="M1854 419l-8 11-7-8 7-12zM1884 422l-8 6-7-9 7-7z"/><path fill="#02b7eb" stroke="#02b7eb" d="M1689 558l-8-4 8 3 8 5z"/><path fill="#52f5cb" stroke="#52f5cb" d="M1861 470l-7 15-8-10 8-14z"/><path fill="#70febc" stroke="#70febc" d="M1854 439l-8 13-7-9 7-13z"/><path fill="#5df9c7" stroke="#5df9c7" d="M1914 465l-7 6-8-12 7-6z"/><path fill="#5641fd" stroke="#5641fd" d="M1929 649l-8 13-7-5 7-14z"/><path fill="#1996f3" stroke="#1996f3" d="M1749 593l-8-1-7-7 7 2z"/><path fill="#7affb7" stroke="#7affb7" d="M1891 432l-7 6-8-10 8-6z"/><path fill="#386df9" stroke="#386df9" d="M1786 625l-7 0-8-9 8 0z"/><path fill="#1996f3" stroke="#1996f3" d="M1929 587l-8 13-7-9 7-13z"/><path fill="#7c06ff" stroke="#7c06ff" d="M1869 697l-7 3-8-7 7-3z"/><path fill="#68fcc1" stroke="#68fcc1" d="M1906 453l-7 6-7-10 7-7z"/><path fill="#6826fe" stroke="#6826fe" d="M1839 677l-7 2-8-9 7-1z"/><path fill="#72febb" stroke="#72febb" d="M1899 442l-7 7-8-11 7-6z"/><path fill="#4af2cf" stroke="#4af2cf" d="M1869 480l-8 15-7-10 7-15z"/><path fill="#18cde4" stroke="#18cde4" d="M1531 532l-7 7-7 0 7-8z"/><path fill="#10c6e6" stroke="#10c6e6" d="M1914 545l-8 13-7-11 8-13z"/><path fill="#1acfe3" stroke="#1acfe3" d="M1907 534l-8 13-8-10 8-14z"/><path fill="#86ffb0" stroke="#86ffb0" d="M1869 419l-7 8-8-8 7-10z"/><path fill="#42edd3" stroke="#42edd3" d="M1877 491l-8 14-8-10 8-15z"/><path fill="#24d8df" stroke="#24d8df" d="M1899 523l-8 14-7-11 8-14zM1592 526l-8-3 7 0 8 3zM1944 526l-7 8-8-11 7-8zM1554 523l-8 3-7 0 8-3z"/><path fill="#07bbea" stroke="#07bbea" d="M1922 555l-8 13-8-10 8-13z"/><path fill="#0ea5ef" stroke="#0ea5ef" d="M1501 572l-7 11-7 0 7-11z"/><path fill="#2fe0db" stroke="#2fe0db" d="M1892 512l-8 14-8-11 8-13z"/><path fill="#38e7d7" stroke="#38e7d7" d="M1884 502l-8 13-7-10 8-14z"/><path fill="#2fe0db" stroke="#2fe0db" d="M1936 515l-7 8-7-11 7-8z"/><path fill="#07bbea" stroke="#07bbea" d="M1981 558l-7 4-7-7 7-5z"/><path fill="#1acfe3" stroke="#1acfe3" d="M1951 536l-7 8-7-10 7-8z"/><path fill="#2fe0db" stroke="#2fe0db" d="M2103 493l-10 40-8 1 10-39z"/><path fill="#7effb5" stroke="#7effb5" d="M1862 427l-8 12-8-9 8-11z"/><path fill="#6afdc0" stroke="#6afdc0" d="M1862 448l-8 13-8-9 8-13z"/><path fill="#38e7d7" stroke="#38e7d7" d="M1929 504l-7 8-8-11 7-8z"/><path fill="#01b3ec" stroke="#01b3ec" d="M1929 565l-8 13-7-10 8-13zM1509 560l-8 12-7 0 8-12z"/><path fill="#12c8e6" stroke="#12c8e6" d="M1959 546l-7 7-8-9 7-8z"/><path fill="#01b3ec" stroke="#01b3ec" d="M2004 568l-7 2-8-6 7-2z"/><path fill="#169bf2" stroke="#169bf2" d="M1494 583l-8 8-7 1 8-9z"/><path fill="#3473f8" stroke="#3473f8" d="M1937 615l-8 14-8-7 8-14z"/><path fill="#3e65fa" stroke="#3e65fa" d="M1794 634l-7 0-8-9 7 0z"/><path fill="#44eed2" stroke="#44eed2" d="M1921 493l-7 8-7-11 7-8z"/><path fill="#7effb5" stroke="#7effb5" d="M1876 428l-7 9-7-10 7-8z"/><path fill="#208ef4" stroke="#208ef4" d="M1937 595l-8 13-8-8 8-13z"/><path fill="#6e1cff" stroke="#6e1cff" d="M1922 679l-8 11-8-4 8-11z"/><path fill="#12c8e6" stroke="#12c8e6" d="M1524 539l-8 10-7 0 8-10z"/><path fill="#6e1cff" stroke="#6e1cff" d="M1846 686l-7 1-7-8 7-2z"/><path fill="#62fbc4" stroke="#62fbc4" d="M1869 458l-8 12-7-9 8-13z"/><path fill="#08bee9" stroke="#08bee9" d="M1516 549l-7 11-7 0 7-11z"/><path fill="#1dd1e2" stroke="#1dd1e2" d="M1922 533l-8 12-7-11 7-12zM1629 535l-8-4 8 0 7 5z"/><path fill="#4ef3cd" stroke="#4ef3cd" d="M1914 482l-7 8-8-11 8-8z"/><path fill="#12c8e6" stroke="#12c8e6" d="M1929 543l-7 12-8-10 8-12z"/><path fill="#76ffb9" stroke="#76ffb9" d="M1869 437l-7 11-8-9 8-12z"/><path fill="#27dade" stroke="#27dade" d="M1914 522l-7 12-8-11 8-12zM1577 523l-8-1 7 0 8 1z"/><path fill="#1fd3e1" stroke="#1fd3e1" d="M1937 534l-8 9-7-10 7-10z"/><path fill="#09a9ee" stroke="#09a9ee" d="M1937 574l-8 13-8-9 8-13z"/><path fill="#28dbde" stroke="#28dbde" d="M1929 523l-7 10-8-11 8-10zM1569 522l-8 1-7 0 8-1z"/><path fill="#780dff" stroke="#780dff" d="M1914 690l-7 9-8-4 7-9z"/><path fill="#4659fb" stroke="#4659fb" d="M1937 635l-8 14-8-6 8-14z"/><path fill="#76ffb9" stroke="#76ffb9" d="M1884 438l-7 9-8-10 7-9z"/><path fill="#32e3da" stroke="#32e3da" d="M1907 511l-8 12-7-11 7-12z"/><path fill="#5af8c8" stroke="#5af8c8" d="M1907 471l-8 8-7-11 7-9z"/><path fill="#32e3da" stroke="#32e3da" d="M1922 512l-8 10-7-11 7-10z"/><path fill="#5af8c8" stroke="#5af8c8" d="M1877 468l-8 12-8-10 8-12z"/><path fill="#14cae5" stroke="#14cae5" d="M1944 544l-7 9-8-10 8-9z"/><path fill="#0ac0e8" stroke="#0ac0e8" d="M1937 553l-8 12-7-10 7-12z"/><path fill="#8000ff" stroke="#8000ff" d="M1892 702l-8 6-7-5 7-6z"/><path fill="#3dead5" stroke="#3dead5" d="M1899 500l-7 12-8-10 8-13z"/><path fill="#6efebe" stroke="#6efebe" d="M1892 449l-8 8-7-10 7-9z"/><path fill="#0ac0e8" stroke="#0ac0e8" d="M1967 555l-8 7-7-9 7-7z"/><path fill="#64fbc3" stroke="#64fbc3" d="M1899 459l-7 9-8-11 8-8z"/><path fill="#622ffe" stroke="#622ffe" d="M1929 666l-7 13-8-4 7-13z"/><path fill="#50f4cc" stroke="#50f4cc" d="M1884 478l-7 13-8-11 8-12z"/><path fill="#46efd1" stroke="#46efd1" d="M1892 489l-8 13-7-11 7-13z"/><path fill="#1e91f3" stroke="#1e91f3" d="M1756 601l-7-2-8-7 8 1z"/><path fill="#3dead5" stroke="#3dead5" d="M1914 501l-7 10-8-11 8-10z"/><path fill="#09a9ee" stroke="#09a9ee" d="M2048 577l-6-2 8-2 7 2z"/><path fill="#08acee" stroke="#08acee" d="M1726 579l-7-3-8-5 8 3z"/><path fill="#6efebe" stroke="#6efebe" d="M1877 447l-8 11-7-10 7-11z"/><path fill="#445cfb" stroke="#445cfb" d="M1801 643l-7 0-7-9 7 0z"/><path fill="#48f1d0" stroke="#48f1d0" d="M1907 490l-8 10-7-11 7-10z"/><path fill="#0dc2e8" stroke="#0dc2e8" d="M1952 553l-8 9-7-9 7-9z"/><path fill="#66fcc2" stroke="#66fcc2" d="M1884 457l-7 11-8-10 8-11z"/><path fill="#02b7eb" stroke="#02b7eb" d="M1944 562l-7 12-8-9 8-12z"/><path fill="#52f5cb" stroke="#52f5cb" d="M1899 479l-7 10-8-11 8-10z"/><path fill="#08acee" stroke="#08acee" d="M2034 575l-7-2 8 0 7 2z"/><path fill="#5df9c7" stroke="#5df9c7" d="M1892 468l-8 10-7-10 7-11z"/><path fill="#02b7eb" stroke="#02b7eb" d="M1989 564l-7 5-8-7 7-4z"/><path fill="#7e03ff" stroke="#7e03ff" d="M1877 703l-8 3-7-6 7-3z"/><path fill="#10a2f0" stroke="#10a2f0" d="M1944 582l-7 13-8-8 8-13z"/><path fill="#2489f5" stroke="#2489f5" d="M1944 602l-7 13-8-7 8-13z"/><path fill="#06aeed" stroke="#06aeed" d="M2063 576l-6-1 8-5 7 2z"/><path fill="#7413ff" stroke="#7413ff" d="M1854 693l-7 1-8-7 7-1z"/><path fill="#7c06ff" stroke="#7c06ff" d="M1907 699l-8 7-7-4 7-7z"/><path fill="#4c50fc" stroke="#4c50fc" d="M1809 652l-7 0-8-9 7 0z"/><path fill="#5444fd" stroke="#5444fd" d="M1937 653l-8 13-8-4 8-13z"/><path fill="#04b9ea" stroke="#04b9ea" d="M1959 562l-7 9-8-9 8-9z"/><path fill="#07bbea" stroke="#07bbea" d="M1974 562l-7 7-8-7 8-7z"/><path fill="#18cde4" stroke="#18cde4" d="M1652 542l-8-5 7 2 8 5z"/><path fill="#0ea5ef" stroke="#0ea5ef" d="M1442 589l-9-14 7 2 9 14z"/><path fill="#1898f2" stroke="#1898f2" d="M1464 595l-8-3 7 0 8 3z"/><path fill="#04b0ed" stroke="#04b0ed" d="M1952 571l-8 11-7-8 7-12zM2027 573l-7 0-8-2 7 0z"/><path fill="#07bbea" stroke="#07bbea" d="M1704 566l-8-4-7-5 8 5z"/><path fill="#3670f8" stroke="#3670f8" d="M1944 621l-7 14-8-6 8-14z"/><path fill="#1898f2" stroke="#1898f2" d="M1486 591l-8 4-7 0 8-3z"/><path fill="#208ef4" stroke="#208ef4" d="M1764 608l-7-2-8-7 7 2z"/><path fill="#5247fc" stroke="#5247fc" d="M1816 661l-7 0-7-9 7 0z"/><path fill="#12c8e6" stroke="#12c8e6" d="M1674 551l-8-5 8 3 7 5z"/><path fill="#27dade" stroke="#27dade" d="M1546 526l-8 6-7 0 8-6z"/><path fill="#169bf2" stroke="#169bf2" d="M1952 589l-8 13-7-7 7-13z"/><path fill="#27dade" stroke="#27dade" d="M1614 530l-8-4 7 0 8 5z"/><path fill="#00b5eb" stroke="#00b5eb" d="M2012 571l-7 2-8-3 7-2zM1967 569l-8 9-7-7 7-9z"/><path fill="#09a9ee" stroke="#09a9ee" d="M1734 585l-8-3-7-6 7 3z"/><path fill="#445cfb" stroke="#445cfb" d="M1944 639l-7 14-8-4 8-14z"/><path fill="#583efd" stroke="#583efd" d="M1824 670l-7-1-8-8 7 0z"/><path fill="#09a9ee" stroke="#09a9ee" d="M1959 578l-7 11-8-7 8-11z"/><path fill="#7610ff" stroke="#7610ff" d="M1862 700l-8 1-7-7 7-1z"/><path fill="#02b7eb" stroke="#02b7eb" d="M1997 570l-7 4-8-5 7-5z"/><path fill="#2686f5" stroke="#2686f5" d="M1952 608l-8 13-7-6 7-13z"/><path fill="#02b7eb" stroke="#02b7eb" d="M1982 569l-7 7-8-7 7-7z"/><path fill="#2686f5" stroke="#2686f5" d="M1771 616l-7-1-7-9 7 2z"/><path fill="#7e03ff" stroke="#7e03ff" d="M1899 706l-7 5-8-3 8-6zM1884 708l-7 3-8-5 8-3z"/><path fill="#6a22fe" stroke="#6a22fe" d="M1929 681l-7 11-8-2 8-11z"/><path fill="#5e35fe" stroke="#5e35fe" d="M1832 679l-8-1-7-9 7 1z"/><path fill="#7216ff" stroke="#7216ff" d="M1922 692l-8 9-7-2 7-9z"/><path fill="#5e35fe" stroke="#5e35fe" d="M1937 669l-8 12-7-2 7-13z"/><path fill="#22d6e0" stroke="#22d6e0" d="M1538 532l-7 7-7 0 7-7zM1397 545l-10-29 7 10 11 29z"/><path fill="#2fe0db" stroke="#2fe0db" d="M1599 526l-8-3 7 0 8 3zM1561 523l-8 3-7 0 8-3zM1390 533l-11-29 8 12 10 29z"/><path fill="#1898f2" stroke="#1898f2" d="M1960 596l-8 12-8-6 8-13z"/><path fill="#3473f8" stroke="#3473f8" d="M1952 626l-8 13-7-4 7-14z"/><path fill="#2981f6" stroke="#2981f6" d="M1779 625l-7-2-8-8 7 1z"/><path fill="#01b3ec" stroke="#01b3ec" d="M1975 576l-8 9-8-7 8-9zM1508 571l-7 11-7 1 7-11z"/><path fill="#27dade" stroke="#27dade" d="M1636 536l-7-5 7 1 8 5z"/><path fill="#08bee9" stroke="#08bee9" d="M1704 566l-8-4 8 4 7 5zM1516 560l-8 11-7 1 8-12z"/><path fill="#0ca7ef" stroke="#0ca7ef" d="M1967 585l-7 11-8-7 7-11zM1741 592l-7-4-8-6 8 3z"/><path fill="#1dd1e2" stroke="#1dd1e2" d="M1531 539l-8 10-7 0 8-10zM1405 555l-11-29 8 8 10 28z"/><path fill="#504afc" stroke="#504afc" d="M1945 656l-8 13-8-3 8-13z"/><path fill="#09a9ee" stroke="#09a9ee" d="M1501 582l-8 8-7 1 8-8z"/><path fill="#642cfe" stroke="#642cfe" d="M1839 687l-7-1-8-8 8 1z"/><path fill="#14cae5" stroke="#14cae5" d="M1523 549l-7 11-7 0 7-11z"/><path fill="#780dff" stroke="#780dff" d="M1914 701l-7 7-8-2 8-7zM1869 706l-7 1-8-6 8-1z"/><path fill="#32e3da" stroke="#32e3da" d="M1584 523l-8-1 7 0 8 1zM1576 522l-8 1-7 0 8-1z"/><path fill="#3079f7" stroke="#3079f7" d="M1787 634l-8-2-7-9 7 2z"/><path fill="#02b7eb" stroke="#02b7eb" d="M1990 574l-8 7-7-5 7-7z"/><path fill="#3febd5" stroke="#3febd5" d="M2112 489l-10 39-9 5 10-40zM1382 518l-11-29 8 15 11 29z"/><path fill="#17cbe4" stroke="#17cbe4" d="M1681 554l-7-5 7 3 8 5z"/><path fill="#20d5e1" stroke="#20d5e1" d="M1659 544l-8-5 8 2 7 5z"/><path fill="#2686f5" stroke="#2686f5" d="M1960 613l-8 13-8-5 8-13z"/><path fill="#06aeed" stroke="#06aeed" d="M1449 591l-9-14 7 1 9 14z"/><path fill="#04b9ea" stroke="#04b9ea" d="M2005 573l-7 5-8-4 7-4z"/><path fill="#386df9" stroke="#386df9" d="M1794 643l-7-3-8-8 8 2z"/><path fill="#04b9ea" stroke="#04b9ea" d="M2020 573l-7 2-8-2 7-2zM2027 573l-7 0 8 0 7 0z"/><path fill="#425ffa" stroke="#425ffa" d="M1952 642l-7 14-8-3 7-14z"/><path fill="#6826fe" stroke="#6826fe" d="M1847 694l-8-1-7-7 7 1z"/><path fill="#07bbea" stroke="#07bbea" d="M2042 575l-7-2 8-2 7 2z"/><path fill="#7c06ff" stroke="#7c06ff" d="M1892 711l-7 3-8-3 7-3z"/><path fill="#0ea5ef" stroke="#0ea5ef" d="M1749 599l-8-4-7-7 7 4z"/><path fill="#1acfe3" stroke="#1acfe3" d="M1412 562l-10-28 7 5 10 29z"/><path fill="#1898f2" stroke="#1898f2" d="M1967 600l-7 13-8-5 8-12z"/><path fill="#04b0ed" stroke="#04b0ed" d="M1982 581l-7 9-8-5 8-9z"/><path fill="#0ea5ef" stroke="#0ea5ef" d="M1471 595l-8-3 7-1 8 4z"/><path fill="#3e65fa" stroke="#3e65fa" d="M1802 652l-8-3-7-9 7 3z"/><path fill="#30e1da" stroke="#30e1da" d="M1621 531l-8-5 8 1 8 4z"/><path fill="#0ca7ef" stroke="#0ca7ef" d="M1493 590l-8 4-7 1 8-4zM1975 590l-8 10-7-4 7-11z"/><path fill="#08bee9" stroke="#08bee9" d="M2057 575l-7-2 8-5 7 2z"/><path fill="#30e1da" stroke="#30e1da" d="M1553 526l-8 5-7 1 8-6z"/><path fill="#780dff" stroke="#780dff" d="M1907 708l-7 5-8-2 7-5z"/><path fill="#08bee9" stroke="#08bee9" d="M1711 571l-7-5 7 5 8 5z"/><path fill="#7610ff" stroke="#7610ff" d="M1877 711l-7 0-8-4 7-1z"/><path fill="#3176f8" stroke="#3176f8" d="M1960 629l-8 13-8-3 8-13z"/><path fill="#445cfb" stroke="#445cfb" d="M1809 661l-7-3-8-9 8 3z"/><path fill="#622ffe" stroke="#622ffe" d="M1937 682l-7 10-8 0 7-11z"/><path fill="#6c1fff" stroke="#6c1fff" d="M1854 701l-7-1-8-7 8 1z"/><path fill="#11a0f1" stroke="#11a0f1" d="M1757 606l-8-3-8-8 8 4z"/><path fill="#5641fd" stroke="#5641fd" d="M1945 670l-8 12-8-1 8-12z"/><path fill="#6a22fe" stroke="#6a22fe" d="M1930 692l-8 9-8 0 8-9z"/><path fill="#04b9ea" stroke="#04b9ea" d="M1998 578l-8 6-8-3 8-7z"/><path fill="#4a53fb" stroke="#4a53fb" d="M1817 669l-8-2-7-9 7 3z"/><path fill="#1acfe3" stroke="#1acfe3" d="M1689 557l-8-5 8 4 7 6z"/><path fill="#2ddedc" stroke="#2ddedc" d="M1644 537l-8-5 7 2 8 5z"/><path fill="#218cf4" stroke="#218cf4" d="M1968 615l-8 14-8-3 8-13z"/><path fill="#38e7d7" stroke="#38e7d7" d="M1606 526l-8-3 8 0 7 3z"/><path fill="#2fe0db" stroke="#2fe0db" d="M1545 531l-7 8-7 0 7-7z"/><path fill="#4856fb" stroke="#4856fb" d="M1953 657l-8 13-8-1 8-13z"/><path fill="#38e7d7" stroke="#38e7d7" d="M1568 523l-8 2-7 1 8-3z"/><path fill="#1acfe3" stroke="#1acfe3" d="M1419 568l-10-29 7 4 10 29z"/><path fill="#27dade" stroke="#27dade" d="M1666 546l-7-5 7 3 8 5z"/><path fill="#169bf2" stroke="#169bf2" d="M1764 615l-7-4-8-8 8 3z"/><path fill="#6e1cff" stroke="#6e1cff" d="M1922 701l-7 7-8 0 7-7z"/><path fill="#08bee9" stroke="#08bee9" d="M1726 582l-7-5-8-6 8 5z"/><path fill="#504afc" stroke="#504afc" d="M1824 678l-7-3-8-8 8 2z"/><path fill="#08bee9" stroke="#08bee9" d="M2013 575l-7 4-8-1 7-5zM1515 570l-7 11-7 1 7-11z"/><path fill="#00b5eb" stroke="#00b5eb" d="M1990 584l-7 9-8-3 7-9z"/><path fill="#149df1" stroke="#149df1" d="M1975 603l-7 12-8-2 7-13z"/><path fill="#14cae5" stroke="#14cae5" d="M1523 559l-8 11-7 1 8-11z"/><path fill="#28dbde" stroke="#28dbde" d="M1538 539l-8 9-7 1 8-10z"/><path fill="#3dead5" stroke="#3dead5" d="M1591 523l-8-1 7-1 8 2zM1576 522l-8 1 7-1 8 0z"/><path fill="#1fd3e1" stroke="#1fd3e1" d="M1530 548l-7 11-7 1 7-11z"/><path fill="#6c1fff" stroke="#6c1fff" d="M1862 707l-7-2-8-5 7 1z"/><path fill="#08acee" stroke="#08acee" d="M1983 593l-8 10-8-3 8-10z"/><path fill="#02b7eb" stroke="#02b7eb" d="M1508 581l-8 8-7 1 8-8z"/><path fill="#396bf9" stroke="#396bf9" d="M1960 643l-7 14-8-1 7-14z"/><path fill="#7610ff" stroke="#7610ff" d="M1900 713l-8 3-7-2 7-3z"/><path fill="#1996f3" stroke="#1996f3" d="M1772 623l-8-4-7-8 7 4z"/><path fill="#0fc4e7" stroke="#0fc4e7" d="M2028 573l-7 2-8 0 7-2z"/><path fill="#04b9ea" stroke="#04b9ea" d="M1456 592l-9-14 7-1 9 15z"/><path fill="#7413ff" stroke="#7413ff" d="M1885 714l-8 0-7-3 7 0z"/><path fill="#5641fd" stroke="#5641fd" d="M1832 686l-7-3-8-8 7 3z"/><path fill="#38e7d7" stroke="#38e7d7" d="M1629 531l-8-4 7 1 8 4z"/><path fill="#07bbea" stroke="#07bbea" d="M1734 588l-8-4-7-7 7 5z"/><path fill="#208ef4" stroke="#208ef4" d="M1779 632l-7-4-8-9 8 4z"/><path fill="#2981f6" stroke="#2981f6" d="M1968 630l-8 13-8-1 8-13z"/><path fill="#12c8e6" stroke="#12c8e6" d="M2035 573l-7 0 8-3 7 1z"/><path fill="#1dd1e2" stroke="#1dd1e2" d="M1696 562l-7-6 7 5 8 5z"/><path fill="#7019ff" stroke="#7019ff" d="M1915 708l-7 5-8 0 7-5z"/><path fill="#01b3ec" stroke="#01b3ec" d="M1478 595l-8-4 7-1 8 4z"/><path fill="#0ac0e8" stroke="#0ac0e8" d="M2006 579l-8 7-8-2 8-6z"/><path fill="#3ae8d6" stroke="#3ae8d6" d="M1560 525l-7 5-8 1 8-5z"/><path fill="#5a3bfd" stroke="#5a3bfd" d="M1839 693l-7-3-7-7 7 3z"/><path fill="#00b5eb" stroke="#00b5eb" d="M1500 589l-8 4-7 1 8-4z"/><path fill="#1fd3e1" stroke="#1fd3e1" d="M1426 572l-10-29 7 3 10 29z"/><path fill="#2686f5" stroke="#2686f5" d="M1787 640l-8-4-7-8 7 4z"/><path fill="#6c1fff" stroke="#6c1fff" d="M1870 711l-8-1-7-5 7 2z"/><path fill="#34e4d9" stroke="#34e4d9" d="M1651 539l-8-5 8 2 8 5z"/><path fill="#2adddd" stroke="#2adddd" d="M1674 549l-8-5 7 3 8 5z"/><path fill="#1c93f3" stroke="#1c93f3" d="M1976 617l-8 13-8-1 8-14z"/><path fill="#17cbe4" stroke="#17cbe4" d="M2050 573l-7-2 9-5 6 2z"/><path fill="#5641fd" stroke="#5641fd" d="M1945 680l-7 11-8 1 7-10z"/><path fill="#4a53fb" stroke="#4a53fb" d="M1953 668l-8 12-8 2 8-12z"/><path fill="#04b9ea" stroke="#04b9ea" d="M1741 595l-7-5-8-6 8 4z"/><path fill="#2c7ef7" stroke="#2c7ef7" d="M1794 649l-7-4-8-9 8 4z"/><path fill="#07bbea" stroke="#07bbea" d="M1998 586l-7 8-8-1 7-9z"/><path fill="#5e35fe" stroke="#5e35fe" d="M1938 691l-8 8-8 2 8-9z"/><path fill="#42edd3" stroke="#42edd3" d="M1613 526l-7-3 7 0 8 4z"/><path fill="#0ea5ef" stroke="#0ea5ef" d="M1983 605l-7 12-8-2 7-12z"/><path fill="#01b3ec" stroke="#01b3ec" d="M1991 594l-8 11-8-2 8-10z"/><path fill="#5c38fd" stroke="#5c38fd" d="M1847 700l-7-4-8-6 7 3z"/><path fill="#3ae8d6" stroke="#3ae8d6" d="M1553 530l-8 8-7 1 7-8z"/><path fill="#44eed2" stroke="#44eed2" d="M1575 522l-8 3-7 0 8-2z"/><path fill="#3e65fa" stroke="#3e65fa" d="M1961 655l-8 13-8 2 8-13z"/><path fill="#12c8e6" stroke="#12c8e6" d="M2021 575l-7 4-8 0 7-4z"/><path fill="#3473f8" stroke="#3473f8" d="M1802 658l-8-4-7-9 7 4z"/><path fill="#1dd1e2" stroke="#1dd1e2" d="M1704 566l-8-5 8 5 7 5z"/><path fill="#6e1cff" stroke="#6e1cff" d="M1892 716l-7 0-8-2 8 0z"/><path fill="#46efd1" stroke="#46efd1" d="M1598 523l-8-2 8 0 8 2z"/><path fill="#622ffe" stroke="#622ffe" d="M1930 699l-7 7-8 2 7-7z"/><path fill="#6c1fff" stroke="#6c1fff" d="M1908 713l-8 2-8 1 8-3z"/><path fill="#02b7eb" stroke="#02b7eb" d="M1749 603l-8-5-7-8 7 5z"/><path fill="#17cbe4" stroke="#17cbe4" d="M1522 569l-7 11-7 1 7-11z"/><path fill="#48f1d0" stroke="#48f1d0" d="M1583 522l-8 0 8 0 7-1z"/><path fill="#34e4d9" stroke="#34e4d9" d="M1545 538l-8 9-7 1 8-9z"/><path fill="#20d5e1" stroke="#20d5e1" d="M1530 558l-8 11-7 1 8-11z"/><path fill="#396bf9" stroke="#396bf9" d="M1809 667l-7-5-8-8 8 4z"/><path fill="#2adddd" stroke="#2adddd" d="M1537 547l-7 11-7 1 7-11z"/><path fill="#2e7bf7" stroke="#2e7bf7" d="M1968 642l-7 13-8 2 7-14z"/><path fill="#0fc4e7" stroke="#0fc4e7" d="M1515 580l-8 8-7 1 8-8zM1463 592l-9-15 7 0 9 14z"/><path fill="#40ecd4" stroke="#40ecd4" d="M1636 532l-8-4 7 1 8 5z"/><path fill="#6826fe" stroke="#6826fe" d="M1877 714l-7-1-8-3 8 1z"/><path fill="#2fe0db" stroke="#2fe0db" d="M1681 552l-8-5 8 3 8 6z"/><path fill="#5c38fd" stroke="#5c38fd" d="M1855 705l-8-3-7-6 7 4z"/><path fill="#1acfe3" stroke="#1acfe3" d="M2028 573l-7 2 8-3 7-2z"/><path fill="#3e65fa" stroke="#3e65fa" d="M1817 675l-7-5-8-8 7 5z"/><path fill="#01b3ec" stroke="#01b3ec" d="M1757 611l-8-5-8-8 8 5z"/><path fill="#24d8df" stroke="#24d8df" d="M1433 575l-10-29 7 2 10 29z"/><path fill="#3ae8d6" stroke="#3ae8d6" d="M1659 541l-8-5 7 2 8 6z"/><path fill="#208ef4" stroke="#208ef4" d="M1976 628l-8 14-8 1 8-13z"/><path fill="#1dd1e2" stroke="#1dd1e2" d="M1719 577l-8-5-7-6 7 5z"/><path fill="#12c8e6" stroke="#12c8e6" d="M2014 579l-8 6-8 1 8-7z"/><path fill="#622ffe" stroke="#622ffe" d="M1923 706l-7 5-8 2 7-5z"/><path fill="#46efd1" stroke="#46efd1" d="M1567 525l-7 5-7 0 7-5z"/><path fill="#0dc2e8" stroke="#0dc2e8" d="M1485 594l-8-4 7-1 8 4z"/><path fill="#445cfb" stroke="#445cfb" d="M1825 683l-8-5-7-8 7 5z"/><path fill="#08acee" stroke="#08acee" d="M1764 619l-7-5-8-8 8 5z"/><path fill="#10a2f0" stroke="#10a2f0" d="M1984 616l-8 12-8 2 8-13z"/><path fill="#0fc4e7" stroke="#0fc4e7" d="M1507 588l-8 3-7 2 8-4z"/><path fill="#4af2cf" stroke="#4af2cf" d="M1621 527l-8-4 7 1 8 4z"/><path fill="#0fc4e7" stroke="#0fc4e7" d="M2006 585l-7 8-8 1 7-8z"/><path fill="#22d6e0" stroke="#22d6e0" d="M2043 571l-7-1 9-5 7 1z"/><path fill="#04b0ed" stroke="#04b0ed" d="M1991 604l-7 12-8 1 7-12z"/><path fill="#0ca7ef" stroke="#0ca7ef" d="M1772 628l-8-6-7-8 7 5z"/><path fill="#08bee9" stroke="#08bee9" d="M1999 593l-8 11-8 1 8-11z"/><path fill="#1dd1e2" stroke="#1dd1e2" d="M1726 584l-7-6-8-6 8 5z"/><path fill="#5c38fd" stroke="#5c38fd" d="M1862 710l-7-4-8-4 8 3z"/><path fill="#4856fb" stroke="#4856fb" d="M1832 690l-7-5-8-7 8 5z"/><path fill="#30e1da" stroke="#30e1da" d="M1689 556l-8-6 7 5 8 6z"/><path fill="#4ef3cd" stroke="#4ef3cd" d="M1583 522l-8 2-8 1 8-3z"/><path fill="#44eed2" stroke="#44eed2" d="M1560 530l-8 7-7 1 8-8z"/><path fill="#642cfe" stroke="#642cfe" d="M1900 715l-7 1-8 0 7 0z"/><path fill="#4659fb" stroke="#4659fb" d="M1954 676l-8 11-8 4 7-11z"/><path fill="#50f4cc" stroke="#50f4cc" d="M1606 523l-8-2 7 1 8 1z"/><path fill="#396bf9" stroke="#396bf9" d="M1961 664l-7 12-9 4 8-12z"/><path fill="#11a0f1" stroke="#11a0f1" d="M1779 636l-7-5-8-9 8 6z"/><path fill="#20d5e1" stroke="#20d5e1" d="M2029 572l-7 4-8 3 7-4z"/><path fill="#4e4dfc" stroke="#4e4dfc" d="M1946 687l-7 8-9 4 8-8z"/><path fill="#622ffe" stroke="#622ffe" d="M1877 714l-7-1 8 1 7 2z"/><path fill="#48f1d0" stroke="#48f1d0" d="M1643 534l-8-5 8 2 8 5z"/><path fill="#52f5cb" stroke="#52f5cb" d="M1598 521l-8 1-7 0 7-1z"/><path fill="#3febd5" stroke="#3febd5" d="M1666 544l-8-6 8 3 7 6z"/><path fill="#40ecd4" stroke="#40ecd4" d="M1552 537l-8 9-7 1 8-9z"/><path fill="#2e7bf7" stroke="#2e7bf7" d="M1969 652l-8 12-8 4 8-13z"/><path fill="#5e35fe" stroke="#5e35fe" d="M1908 713l-8 2 8-2 8-2z"/><path fill="#22d6e0" stroke="#22d6e0" d="M1529 568l-7 10-7 2 7-11z"/><path fill="#2ddedc" stroke="#2ddedc" d="M1537 557l-8 11-7 1 8-11z"/><path fill="#1898f2" stroke="#1898f2" d="M1787 645l-8-6-7-8 7 5z"/><path fill="#37e6d8" stroke="#37e6d8" d="M1544 546l-7 11-7 1 7-11z"/><path fill="#1acfe3" stroke="#1acfe3" d="M1734 590l-8-5-7-7 7 6z"/><path fill="#2fe0db" stroke="#2fe0db" d="M1440 577l-10-29 7 0 10 30z"/><path fill="#4a53fb" stroke="#4a53fb" d="M1840 696l-7-4-8-7 7 5z"/><path fill="#1acfe3" stroke="#1acfe3" d="M1470 591l-9-14 7-2 9 15z"/><path fill="#1dd1e2" stroke="#1dd1e2" d="M1522 578l-8 8-7 2 8-8z"/><path fill="#5247fc" stroke="#5247fc" d="M1939 695l-8 7-8 4 7-7z"/><path fill="#208ef4" stroke="#208ef4" d="M1977 638l-8 14-8 3 7-13z"/><path fill="#1e91f3" stroke="#1e91f3" d="M1794 654l-7-6-8-9 8 6z"/><path fill="#32e3da" stroke="#32e3da" d="M1696 561l-8-6 8 5 8 6z"/><path fill="#583efd" stroke="#583efd" d="M1862 710l-7-4 8 3 7 4z"/><path fill="#52f5cb" stroke="#52f5cb" d="M1575 524l-8 5-7 1 7-5z"/><path fill="#17cbe4" stroke="#17cbe4" d="M1741 598l-7-6-8-7 8 5z"/><path fill="#20d5e1" stroke="#20d5e1" d="M2022 576l-7 6-9 3 8-6z"/><path fill="#52f5cb" stroke="#52f5cb" d="M1628 528l-8-4 8 1 7 4z"/><path fill="#2489f5" stroke="#2489f5" d="M1802 662l-7-6-8-8 7 6z"/><path fill="#10a2f0" stroke="#10a2f0" d="M1984 625l-7 13-9 4 8-14z"/><path fill="#2ddedc" stroke="#2ddedc" d="M2036 570l-7 2 9-5 7-2z"/><path fill="#18cde4" stroke="#18cde4" d="M1492 593l-8-4 7-2 8 4z"/><path fill="#4a53fb" stroke="#4a53fb" d="M1847 702l-7-5-7-5 7 4z"/><path fill="#1acfe3" stroke="#1acfe3" d="M1514 586l-8 3-7 2 8-3z"/><path fill="#42edd3" stroke="#42edd3" d="M1673 547l-7-6 7 4 8 5z"/><path fill="#5247fc" stroke="#5247fc" d="M1931 702l-7 4-8 5 7-5z"/><path fill="#2981f6" stroke="#2981f6" d="M1810 670l-8-6-7-8 7 6z"/><path fill="#01b3ec" stroke="#01b3ec" d="M1992 612l-8 13-8 3 8-12z"/><path fill="#4ef3cd" stroke="#4ef3cd" d="M1651 536l-8-5 7 2 8 5z"/><path fill="#12c8e6" stroke="#12c8e6" d="M1749 606l-8-7-7-7 7 6z"/><path fill="#1dd1e2" stroke="#1dd1e2" d="M2015 582l-8 8-8 3 7-8z"/><path fill="#5af8c8" stroke="#5af8c8" d="M1590 522l-8 2-7 0 8-2zM1613 523l-8-1 7 0 8 2z"/><path fill="#32e3da" stroke="#32e3da" d="M1704 566l-8-6 7 5 8 7z"/><path fill="#50f4cc" stroke="#50f4cc" d="M1567 529l-8 7-7 1 8-7z"/><path fill="#0dc2e8" stroke="#0dc2e8" d="M2000 601l-8 11-8 4 7-12z"/><path fill="#17cbe4" stroke="#17cbe4" d="M2007 590l-7 11-9 3 8-11z"/><path fill="#583efd" stroke="#583efd" d="M1885 716l-7-2 8 0 7 2z"/><path fill="#5df9c7" stroke="#5df9c7" d="M1605 522l-8 0-7 0 8-1z"/><path fill="#5641fd" stroke="#5641fd" d="M1900 715l-7 1 8-3 7 0z"/><path fill="#2e7bf7" stroke="#2e7bf7" d="M1817 678l-7-6-8-8 8 6z"/><path fill="#0fc4e7" stroke="#0fc4e7" d="M1757 614l-8-7-8-8 8 7z"/><path fill="#4df3ce" stroke="#4df3ce" d="M1559 536l-7 9-8 1 8-9z"/><path fill="#38e7d7" stroke="#38e7d7" d="M1447 578l-10-30 7 0 10 29zM1544 556l-8 11-7 1 8-11z"/><path fill="#4856fb" stroke="#4856fb" d="M1847 702l-7-5 8 4 7 5z"/><path fill="#2fe0db" stroke="#2fe0db" d="M1536 567l-7 10-7 1 7-10z"/><path fill="#42edd3" stroke="#42edd3" d="M1552 545l-8 11-7 1 7-11z"/><path fill="#504afc" stroke="#504afc" d="M1870 713l-7-4 8 1 7 4z"/><path fill="#08bee9" stroke="#08bee9" d="M1764 622l-7-6-8-9 8 7z"/><path fill="#32e3da" stroke="#32e3da" d="M1711 572l-8-7 8 6 8 7z"/><path fill="#3176f8" stroke="#3176f8" d="M1825 685l-7-6-8-7 7 6z"/><path fill="#46efd1" stroke="#46efd1" d="M1681 550l-8-5 8 4 7 6z"/><path fill="#32e3da" stroke="#32e3da" d="M2029 572l-7 4 9-6 7-3z"/><path fill="#28dbde" stroke="#28dbde" d="M1477 590l-9-15 7-1 9 15zM1529 577l-8 8-7 1 8-8z"/><path fill="#5af8c8" stroke="#5af8c8" d="M1635 529l-7-4 7 2 8 4z"/><path fill="#3079f7" stroke="#3079f7" d="M1962 670l-8 10-8 7 8-11z"/><path fill="#2686f5" stroke="#2686f5" d="M1970 658l-8 12-8 6 7-12z"/><path fill="#4e4dfc" stroke="#4e4dfc" d="M1916 711l-8 2 9-4 7-3z"/><path fill="#04b9ea" stroke="#04b9ea" d="M1772 631l-8-7-7-8 7 6z"/><path fill="#5df9c7" stroke="#5df9c7" d="M1582 524l-8 5-7 0 8-5z"/><path fill="#386df9" stroke="#386df9" d="M1954 680l-7 8-8 7 7-8z"/><path fill="#54f6cb" stroke="#54f6cb" d="M1658 538l-8-5 8 3 8 5z"/><path fill="#1996f3" stroke="#1996f3" d="M1977 645l-7 13-9 6 8-12z"/><path fill="#01b3ec" stroke="#01b3ec" d="M1779 639l-7-6-8-9 8 7z"/><path fill="#30e1da" stroke="#30e1da" d="M1719 578l-8-7 8 7 7 7z"/><path fill="#3473f8" stroke="#3473f8" d="M1825 685l-7-6 7 6 8 7z"/><path fill="#62fbc4" stroke="#62fbc4" d="M1620 524l-8-2 8 1 8 2z"/><path fill="#27dade" stroke="#27dade" d="M1499 591l-8-4 7-2 8 4z"/><path fill="#0ca7ef" stroke="#0ca7ef" d="M1985 632l-8 13-8 7 8-14z"/><path fill="#3c68f9" stroke="#3c68f9" d="M1939 695l-8 7 8-7 8-7z"/><path fill="#64fbc3" stroke="#64fbc3" d="M1597 522l-8 2-7 0 8-2z"/><path fill="#28dbde" stroke="#28dbde" d="M1521 585l-8 3-7 1 8-3z"/><path fill="#32e3da" stroke="#32e3da" d="M2031 570l-8 6-8 6 7-6z"/><path fill="#445cfb" stroke="#445cfb" d="M1855 706l-7-5 8 3 7 5z"/><path fill="#48f1d0" stroke="#48f1d0" d="M1688 555l-7-6 7 5 8 6z"/><path fill="#08acee" stroke="#08acee" d="M1787 648l-7-7-8-8 7 6z"/><path fill="#66fcc2" stroke="#66fcc2" d="M1605 522l-8 0 7 0 8 0z"/><path fill="#5df9c7" stroke="#5df9c7" d="M1574 529l-8 7-7 0 8-7z"/><path fill="#04b9ea" stroke="#04b9ea" d="M1993 619l-8 13-8 6 7-13z"/><path fill="#2ddedc" stroke="#2ddedc" d="M1726 585l-7-7 7 7 8 7z"/><path fill="#4a53fb" stroke="#4a53fb" d="M1893 716l-7-2 8-3 7 2z"/><path fill="#0ea5ef" stroke="#0ea5ef" d="M1795 656l-8-7-7-8 7 7z"/><path fill="#60fac5" stroke="#60fac5" d="M1643 531l-8-4 7 2 8 4z"/><path fill="#42edd3" stroke="#42edd3" d="M1454 577l-10-29 7-1 10 30z"/><path fill="#56f7ca" stroke="#56f7ca" d="M1566 536l-7 9-7 0 7-9z"/><path fill="#3473f8" stroke="#3473f8" d="M1833 692l-8-7 8 5 7 7z"/><path fill="#12c8e6" stroke="#12c8e6" d="M2001 606l-8 13-9 6 8-13z"/><path fill="#58f8c9" stroke="#58f8c9" d="M1666 541l-8-5 7 3 8 6z"/><path fill="#30e1da" stroke="#30e1da" d="M2023 576l-7 8-9 6 8-8z"/><path fill="#4659fb" stroke="#4659fb" d="M1878 714l-7-4 8 0 7 4z"/><path fill="#4ef3cd" stroke="#4ef3cd" d="M1559 545l-8 10-7 1 8-11z"/><path fill="#44eed2" stroke="#44eed2" d="M1551 555l-8 11-7 1 8-11z"/><path fill="#3c68f9" stroke="#3c68f9" d="M1931 702l-7 4 8-7 7-4z"/><path fill="#3dead5" stroke="#3dead5" d="M1543 566l-7 10-7 1 7-10z"/><path fill="#445cfb" stroke="#445cfb" d="M1908 713l-7 0 8-4 8 0z"/><path fill="#1fd3e1" stroke="#1fd3e1" d="M2008 595l-7 11-9 6 8-11z"/><path fill="#28dbde" stroke="#28dbde" d="M2016 584l-8 11-8 6 7-11z"/><path fill="#11a0f1" stroke="#11a0f1" d="M1802 664l-7-7-8-8 8 7z"/><path fill="#2adddd" stroke="#2adddd" d="M1741 599l-7-6-8-8 8 7z"/><path fill="#48f1d0" stroke="#48f1d0" d="M1696 560l-8-6 8 5 7 6z"/><path fill="#34e4d9" stroke="#34e4d9" d="M1536 576l-8 8-7 1 8-8z"/><path fill="#37e6d8" stroke="#37e6d8" d="M1484 589l-9-15 7-2 9 15z"/><path fill="#68fcc1" stroke="#68fcc1" d="M1589 524l-8 4-7 1 8-5z"/><path fill="#6afdc0" stroke="#6afdc0" d="M1635 527l-8-2-7-2 8 2z"/><path fill="#169bf2" stroke="#169bf2" d="M1802 664l-7-7 8 8 7 7z"/><path fill="#24d8df" stroke="#24d8df" d="M1749 607l-8-6-7-8 7 6z"/><path fill="#3e65fa" stroke="#3e65fa" d="M1863 709l-7-5 8 1 7 5z"/><path fill="#3176f8" stroke="#3176f8" d="M1840 697l-7-7 8 4 7 7z"/><path fill="#6efebe" stroke="#6efebe" d="M1604 522l-8 2-7 0 8-2z"/><path fill="#5af8c8" stroke="#5af8c8" d="M1673 545l-8-6 8 4 8 6z"/><path fill="#6efebe" stroke="#6efebe" d="M1620 523l-8 0-8-1 8 0z"/><path fill="#48f1d0" stroke="#48f1d0" d="M1703 565l-7-6 7 6 8 6z"/><path fill="#20d5e1" stroke="#20d5e1" d="M1757 616l-8-7-8-8 8 6z"/><path fill="#34e4d9" stroke="#34e4d9" d="M1506 589l-8-4 7-2 8 5z"/><path fill="#66fcc2" stroke="#66fcc2" d="M1650 533l-8-4 8 3 8 4zM1581 528l-7 7-8 1 8-7z"/><path fill="#37e6d8" stroke="#37e6d8" d="M1528 584l-8 3-7 1 8-3z"/><path fill="#1996f3" stroke="#1996f3" d="M1810 672l-7-7 7 7 8 7z"/><path fill="#386df9" stroke="#386df9" d="M1924 706l-7 3 8-7 7-3z"/><path fill="#1acfe3" stroke="#1acfe3" d="M1764 624l-7-7-8-8 8 7z"/><path fill="#62fbc4" stroke="#62fbc4" d="M1574 535l-8 9-7 1 7-9z"/><path fill="#50f4cc" stroke="#50f4cc" d="M1461 577l-10-30 7-2 10 30z"/><path fill="#46efd1" stroke="#46efd1" d="M1719 578l-8-6-8-7 8 6z"/><path fill="#5af8c8" stroke="#5af8c8" d="M1566 544l-8 10-7 1 8-10z"/><path fill="#50f4cc" stroke="#50f4cc" d="M1558 554l-7 11-8 1 8-11z"/><path fill="#17cbe4" stroke="#17cbe4" d="M1772 633l-8-8-7-8 7 7z"/><path fill="#48f1d0" stroke="#48f1d0" d="M1551 565l-8 10-7 1 7-10z"/><path fill="#1c93f3" stroke="#1c93f3" d="M1818 679l-8-7 8 6 7 7z"/><path fill="#386df9" stroke="#386df9" d="M1886 714l-7-4 8-3 7 4z"/><path fill="#5df9c7" stroke="#5df9c7" d="M1681 549l-8-6 7 5 8 6z"/><path fill="#70febc" stroke="#70febc" d="M1642 529l-8-2-7-2 8 2z"/><path fill="#386df9" stroke="#386df9" d="M1901 713l-7-2 8-5 7 3z"/><path fill="#2e7bf7" stroke="#2e7bf7" d="M1848 701l-7-7 8 3 7 7z"/><path fill="#72febb" stroke="#72febb" d="M1596 524l-7 5-8-1 8-4z"/><path fill="#42edd3" stroke="#42edd3" d="M1543 575l-8 8-7 1 8-8z"/><path fill="#10c6e6" stroke="#10c6e6" d="M1780 641l-8-7-8-9 8 8z"/><path fill="#6afdc0" stroke="#6afdc0" d="M1658 536l-8-4 7 3 8 4z"/><path fill="#44eed2" stroke="#44eed2" d="M1726 585l-7-6-8-7 8 6zM1491 587l-9-15 7-2 9 15z"/><path fill="#3176f8" stroke="#3176f8" d="M1871 710l-7-5 8-1 7 6z"/><path fill="#76ffb9" stroke="#76ffb9" d="M1627 525l-8-1-7-1 8 0zM1612 523l-8 2-8-1 8-2z"/><path fill="#0ac0e8" stroke="#0ac0e8" d="M1787 649l-7-7-8-8 8 7z"/><path fill="#1c93f3" stroke="#1c93f3" d="M1825 685l-7-7 8 5 7 7z"/><path fill="#2e7bf7" stroke="#2e7bf7" d="M1917 709l-8 0 9-8 7 1z"/><path fill="#5efac6" stroke="#5efac6" d="M1688 554l-8-6 8 5 8 6z"/><path fill="#72febb" stroke="#72febb" d="M1589 529l-8 6-7 0 7-7z"/><path fill="#40ecd4" stroke="#40ecd4" d="M1734 593l-8-7-7-7 7 6z"/><path fill="#42edd3" stroke="#42edd3" d="M1513 588l-8-5 7-1 8 5z"/><path fill="#07bbea" stroke="#07bbea" d="M1795 657l-8-7-7-8 7 7z"/><path fill="#42edd3" stroke="#42edd3" d="M1535 583l-8 2-7 2 8-3z"/><path fill="#76ffb9" stroke="#76ffb9" d="M1642 529l-8-2 8 2 8 3z"/><path fill="#6dfdbf" stroke="#6dfdbf" d="M1581 535l-8 9-7 0 8-9z"/><path fill="#3dead5" stroke="#3dead5" d="M1741 601l-7-7-8-8 8 7z"/><path fill="#6efebe" stroke="#6efebe" d="M1665 539l-8-4 8 4 8 4z"/><path fill="#2686f5" stroke="#2686f5" d="M1856 704l-7-7 7 1 8 7z"/><path fill="#02b7eb" stroke="#02b7eb" d="M1795 657l-8-7 8 7 8 8z"/><path fill="#66fcc2" stroke="#66fcc2" d="M1573 544l-7 10-8 0 8-10z"/><path fill="#5df9c7" stroke="#5df9c7" d="M1566 554l-8 11-7 0 7-11z"/><path fill="#52f5cb" stroke="#52f5cb" d="M1558 565l-8 10-7 0 8-10z"/><path fill="#5df9c7" stroke="#5df9c7" d="M1468 575l-10-30 7-2 10 31zM1696 559l-8-6 8 6 7 6z"/><path fill="#7affb7" stroke="#7affb7" d="M1604 525l-8 4-7 0 7-5z"/><path fill="#1996f3" stroke="#1996f3" d="M1833 690l-7-7 7 4 8 7z"/><path fill="#38e7d7" stroke="#38e7d7" d="M1749 609l-8-7-7-8 7 7z"/><path fill="#7effb5" stroke="#7effb5" d="M1634 527l-7-1-8-2 8 1z"/><path fill="#4ef3cd" stroke="#4ef3cd" d="M1550 575l-8 7-7 1 8-8z"/><path fill="#7effb5" stroke="#7effb5" d="M1619 524l-8 2-7-1 8-2z"/><path fill="#00b5eb" stroke="#00b5eb" d="M1803 665l-8-8 8 7 7 8z"/><path fill="#2686f5" stroke="#2686f5" d="M1894 711l-7-4 8-5 7 4z"/><path fill="#32e3da" stroke="#32e3da" d="M1757 617l-8-7-8-8 8 7z"/><path fill="#52f5cb" stroke="#52f5cb" d="M1498 585l-9-15 7-2 9 15z"/><path fill="#5df9c7" stroke="#5df9c7" d="M1711 572l-8-6-7-7 7 6z"/><path fill="#70febc" stroke="#70febc" d="M1680 548l-8-4-7-5 8 4z"/><path fill="#2489f5" stroke="#2489f5" d="M1879 710l-7-6 8-3 7 6z"/><path fill="#7affb7" stroke="#7affb7" d="M1596 529l-8 7-7-1 8-6zM1657 535l-8-3-7-3 8 3z"/><path fill="#2fe0db" stroke="#2fe0db" d="M1764 625l-7-7-8-8 8 7z"/><path fill="#218cf4" stroke="#218cf4" d="M1909 709l-7-3 8-7 8 2z"/><path fill="#01b3ec" stroke="#01b3ec" d="M1810 672l-7-8 8 6 7 8z"/><path fill="#4ef3cd" stroke="#4ef3cd" d="M1542 582l-8 3-7 0 8-2zM1520 587l-8-5 7-1 8 4z"/><path fill="#149df1" stroke="#149df1" d="M1841 694l-8-7 8 2 8 8z"/><path fill="#76ffb9" stroke="#76ffb9" d="M1588 536l-8 8-7 0 8-9z"/><path fill="#5af8c8" stroke="#5af8c8" d="M1711 572l-8-6 8 6 8 7z"/><path fill="#28dbde" stroke="#28dbde" d="M1772 634l-8-8-7-8 7 7z"/><path fill="#1c93f3" stroke="#1c93f3" d="M1864 705l-8-7 8-1 8 7z"/><path fill="#70febc" stroke="#70febc" d="M1580 544l-7 10-7 0 7-10z"/><path fill="#84ffb2" stroke="#84ffb2" d="M1642 529l-8-1-7-2 7 1zM1611 526l-8 4-7-1 8-4z"/><path fill="#66fcc2" stroke="#66fcc2" d="M1573 554l-8 11-7 0 8-11z"/><path fill="#72febb" stroke="#72febb" d="M1688 553l-8-4-8-5 8 4z"/><path fill="#5efac6" stroke="#5efac6" d="M1565 565l-8 10-7 0 8-10z"/><path fill="#86ffb0" stroke="#86ffb0" d="M1627 526l-8 2-8-2 8-2z"/><path fill="#24d8df" stroke="#24d8df" d="M1772 634l-8-8 8 8 8 8z"/><path fill="#56f7ca" stroke="#56f7ca" d="M1726 586l-8-6-7-8 8 7z"/><path fill="#7effb5" stroke="#7effb5" d="M1665 539l-8-3-8-4 8 3z"/><path fill="#6afdc0" stroke="#6afdc0" d="M1475 574l-10-31 7-2 10 31z"/><path fill="#01b3ec" stroke="#01b3ec" d="M1818 678l-7-8 7 5 8 8z"/><path fill="#58f8c9" stroke="#58f8c9" d="M1557 575l-7 7-8 0 8-7z"/><path fill="#1fd3e1" stroke="#1fd3e1" d="M1780 642l-8-8 8 8 7 8z"/><path fill="#84ffb2" stroke="#84ffb2" d="M1603 530l-7 7-8-1 8-7z"/><path fill="#52f5cb" stroke="#52f5cb" d="M1734 594l-8-7-8-7 8 6z"/><path fill="#72febb" stroke="#72febb" d="M1696 559l-8-5-8-5 8 4z"/><path fill="#5efac6" stroke="#5efac6" d="M1505 583l-9-15 7-2 9 16z"/><path fill="#0ea5ef" stroke="#0ea5ef" d="M1849 697l-8-8 8 1 7 8z"/><path fill="#88ffaf" stroke="#88ffaf" d="M1649 532l-7-1-8-3 8 1z"/><path fill="#1dd1e2" stroke="#1dd1e2" d="M1787 650l-7-8 8 7 7 8z"/><path fill="#80ffb4" stroke="#80ffb4" d="M1596 537l-8 8-8-1 8-8z"/><path fill="#4ef3cd" stroke="#4ef3cd" d="M1741 602l-7-7-8-8 8 7z"/><path fill="#5af8c8" stroke="#5af8c8" d="M1550 582l-8 2-8 1 8-3z"/><path fill="#82ffb3" stroke="#82ffb3" d="M1672 544l-7-4-8-4 8 3z"/><path fill="#8cfead" stroke="#8cfead" d="M1619 528l-8 4-8-2 8-4z"/><path fill="#00b5eb" stroke="#00b5eb" d="M1826 683l-8-8 8 3 7 9z"/><path fill="#5af8c8" stroke="#5af8c8" d="M1527 585l-8-4 7-1 8 5z"/><path fill="#11a0f1" stroke="#11a0f1" d="M1887 707l-7-6 8-5 7 6z"/><path fill="#8cfead" stroke="#8cfead" d="M1634 528l-8 2-7-2 8-2z"/><path fill="#78ffb8" stroke="#78ffb8" d="M1588 545l-8 10-7-1 7-10z"/><path fill="#70febc" stroke="#70febc" d="M1703 566l-8-5-7-7 8 5zM1580 555l-8 10-7 0 8-11z"/><path fill="#10a2f0" stroke="#10a2f0" d="M1902 706l-7-4 8-8 7 5z"/><path fill="#4af2cf" stroke="#4af2cf" d="M1749 610l-8-7-7-8 7 7z"/><path fill="#68fcc1" stroke="#68fcc1" d="M1572 565l-7 10-8 0 8-10z"/><path fill="#18cde4" stroke="#18cde4" d="M1795 657l-7-8 7 7 8 8z"/><path fill="#0ea5ef" stroke="#0ea5ef" d="M1872 704l-8-7 8-3 8 7z"/><path fill="#62fbc4" stroke="#62fbc4" d="M1565 575l-8 7-7 0 7-7z"/><path fill="#46efd1" stroke="#46efd1" d="M1757 618l-8-7-8-8 8 7z"/><path fill="#8cfead" stroke="#8cfead" d="M1611 532l-8 6-7-1 7-7z"/><path fill="#6efebe" stroke="#6efebe" d="M1711 572l-8-5-8-6 8 5z"/><path fill="#8cfead" stroke="#8cfead" d="M1657 536l-8-1-7-4 7 1z"/><path fill="#82ffb3" stroke="#82ffb3" d="M1680 549l-8-4-7-5 7 4z"/><path fill="#78ffb8" stroke="#78ffb8" d="M1482 572l-10-31 7-2 10 31z"/><path fill="#18cde4" stroke="#18cde4" d="M1803 664l-8-8 8 6 8 8z"/><path fill="#40ecd4" stroke="#40ecd4" d="M1764 626l-7-6-8-9 8 7z"/><path fill="#07bbea" stroke="#07bbea" d="M1833 687l-7-9 8 3 7 8z"/><path fill="#92fda9" stroke="#92fda9" d="M1626 530l-8 4-7-2 8-4zM1642 531l-8 2-8-3 8-2z"/><path fill="#88ffaf" stroke="#88ffaf" d="M1603 538l-8 8-7-1 8-8z"/><path fill="#01b3ec" stroke="#01b3ec" d="M1856 698l-7-8 8-1 7 8z"/><path fill="#6dfdbf" stroke="#6dfdbf" d="M1718 580l-7-6-8-7 8 5zM1512 582l-9-16 7-1 9 16z"/><path fill="#3dead5" stroke="#3dead5" d="M1772 634l-7-7-8-7 7 6z"/><path fill="#82ffb3" stroke="#82ffb3" d="M1595 546l-7 10-8-1 8-10z"/><path fill="#64fbc3" stroke="#64fbc3" d="M1557 582l-8 2-7 0 8-2z"/><path fill="#82ffb3" stroke="#82ffb3" d="M1688 554l-8-3-8-6 8 4z"/><path fill="#78ffb8" stroke="#78ffb8" d="M1588 556l-8 10-8-1 8-10z"/><path fill="#66fcc2" stroke="#66fcc2" d="M1534 585l-8-5 7-1 9 5z"/><path fill="#70febc" stroke="#70febc" d="M1580 566l-8 10-7-1 7-10z"/><path fill="#90feab" stroke="#90feab" d="M1665 540l-8-1-8-4 8 1z"/><path fill="#18cde4" stroke="#18cde4" d="M1811 670l-8-8 8 5 7 8z"/><path fill="#68fcc1" stroke="#68fcc1" d="M1726 587l-8-5-7-8 7 6z"/><path fill="#38e7d7" stroke="#38e7d7" d="M1780 642l-8-7-7-8 7 7z"/><path fill="#92fda9" stroke="#92fda9" d="M1618 534l-8 6-7-2 8-6z"/><path fill="#6dfdbf" stroke="#6dfdbf" d="M1572 576l-8 7-7-1 8-7z"/><path fill="#64fbc3" stroke="#64fbc3" d="M1734 595l-8-5-8-8 8 5z"/><path fill="#82ffb3" stroke="#82ffb3" d="M1695 561l-8-4-7-6 8 3z"/><path fill="#96fca7" stroke="#96fca7" d="M1649 535l-8 1-7-3 8-2z"/><path fill="#34e4d9" stroke="#34e4d9" d="M1780 642l-8-7 8 7 8 7z"/><path fill="#99fca6" stroke="#99fca6" d="M1634 533l-8 4-8-3 8-4z"/><path fill="#0fc4e7" stroke="#0fc4e7" d="M1841 689l-7-8 8 0 7 9z"/><path fill="#90feab" stroke="#90feab" d="M1610 540l-7 8-8-2 8-8z"/><path fill="#07bbea" stroke="#07bbea" d="M1895 702l-7-6 8-8 7 6zM1880 701l-8-7 9-5 7 7z"/><path fill="#90feab" stroke="#90feab" d="M1672 545l-8-1-7-5 8 1z"/><path fill="#86ffb0" stroke="#86ffb0" d="M1489 570l-10-31 7-2 10 31z"/><path fill="#60fac5" stroke="#60fac5" d="M1741 603l-7-5-8-8 8 5z"/><path fill="#1acfe3" stroke="#1acfe3" d="M1818 675l-7-8 8 3 7 8z"/><path fill="#88ffaf" stroke="#88ffaf" d="M1603 548l-8 10-7-2 7-10z"/><path fill="#80ffb4" stroke="#80ffb4" d="M1703 567l-8-3-8-7 8 4zM1595 558l-8 10-7-2 8-10z"/><path fill="#32e3da" stroke="#32e3da" d="M1788 649l-8-7 8 7 7 7z"/><path fill="#6efebe" stroke="#6efebe" d="M1564 583l-8 2-7-1 8-2z"/><path fill="#78ffb8" stroke="#78ffb8" d="M1519 581l-9-16 7-2 9 17zM1587 568l-8 9-7-1 8-10z"/><path fill="#5df9c7" stroke="#5df9c7" d="M1749 611l-8-5-7-8 7 5z"/><path fill="#0dc2e8" stroke="#0dc2e8" d="M1864 697l-7-8 8-3 7 8z"/><path fill="#99fca6" stroke="#99fca6" d="M1626 537l-8 6-8-3 8-6z"/><path fill="#72febb" stroke="#72febb" d="M1542 584l-9-5 7 0 9 5z"/><path fill="#9bfba5" stroke="#9bfba5" d="M1657 539l-8 1-8-4 8-1z"/><path fill="#92fda9" stroke="#92fda9" d="M1680 551l-8-1-8-6 8 1z"/><path fill="#74feba" stroke="#74feba" d="M1579 577l-7 7-8-1 8-7z"/><path fill="#9cfba4" stroke="#9cfba4" d="M1641 536l-8 4-7-3 8-4z"/><path fill="#7effb5" stroke="#7effb5" d="M1711 574l-8-3-8-7 8 3z"/><path fill="#56f7ca" stroke="#56f7ca" d="M1757 620l-8-6-8-8 8 5z"/><path fill="#30e1da" stroke="#30e1da" d="M1795 656l-7-7 8 5 7 8z"/><path fill="#96fca7" stroke="#96fca7" d="M1618 543l-8 8-7-3 7-8z"/><path fill="#20d5e1" stroke="#20d5e1" d="M1826 678l-7-8 8 2 7 9z"/><path fill="#52f5cb" stroke="#52f5cb" d="M1765 627l-8-6-8-7 8 6z"/><path fill="#7dffb6" stroke="#7dffb6" d="M1718 582l-7-4-8-7 8 3z"/><path fill="#90feab" stroke="#90feab" d="M1610 551l-8 9-7-2 8-10z"/><path fill="#18cde4" stroke="#18cde4" d="M1849 690l-7-9 8-1 7 9z"/><path fill="#92fda9" stroke="#92fda9" d="M1687 557l-7-1-8-6 8 1z"/><path fill="#9cfba4" stroke="#9cfba4" d="M1664 544l-8 1-7-5 8-1z"/><path fill="#88ffaf" stroke="#88ffaf" d="M1602 560l-7 10-8-2 8-10z"/><path fill="#9efaa2" stroke="#9efaa2" d="M1633 540l-7 6-8-3 8-6z"/><path fill="#80ffb4" stroke="#80ffb4" d="M1595 570l-8 9-8-2 8-9z"/><path fill="#4ef3cd" stroke="#4ef3cd" d="M1772 635l-7-6-8-8 8 6z"/><path fill="#76ffb9" stroke="#76ffb9" d="M1572 584l-8 2-8-1 8-2z"/><path fill="#94fda8" stroke="#94fda8" d="M1496 568l-10-31 7-2 10 31z"/><path fill="#32e3da" stroke="#32e3da" d="M1803 662l-7-8 7 5 8 8z"/><path fill="#78ffb8" stroke="#78ffb8" d="M1726 590l-8-4-7-8 7 4z"/><path fill="#a0faa1" stroke="#a0faa1" d="M1649 540l-8 4-8-4 8-4z"/><path fill="#84ffb2" stroke="#84ffb2" d="M1526 580l-9-17 7 0 9 16z"/><path fill="#7affb7" stroke="#7affb7" d="M1549 584l-9-5 8 0 8 6z"/><path fill="#7dffb6" stroke="#7dffb6" d="M1587 579l-8 7-7-2 7-7z"/><path fill="#90feab" stroke="#90feab" d="M1695 564l-8-2-7-6 7 1z"/><path fill="#9bfba5" stroke="#9bfba5" d="M1626 546l-8 8-8-3 8-8z"/><path fill="#4df3ce" stroke="#4df3ce" d="M1780 642l-8-6-7-7 7 6z"/><path fill="#74feba" stroke="#74feba" d="M1734 598l-8-4-8-8 8 4z"/><path fill="#9cfba4" stroke="#9cfba4" d="M1672 550l-8 0-8-5 8-1z"/><path fill="#1fd3e1" stroke="#1fd3e1" d="M1888 696l-7-7 8-8 7 7z"/><path fill="#94fda8" stroke="#94fda8" d="M1618 554l-8 9-8-3 8-9z"/><path fill="#28dbde" stroke="#28dbde" d="M1834 681l-7-9 8 1 7 8z"/><path fill="#20d5e1" stroke="#20d5e1" d="M1872 694l-7-8 8-6 8 9z"/><path fill="#6efebe" stroke="#6efebe" d="M1741 606l-7-5-8-7 8 4z"/><path fill="#a0faa1" stroke="#a0faa1" d="M1641 544l-8 6-7-4 7-6z"/><path fill="#8efeac" stroke="#8efeac" d="M1610 563l-8 10-7-3 7-10zM1703 571l-8-2-8-7 8 2z"/><path fill="#a2f9a0" stroke="#a2f9a0" d="M1656 545l-7 3-8-4 8-4z"/><path fill="#34e4d9" stroke="#34e4d9" d="M1811 667l-8-8 8 3 8 8z"/><path fill="#4af2cf" stroke="#4af2cf" d="M1780 642l-8-6 8 6 8 7z"/><path fill="#86ffb0" stroke="#86ffb0" d="M1602 573l-8 9-7-3 8-9z"/><path fill="#7effb5" stroke="#7effb5" d="M1579 586l-8 2-7-2 8-2z"/><path fill="#9cfba4" stroke="#9cfba4" d="M1680 556l-8 0-8-6 8 0z"/><path fill="#6afdc0" stroke="#6afdc0" d="M1749 614l-8-5-7-8 7 5z"/><path fill="#9efaa2" stroke="#9efaa2" d="M1633 550l-8 7-7-3 8-8z"/><path fill="#28dbde" stroke="#28dbde" d="M1857 689l-7-9 8-3 7 9z"/><path fill="#8bfeae" stroke="#8bfeae" d="M1711 578l-8-2-8-7 8 2z"/><path fill="#82ffb3" stroke="#82ffb3" d="M1594 582l-8 7-7-3 8-7z"/><path fill="#84ffb2" stroke="#84ffb2" d="M1556 585l-8-6 7 1 9 6z"/><path fill="#48f1d0" stroke="#48f1d0" d="M1788 649l-8-7 8 6 8 6z"/><path fill="#66fcc2" stroke="#66fcc2" d="M1757 621l-8-4-8-8 8 5z"/><path fill="#a2f9a0" stroke="#a2f9a0" d="M1503 566l-10-31 7-2 10 32zM1664 550l-8 4-7-6 7-3z"/><path fill="#99fca6" stroke="#99fca6" d="M1625 557l-8 10-7-4 8-9z"/><path fill="#a4f89f" stroke="#a4f89f" d="M1649 548l-8 6-8-4 8-6z"/><path fill="#90feab" stroke="#90feab" d="M1533 579l-9-16 8-1 8 17z"/><path fill="#9bfba5" stroke="#9bfba5" d="M1687 562l-8 1-7-7 8 0z"/><path fill="#88ffaf" stroke="#88ffaf" d="M1718 586l-8-2-7-8 8 2z"/><path fill="#92fda9" stroke="#92fda9" d="M1617 567l-7 9-8-3 8-10z"/><path fill="#3ae8d6" stroke="#3ae8d6" d="M1819 670l-8-8 8 2 8 8z"/><path fill="#8bfeae" stroke="#8bfeae" d="M1610 576l-8 9-8-3 8-9z"/><path fill="#62fbc4" stroke="#62fbc4" d="M1765 629l-8-5-8-7 8 4z"/><path fill="#34e4d9" stroke="#34e4d9" d="M1842 681l-7-8 8-2 7 9z"/><path fill="#a2f9a0" stroke="#a2f9a0" d="M1641 554l-8 8-8-5 8-7z"/><path fill="#84ffb2" stroke="#84ffb2" d="M1726 594l-8-3-8-7 8 2zM1586 589l-8 1-7-2 8-2z"/><path fill="#a2f9a0" stroke="#a2f9a0" d="M1672 556l-8 3-8-5 8-4z"/><path fill="#9bfba5" stroke="#9bfba5" d="M1695 569l-8 0-8-6 8-1z"/><path fill="#4af2cf" stroke="#4af2cf" d="M1796 654l-8-6 8 4 7 7z"/><path fill="#86ffb0" stroke="#86ffb0" d="M1602 585l-8 7-8-3 8-7z"/><path fill="#a4f89f" stroke="#a4f89f" d="M1656 554l-8 5-7-5 8-6z"/><path fill="#60fac5" stroke="#60fac5" d="M1772 636l-7-5-8-7 8 5z"/><path fill="#9cfba4" stroke="#9cfba4" d="M1633 562l-8 9-8-4 8-10z"/><path fill="#80ffb4" stroke="#80ffb4" d="M1734 601l-8-2-8-8 8 3z"/><path fill="#94fda8" stroke="#94fda8" d="M1625 571l-8 9-7-4 7-9z"/><path fill="#8cfead" stroke="#8cfead" d="M1564 586l-9-6 8 2 8 6z"/><path fill="#96fca7" stroke="#96fca7" d="M1703 576l-8 0-8-7 8 0z"/><path fill="#8efeac" stroke="#8efeac" d="M1617 580l-8 9-7-4 8-9z"/><path fill="#a2f9a0" stroke="#a2f9a0" d="M1679 563l-7 2-8-6 8-3zM1648 559l-8 8-7-5 8-8z"/><path fill="#7dffb6" stroke="#7dffb6" d="M1741 609l-7-2-8-8 8 2z"/><path fill="#9bfba5" stroke="#9bfba5" d="M1540 579l-8-17 7 1 9 16z"/><path fill="#5efac6" stroke="#5efac6" d="M1780 642l-7-5-8-6 7 5z"/><path fill="#38e7d7" stroke="#38e7d7" d="M1881 689l-8-9 9-8 7 9z"/><path fill="#a6f89d" stroke="#a6f89d" d="M1664 559l-8 6-8-6 8-5z"/><path fill="#b0f397" stroke="#b0f397" d="M1510 565l-10-32 7-2 10 32z"/><path fill="#42edd3" stroke="#42edd3" d="M1827 672l-8-8 8 1 8 8z"/><path fill="#4ef3cd" stroke="#4ef3cd" d="M1803 659l-7-7 8 4 7 6z"/><path fill="#8bfeae" stroke="#8bfeae" d="M1594 592l-8 1-8-3 8-1z"/><path fill="#94fda8" stroke="#94fda8" d="M1710 584l-7 0-8-8 8 0z"/><path fill="#9efaa2" stroke="#9efaa2" d="M1640 567l-7 9-8-5 8-9z"/><path fill="#3ae8d6" stroke="#3ae8d6" d="M1865 686l-7-9 8-6 7 9z"/><path fill="#8bfeae" stroke="#8bfeae" d="M1609 589l-7 6-8-3 8-7z"/><path fill="#78ffb8" stroke="#78ffb8" d="M1749 617l-8-3-7-7 7 2z"/><path fill="#a0faa1" stroke="#a0faa1" d="M1687 569l-8 3-7-7 7-2z"/><path fill="#99fca6" stroke="#99fca6" d="M1633 576l-8 9-8-5 8-9z"/><path fill="#5efac6" stroke="#5efac6" d="M1788 648l-8-5-7-6 7 5z"/><path fill="#90feab" stroke="#90feab" d="M1718 591l-8 0-7-7 7 0z"/><path fill="#a4f89f" stroke="#a4f89f" d="M1656 565l-8 7-8-5 8-8z"/><path fill="#90feab" stroke="#90feab" d="M1625 585l-8 9-8-5 8-9z"/><path fill="#a4f89f" stroke="#a4f89f" d="M1672 565l-8 6-8-6 8-6z"/><path fill="#74feba" stroke="#74feba" d="M1757 624l-8-2-8-8 8 3z"/><path fill="#42edd3" stroke="#42edd3" d="M1850 680l-7-9 8-3 7 9z"/><path fill="#92fda9" stroke="#92fda9" d="M1571 588l-8-6 7 2 8 6z"/><path fill="#9efaa2" stroke="#9efaa2" d="M1695 576l-8 3-8-7 8-3zM1648 572l-8 9-7-5 7-9z"/><path fill="#8cfead" stroke="#8cfead" d="M1726 599l-8 0-8-8 8 0z"/><path fill="#8efeac" stroke="#8efeac" d="M1617 594l-8 6-7-5 7-6zM1602 595l-9 2-7-4 8-1z"/><path fill="#52f5cb" stroke="#52f5cb" d="M1811 662l-7-6 8 1 7 7z"/><path fill="#99fca6" stroke="#99fca6" d="M1640 581l-7 9-8-5 8-9z"/><path fill="#a2f9a0" stroke="#a2f9a0" d="M1548 579l-9-16 7 1 9 16z"/><path fill="#72febb" stroke="#72febb" d="M1765 631l-8-3-8-6 8 2z"/><path fill="#a4f89f" stroke="#a4f89f" d="M1679 572l-8 5-7-6 8-6zM1664 571l-8 7-8-6 8-7z"/><path fill="#60fac5" stroke="#60fac5" d="M1788 648l-8-5 8 4 8 5z"/><path fill="#9cfba4" stroke="#9cfba4" d="M1703 584l-8 2-8-7 8-3z"/><path fill="#88ffaf" stroke="#88ffaf" d="M1734 607l-8 0-8-8 8 0z"/><path fill="#92fda9" stroke="#92fda9" d="M1633 590l-8 9-8-5 8-9z"/><path fill="#4ef3cd" stroke="#4ef3cd" d="M1835 673l-8-8 8-2 8 8z"/><path fill="#bced8f" stroke="#bced8f" d="M1517 563l-10-32 8-1 9 33z"/><path fill="#a0faa1" stroke="#a0faa1" d="M1656 578l-8 9-8-6 8-9z"/><path fill="#a2f9a0" stroke="#a2f9a0" d="M1687 579l-8 5-8-7 8-5z"/><path fill="#99fca6" stroke="#99fca6" d="M1578 590l-8-6 8 3 8 6zM1710 591l-8 3-7-8 8-2z"/><path fill="#70febc" stroke="#70febc" d="M1773 637l-8-3-8-6 8 3z"/><path fill="#a2f9a0" stroke="#a2f9a0" d="M1671 577l-7 7-8-6 8-7z"/><path fill="#84ffb2" stroke="#84ffb2" d="M1741 614l-7 0-8-7 8 0z"/><path fill="#99fca6" stroke="#99fca6" d="M1648 587l-8 9-7-6 7-9z"/><path fill="#90feab" stroke="#90feab" d="M1625 599l-8 6-8-5 8-6zM1609 600l-8 1-8-4 9-2z"/><path fill="#92fda9" stroke="#92fda9" d="M1640 596l-8 8-7-5 8-9z"/><path fill="#9efaa2" stroke="#9efaa2" d="M1664 584l-8 9-8-6 8-9z"/><path fill="#94fda8" stroke="#94fda8" d="M1718 599l-8 2-8-7 8-3z"/><path fill="#64fbc3" stroke="#64fbc3" d="M1796 652l-8-5 8 3 8 6z"/><path fill="#9efaa2" stroke="#9efaa2" d="M1695 586l-8 5-8-7 8-5z"/><path fill="#82ffb3" stroke="#82ffb3" d="M1749 622l-8-1-7-7 7 0z"/><path fill="#a0faa1" stroke="#a0faa1" d="M1679 584l-8 7-7-7 7-7z"/><path fill="#5df9c7" stroke="#5df9c7" d="M1819 664l-7-7 8 1 7 7z"/><path fill="#acf59a" stroke="#acf59a" d="M1555 580l-9-16 8 1 9 17z"/><path fill="#70febc" stroke="#70febc" d="M1780 643l-7-3-8-6 8 3z"/><path fill="#99fca6" stroke="#99fca6" d="M1656 593l-8 9-8-6 8-9z"/><path fill="#52f5cb" stroke="#52f5cb" d="M1873 680l-7-9 8-9 8 10z"/><path fill="#90feab" stroke="#90feab" d="M1632 604l-8 6-7-5 8-6z"/><path fill="#92fda9" stroke="#92fda9" d="M1726 607l-8 2-8-8 8-2z"/><path fill="#9cfba4" stroke="#9cfba4" d="M1702 594l-7 4-8-7 8-5z"/><path fill="#56f7ca" stroke="#56f7ca" d="M1858 677l-7-9 8-6 7 9z"/><path fill="#9cfba4" stroke="#9cfba4" d="M1586 593l-8-6 7 4 8 6z"/><path fill="#92fda9" stroke="#92fda9" d="M1648 602l-8 8-8-6 8-8z"/><path fill="#9cfba4" stroke="#9cfba4" d="M1671 591l-8 8-7-6 8-9z"/><path fill="#92fda9" stroke="#92fda9" d="M1617 605l-8 1-8-5 8-1z"/><path fill="#80ffb4" stroke="#80ffb4" d="M1757 628l-8 0-8-7 8 1z"/><path fill="#9efaa2" stroke="#9efaa2" d="M1687 591l-8 7-8-7 8-7z"/><path fill="#c6e789" stroke="#c6e789" d="M1524 563l-9-33 7 0 10 32z"/><path fill="#99fca6" stroke="#99fca6" d="M1663 599l-7 9-8-6 8-9z"/><path fill="#8efeac" stroke="#8efeac" d="M1734 614l-8 2-8-7 8-2z"/><path fill="#99fca6" stroke="#99fca6" d="M1710 601l-8 5-7-8 7-4z"/><path fill="#5efac6" stroke="#5efac6" d="M1843 671l-8-8 8-4 8 9z"/><path fill="#72febb" stroke="#72febb" d="M1788 647l-7-3-8-4 7 3z"/><path fill="#90feab" stroke="#90feab" d="M1640 610l-8 6-8-6 8-6z"/><path fill="#6afdc0" stroke="#6afdc0" d="M1804 656l-8-6 8 2 8 5z"/><path fill="#9bfba5" stroke="#9bfba5" d="M1679 598l-8 8-8-7 8-8z"/><path fill="#9cfba4" stroke="#9cfba4" d="M1695 598l-8 7-8-7 8-7z"/><path fill="#92fda9" stroke="#92fda9" d="M1656 608l-8 8-8-6 8-8z"/><path fill="#7effb5" stroke="#7effb5" d="M1765 634l-8 0-8-6 8 0z"/><path fill="#94fda8" stroke="#94fda8" d="M1624 610l-8 1-7-5 8-1z"/><path fill="#b2f396" stroke="#b2f396" d="M1563 582l-9-17 7 2 9 17z"/><path fill="#8cfead" stroke="#8cfead" d="M1741 621l-7 2-8-7 8-2z"/><path fill="#96fca7" stroke="#96fca7" d="M1671 606l-8 9-7-7 7-9zM1718 609l-8 4-8-7 8-5z"/><path fill="#a0faa1" stroke="#a0faa1" d="M1593 597l-8-6 8 4 8 6z"/><path fill="#99fca6" stroke="#99fca6" d="M1687 605l-8 8-8-7 8-8zM1702 606l-7 6-8-7 8-7z"/><path fill="#68fcc1" stroke="#68fcc1" d="M1827 665l-7-7 8-2 7 7z"/><path fill="#90feab" stroke="#90feab" d="M1648 616l-8 6-8-6 8-6zM1663 615l-8 8-7-7 8-8z"/><path fill="#7effb5" stroke="#7effb5" d="M1773 640l-8-1-8-5 8 0z"/><path fill="#92fda9" stroke="#92fda9" d="M1726 616l-8 4-8-7 8-4z"/><path fill="#8bfeae" stroke="#8bfeae" d="M1749 628l-8 1-7-6 7-2z"/><path fill="#94fda8" stroke="#94fda8" d="M1679 613l-8 9-8-7 8-9z"/><path fill="#76ffb9" stroke="#76ffb9" d="M1788 647l-7-3 7 3 8 3z"/><path fill="#94fda8" stroke="#94fda8" d="M1632 616l-8 1-8-6 8-1z"/><path fill="#96fca7" stroke="#96fca7" d="M1695 612l-8 8-8-7 8-8zM1710 613l-8 6-7-7 7-6z"/><path fill="#d2de81" stroke="#d2de81" d="M1532 562l-10-32 7 0 10 33z"/><path fill="#8efeac" stroke="#8efeac" d="M1655 623l-7 5-8-6 8-6zM1671 622l-8 8-8-7 8-8z"/><path fill="#a2f9a0" stroke="#a2f9a0" d="M1601 601l-8-6 7 4 9 7z"/><path fill="#72febb" stroke="#72febb" d="M1812 657l-8-5 8 0 8 6z"/><path fill="#90feab" stroke="#90feab" d="M1734 623l-8 4-8-7 8-4z"/><path fill="#b9ef92" stroke="#b9ef92" d="M1570 584l-9-17 8 3 9 17z"/><path fill="#90feab" stroke="#90feab" d="M1687 620l-8 9-8-7 8-9z"/><path fill="#88ffaf" stroke="#88ffaf" d="M1757 634l-8 1-8-6 8-1z"/><path fill="#94fda8" stroke="#94fda8" d="M1702 619l-8 8-7-7 8-8zM1718 620l-8 6-8-7 8-6zM1640 622l-8 1-8-6 8-1z"/><path fill="#80ffb4" stroke="#80ffb4" d="M1781 644l-8-1-8-4 8 1z"/><path fill="#8cfead" stroke="#8cfead" d="M1679 629l-8 7-8-6 8-8zM1663 630l-8 5-7-7 7-5z"/><path fill="#6efebe" stroke="#6efebe" d="M1866 671l-7-9 8-9 7 9z"/><path fill="#8efeac" stroke="#8efeac" d="M1741 629l-7 4-8-6 8-4zM1694 627l-7 9-8-7 8-9z"/><path fill="#72febb" stroke="#72febb" d="M1851 668l-8-9 8-6 8 9z"/><path fill="#a4f89f" stroke="#a4f89f" d="M1609 606l-9-7 8 5 8 7z"/><path fill="#7dffb6" stroke="#7dffb6" d="M1796 650l-8-3 8 1 8 4z"/><path fill="#90feab" stroke="#90feab" d="M1710 626l-8 8-8-7 8-8zM1726 627l-8 6-8-7 8-6z"/><path fill="#88ffaf" stroke="#88ffaf" d="M1765 639l-8 1-8-5 8-1z"/><path fill="#94fda8" stroke="#94fda8" d="M1648 628l-8 1-8-6 8-1z"/><path fill="#8bfeae" stroke="#8bfeae" d="M1687 636l-8 7-8-7 8-7zM1671 636l-8 6-8-7 8-5z"/><path fill="#bced8f" stroke="#bced8f" d="M1578 587l-9-17 7 3 9 18z"/><path fill="#78ffb8" stroke="#78ffb8" d="M1835 663l-7-7 8-4 7 7z"/><path fill="#dbd87b" stroke="#dbd87b" d="M1539 563l-10-33 8 1 9 33z"/><path fill="#8cfead" stroke="#8cfead" d="M1702 634l-8 8-7-6 7-9z"/><path fill="#8efeac" stroke="#8efeac" d="M1749 635l-8 4-7-6 7-4z"/><path fill="#84ffb2" stroke="#84ffb2" d="M1788 647l-7-1-8-3 8 1z"/><path fill="#8efeac" stroke="#8efeac" d="M1718 633l-8 8-8-7 8-8z"/><path fill="#90feab" stroke="#90feab" d="M1734 633l-8 6-8-6 8-6z"/><path fill="#a4f89f" stroke="#a4f89f" d="M1616 611l-8-7 8 6 8 7z"/><path fill="#92fda9" stroke="#92fda9" d="M1655 635l-8 0-7-6 8-1z"/><path fill="#7effb5" stroke="#7effb5" d="M1820 658l-8-6 8-2 8 6z"/><path fill="#88ffaf" stroke="#88ffaf" d="M1694 642l-7 8-8-7 8-7z"/><path fill="#8bfeae" stroke="#8bfeae" d="M1679 643l-8 5-8-6 8-6zM1710 641l-8 8-8-7 8-8zM1773 643l-8 1-8-4 8-1z"/><path fill="#8efeac" stroke="#8efeac" d="M1726 639l-8 8-8-6 8-8zM1757 640l-8 4-8-5 8-4z"/><path fill="#c0eb8d" stroke="#c0eb8d" d="M1585 591l-9-18 8 4 9 18z"/><path fill="#90feab" stroke="#90feab" d="M1741 639l-7 6-8-6 8-6z"/><path fill="#86ffb0" stroke="#86ffb0" d="M1804 652l-8-4 8 0 8 4z"/><path fill="#90feab" stroke="#90feab" d="M1663 642l-8 0-8-7 8 0z"/><path fill="#a4f89f" stroke="#a4f89f" d="M1624 617l-8-7 8 6 8 7z"/><path fill="#88ffaf" stroke="#88ffaf" d="M1702 649l-8 7-7-6 7-8zM1687 650l-8 5-8-7 8-5z"/><path fill="#e2d176" stroke="#e2d176" d="M1546 564l-9-33 7 1 10 33z"/><path fill="#8bfeae" stroke="#8bfeae" d="M1718 647l-8 8-8-6 8-8z"/><path fill="#8cfead" stroke="#8cfead" d="M1788 647l-7-1 8 1 7 1z"/><path fill="#8efeac" stroke="#8efeac" d="M1734 645l-8 7-8-5 8-8zM1671 648l-8 0-8-6 8 0z"/><path fill="#90feab" stroke="#90feab" d="M1781 646l-8 1-8-3 8-1z"/><path fill="#a4f89f" stroke="#a4f89f" d="M1632 623l-8-7 7 6 9 7z"/><path fill="#90feab" stroke="#90feab" d="M1749 644l-8 5-7-4 7-6z"/><path fill="#86ffb0" stroke="#86ffb0" d="M1694 656l-8 5-7-6 8-5zM1710 655l-8 7-8-6 8-7z"/><path fill="#92fda9" stroke="#92fda9" d="M1765 644l-8 3-8-3 8-4z"/><path fill="#c4e88a" stroke="#c4e88a" d="M1593 595l-9-18 8 4 8 18z"/><path fill="#8bfeae" stroke="#8bfeae" d="M1726 652l-8 8-8-5 8-8zM1859 662l-8-9 9-9 7 9z"/><path fill="#8cfead" stroke="#8cfead" d="M1843 659l-7-7 8-7 7 8z"/><path fill="#8efeac" stroke="#8efeac" d="M1679 655l-8 0-8-7 8 0zM1828 656l-8-6 8-4 8 6z"/><path fill="#a2f9a0" stroke="#a2f9a0" d="M1640 629l-9-7 8 6 8 7z"/><path fill="#8efeac" stroke="#8efeac" d="M1741 649l-7 8-8-5 8-7z"/><path fill="#86ffb0" stroke="#86ffb0" d="M1702 662l-8 4-8-5 8-5z"/><path fill="#88ffaf" stroke="#88ffaf" d="M1718 660l-8 7-8-5 8-7z"/><path fill="#ebca70" stroke="#ebca70" d="M1554 565l-10-33 8 2 9 33z"/><path fill="#92fda9" stroke="#92fda9" d="M1812 652l-8-4 8-2 8 4z"/><path fill="#94fda8" stroke="#94fda8" d="M1757 647l-8 6-8-4 8-5z"/><path fill="#c4e88a" stroke="#c4e88a" d="M1600 599l-8-18 7 5 9 18z"/><path fill="#94fda8" stroke="#94fda8" d="M1796 648l-7-1 8 0 7 1z"/><path fill="#96fca7" stroke="#96fca7" d="M1773 647l-8 3-8-3 8-3z"/><path fill="#8cfead" stroke="#8cfead" d="M1734 657l-8 7-8-4 8-8z"/><path fill="#96fca7" stroke="#96fca7" d="M1789 647l-8 1-8-1 8-1z"/><path fill="#8cfead" stroke="#8cfead" d="M1686 661l-8 0-7-6 8 0z"/><path fill="#a2f9a0" stroke="#a2f9a0" d="M1647 635l-8-7 8 6 8 8z"/><path fill="#88ffaf" stroke="#88ffaf" d="M1710 667l-8 4-8-5 8-4z"/><path fill="#92fda9" stroke="#92fda9" d="M1749 653l-8 7-7-3 7-8z"/><path fill="#88ffaf" stroke="#88ffaf" d="M1726 664l-8 7-8-4 8-7z"/><path fill="#c6e789" stroke="#c6e789" d="M1608 604l-9-18 8 6 9 18z"/><path fill="#a0faa1" stroke="#a0faa1" d="M1655 642l-8-8 8 7 8 7z"/><path fill="#8cfead" stroke="#8cfead" d="M1694 666l-8 0-8-5 8 0z"/><path fill="#f0c46c" stroke="#f0c46c" d="M1561 567l-9-33 7 2 10 34z"/><path fill="#99fca6" stroke="#99fca6" d="M1765 650l-8 5-8-2 8-6z"/><path fill="#90feab" stroke="#90feab" d="M1741 660l-7 8-8-4 8-7z"/><path fill="#9cfba4" stroke="#9cfba4" d="M1781 648l-8 3-8-1 8-3z"/><path fill="#8bfeae" stroke="#8bfeae" d="M1718 671l-8 4-8-4 8-4z"/><path fill="#c6e789" stroke="#c6e789" d="M1616 610l-9-18 8 5 9 19z"/><path fill="#a0faa1" stroke="#a0faa1" d="M1663 648l-8-7 7 6 9 8zM1789 647l-8 1 8-1 8 0z"/><path fill="#8cfead" stroke="#8cfead" d="M1734 668l-8 6-8-3 8-7z"/><path fill="#99fca6" stroke="#99fca6" d="M1757 655l-8 7-8-2 8-7z"/><path fill="#8efeac" stroke="#8efeac" d="M1702 671l-8 0-8-5 8 0z"/><path fill="#a2f9a0" stroke="#a2f9a0" d="M1804 648l-7-1 8-3 7 2zM1820 650l-8-4 9-4 7 4zM1836 652l-8-6 8-7 8 6z"/><path fill="#a4f89f" stroke="#a4f89f" d="M1851 653l-7-8 8-9 8 8z"/><path fill="#f6be68" stroke="#f6be68" d="M1569 570l-10-34 8 3 9 34z"/><path fill="#c6e789" stroke="#c6e789" d="M1624 616l-9-19 8 6 8 19z"/><path fill="#94fda8" stroke="#94fda8" d="M1749 662l-8 8-7-2 7-8z"/><path fill="#9efaa2" stroke="#9efaa2" d="M1671 655l-9-8 8 6 8 8z"/><path fill="#a0faa1" stroke="#a0faa1" d="M1773 651l-8 5-8-1 8-5z"/><path fill="#8efeac" stroke="#8efeac" d="M1726 674l-8 4-8-3 8-4z"/><path fill="#90feab" stroke="#90feab" d="M1710 675l-8 0-8-4 8 0z"/><path fill="#92fda9" stroke="#92fda9" d="M1741 670l-7 6-8-2 8-6z"/><path fill="#a6f89d" stroke="#a6f89d" d="M1789 647l-8 4-8 0 8-3z"/><path fill="#c4e88a" stroke="#c4e88a" d="M1631 622l-8-19 7 6 9 19z"/><path fill="#9efaa2" stroke="#9efaa2" d="M1678 661l-8-8 8 5 8 8zM1765 656l-8 7-8-1 8-7z"/><path fill="#fbb965" stroke="#fbb965" d="M1576 573l-9-34 8 4 9 34z"/><path fill="#aef498" stroke="#aef498" d="M1797 647l-8 0 8-2 8-1z"/><path fill="#c4e88a" stroke="#c4e88a" d="M1639 628l-9-19 8 7 9 18z"/><path fill="#9cfba4" stroke="#9cfba4" d="M1757 663l-8 7-8 0 8-8z"/><path fill="#94fda8" stroke="#94fda8" d="M1734 676l-8 4-8-2 8-4zM1718 678l-8 0-8-3 8 0z"/><path fill="#b2f396" stroke="#b2f396" d="M1812 646l-7-2 8-4 8 2z"/><path fill="#abf69b" stroke="#abf69b" d="M1781 651l-8 5-8 0 8-5z"/><path fill="#a0faa1" stroke="#a0faa1" d="M1686 666l-8-8 8 5 8 8z"/><path fill="#b9ef92" stroke="#b9ef92" d="M1828 646l-7-4 8-7 7 4z"/><path fill="#fcb763" stroke="#fcb763" d="M1584 577l-9-34 7 4 10 34z"/><path fill="#9bfba5" stroke="#9bfba5" d="M1749 670l-8 7-7-1 7-6z"/><path fill="#c2ea8c" stroke="#c2ea8c" d="M1647 634l-9-18 8 6 9 19z"/><path fill="#bced8f" stroke="#bced8f" d="M1844 645l-8-6 9-9 7 6z"/><path fill="#abf69b" stroke="#abf69b" d="M1773 656l-8 6-8 1 8-7z"/><path fill="#b4f295" stroke="#b4f295" d="M1797 645l-8 3-8 3 8-4z"/><path fill="#a2f9a0" stroke="#a2f9a0" d="M1694 671l-8-8 8 4 8 8z"/><path fill="#c2ea8c" stroke="#c2ea8c" d="M1655 641l-9-19 8 6 8 19z"/><path fill="#9bfba5" stroke="#9bfba5" d="M1726 680l-8 0-8-2 8 0z"/><path fill="#feb562" stroke="#feb562" d="M1592 581l-10-34 8 5 9 34z"/><path fill="#9cfba4" stroke="#9cfba4" d="M1741 677l-7 4-8-1 8-4z"/><path fill="#a8f79c" stroke="#a8f79c" d="M1765 662l-8 7-8 1 8-7z"/><path fill="#beec8e" stroke="#beec8e" d="M1805 644l-8 1 8-5 8 0z"/><path fill="#b9ef92" stroke="#b9ef92" d="M1789 648l-8 5-8 3 8-5z"/><path fill="#c2ea8c" stroke="#c2ea8c" d="M1662 647l-8-19 8 6 8 19z"/><path fill="#a6f89d" stroke="#a6f89d" d="M1757 669l-8 7-8 1 8-7z"/><path fill="#ffb360" stroke="#ffb360" d="M1599 586l-9-34 8 5 9 35z"/><path fill="#a8f79c" stroke="#a8f79c" d="M1702 675l-8-8 8 2 8 9z"/><path fill="#c8e688" stroke="#c8e688" d="M1821 642l-8-2 8-7 8 2z"/><path fill="#a4f89f" stroke="#a4f89f" d="M1726 680l-8 0 8 0 8 1z"/><path fill="#b9ef92" stroke="#b9ef92" d="M1781 653l-8 6-8 3 8-6z"/><path fill="#c2ea8c" stroke="#c2ea8c" d="M1670 653l-8-19 8 5 8 19z"/><path fill="#ffb360" stroke="#ffb360" d="M1607 592l-9-35 8 6 9 34z"/><path fill="#a8f79c" stroke="#a8f79c" d="M1749 676l-8 3-7 2 7-4z"/><path fill="#c6e789" stroke="#c6e789" d="M1797 645l-8 3 8-5 8-3z"/><path fill="#d0e082" stroke="#d0e082" d="M1836 639l-7-4 8-10 8 5z"/><path fill="#b6f193" stroke="#b6f193" d="M1773 659l-8 7-8 3 8-7z"/><path fill="#aef498" stroke="#aef498" d="M1710 678l-8-9 8 2 8 9z"/><path fill="#c4e88a" stroke="#c4e88a" d="M1678 658l-8-19 8 4 8 20z"/><path fill="#ffb360" stroke="#ffb360" d="M1615 597l-9-34 8 6 9 34z"/><path fill="#b4f295" stroke="#b4f295" d="M1765 666l-8 7-8 3 8-7z"/><path fill="#cbe486" stroke="#cbe486" d="M1789 648l-8 5 8-5 8-5z"/><path fill="#d4dd80" stroke="#d4dd80" d="M1813 640l-8 0 8-7 8 0z"/><path fill="#b0f397" stroke="#b0f397" d="M1734 681l-8-1 7-2 8 1z"/><path fill="#ffb360" stroke="#ffb360" d="M1623 603l-9-34 7 6 9 34z"/><path fill="#c8e688" stroke="#c8e688" d="M1686 663l-8-20 8 4 8 20z"/><path fill="#cbe486" stroke="#cbe486" d="M1789 648l-8 6-8 5 8-6z"/><path fill="#b6f193" stroke="#b6f193" d="M1749 676l-8 3 8-3 8-3z"/><path fill="#b9ef92" stroke="#b9ef92" d="M1718 680l-8-9 7 0 9 9z"/><path fill="#e2d176" stroke="#e2d176" d="M1829 635l-8-2 8-10 8 2z"/><path fill="#feb562" stroke="#feb562" d="M1630 609l-9-34 8 6 9 35z"/><path fill="#dcd67a" stroke="#dcd67a" d="M1805 640l-8 3 8-7 8-3z"/><path fill="#c8e688" stroke="#c8e688" d="M1781 654l-8 7-8 5 8-7z"/><path fill="#cce385" stroke="#cce385" d="M1694 667l-8-20 7 3 9 19z"/><path fill="#feb562" stroke="#feb562" d="M1638 616l-9-35 8 6 9 35z"/><path fill="#c6e789" stroke="#c6e789" d="M1773 661l-8 6-8 6 8-7z"/><path fill="#beec8e" stroke="#beec8e" d="M1741 679l-8-1 8-3 8 1z"/><path fill="#ded579" stroke="#ded579" d="M1797 643l-8 5 9-7 7-5z"/><path fill="#feb562" stroke="#feb562" d="M1646 622l-9-35 8 6 9 35z"/><path fill="#c4e88a" stroke="#c4e88a" d="M1726 680l-9-9 8-2 8 9z"/><path fill="#eec66d" stroke="#eec66d" d="M1821 633l-8 0 9-10 7 0z"/><path fill="#c8e688" stroke="#c8e688" d="M1757 673l-8 3 8-5 8-4z"/><path fill="#d2de81" stroke="#d2de81" d="M1702 669l-9-19 8 1 9 20z"/><path fill="#e0d377" stroke="#e0d377" d="M1789 648l-8 6 9-7 8-6z"/><path fill="#feb562" stroke="#feb562" d="M1654 628l-9-35 8 5 9 36z"/><path fill="#ded579" stroke="#ded579" d="M1790 647l-8 7-9 7 8-7z"/><path fill="#feb562" stroke="#feb562" d="M1662 634l-9-36 8 5 9 36z"/><path fill="#f6be68" stroke="#f6be68" d="M1813 633l-8 3 9-10 8-3z"/><path fill="#d2de81" stroke="#d2de81" d="M1749 676l-8-1 8-6 8 2z"/><path fill="#dcd67a" stroke="#dcd67a" d="M1710 671l-9-20 8 0 8 20z"/><path fill="#d2de81" stroke="#d2de81" d="M1733 678l-8-9 8-3 8 9z"/><path fill="#ded579" stroke="#ded579" d="M1773 661l-8 6 9-8 8-5z"/><path fill="#ffb360" stroke="#ffb360" d="M1670 639l-9-36 8 5 9 35z"/><path fill="#fbb965" stroke="#fbb965" d="M1805 636l-7 5 8-11 8-4z"/><path fill="#e0d377" stroke="#e0d377" d="M1765 667l-8 4 9-8 8-4z"/><path fill="#ffae5e" stroke="#ffae5e" d="M1678 643l-9-35 8 3 9 36z"/><path fill="#fbb965" stroke="#fbb965" d="M1798 641l-8 6 8-11 8-6z"/><path fill="#e8cb72" stroke="#e8cb72" d="M1717 671l-8-20 8-2 8 20z"/><path fill="#fbb965" stroke="#fbb965" d="M1790 647l-8 7 8-11 8-7z"/><path fill="#e6cd73" stroke="#e6cd73" d="M1741 675l-8-9 8-6 8 9z"/><path fill="#e8cb72" stroke="#e8cb72" d="M1757 671l-8-2 9-8 8 2z"/><path fill="#ffa95b" stroke="#ffa95b" d="M1686 647l-9-36 8 3 8 36z"/><path fill="#f9bb66" stroke="#f9bb66" d="M1782 654l-8 5 8-10 8-6zM1725 669l-8-20 8-4 8 21z"/><path fill="#fcb763" stroke="#fcb763" d="M1774 659l-8 4 8-11 8-3z"/><path fill="#ffa055" stroke="#ffa055" d="M1693 650l-8-36 8 1 8 36z"/><path fill="#feb562" stroke="#feb562" d="M1749 669l-8-9 9-8 8 9z"/><path fill="#ffae5e" stroke="#ffae5e" d="M1766 663l-8-2 8-11 8 2z"/><path fill="#ff934d" stroke="#ff934d" d="M1701 651l-8-36 8 0 8 36z"/><path fill="#ffa558" stroke="#ffa558" d="M1733 666l-8-21 8-6 8 21z"/><path fill="#ff8444" stroke="#ff8444" d="M1709 651l-8-36 8-3 8 37z"/><path fill="#ff934d" stroke="#ff934d" d="M1758 661l-8-9 8-12 8 10z"/><path fill="#ff8646" stroke="#ff8646" d="M1741 660l-8-21 8-9 9 22z"/><path fill="#ff6d38" stroke="#ff6d38" d="M1717 649l-8-37 8-4 8 37z"/><path fill="#ff5f30" stroke="#ff5f30" d="M1750 652l-9-22 9-11 8 21z"/><path fill="#ff5029" stroke="#ff5029" d="M1725 645l-8-37 8-6 8 37z"/><path fill="#ff2c16" stroke="#ff2c16" d="M1733 639l-8-37 8-9 8 37z"/><path fill="#ff0000" stroke="#ff0000" d="M1741 630l-8-37 8-12 9 38z"/></g><path fill="none" stroke="#1f77b4" stroke-width="3.55" d="M1741 53l-7 49-7 32-8 21-7 12-7 8-8 5-7 4-7 5-8 6-7 9-8 10-7 13-7 16-7 17-8 18-7 20-7 20-7 20-7 20-7 18-7 18-7 15-7 13-8 11-7 9-7 6-8 4-7 2-8 1-8-1-8-2-8-3-8-2-8-2-8-1-7 1-8 2-8 5-8 7-7 9-8 12-7 12-7 14-8 12-7 10-8 5-8-2-9-13-11-29M1771 128l-8 48-7 31-7 19-8 12-7 7-7 5-7 3-8 5-7 5-8 8-7 10-7 12-7 15-8 16-7 18-7 19-7 19-7 20-7 19-8 17-7 17-7 14-7 13-7 10-7 8-8 6-7 4-8 1-7 0-8-1-8-3-8-2-8-3-8-3-8-1-7 0-8 2-8 4-8 7-7 9-8 10-7 12-7 13-8 12-7 9-8 5-8-3-9-14-10-28M1801 170l-8 47-8 30-7 19-7 11-8 7-7 4-7 3-8 4-7 5-7 7-8 9-7 12-7 14-8 16-7 17-7 18-7 19-7 19-8 18-7 17-7 16-7 14-7 12-8 9-7 8-7 5-8 3-7 2-8-1-8-2-7-3-8-3-8-4-8-2-8-2-8-1-7 2-8 3-8 6-7 9-8 10-7 11-8 12-7 11-8 9-8 4-8-3-9-14-10-29M1830 195l-8 46-7 30-8 18-7 11-7 6-7 3-8 3-7 3-7 4-8 7-7 8-8 12-7 13-7 15-8 17-7 18-7 18-7 18-8 18-7 17-7 15-7 13-8 12-7 9-7 7-8 5-7 2-8 1-7-1-8-3-8-3-8-4-8-4-7-3-8-3-8-1-8 1-8 3-8 6-7 7-8 10-7 11-8 11-7 11-8 8-8 4-8-4-9-15-10-30M1861 214l-9 45-7 29-8 18-7 10-7 6-8 3-7 2-7 2-8 4-7 6-7 8-8 11-7 13-8 15-7 16-8 17-7 18-7 18-8 17-7 16-7 15-8 13-7 11-7 8-8 7-7 4-8 2-7 0-8-1-7-4-8-4-8-4-8-5-8-4-8-3-8-2-7 1-8 2-8 5-8 7-7 9-8 11-8 11-7 10-8 8-8 3-8-5-9-15-10-31M1891 236l-8 44-8 29-8 17-7 10-8 5-7 2-7 1-7 2-8 4-7 5-7 8-8 10-7 12-8 14-7 16-8 17-7 17-8 17-7 17-8 16-7 14-7 12-8 11-7 8-8 6-7 4-7 1-8 0-8-3-7-3-8-5-8-5-8-5-8-5-7-4-8-2-8 0-8 2-8 4-8 7-8 8-7 10-8 11-8 10-7 7-8 2-9-5-9-16-9-33M1921 265l-8 44-8 28-8 17-7 9-8 4-7 2-7 1-7 1-7 3-8 5-7 7-8 9-7 12-8 14-7 15-8 16-7 17-8 17-7 16-8 15-7 14-8 12-7 9-8 8-7 6-7 3-8 1-7-1-8-3-8-4-7-6-8-6-8-5-8-6-8-4-8-3-7-1-8 2-8 4-8 6-8 8-8 9-7 10-8 9-8 7-8 2-8-6-9-17-10-33M1951 304l-8 43-8 28-8 16-7 8-8 4-7 1-7 1-7 0-7 3-8 4-7 7-7 8-8 12-8 13-7 14-8 16-7 16-8 16-7 16-8 14-7 13-8 12-7 9-8 7-7 5-8 3-7 0-8-1-7-4-8-4-7-6-8-7-8-6-7-6-8-5-8-3-8-1-8 0-8 4-8 5-8 8-7 9-8 9-8 9-8 6-8 1-8-6-9-18-9-34M1981 352l-9 42-8 27-8 15-7 8-7 3-7 1-7 0-7 0-7 2-8 3-7 6-7 9-8 10-7 13-8 14-8 15-7 15-8 16-7 15-8 14-7 12-8 11-7 9-8 7-7 4-8 2-7 0-7-2-8-4-7-5-8-7-8-6-7-7-8-7-8-5-7-4-8-2-8 0-8 3-8 5-8 7-8 8-7 9-8 8-8 6-8 1-8-7-9-19-9-34M2011 403l-9 42-9 25-7 15-8 7-7 3-7 0-6 0-7-1-8 2-7 3-7 5-7 8-8 10-7 12-8 13-8 15-7 15-8 14-7 15-8 13-8 12-7 10-7 9-8 6-7 4-8 1-7 0-7-3-8-4-7-6-7-7-8-7-8-8-7-6-8-6-8-5-7-2-8 0-8 2-8 4-8 6-8 8-7 9-8 7-8 5-8 0-8-7-9-19-9-35M2040 451l-9 41-8 25-8 14-7 7-7 2-7-1-7-1-7 0-7 0-7 3-7 5-7 7-8 9-7 12-8 13-8 13-7 15-8 14-7 14-8 12-7 12-8 10-7 7-8 6-7 3-7 1-8-1-7-3-7-5-7-6-8-7-7-8-8-8-7-7-8-7-7-5-8-3-8 0-8 1-8 4-7 6-8 7-8 8-8 7-8 4-8 0-8-8-8-20-9-35M2071 486l-10 39-8 25-8 13-7 6-7 2-7-1-6-2-7-1-7 1-7 2-7 4-8 7-7 9-8 10-7 13-8 13-8 13-7 14-8 13-7 13-8 11-7 9-8 7-7 5-7 3-8 0-7-1-7-4-7-5-7-7-8-8-7-8-7-9-8-8-7-7-8-5-8-4-7-1-8 1-8 3-8 5-8 7-8 7-8 7-7 4-8-1-9-9-8-20-8-36M2103 493l-10 40-8 23-8 14-7 5-7 1-6-1-7-2-7-2-7-1-7 2-7 4-7 6-8 8-7 11-8 11-8 13-7 13-8 14-8 12-7 12-8 11-7 8-8 7-7 4-7 3-8 0-7-3-7-4-7-6-7-7-8-9-7-9-7-9-8-9-7-8-8-6-7-4-8-2-8 0-8 3-7 5-8 6-8 7-8 5-8 4-8-2-8-9-9-22-8-37M2112 489l-10 39-8 24-8 13-7 6-7 1-7-2-7-2-6-2-7-1-7 2-7 3-8 6-7 8-8 11-7 11-8 13-8 13-8 13-7 13-8 12-8 10-7 8-8 7-7 4-7 3-7-1-8-2-7-5-7-6-7-7-7-9-8-10-7-9-7-9-8-8-7-6-8-5-8-2-7 0-8 3-8 4-8 6-8 7-8 6-8 3-8-2-8-10-8-21-9-38M1741 53l8 23 7 20 8 17 7 15 7 13 8 11 7 10 8 8 7 7 7 7 8 6 7 5 8 5 7 5 8 4 8 5 7 5 8 5 7 6 8 6 8 6 7 7 8 8 7 8 8 9 7 10 8 10 7 10 8 12 7 11 8 12 7 13 8 13 7 13 7 13 8 12 7 13 7 12 8 12 7 11 8 11 7 9 8 8 8 7 7 5 8 3 9 1 8-2 9-4M1712 167l8 22 7 19 7 16 7 14 8 12 7 11 7 9 8 7 7 7 7 6 8 5 7 5 7 4 8 4 7 4 8 4 7 5 8 4 7 5 8 6 7 6 8 6 7 7 8 8 7 8 8 9 7 9 8 10 7 11 7 11 8 11 7 12 7 12 8 12 7 12 7 12 8 12 7 12 8 11 7 11 7 9 8 9 7 7 8 6 8 5 8 3 8 0 8-2 9-4M1683 189l7 21 7 18 8 16 7 14 7 11 8 10 7 8 7 8 8 6 7 5 8 4 7 5 7 3 8 4 7 4 8 3 7 4 8 4 7 4 8 5 7 6 8 6 7 6 8 7 7 8 8 8 7 9 8 9 7 10 8 11 7 11 8 11 7 11 8 12 7 12 8 11 7 12 7 11 8 11 7 10 8 9 7 8 8 7 8 5 8 4 8 2 8 0 8-2 9-5M1653 227l8 21 7 17 7 15 8 13 7 11 7 9 8 8 7 7 7 5 8 5 7 4 7 4 8 3 7 3 8 3 7 3 8 3 7 4 8 4 7 4 8 5 7 5 8 6 7 6 8 8 7 7 8 9 8 8 7 10 8 10 7 10 8 11 7 11 8 11 7 11 8 11 7 11 8 11 7 10 8 9 7 9 8 7 8 7 7 5 8 3 8 2 8-1 9-3 8-6M1624 298l8 20 7 17 8 14 7 12 7 10 7 9 8 7 7 6 7 5 8 4 7 4 7 3 7 3 8 2 7 3 7 2 8 3 7 3 8 3 7 4 8 4 7 5 8 5 7 6 8 7 7 7 8 8 7 8 8 9 7 9 8 10 7 10 8 10 7 11 8 10 7 11 8 10 7 10 8 9 7 9 8 8 8 7 7 6 8 5 8 3 8 1 8-2 8-3 9-6M1596 376l7 19 8 16 7 14 7 11 8 10 7 8 7 7 7 5 7 4 8 4 7 3 7 3 7 2 7 2 8 2 7 2 7 2 8 3 7 2 7 4 8 3 7 5 8 4 7 6 8 6 7 6 8 8 7 7 8 8 7 9 8 9 7 10 8 9 7 10 7 10 8 10 7 10 8 9 7 9 8 8 8 8 7 6 8 6 8 4 7 2 8 1 8-2 9-4 8-6M1567 433l8 18 7 15 8 13 7 11 7 9 7 8 7 6 7 4 8 4 7 4 7 2 7 2 7 2 7 1 7 2 8 1 7 2 7 2 8 2 7 3 7 3 8 4 7 4 7 5 8 6 7 6 8 6 7 7 8 8 7 8 8 9 7 9 8 9 7 9 8 9 7 10 8 9 7 9 8 8 7 8 8 7 8 6 7 5 8 3 8 2 8 0 8-2 8-5 8-7M1538 454l7 18 8 14 7 13 7 10 7 9 8 7 7 5 7 5 7 3 7 3 7 2 7 1 7 1 7 1 8 1 7 1 7 1 7 2 8 2 7 2 7 2 8 4 7 3 8 5 7 5 7 5 8 6 7 7 8 7 8 7 7 9 8 8 7 9 8 8 7 9 8 9 7 9 8 8 8 8 7 7 8 6 7 6 8 4 8 3 8 1 8 0 8-3 8-5 8-8M1506 449l8 17 7 15 8 12 7 10 7 8 8 6 7 5 7 4 7 3 7 2 7 1 7 1 7 1 8 0 7 0 7 1 7 0 7 1 8 1 7 2 8 2 7 3 7 3 8 3 7 5 8 5 7 5 8 6 8 7 7 7 8 8 7 8 8 8 8 8 7 8 8 9 8 8 7 8 8 7 8 7 8 6 7 5 8 3 8 3 8 0 8-1 8-3 8-6 8-9M1475 445l7 16 8 14 7 12 8 9 7 8 7 6 7 4 7 3 7 3 8 1 7 1 7 0 7 0 7 0 7 0 7-1 8 0 7 1 7 0 8 1 7 2 7 2 8 2 7 3 8 4 8 4 7 5 8 6 7 6 8 7 8 7 8 7 7 8 8 8 8 7 7 8 8 8 8 7 8 7 8 6 7 6 8 4 8 3 8 2 8 0 8-2 8-4 8-7 9-9M1444 468l8 16 7 14 8 11 7 9 7 7 7 5 7 4 8 3 7 1 7 1 7 0 7 0 7 0 7-1 7-1 7-1 7 0 8-1 7 0 7 1 8 1 7 1 7 2 8 3 8 3 7 4 8 4 7 5 8 6 8 6 7 6 8 7 8 7 8 7 7 8 8 7 8 7 8 7 8 6 7 6 8 5 8 3 8 3 8 1 8 0 8-3 8-5 8-7 9-10M1414 518l8 15 8 13 7 10 7 9 8 6 7 5 7 3 7 2 7 2 7 0 7 0 7-1 7-1 7-1 7-2 7-1 7-1 7-1 7 0 7 0 8 0 7 1 7 1 8 2 7 3 8 3 7 4 8 5 8 5 7 5 8 6 8 6 7 7 8 7 8 6 8 7 8 7 7 6 8 6 8 5 8 4 8 3 8 2 7 1 8-1 8-3 8-6 9-8 8-10M1382 518l8 15 7 12 8 10 7 7 7 6 7 4 7 3 7 2 7 1 7-1 7 0 7-2 7-1 7-2 7-2 7-2 7-2 7-1 7-2 7 0 8-1 7 1 7 1 8 1 7 2 8 3 7 3 8 4 8 4 7 5 8 6 8 5 8 6 7 6 8 7 8 6 8 6 8 6 8 5 8 4 8 4 7 3 8 1 8 0 8-2 8-4 8-6 8-9 9-11M1371 489l8 15 8 12 7 10 8 8 7 5 7 4 7 3 7 2 7 0 7 0 7-1 7-2 7-2 7-2 7-2 7-2 7-2 7-2 7-2 8-1 7 0 7 0 8 1 7 1 8 2 7 2 8 3 8 4 7 4 8 5 8 5 8 6 8 6 7 6 8 6 8 6 8 6 8 5 8 5 8 5 8 3 8 3 8 1 8 0 8-3 8-4 8-6 8-9 8-12"/></svg></body></html>
